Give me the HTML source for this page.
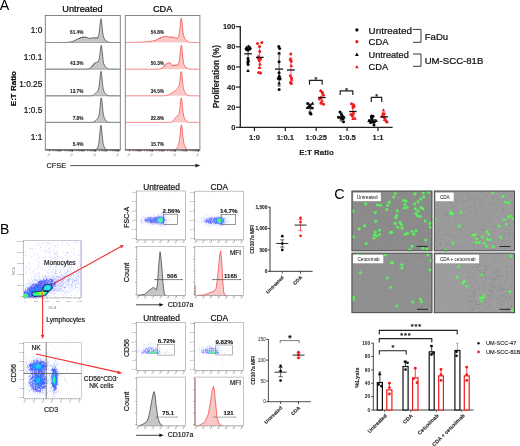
<!DOCTYPE html>
<html><head><meta charset="utf-8"><style>
html,body{margin:0;padding:0;background:#fff;}
svg{display:block;font-family:"Liberation Sans",Arial,sans-serif;}
</style></head><body>
<svg width="520" height="446" viewBox="0 0 520 446">
<rect width="520" height="446" fill="#fff"/>
<text x="-0.2" y="9.5" font-size="14.2">A</text>
<text x="82.5" y="11.6" font-size="9.2" text-anchor="middle" stroke="#000" stroke-width="0.22">Untreated</text>
<text x="162.6" y="11.6" font-size="9.2" text-anchor="middle" stroke="#000" stroke-width="0.22">CDA</text>
<text x="42.3" y="33.05" font-size="8.3" text-anchor="end" fill="#111" stroke="#111" stroke-width="0.20">1:0</text>
<text x="42.3" y="59.95" font-size="8.3" text-anchor="end" fill="#111" stroke="#111" stroke-width="0.20">1:0.1</text>
<text x="42.3" y="86.6" font-size="8.3" text-anchor="end" fill="#111" stroke="#111" stroke-width="0.20">1:0.25</text>
<text x="42.3" y="113.2" font-size="8.3" text-anchor="end" fill="#111" stroke="#111" stroke-width="0.20">1:0.5</text>
<text x="42.3" y="140.25" font-size="8.3" text-anchor="end" fill="#111" stroke="#111" stroke-width="0.20">1:1</text>
<text x="15.6" y="88.6" font-size="8" font-weight="bold" text-anchor="middle" stroke="#000" stroke-width="0.14" transform="rotate(-90 15.6 88.6)">E:T Ratio</text>
<path d="M46 42.5L46 42.5L46.25 42.5L46.5 42.5L46.75 42.5L47 42.5L47.25 42.5L47.5 42.5L47.75 42.5L48 42.5L48.25 42.5L48.5 42.5L48.75 42.5L49 42.5L49.25 42.5L49.5 42.5L49.75 42.5L50 42.5L50.25 42.5L50.5 42.5L50.75 42.5L51 42.5L51.25 42.5L51.5 42.5L51.75 42.5L52 42.5L52.25 42.5L52.5 42.5L52.75 42.5L53 42.5L53.25 42.5L53.5 42.5L53.75 42.5L54 42.5L54.25 42.5L54.5 42.5L54.75 42.5L55 42.5L55.25 42.5L55.5 42.5L55.75 42.5L56 42.5L56.25 42.5L56.5 42.5L56.75 42.5L57 42.5L57.25 42.5L57.5 42.5L57.75 42.5L58 42.5L58.25 42.5L58.5 42.5L58.75 42.5L59 42.5L59.25 42.5L59.5 42.5L59.75 42.49L60 42.49L60.25 42.49L60.5 42.49L60.75 42.49L61 42.49L61.25 42.49L61.5 42.49L61.75 42.48L62 42.48L62.25 42.48L62.5 42.48L62.75 42.47L63 42.47L63.25 42.47L63.5 42.46L63.75 42.46L64 42.45L64.25 42.45L64.5 42.44L64.75 42.43L65 42.42L65.25 42.42L65.5 42.41L65.75 42.4L66 42.38L66.25 42.37L66.5 42.36L66.75 42.34L67 42.32L67.25 42.3L67.5 42.28L67.75 42.26L68 42.24L68.25 42.21L68.5 42.19L68.75 42.16L69 42.12L69.25 42.09L69.5 42.05L69.75 42.01L70 41.97L70.25 41.92L70.5 41.88L70.75 41.82L71 41.77L71.25 41.71L71.5 41.55L71.75 41.51L72 41.54L72.25 41.53L72.5 41.37L72.75 41.33L73 41.09L73.25 41.21L73.5 41.05L73.75 40.9L74 40.62L74.25 40.74L74.5 40.78L74.75 40.37L75 40.35L75.25 40.5L75.5 39.89L75.75 39.7L76 39.71L76.25 39.49L76.5 39.9L76.75 39.38L77 39.08L77.25 39.17L77.5 39.25L77.75 39.5L78 39.04L78.25 38.74L78.5 38.31L78.75 38.14L79 38.51L79.25 38L79.5 38.49L79.75 37.83L80 37.98L80.25 38.41L80.5 37.61L80.75 37.84L81 37.32L81.25 37.39L81.5 37.98L81.75 37.42L82 36.98L82.25 37.55L82.5 37.42L82.75 36.83L83 37.47L83.25 37.07L83.5 37.38L83.75 36.64L84 36.8L84.25 37.16L84.5 37.53L84.75 37.31L85 37.15L85.25 36.76L85.5 37.63L85.75 37.23L86 37.13L86.25 37.35L86.5 37.15L86.75 37.5L87 37.15L87.25 37.59L87.5 37.68L87.75 37.9L88 37.83L88.25 38.12L88.5 38.01L88.75 38.36L89 38.53L89.25 38.59L89.5 38.21L89.75 38.2L90 38.4L90.25 38.8L90.5 38.13L90.75 38L91 37.93L91.25 37.97L91.5 37.86L91.75 37.78L92 38.1L92.25 38.19L92.5 37.81L92.75 38.18L93 37.59L93.25 37.51L93.5 37.44L93.75 37.73L94 37.37L94.25 37.76L94.5 37.92L94.75 37.76L95 37.48L95.25 37.62L95.5 37.8L95.75 38.56L96 38.06L96.25 38.2L96.5 38.03L96.75 37.75L97 38.24L97.25 37.59L97.5 37.97L97.75 37.56L98 36.59L98.25 36.52L98.5 35.33L98.75 35.11L99 33.82L99.25 31.67L99.5 30.33L99.75 27.49L100 24.67L100.25 22.63L100.5 20.45L100.75 19.74L101 18.68L101.25 19.25L101.5 20.72L101.75 23.03L102 25.56L102.25 27.53L102.5 30.88L102.75 32.99L103 33.76L103.25 35.89L103.5 37L103.75 37.72L104 37.78L104.25 38.16L104.5 39.5L104.75 39.47L105 40.07L105.25 40.18L105.5 40.43L105.75 40.34L106 40.74L106.25 41.02L106.5 41.03L106.75 41.41L107 41.54L107.25 41.41L107.5 41.72L107.75 41.87L108 42L108.25 42.11L108.5 42.2L108.75 42.28L109 42.34L109.25 42.39L109.5 42.42L109.75 42.45L110 42.47L110.25 42.48L110.5 42.49L110.75 42.49L111 42.49L111.25 42.5L111.5 42.5L111.75 42.5L112 42.5L112.25 42.5L112.5 42.5L112.75 42.5L113 42.5L113.25 42.5L113.5 42.5L113.75 42.5L114 42.5L114.25 42.5L114.5 42.5L114.75 42.5L115 42.5L115.25 42.5L115.5 42.5L115.75 42.5L116 42.5L116.25 42.5L116.5 42.5L116.75 42.5L117 42.5L117.25 42.5L117.5 42.5L117.75 42.5L118 42.5L118.25 42.5L118.5 42.5L118.75 42.5L119 42.5L119.25 42.5L119.5 42.5L119.5 42.5Z" fill="#c6c6c6"/>
<path d="M46 42.5L46.25 42.5L46.5 42.5L46.75 42.5L47 42.5L47.25 42.5L47.5 42.5L47.75 42.5L48 42.5L48.25 42.5L48.5 42.5L48.75 42.5L49 42.5L49.25 42.5L49.5 42.5L49.75 42.5L50 42.5L50.25 42.5L50.5 42.5L50.75 42.5L51 42.5L51.25 42.5L51.5 42.5L51.75 42.5L52 42.5L52.25 42.5L52.5 42.5L52.75 42.5L53 42.5L53.25 42.5L53.5 42.5L53.75 42.5L54 42.5L54.25 42.5L54.5 42.5L54.75 42.5L55 42.5L55.25 42.5L55.5 42.5L55.75 42.5L56 42.5L56.25 42.5L56.5 42.5L56.75 42.5L57 42.5L57.25 42.5L57.5 42.5L57.75 42.5L58 42.5L58.25 42.5L58.5 42.5L58.75 42.5L59 42.5L59.25 42.5L59.5 42.5L59.75 42.49L60 42.49L60.25 42.49L60.5 42.49L60.75 42.49L61 42.49L61.25 42.49L61.5 42.49L61.75 42.48L62 42.48L62.25 42.48L62.5 42.48L62.75 42.47L63 42.47L63.25 42.47L63.5 42.46L63.75 42.46L64 42.45L64.25 42.45L64.5 42.44L64.75 42.43L65 42.42L65.25 42.42L65.5 42.41L65.75 42.4L66 42.38L66.25 42.37L66.5 42.36L66.75 42.34L67 42.32L67.25 42.3L67.5 42.28L67.75 42.26L68 42.24L68.25 42.21L68.5 42.19L68.75 42.16L69 42.12L69.25 42.09L69.5 42.05L69.75 42.01L70 41.97L70.25 41.92L70.5 41.88L70.75 41.82L71 41.77L71.25 41.71L71.5 41.55L71.75 41.51L72 41.54L72.25 41.53L72.5 41.37L72.75 41.33L73 41.09L73.25 41.21L73.5 41.05L73.75 40.9L74 40.62L74.25 40.74L74.5 40.78L74.75 40.37L75 40.35L75.25 40.5L75.5 39.89L75.75 39.7L76 39.71L76.25 39.49L76.5 39.9L76.75 39.38L77 39.08L77.25 39.17L77.5 39.25L77.75 39.5L78 39.04L78.25 38.74L78.5 38.31L78.75 38.14L79 38.51L79.25 38L79.5 38.49L79.75 37.83L80 37.98L80.25 38.41L80.5 37.61L80.75 37.84L81 37.32L81.25 37.39L81.5 37.98L81.75 37.42L82 36.98L82.25 37.55L82.5 37.42L82.75 36.83L83 37.47L83.25 37.07L83.5 37.38L83.75 36.64L84 36.8L84.25 37.16L84.5 37.53L84.75 37.31L85 37.15L85.25 36.76L85.5 37.63L85.75 37.23L86 37.13L86.25 37.35L86.5 37.15L86.75 37.5L87 37.15L87.25 37.59L87.5 37.68L87.75 37.9L88 37.83L88.25 38.12L88.5 38.01L88.75 38.36L89 38.53L89.25 38.59L89.5 38.21L89.75 38.2L90 38.4L90.25 38.8L90.5 38.13L90.75 38L91 37.93L91.25 37.97L91.5 37.86L91.75 37.78L92 38.1L92.25 38.19L92.5 37.81L92.75 38.18L93 37.59L93.25 37.51L93.5 37.44L93.75 37.73L94 37.37L94.25 37.76L94.5 37.92L94.75 37.76L95 37.48L95.25 37.62L95.5 37.8L95.75 38.56L96 38.06L96.25 38.2L96.5 38.03L96.75 37.75L97 38.24L97.25 37.59L97.5 37.97L97.75 37.56L98 36.59L98.25 36.52L98.5 35.33L98.75 35.11L99 33.82L99.25 31.67L99.5 30.33L99.75 27.49L100 24.67L100.25 22.63L100.5 20.45L100.75 19.74L101 18.68L101.25 19.25L101.5 20.72L101.75 23.03L102 25.56L102.25 27.53L102.5 30.88L102.75 32.99L103 33.76L103.25 35.89L103.5 37L103.75 37.72L104 37.78L104.25 38.16L104.5 39.5L104.75 39.47L105 40.07L105.25 40.18L105.5 40.43L105.75 40.34L106 40.74L106.25 41.02L106.5 41.03L106.75 41.41L107 41.54L107.25 41.41L107.5 41.72L107.75 41.87L108 42L108.25 42.11L108.5 42.2L108.75 42.28L109 42.34L109.25 42.39L109.5 42.42L109.75 42.45L110 42.47L110.25 42.48L110.5 42.49L110.75 42.49L111 42.49L111.25 42.5L111.5 42.5L111.75 42.5L112 42.5L112.25 42.5L112.5 42.5L112.75 42.5L113 42.5L113.25 42.5L113.5 42.5L113.75 42.5L114 42.5L114.25 42.5L114.5 42.5L114.75 42.5L115 42.5L115.25 42.5L115.5 42.5L115.75 42.5L116 42.5L116.25 42.5L116.5 42.5L116.75 42.5L117 42.5L117.25 42.5L117.5 42.5L117.75 42.5L118 42.5L118.25 42.5L118.5 42.5L118.75 42.5L119 42.5L119.25 42.5L119.5 42.5" fill="none" stroke="#222" stroke-width="0.6"/>
<path d="M125.8 42.5L125.8 42.5L126.05 42.49L126.3 42.49L126.55 42.49L126.8 42.49L127.05 42.49L127.3 42.49L127.55 42.49L127.8 42.49L128.05 42.49L128.3 42.49L128.55 42.49L128.8 42.49L129.05 42.48L129.3 42.48L129.55 42.48L129.8 42.48L130.05 42.48L130.3 42.47L130.55 42.47L130.8 42.47L131.05 42.47L131.3 42.46L131.55 42.46L131.8 42.46L132.05 42.46L132.3 42.45L132.55 42.45L132.8 42.44L133.05 42.44L133.3 42.43L133.55 42.43L133.8 42.42L134.05 42.42L134.3 42.41L134.55 42.41L134.8 42.4L135.05 42.39L135.3 42.39L135.55 42.38L135.8 42.37L136.05 42.36L136.3 42.35L136.55 42.35L136.8 42.34L137.05 42.33L137.3 42.32L137.55 42.3L137.8 42.29L138.05 42.28L138.3 42.27L138.55 42.26L138.8 42.24L139.05 42.23L139.3 42.22L139.55 42.2L139.8 42.19L140.05 42.17L140.3 42.16L140.55 42.14L140.8 42.12L141.05 42.11L141.3 42.09L141.55 42.07L141.8 42.06L142.05 42.04L142.3 42.02L142.55 42L142.8 41.98L143.05 41.96L143.3 41.94L143.55 41.92L143.8 41.91L144.05 41.89L144.3 41.87L144.55 41.85L144.8 41.83L145.05 41.81L145.3 41.79L145.55 41.77L145.8 41.75L146.05 41.73L146.3 41.71L146.55 41.67L146.8 41.69L147.05 41.62L147.3 41.71L147.55 41.51L147.8 41.49L148.05 41.52L148.3 41.65L148.55 41.52L148.8 41.56L149.05 41.56L149.3 41.3L149.55 41.26L149.8 41.58L150.05 41.25L150.3 41.32L150.55 41.38L150.8 41.39L151.05 41.2L151.3 41.26L151.55 41.13L151.8 41.1L152.05 41.3L152.3 40.97L152.55 40.82L152.8 40.78L153.05 40.9L153.3 41.15L153.55 41.13L153.8 41L154.05 40.47L154.3 40.79L154.55 40.68L154.8 40.26L155.05 40.57L155.3 40.32L155.55 40.32L155.8 40.51L156.05 40.01L156.3 39.68L156.55 40.17L156.8 40.01L157.05 39.72L157.3 39.98L157.55 39.4L157.8 38.95L158.05 38.98L158.3 38.97L158.55 38.51L158.8 39.08L159.05 38.52L159.3 38.58L159.55 38.21L159.8 38.56L160.05 37.75L160.3 38.29L160.55 38.09L160.8 37.31L161.05 37.04L161.3 37.43L161.55 37.33L161.8 37.38L162.05 37.25L162.3 36.8L162.55 37.15L162.8 37.12L163.05 36.71L163.3 36.93L163.55 36.39L163.8 36.17L164.05 36.17L164.3 36.44L164.55 36.55L164.8 36.46L165.05 36.89L165.3 36.19L165.55 36.59L165.8 36.63L166.05 36.9L166.3 36.58L166.55 36.49L166.8 36.73L167.05 36.3L167.3 36.55L167.55 37.04L167.8 36.81L168.05 36.48L168.3 36.92L168.55 36.88L168.8 37.46L169.05 37.06L169.3 37.11L169.55 37.19L169.8 37.18L170.05 37.02L170.3 37.06L170.55 37.1L170.8 37.41L171.05 37.11L171.3 36.57L171.55 37.1L171.8 37.46L172.05 37.49L172.3 36.95L172.55 37.44L172.8 37.42L173.05 37.43L173.3 37.13L173.55 36.66L173.8 37.24L174.05 37.36L174.3 37.48L174.55 37.53L174.8 37.71L175.05 37.55L175.3 37.5L175.55 37.81L175.8 38.19L176.05 38.04L176.3 37.83L176.55 38.6L176.8 38.49L177.05 38.03L177.3 37.83L177.55 37.69L177.8 37.48L178.05 36.91L178.3 36.82L178.55 35.93L178.8 35.04L179.05 34.58L179.3 32.87L179.55 31.36L179.8 29.15L180.05 27.62L180.3 24.2L180.55 21.87L180.8 19.58L181.05 18.16L181.3 18.38L181.55 18.52L181.8 20.5L182.05 22.19L182.3 24.4L182.55 27.73L182.8 29.99L183.05 32.36L183.3 33.96L183.55 35.3L183.8 36.47L184.05 36.39L184.3 37.16L184.55 38.13L184.8 38.32L185.05 38.77L185.3 39.31L185.55 39.72L185.8 39.8L186.05 40.16L186.3 40.6L186.55 40.74L186.8 40.79L187.05 40.99L187.3 41.34L187.55 41.34L187.8 41.41L188.05 41.56L188.3 41.79L188.55 41.9L188.8 42L189.05 42.09L189.3 42.17L189.55 42.24L189.8 42.29L190.05 42.34L190.3 42.38L190.55 42.41L190.8 42.43L191.05 42.45L191.3 42.46L191.55 42.47L191.8 42.48L192.05 42.49L192.3 42.49L192.55 42.49L192.8 42.5L193.05 42.5L193.3 42.5L193.55 42.5L193.8 42.5L194.05 42.5L194.3 42.5L194.55 42.5L194.8 42.5L195.05 42.5L195.3 42.5L195.55 42.5L195.8 42.5L196.05 42.5L196.3 42.5L196.55 42.5L196.8 42.5L197.05 42.5L197.3 42.5L197.55 42.5L197.8 42.5L198.05 42.5L198.3 42.5L198.55 42.5L198.8 42.5L199.05 42.5L199.3 42.5L199.3 42.5Z" fill="#fbc8c8"/>
<path d="M125.8 42.5L126.05 42.49L126.3 42.49L126.55 42.49L126.8 42.49L127.05 42.49L127.3 42.49L127.55 42.49L127.8 42.49L128.05 42.49L128.3 42.49L128.55 42.49L128.8 42.49L129.05 42.48L129.3 42.48L129.55 42.48L129.8 42.48L130.05 42.48L130.3 42.47L130.55 42.47L130.8 42.47L131.05 42.47L131.3 42.46L131.55 42.46L131.8 42.46L132.05 42.46L132.3 42.45L132.55 42.45L132.8 42.44L133.05 42.44L133.3 42.43L133.55 42.43L133.8 42.42L134.05 42.42L134.3 42.41L134.55 42.41L134.8 42.4L135.05 42.39L135.3 42.39L135.55 42.38L135.8 42.37L136.05 42.36L136.3 42.35L136.55 42.35L136.8 42.34L137.05 42.33L137.3 42.32L137.55 42.3L137.8 42.29L138.05 42.28L138.3 42.27L138.55 42.26L138.8 42.24L139.05 42.23L139.3 42.22L139.55 42.2L139.8 42.19L140.05 42.17L140.3 42.16L140.55 42.14L140.8 42.12L141.05 42.11L141.3 42.09L141.55 42.07L141.8 42.06L142.05 42.04L142.3 42.02L142.55 42L142.8 41.98L143.05 41.96L143.3 41.94L143.55 41.92L143.8 41.91L144.05 41.89L144.3 41.87L144.55 41.85L144.8 41.83L145.05 41.81L145.3 41.79L145.55 41.77L145.8 41.75L146.05 41.73L146.3 41.71L146.55 41.67L146.8 41.69L147.05 41.62L147.3 41.71L147.55 41.51L147.8 41.49L148.05 41.52L148.3 41.65L148.55 41.52L148.8 41.56L149.05 41.56L149.3 41.3L149.55 41.26L149.8 41.58L150.05 41.25L150.3 41.32L150.55 41.38L150.8 41.39L151.05 41.2L151.3 41.26L151.55 41.13L151.8 41.1L152.05 41.3L152.3 40.97L152.55 40.82L152.8 40.78L153.05 40.9L153.3 41.15L153.55 41.13L153.8 41L154.05 40.47L154.3 40.79L154.55 40.68L154.8 40.26L155.05 40.57L155.3 40.32L155.55 40.32L155.8 40.51L156.05 40.01L156.3 39.68L156.55 40.17L156.8 40.01L157.05 39.72L157.3 39.98L157.55 39.4L157.8 38.95L158.05 38.98L158.3 38.97L158.55 38.51L158.8 39.08L159.05 38.52L159.3 38.58L159.55 38.21L159.8 38.56L160.05 37.75L160.3 38.29L160.55 38.09L160.8 37.31L161.05 37.04L161.3 37.43L161.55 37.33L161.8 37.38L162.05 37.25L162.3 36.8L162.55 37.15L162.8 37.12L163.05 36.71L163.3 36.93L163.55 36.39L163.8 36.17L164.05 36.17L164.3 36.44L164.55 36.55L164.8 36.46L165.05 36.89L165.3 36.19L165.55 36.59L165.8 36.63L166.05 36.9L166.3 36.58L166.55 36.49L166.8 36.73L167.05 36.3L167.3 36.55L167.55 37.04L167.8 36.81L168.05 36.48L168.3 36.92L168.55 36.88L168.8 37.46L169.05 37.06L169.3 37.11L169.55 37.19L169.8 37.18L170.05 37.02L170.3 37.06L170.55 37.1L170.8 37.41L171.05 37.11L171.3 36.57L171.55 37.1L171.8 37.46L172.05 37.49L172.3 36.95L172.55 37.44L172.8 37.42L173.05 37.43L173.3 37.13L173.55 36.66L173.8 37.24L174.05 37.36L174.3 37.48L174.55 37.53L174.8 37.71L175.05 37.55L175.3 37.5L175.55 37.81L175.8 38.19L176.05 38.04L176.3 37.83L176.55 38.6L176.8 38.49L177.05 38.03L177.3 37.83L177.55 37.69L177.8 37.48L178.05 36.91L178.3 36.82L178.55 35.93L178.8 35.04L179.05 34.58L179.3 32.87L179.55 31.36L179.8 29.15L180.05 27.62L180.3 24.2L180.55 21.87L180.8 19.58L181.05 18.16L181.3 18.38L181.55 18.52L181.8 20.5L182.05 22.19L182.3 24.4L182.55 27.73L182.8 29.99L183.05 32.36L183.3 33.96L183.55 35.3L183.8 36.47L184.05 36.39L184.3 37.16L184.55 38.13L184.8 38.32L185.05 38.77L185.3 39.31L185.55 39.72L185.8 39.8L186.05 40.16L186.3 40.6L186.55 40.74L186.8 40.79L187.05 40.99L187.3 41.34L187.55 41.34L187.8 41.41L188.05 41.56L188.3 41.79L188.55 41.9L188.8 42L189.05 42.09L189.3 42.17L189.55 42.24L189.8 42.29L190.05 42.34L190.3 42.38L190.55 42.41L190.8 42.43L191.05 42.45L191.3 42.46L191.55 42.47L191.8 42.48L192.05 42.49L192.3 42.49L192.55 42.49L192.8 42.5L193.05 42.5L193.3 42.5L193.55 42.5L193.8 42.5L194.05 42.5L194.3 42.5L194.55 42.5L194.8 42.5L195.05 42.5L195.3 42.5L195.55 42.5L195.8 42.5L196.05 42.5L196.3 42.5L196.55 42.5L196.8 42.5L197.05 42.5L197.3 42.5L197.55 42.5L197.8 42.5L198.05 42.5L198.3 42.5L198.55 42.5L198.8 42.5L199.05 42.5L199.3 42.5" fill="none" stroke="#f43c3c" stroke-width="0.7"/>
<text x="83.4" y="34.4" font-size="4.7" font-weight="bold" text-anchor="end" fill="#1a1a1a" stroke="#1a1a1a" stroke-width="0.08">61.4%</text>
<text x="164" y="34.4" font-size="4.7" font-weight="bold" text-anchor="end" fill="#1a1a1a" stroke="#1a1a1a" stroke-width="0.08">54.8%</text>
<path d="M46 69.2L46 69.2L46.25 69.2L46.5 69.2L46.75 69.2L47 69.2L47.25 69.2L47.5 69.2L47.75 69.2L48 69.2L48.25 69.2L48.5 69.2L48.75 69.2L49 69.2L49.25 69.2L49.5 69.2L49.75 69.2L50 69.2L50.25 69.2L50.5 69.2L50.75 69.2L51 69.2L51.25 69.2L51.5 69.2L51.75 69.2L52 69.2L52.25 69.2L52.5 69.2L52.75 69.2L53 69.2L53.25 69.2L53.5 69.2L53.75 69.2L54 69.2L54.25 69.2L54.5 69.2L54.75 69.2L55 69.2L55.25 69.2L55.5 69.2L55.75 69.2L56 69.2L56.25 69.2L56.5 69.2L56.75 69.2L57 69.2L57.25 69.2L57.5 69.2L57.75 69.2L58 69.2L58.25 69.2L58.5 69.2L58.75 69.2L59 69.2L59.25 69.2L59.5 69.2L59.75 69.2L60 69.2L60.25 69.2L60.5 69.2L60.75 69.2L61 69.2L61.25 69.2L61.5 69.2L61.75 69.2L62 69.2L62.25 69.2L62.5 69.2L62.75 69.2L63 69.2L63.25 69.2L63.5 69.2L63.75 69.2L64 69.2L64.25 69.2L64.5 69.2L64.75 69.2L65 69.2L65.25 69.2L65.5 69.2L65.75 69.2L66 69.2L66.25 69.2L66.5 69.2L66.75 69.2L67 69.2L67.25 69.2L67.5 69.2L67.75 69.2L68 69.2L68.25 69.2L68.5 69.2L68.75 69.2L69 69.2L69.25 69.2L69.5 69.2L69.75 69.2L70 69.2L70.25 69.2L70.5 69.2L70.75 69.2L71 69.2L71.25 69.2L71.5 69.2L71.75 69.2L72 69.2L72.25 69.2L72.5 69.2L72.75 69.2L73 69.2L73.25 69.2L73.5 69.2L73.75 69.2L74 69.2L74.25 69.2L74.5 69.2L74.75 69.2L75 69.2L75.25 69.2L75.5 69.2L75.75 69.2L76 69.2L76.25 69.2L76.5 69.2L76.75 69.2L77 69.2L77.25 69.2L77.5 69.2L77.75 69.2L78 69.2L78.25 69.2L78.5 69.2L78.75 69.2L79 69.2L79.25 69.2L79.5 69.2L79.75 69.2L80 69.2L80.25 69.2L80.5 69.2L80.75 69.2L81 69.2L81.25 69.2L81.5 69.2L81.75 69.2L82 69.2L82.25 69.2L82.5 69.2L82.75 69.2L83 69.2L83.25 69.2L83.5 69.2L83.75 69.2L84 69.19L84.25 69.19L84.5 69.19L84.75 69.19L85 69.18L85.25 69.18L85.5 69.17L85.75 69.16L86 69.15L86.25 69.14L86.5 69.12L86.75 69.1L87 69.08L87.25 69.05L87.5 69.01L87.75 68.97L88 68.92L88.25 68.86L88.5 68.8L88.75 68.72L89 68.62L89.25 68.52L89.5 68.5L89.75 68.16L90 68.02L90.25 68.05L90.5 67.76L90.75 67.59L91 67.25L91.25 66.9L91.5 67.17L91.75 67L92 65.99L92.25 66.09L92.5 65.47L92.75 65.93L93 65.19L93.25 64.61L93.5 64.81L93.75 63.81L94 63.58L94.25 64.2L94.5 63.96L94.75 63.23L95 62.63L95.25 63L95.5 63.01L95.75 62.66L96 62.93L96.25 62.62L96.5 62.29L96.75 62.12L97 62.27L97.25 62.14L97.5 62L97.75 61.59L98 61.54L98.25 61.53L98.5 60.34L98.75 60.11L99 59.31L99.25 58.79L99.5 56.68L99.75 55.14L100 53.88L100.25 51.46L100.5 48.89L100.75 47.01L101 45.49L101.25 45.55L101.5 45.63L101.75 47.17L102 49.62L102.25 51.84L102.5 54.16L102.75 56.67L103 59.17L103.25 60.88L103.5 62.85L103.75 63.74L104 64.03L104.25 65.08L104.5 65.84L104.75 65.89L105 66.1L105.25 66.45L105.5 66.96L105.75 67.15L106 67.32L106.25 67.38L106.5 67.72L106.75 67.96L107 68.1L107.25 68.42L107.5 68.43L107.75 68.58L108 68.7L108.25 68.82L108.5 68.91L108.75 68.99L109 69.05L109.25 69.09L109.5 69.13L109.75 69.15L110 69.17L110.25 69.18L110.5 69.19L110.75 69.19L111 69.2L111.25 69.2L111.5 69.2L111.75 69.2L112 69.2L112.25 69.2L112.5 69.2L112.75 69.2L113 69.2L113.25 69.2L113.5 69.2L113.75 69.2L114 69.2L114.25 69.2L114.5 69.2L114.75 69.2L115 69.2L115.25 69.2L115.5 69.2L115.75 69.2L116 69.2L116.25 69.2L116.5 69.2L116.75 69.2L117 69.2L117.25 69.2L117.5 69.2L117.75 69.2L118 69.2L118.25 69.2L118.5 69.2L118.75 69.2L119 69.2L119.25 69.2L119.5 69.2L119.5 69.2Z" fill="#c6c6c6"/>
<path d="M46 69.2L46.25 69.2L46.5 69.2L46.75 69.2L47 69.2L47.25 69.2L47.5 69.2L47.75 69.2L48 69.2L48.25 69.2L48.5 69.2L48.75 69.2L49 69.2L49.25 69.2L49.5 69.2L49.75 69.2L50 69.2L50.25 69.2L50.5 69.2L50.75 69.2L51 69.2L51.25 69.2L51.5 69.2L51.75 69.2L52 69.2L52.25 69.2L52.5 69.2L52.75 69.2L53 69.2L53.25 69.2L53.5 69.2L53.75 69.2L54 69.2L54.25 69.2L54.5 69.2L54.75 69.2L55 69.2L55.25 69.2L55.5 69.2L55.75 69.2L56 69.2L56.25 69.2L56.5 69.2L56.75 69.2L57 69.2L57.25 69.2L57.5 69.2L57.75 69.2L58 69.2L58.25 69.2L58.5 69.2L58.75 69.2L59 69.2L59.25 69.2L59.5 69.2L59.75 69.2L60 69.2L60.25 69.2L60.5 69.2L60.75 69.2L61 69.2L61.25 69.2L61.5 69.2L61.75 69.2L62 69.2L62.25 69.2L62.5 69.2L62.75 69.2L63 69.2L63.25 69.2L63.5 69.2L63.75 69.2L64 69.2L64.25 69.2L64.5 69.2L64.75 69.2L65 69.2L65.25 69.2L65.5 69.2L65.75 69.2L66 69.2L66.25 69.2L66.5 69.2L66.75 69.2L67 69.2L67.25 69.2L67.5 69.2L67.75 69.2L68 69.2L68.25 69.2L68.5 69.2L68.75 69.2L69 69.2L69.25 69.2L69.5 69.2L69.75 69.2L70 69.2L70.25 69.2L70.5 69.2L70.75 69.2L71 69.2L71.25 69.2L71.5 69.2L71.75 69.2L72 69.2L72.25 69.2L72.5 69.2L72.75 69.2L73 69.2L73.25 69.2L73.5 69.2L73.75 69.2L74 69.2L74.25 69.2L74.5 69.2L74.75 69.2L75 69.2L75.25 69.2L75.5 69.2L75.75 69.2L76 69.2L76.25 69.2L76.5 69.2L76.75 69.2L77 69.2L77.25 69.2L77.5 69.2L77.75 69.2L78 69.2L78.25 69.2L78.5 69.2L78.75 69.2L79 69.2L79.25 69.2L79.5 69.2L79.75 69.2L80 69.2L80.25 69.2L80.5 69.2L80.75 69.2L81 69.2L81.25 69.2L81.5 69.2L81.75 69.2L82 69.2L82.25 69.2L82.5 69.2L82.75 69.2L83 69.2L83.25 69.2L83.5 69.2L83.75 69.2L84 69.19L84.25 69.19L84.5 69.19L84.75 69.19L85 69.18L85.25 69.18L85.5 69.17L85.75 69.16L86 69.15L86.25 69.14L86.5 69.12L86.75 69.1L87 69.08L87.25 69.05L87.5 69.01L87.75 68.97L88 68.92L88.25 68.86L88.5 68.8L88.75 68.72L89 68.62L89.25 68.52L89.5 68.5L89.75 68.16L90 68.02L90.25 68.05L90.5 67.76L90.75 67.59L91 67.25L91.25 66.9L91.5 67.17L91.75 67L92 65.99L92.25 66.09L92.5 65.47L92.75 65.93L93 65.19L93.25 64.61L93.5 64.81L93.75 63.81L94 63.58L94.25 64.2L94.5 63.96L94.75 63.23L95 62.63L95.25 63L95.5 63.01L95.75 62.66L96 62.93L96.25 62.62L96.5 62.29L96.75 62.12L97 62.27L97.25 62.14L97.5 62L97.75 61.59L98 61.54L98.25 61.53L98.5 60.34L98.75 60.11L99 59.31L99.25 58.79L99.5 56.68L99.75 55.14L100 53.88L100.25 51.46L100.5 48.89L100.75 47.01L101 45.49L101.25 45.55L101.5 45.63L101.75 47.17L102 49.62L102.25 51.84L102.5 54.16L102.75 56.67L103 59.17L103.25 60.88L103.5 62.85L103.75 63.74L104 64.03L104.25 65.08L104.5 65.84L104.75 65.89L105 66.1L105.25 66.45L105.5 66.96L105.75 67.15L106 67.32L106.25 67.38L106.5 67.72L106.75 67.96L107 68.1L107.25 68.42L107.5 68.43L107.75 68.58L108 68.7L108.25 68.82L108.5 68.91L108.75 68.99L109 69.05L109.25 69.09L109.5 69.13L109.75 69.15L110 69.17L110.25 69.18L110.5 69.19L110.75 69.19L111 69.2L111.25 69.2L111.5 69.2L111.75 69.2L112 69.2L112.25 69.2L112.5 69.2L112.75 69.2L113 69.2L113.25 69.2L113.5 69.2L113.75 69.2L114 69.2L114.25 69.2L114.5 69.2L114.75 69.2L115 69.2L115.25 69.2L115.5 69.2L115.75 69.2L116 69.2L116.25 69.2L116.5 69.2L116.75 69.2L117 69.2L117.25 69.2L117.5 69.2L117.75 69.2L118 69.2L118.25 69.2L118.5 69.2L118.75 69.2L119 69.2L119.25 69.2L119.5 69.2" fill="none" stroke="#222" stroke-width="0.6"/>
<path d="M125.8 69.2L125.8 69.2L126.05 69.2L126.3 69.2L126.55 69.2L126.8 69.2L127.05 69.2L127.3 69.2L127.55 69.2L127.8 69.2L128.05 69.2L128.3 69.2L128.55 69.2L128.8 69.2L129.05 69.2L129.3 69.2L129.55 69.2L129.8 69.2L130.05 69.2L130.3 69.2L130.55 69.2L130.8 69.2L131.05 69.2L131.3 69.2L131.55 69.2L131.8 69.2L132.05 69.2L132.3 69.2L132.55 69.2L132.8 69.2L133.05 69.2L133.3 69.2L133.55 69.2L133.8 69.2L134.05 69.2L134.3 69.2L134.55 69.2L134.8 69.2L135.05 69.2L135.3 69.2L135.55 69.2L135.8 69.2L136.05 69.2L136.3 69.2L136.55 69.2L136.8 69.2L137.05 69.2L137.3 69.2L137.55 69.2L137.8 69.2L138.05 69.2L138.3 69.2L138.55 69.2L138.8 69.2L139.05 69.2L139.3 69.2L139.55 69.2L139.8 69.2L140.05 69.2L140.3 69.2L140.55 69.2L140.8 69.2L141.05 69.2L141.3 69.2L141.55 69.2L141.8 69.2L142.05 69.2L142.3 69.2L142.55 69.2L142.8 69.2L143.05 69.2L143.3 69.2L143.55 69.2L143.8 69.2L144.05 69.2L144.3 69.2L144.55 69.2L144.8 69.2L145.05 69.2L145.3 69.2L145.55 69.2L145.8 69.2L146.05 69.2L146.3 69.2L146.55 69.2L146.8 69.2L147.05 69.2L147.3 69.2L147.55 69.2L147.8 69.2L148.05 69.2L148.3 69.2L148.55 69.2L148.8 69.2L149.05 69.2L149.3 69.2L149.55 69.2L149.8 69.2L150.05 69.2L150.3 69.2L150.55 69.2L150.8 69.2L151.05 69.2L151.3 69.2L151.55 69.2L151.8 69.2L152.05 69.2L152.3 69.2L152.55 69.2L152.8 69.2L153.05 69.2L153.3 69.2L153.55 69.2L153.8 69.2L154.05 69.2L154.3 69.2L154.55 69.2L154.8 69.2L155.05 69.2L155.3 69.19L155.55 69.19L155.8 69.19L156.05 69.19L156.3 69.19L156.55 69.18L156.8 69.18L157.05 69.17L157.3 69.16L157.55 69.15L157.8 69.14L158.05 69.12L158.3 69.11L158.55 69.09L158.8 69.06L159.05 69.03L159.3 68.99L159.55 68.95L159.8 68.9L160.05 68.85L160.3 68.78L160.55 68.71L160.8 68.62L161.05 68.53L161.3 68.42L161.55 68.31L161.8 68.14L162.05 67.84L162.3 67.86L162.55 67.66L162.8 67.42L163.05 67.47L163.3 67.04L163.55 66.71L163.8 66.3L164.05 66.7L164.3 66.23L164.55 66.17L164.8 65.17L165.05 65.01L165.3 65.38L165.55 64.16L165.8 63.91L166.05 63.96L166.3 63.75L166.55 63.98L166.8 63.91L167.05 63.21L167.3 63.51L167.55 63.24L167.8 63.09L168.05 63.22L168.3 62.74L168.55 62.76L168.8 62.38L169.05 62.75L169.3 62.72L169.55 62.97L169.8 62.95L170.05 63.31L170.3 63.68L170.55 63.15L170.8 63.36L171.05 63.73L171.3 64.08L171.55 64.69L171.8 64.97L172.05 65.1L172.3 65.48L172.55 64.93L172.8 65.4L173.05 65.04L173.3 65.56L173.55 65.01L173.8 65.12L174.05 65.95L174.3 65.7L174.55 64.95L174.8 65.33L175.05 64.76L175.3 65.29L175.55 65.57L175.8 64.98L176.05 64.8L176.3 65.29L176.55 65.45L176.8 65.17L177.05 64.49L177.3 64.62L177.55 65.15L177.8 64.86L178.05 64.77L178.3 64.48L178.55 63.27L178.8 63.23L179.05 61.92L179.3 60.77L179.55 59.37L179.8 56.75L180.05 54.91L180.3 51.75L180.55 49.7L180.8 47.22L181.05 45.96L181.3 45.4L181.55 45.24L181.8 46.92L182.05 49.65L182.3 51.69L182.55 55.07L182.8 57.4L183.05 59.1L183.3 61.07L183.55 62.99L183.8 63.15L184.05 64.73L184.3 65.31L184.55 65.3L184.8 66.17L185.05 66.54L185.3 67.02L185.55 67.24L185.8 67.11L186.05 67.54L186.3 67.52L186.55 67.82L186.8 67.94L187.05 67.91L187.3 68.23L187.55 68.34L187.8 68.49L188.05 68.6L188.3 68.7L188.55 68.8L188.8 68.88L189.05 68.95L189.3 69L189.55 69.05L189.8 69.09L190.05 69.12L190.3 69.14L190.55 69.16L190.8 69.17L191.05 69.18L191.3 69.19L191.55 69.19L191.8 69.19L192.05 69.2L192.3 69.2L192.55 69.2L192.8 69.2L193.05 69.2L193.3 69.2L193.55 69.2L193.8 69.2L194.05 69.2L194.3 69.2L194.55 69.2L194.8 69.2L195.05 69.2L195.3 69.2L195.55 69.2L195.8 69.2L196.05 69.2L196.3 69.2L196.55 69.2L196.8 69.2L197.05 69.2L197.3 69.2L197.55 69.2L197.8 69.2L198.05 69.2L198.3 69.2L198.55 69.2L198.8 69.2L199.05 69.2L199.3 69.2L199.3 69.2Z" fill="#fbc8c8"/>
<path d="M125.8 69.2L126.05 69.2L126.3 69.2L126.55 69.2L126.8 69.2L127.05 69.2L127.3 69.2L127.55 69.2L127.8 69.2L128.05 69.2L128.3 69.2L128.55 69.2L128.8 69.2L129.05 69.2L129.3 69.2L129.55 69.2L129.8 69.2L130.05 69.2L130.3 69.2L130.55 69.2L130.8 69.2L131.05 69.2L131.3 69.2L131.55 69.2L131.8 69.2L132.05 69.2L132.3 69.2L132.55 69.2L132.8 69.2L133.05 69.2L133.3 69.2L133.55 69.2L133.8 69.2L134.05 69.2L134.3 69.2L134.55 69.2L134.8 69.2L135.05 69.2L135.3 69.2L135.55 69.2L135.8 69.2L136.05 69.2L136.3 69.2L136.55 69.2L136.8 69.2L137.05 69.2L137.3 69.2L137.55 69.2L137.8 69.2L138.05 69.2L138.3 69.2L138.55 69.2L138.8 69.2L139.05 69.2L139.3 69.2L139.55 69.2L139.8 69.2L140.05 69.2L140.3 69.2L140.55 69.2L140.8 69.2L141.05 69.2L141.3 69.2L141.55 69.2L141.8 69.2L142.05 69.2L142.3 69.2L142.55 69.2L142.8 69.2L143.05 69.2L143.3 69.2L143.55 69.2L143.8 69.2L144.05 69.2L144.3 69.2L144.55 69.2L144.8 69.2L145.05 69.2L145.3 69.2L145.55 69.2L145.8 69.2L146.05 69.2L146.3 69.2L146.55 69.2L146.8 69.2L147.05 69.2L147.3 69.2L147.55 69.2L147.8 69.2L148.05 69.2L148.3 69.2L148.55 69.2L148.8 69.2L149.05 69.2L149.3 69.2L149.55 69.2L149.8 69.2L150.05 69.2L150.3 69.2L150.55 69.2L150.8 69.2L151.05 69.2L151.3 69.2L151.55 69.2L151.8 69.2L152.05 69.2L152.3 69.2L152.55 69.2L152.8 69.2L153.05 69.2L153.3 69.2L153.55 69.2L153.8 69.2L154.05 69.2L154.3 69.2L154.55 69.2L154.8 69.2L155.05 69.2L155.3 69.19L155.55 69.19L155.8 69.19L156.05 69.19L156.3 69.19L156.55 69.18L156.8 69.18L157.05 69.17L157.3 69.16L157.55 69.15L157.8 69.14L158.05 69.12L158.3 69.11L158.55 69.09L158.8 69.06L159.05 69.03L159.3 68.99L159.55 68.95L159.8 68.9L160.05 68.85L160.3 68.78L160.55 68.71L160.8 68.62L161.05 68.53L161.3 68.42L161.55 68.31L161.8 68.14L162.05 67.84L162.3 67.86L162.55 67.66L162.8 67.42L163.05 67.47L163.3 67.04L163.55 66.71L163.8 66.3L164.05 66.7L164.3 66.23L164.55 66.17L164.8 65.17L165.05 65.01L165.3 65.38L165.55 64.16L165.8 63.91L166.05 63.96L166.3 63.75L166.55 63.98L166.8 63.91L167.05 63.21L167.3 63.51L167.55 63.24L167.8 63.09L168.05 63.22L168.3 62.74L168.55 62.76L168.8 62.38L169.05 62.75L169.3 62.72L169.55 62.97L169.8 62.95L170.05 63.31L170.3 63.68L170.55 63.15L170.8 63.36L171.05 63.73L171.3 64.08L171.55 64.69L171.8 64.97L172.05 65.1L172.3 65.48L172.55 64.93L172.8 65.4L173.05 65.04L173.3 65.56L173.55 65.01L173.8 65.12L174.05 65.95L174.3 65.7L174.55 64.95L174.8 65.33L175.05 64.76L175.3 65.29L175.55 65.57L175.8 64.98L176.05 64.8L176.3 65.29L176.55 65.45L176.8 65.17L177.05 64.49L177.3 64.62L177.55 65.15L177.8 64.86L178.05 64.77L178.3 64.48L178.55 63.27L178.8 63.23L179.05 61.92L179.3 60.77L179.55 59.37L179.8 56.75L180.05 54.91L180.3 51.75L180.55 49.7L180.8 47.22L181.05 45.96L181.3 45.4L181.55 45.24L181.8 46.92L182.05 49.65L182.3 51.69L182.55 55.07L182.8 57.4L183.05 59.1L183.3 61.07L183.55 62.99L183.8 63.15L184.05 64.73L184.3 65.31L184.55 65.3L184.8 66.17L185.05 66.54L185.3 67.02L185.55 67.24L185.8 67.11L186.05 67.54L186.3 67.52L186.55 67.82L186.8 67.94L187.05 67.91L187.3 68.23L187.55 68.34L187.8 68.49L188.05 68.6L188.3 68.7L188.55 68.8L188.8 68.88L189.05 68.95L189.3 69L189.55 69.05L189.8 69.09L190.05 69.12L190.3 69.14L190.55 69.16L190.8 69.17L191.05 69.18L191.3 69.19L191.55 69.19L191.8 69.19L192.05 69.2L192.3 69.2L192.55 69.2L192.8 69.2L193.05 69.2L193.3 69.2L193.55 69.2L193.8 69.2L194.05 69.2L194.3 69.2L194.55 69.2L194.8 69.2L195.05 69.2L195.3 69.2L195.55 69.2L195.8 69.2L196.05 69.2L196.3 69.2L196.55 69.2L196.8 69.2L197.05 69.2L197.3 69.2L197.55 69.2L197.8 69.2L198.05 69.2L198.3 69.2L198.55 69.2L198.8 69.2L199.05 69.2L199.3 69.2" fill="none" stroke="#f43c3c" stroke-width="0.7"/>
<text x="83.4" y="65.2" font-size="4.7" font-weight="bold" text-anchor="end" fill="#1a1a1a" stroke="#1a1a1a" stroke-width="0.08">43.3%</text>
<text x="164" y="65.2" font-size="4.7" font-weight="bold" text-anchor="end" fill="#1a1a1a" stroke="#1a1a1a" stroke-width="0.08">50.3%</text>
<path d="M46 95.8L46 95.8L46.25 95.8L46.5 95.8L46.75 95.8L47 95.8L47.25 95.8L47.5 95.8L47.75 95.8L48 95.8L48.25 95.8L48.5 95.8L48.75 95.8L49 95.8L49.25 95.8L49.5 95.8L49.75 95.8L50 95.8L50.25 95.8L50.5 95.8L50.75 95.8L51 95.8L51.25 95.8L51.5 95.8L51.75 95.8L52 95.8L52.25 95.8L52.5 95.8L52.75 95.8L53 95.8L53.25 95.8L53.5 95.8L53.75 95.8L54 95.8L54.25 95.8L54.5 95.8L54.75 95.8L55 95.8L55.25 95.8L55.5 95.8L55.75 95.8L56 95.8L56.25 95.8L56.5 95.8L56.75 95.8L57 95.8L57.25 95.8L57.5 95.8L57.75 95.8L58 95.8L58.25 95.8L58.5 95.8L58.75 95.8L59 95.8L59.25 95.8L59.5 95.8L59.75 95.8L60 95.8L60.25 95.8L60.5 95.8L60.75 95.8L61 95.8L61.25 95.8L61.5 95.8L61.75 95.8L62 95.8L62.25 95.8L62.5 95.8L62.75 95.8L63 95.8L63.25 95.8L63.5 95.8L63.75 95.8L64 95.8L64.25 95.8L64.5 95.8L64.75 95.8L65 95.8L65.25 95.8L65.5 95.8L65.75 95.8L66 95.8L66.25 95.8L66.5 95.8L66.75 95.8L67 95.8L67.25 95.8L67.5 95.8L67.75 95.8L68 95.8L68.25 95.8L68.5 95.8L68.75 95.8L69 95.8L69.25 95.8L69.5 95.8L69.75 95.8L70 95.8L70.25 95.8L70.5 95.8L70.75 95.8L71 95.8L71.25 95.8L71.5 95.8L71.75 95.8L72 95.8L72.25 95.8L72.5 95.8L72.75 95.8L73 95.8L73.25 95.8L73.5 95.8L73.75 95.8L74 95.8L74.25 95.8L74.5 95.8L74.75 95.8L75 95.8L75.25 95.8L75.5 95.8L75.75 95.8L76 95.8L76.25 95.8L76.5 95.8L76.75 95.8L77 95.8L77.25 95.8L77.5 95.8L77.75 95.8L78 95.8L78.25 95.8L78.5 95.8L78.75 95.8L79 95.8L79.25 95.8L79.5 95.8L79.75 95.8L80 95.8L80.25 95.8L80.5 95.8L80.75 95.8L81 95.8L81.25 95.8L81.5 95.8L81.75 95.8L82 95.8L82.25 95.8L82.5 95.8L82.75 95.8L83 95.8L83.25 95.8L83.5 95.8L83.75 95.8L84 95.8L84.25 95.8L84.5 95.8L84.75 95.8L85 95.8L85.25 95.8L85.5 95.8L85.75 95.8L86 95.8L86.25 95.8L86.5 95.8L86.75 95.8L87 95.8L87.25 95.8L87.5 95.8L87.75 95.8L88 95.8L88.25 95.8L88.5 95.8L88.75 95.8L89 95.8L89.25 95.8L89.5 95.79L89.75 95.79L90 95.79L90.25 95.78L90.5 95.77L90.75 95.76L91 95.74L91.25 95.72L91.5 95.69L91.75 95.65L92 95.6L92.25 95.54L92.5 95.46L92.75 95.36L93 95.25L93.25 95.11L93.5 94.96L93.75 94.79L94 94.6L94.25 94.39L94.5 94.17L94.75 93.94L95 93.7L95.25 93.45L95.5 93.21L95.75 92.96L96 92.71L96.25 92.46L96.5 92.21L96.75 91.96L97 91.69L97.25 91.4L97.5 91.08L97.75 90.71L98 90.27L98.25 89.71L98.5 88.99L98.75 88.02L99 86.73L99.25 85.06L99.5 82.97L99.75 80.53L100 77.9L100.25 75.33L100.5 73.16L100.75 71.71L101 71.22L101.25 71.77L101.5 73.28L101.75 75.52L102 78.16L102.25 80.86L102.5 83.38L102.75 85.56L103 87.33L103.25 88.72L103.5 89.79L103.75 90.63L104 91.3L104.25 91.85L104.5 92.32L104.75 92.74L105 93.11L105.25 93.45L105.5 93.75L105.75 94.03L106 94.28L106.25 94.5L106.5 94.71L106.75 94.89L107 95.05L107.25 95.19L107.5 95.31L107.75 95.41L108 95.49L108.25 95.57L108.5 95.62L108.75 95.67L109 95.7L109.25 95.73L109.5 95.75L109.75 95.77L110 95.78L110.25 95.78L110.5 95.79L110.75 95.79L111 95.8L111.25 95.8L111.5 95.8L111.75 95.8L112 95.8L112.25 95.8L112.5 95.8L112.75 95.8L113 95.8L113.25 95.8L113.5 95.8L113.75 95.8L114 95.8L114.25 95.8L114.5 95.8L114.75 95.8L115 95.8L115.25 95.8L115.5 95.8L115.75 95.8L116 95.8L116.25 95.8L116.5 95.8L116.75 95.8L117 95.8L117.25 95.8L117.5 95.8L117.75 95.8L118 95.8L118.25 95.8L118.5 95.8L118.75 95.8L119 95.8L119.25 95.8L119.5 95.8L119.5 95.8Z" fill="#c6c6c6"/>
<path d="M46 95.8L46.25 95.8L46.5 95.8L46.75 95.8L47 95.8L47.25 95.8L47.5 95.8L47.75 95.8L48 95.8L48.25 95.8L48.5 95.8L48.75 95.8L49 95.8L49.25 95.8L49.5 95.8L49.75 95.8L50 95.8L50.25 95.8L50.5 95.8L50.75 95.8L51 95.8L51.25 95.8L51.5 95.8L51.75 95.8L52 95.8L52.25 95.8L52.5 95.8L52.75 95.8L53 95.8L53.25 95.8L53.5 95.8L53.75 95.8L54 95.8L54.25 95.8L54.5 95.8L54.75 95.8L55 95.8L55.25 95.8L55.5 95.8L55.75 95.8L56 95.8L56.25 95.8L56.5 95.8L56.75 95.8L57 95.8L57.25 95.8L57.5 95.8L57.75 95.8L58 95.8L58.25 95.8L58.5 95.8L58.75 95.8L59 95.8L59.25 95.8L59.5 95.8L59.75 95.8L60 95.8L60.25 95.8L60.5 95.8L60.75 95.8L61 95.8L61.25 95.8L61.5 95.8L61.75 95.8L62 95.8L62.25 95.8L62.5 95.8L62.75 95.8L63 95.8L63.25 95.8L63.5 95.8L63.75 95.8L64 95.8L64.25 95.8L64.5 95.8L64.75 95.8L65 95.8L65.25 95.8L65.5 95.8L65.75 95.8L66 95.8L66.25 95.8L66.5 95.8L66.75 95.8L67 95.8L67.25 95.8L67.5 95.8L67.75 95.8L68 95.8L68.25 95.8L68.5 95.8L68.75 95.8L69 95.8L69.25 95.8L69.5 95.8L69.75 95.8L70 95.8L70.25 95.8L70.5 95.8L70.75 95.8L71 95.8L71.25 95.8L71.5 95.8L71.75 95.8L72 95.8L72.25 95.8L72.5 95.8L72.75 95.8L73 95.8L73.25 95.8L73.5 95.8L73.75 95.8L74 95.8L74.25 95.8L74.5 95.8L74.75 95.8L75 95.8L75.25 95.8L75.5 95.8L75.75 95.8L76 95.8L76.25 95.8L76.5 95.8L76.75 95.8L77 95.8L77.25 95.8L77.5 95.8L77.75 95.8L78 95.8L78.25 95.8L78.5 95.8L78.75 95.8L79 95.8L79.25 95.8L79.5 95.8L79.75 95.8L80 95.8L80.25 95.8L80.5 95.8L80.75 95.8L81 95.8L81.25 95.8L81.5 95.8L81.75 95.8L82 95.8L82.25 95.8L82.5 95.8L82.75 95.8L83 95.8L83.25 95.8L83.5 95.8L83.75 95.8L84 95.8L84.25 95.8L84.5 95.8L84.75 95.8L85 95.8L85.25 95.8L85.5 95.8L85.75 95.8L86 95.8L86.25 95.8L86.5 95.8L86.75 95.8L87 95.8L87.25 95.8L87.5 95.8L87.75 95.8L88 95.8L88.25 95.8L88.5 95.8L88.75 95.8L89 95.8L89.25 95.8L89.5 95.79L89.75 95.79L90 95.79L90.25 95.78L90.5 95.77L90.75 95.76L91 95.74L91.25 95.72L91.5 95.69L91.75 95.65L92 95.6L92.25 95.54L92.5 95.46L92.75 95.36L93 95.25L93.25 95.11L93.5 94.96L93.75 94.79L94 94.6L94.25 94.39L94.5 94.17L94.75 93.94L95 93.7L95.25 93.45L95.5 93.21L95.75 92.96L96 92.71L96.25 92.46L96.5 92.21L96.75 91.96L97 91.69L97.25 91.4L97.5 91.08L97.75 90.71L98 90.27L98.25 89.71L98.5 88.99L98.75 88.02L99 86.73L99.25 85.06L99.5 82.97L99.75 80.53L100 77.9L100.25 75.33L100.5 73.16L100.75 71.71L101 71.22L101.25 71.77L101.5 73.28L101.75 75.52L102 78.16L102.25 80.86L102.5 83.38L102.75 85.56L103 87.33L103.25 88.72L103.5 89.79L103.75 90.63L104 91.3L104.25 91.85L104.5 92.32L104.75 92.74L105 93.11L105.25 93.45L105.5 93.75L105.75 94.03L106 94.28L106.25 94.5L106.5 94.71L106.75 94.89L107 95.05L107.25 95.19L107.5 95.31L107.75 95.41L108 95.49L108.25 95.57L108.5 95.62L108.75 95.67L109 95.7L109.25 95.73L109.5 95.75L109.75 95.77L110 95.78L110.25 95.78L110.5 95.79L110.75 95.79L111 95.8L111.25 95.8L111.5 95.8L111.75 95.8L112 95.8L112.25 95.8L112.5 95.8L112.75 95.8L113 95.8L113.25 95.8L113.5 95.8L113.75 95.8L114 95.8L114.25 95.8L114.5 95.8L114.75 95.8L115 95.8L115.25 95.8L115.5 95.8L115.75 95.8L116 95.8L116.25 95.8L116.5 95.8L116.75 95.8L117 95.8L117.25 95.8L117.5 95.8L117.75 95.8L118 95.8L118.25 95.8L118.5 95.8L118.75 95.8L119 95.8L119.25 95.8L119.5 95.8" fill="none" stroke="#222" stroke-width="0.6"/>
<path d="M125.8 95.8L125.8 95.8L126.05 95.8L126.3 95.8L126.55 95.8L126.8 95.8L127.05 95.8L127.3 95.8L127.55 95.8L127.8 95.8L128.05 95.8L128.3 95.8L128.55 95.8L128.8 95.8L129.05 95.8L129.3 95.8L129.55 95.8L129.8 95.8L130.05 95.8L130.3 95.8L130.55 95.8L130.8 95.8L131.05 95.8L131.3 95.8L131.55 95.8L131.8 95.8L132.05 95.8L132.3 95.8L132.55 95.8L132.8 95.8L133.05 95.8L133.3 95.8L133.55 95.8L133.8 95.8L134.05 95.8L134.3 95.8L134.55 95.8L134.8 95.8L135.05 95.8L135.3 95.8L135.55 95.8L135.8 95.8L136.05 95.8L136.3 95.8L136.55 95.8L136.8 95.8L137.05 95.8L137.3 95.8L137.55 95.8L137.8 95.8L138.05 95.8L138.3 95.8L138.55 95.8L138.8 95.8L139.05 95.8L139.3 95.8L139.55 95.8L139.8 95.8L140.05 95.8L140.3 95.8L140.55 95.8L140.8 95.8L141.05 95.8L141.3 95.8L141.55 95.8L141.8 95.8L142.05 95.8L142.3 95.8L142.55 95.8L142.8 95.8L143.05 95.8L143.3 95.8L143.55 95.8L143.8 95.8L144.05 95.8L144.3 95.8L144.55 95.8L144.8 95.8L145.05 95.8L145.3 95.8L145.55 95.8L145.8 95.8L146.05 95.8L146.3 95.8L146.55 95.8L146.8 95.8L147.05 95.8L147.3 95.8L147.55 95.8L147.8 95.8L148.05 95.8L148.3 95.8L148.55 95.8L148.8 95.8L149.05 95.8L149.3 95.8L149.55 95.8L149.8 95.8L150.05 95.8L150.3 95.8L150.55 95.8L150.8 95.8L151.05 95.8L151.3 95.8L151.55 95.8L151.8 95.8L152.05 95.8L152.3 95.8L152.55 95.8L152.8 95.8L153.05 95.8L153.3 95.8L153.55 95.8L153.8 95.8L154.05 95.8L154.3 95.8L154.55 95.8L154.8 95.8L155.05 95.8L155.3 95.8L155.55 95.8L155.8 95.8L156.05 95.8L156.3 95.8L156.55 95.8L156.8 95.8L157.05 95.8L157.3 95.8L157.55 95.8L157.8 95.8L158.05 95.8L158.3 95.8L158.55 95.8L158.8 95.8L159.05 95.8L159.3 95.8L159.55 95.8L159.8 95.8L160.05 95.8L160.3 95.8L160.55 95.8L160.8 95.8L161.05 95.8L161.3 95.8L161.55 95.79L161.8 95.79L162.05 95.79L162.3 95.79L162.55 95.78L162.8 95.78L163.05 95.77L163.3 95.77L163.55 95.76L163.8 95.75L164.05 95.74L164.3 95.72L164.55 95.71L164.8 95.69L165.05 95.67L165.3 95.64L165.55 95.61L165.8 95.58L166.05 95.53L166.3 95.49L166.55 95.44L166.8 95.38L167.05 95.31L167.3 95.24L167.55 95.16L167.8 95.07L168.05 94.97L168.3 94.87L168.55 94.76L168.8 94.64L169.05 94.51L169.3 94.38L169.55 94.24L169.8 94.09L170.05 93.95L170.3 93.79L170.55 93.64L170.8 93.48L171.05 93.33L171.3 93.17L171.55 93.02L171.8 92.87L172.05 92.72L172.3 92.57L172.55 92.42L172.8 92.27L173.05 92.12L173.3 91.97L173.55 91.81L173.8 91.65L174.05 91.47L174.3 91.29L174.55 91.09L174.8 90.87L175.05 90.65L175.3 90.41L175.55 90.17L175.8 89.92L176.05 89.66L176.3 89.41L176.55 89.15L176.8 88.9L177.05 88.66L177.3 88.42L177.55 88.18L177.8 87.94L178.05 87.68L178.3 87.37L178.55 86.98L178.8 86.45L179.05 85.72L179.3 84.69L179.55 83.32L179.8 81.56L180.05 79.48L180.3 77.2L180.55 74.98L180.8 73.12L181.05 71.91L181.3 71.58L181.55 72.22L181.8 73.74L182.05 75.92L182.3 78.45L182.55 81.05L182.8 83.45L183.05 85.53L183.3 87.23L183.55 88.56L183.8 89.6L184.05 90.42L184.3 91.08L184.55 91.63L184.8 92.12L185.05 92.55L185.3 92.94L185.55 93.31L185.8 93.64L186.05 93.94L186.3 94.22L186.55 94.47L186.8 94.69L187.05 94.89L187.3 95.06L187.55 95.21L187.8 95.33L188.05 95.44L188.3 95.52L188.55 95.59L188.8 95.64L189.05 95.69L189.3 95.72L189.55 95.74L189.8 95.76L190.05 95.77L190.3 95.78L190.55 95.79L190.8 95.79L191.05 95.8L191.3 95.8L191.55 95.8L191.8 95.8L192.05 95.8L192.3 95.8L192.55 95.8L192.8 95.8L193.05 95.8L193.3 95.8L193.55 95.8L193.8 95.8L194.05 95.8L194.3 95.8L194.55 95.8L194.8 95.8L195.05 95.8L195.3 95.8L195.55 95.8L195.8 95.8L196.05 95.8L196.3 95.8L196.55 95.8L196.8 95.8L197.05 95.8L197.3 95.8L197.55 95.8L197.8 95.8L198.05 95.8L198.3 95.8L198.55 95.8L198.8 95.8L199.05 95.8L199.3 95.8L199.3 95.8Z" fill="#fbc8c8"/>
<path d="M125.8 95.8L126.05 95.8L126.3 95.8L126.55 95.8L126.8 95.8L127.05 95.8L127.3 95.8L127.55 95.8L127.8 95.8L128.05 95.8L128.3 95.8L128.55 95.8L128.8 95.8L129.05 95.8L129.3 95.8L129.55 95.8L129.8 95.8L130.05 95.8L130.3 95.8L130.55 95.8L130.8 95.8L131.05 95.8L131.3 95.8L131.55 95.8L131.8 95.8L132.05 95.8L132.3 95.8L132.55 95.8L132.8 95.8L133.05 95.8L133.3 95.8L133.55 95.8L133.8 95.8L134.05 95.8L134.3 95.8L134.55 95.8L134.8 95.8L135.05 95.8L135.3 95.8L135.55 95.8L135.8 95.8L136.05 95.8L136.3 95.8L136.55 95.8L136.8 95.8L137.05 95.8L137.3 95.8L137.55 95.8L137.8 95.8L138.05 95.8L138.3 95.8L138.55 95.8L138.8 95.8L139.05 95.8L139.3 95.8L139.55 95.8L139.8 95.8L140.05 95.8L140.3 95.8L140.55 95.8L140.8 95.8L141.05 95.8L141.3 95.8L141.55 95.8L141.8 95.8L142.05 95.8L142.3 95.8L142.55 95.8L142.8 95.8L143.05 95.8L143.3 95.8L143.55 95.8L143.8 95.8L144.05 95.8L144.3 95.8L144.55 95.8L144.8 95.8L145.05 95.8L145.3 95.8L145.55 95.8L145.8 95.8L146.05 95.8L146.3 95.8L146.55 95.8L146.8 95.8L147.05 95.8L147.3 95.8L147.55 95.8L147.8 95.8L148.05 95.8L148.3 95.8L148.55 95.8L148.8 95.8L149.05 95.8L149.3 95.8L149.55 95.8L149.8 95.8L150.05 95.8L150.3 95.8L150.55 95.8L150.8 95.8L151.05 95.8L151.3 95.8L151.55 95.8L151.8 95.8L152.05 95.8L152.3 95.8L152.55 95.8L152.8 95.8L153.05 95.8L153.3 95.8L153.55 95.8L153.8 95.8L154.05 95.8L154.3 95.8L154.55 95.8L154.8 95.8L155.05 95.8L155.3 95.8L155.55 95.8L155.8 95.8L156.05 95.8L156.3 95.8L156.55 95.8L156.8 95.8L157.05 95.8L157.3 95.8L157.55 95.8L157.8 95.8L158.05 95.8L158.3 95.8L158.55 95.8L158.8 95.8L159.05 95.8L159.3 95.8L159.55 95.8L159.8 95.8L160.05 95.8L160.3 95.8L160.55 95.8L160.8 95.8L161.05 95.8L161.3 95.8L161.55 95.79L161.8 95.79L162.05 95.79L162.3 95.79L162.55 95.78L162.8 95.78L163.05 95.77L163.3 95.77L163.55 95.76L163.8 95.75L164.05 95.74L164.3 95.72L164.55 95.71L164.8 95.69L165.05 95.67L165.3 95.64L165.55 95.61L165.8 95.58L166.05 95.53L166.3 95.49L166.55 95.44L166.8 95.38L167.05 95.31L167.3 95.24L167.55 95.16L167.8 95.07L168.05 94.97L168.3 94.87L168.55 94.76L168.8 94.64L169.05 94.51L169.3 94.38L169.55 94.24L169.8 94.09L170.05 93.95L170.3 93.79L170.55 93.64L170.8 93.48L171.05 93.33L171.3 93.17L171.55 93.02L171.8 92.87L172.05 92.72L172.3 92.57L172.55 92.42L172.8 92.27L173.05 92.12L173.3 91.97L173.55 91.81L173.8 91.65L174.05 91.47L174.3 91.29L174.55 91.09L174.8 90.87L175.05 90.65L175.3 90.41L175.55 90.17L175.8 89.92L176.05 89.66L176.3 89.41L176.55 89.15L176.8 88.9L177.05 88.66L177.3 88.42L177.55 88.18L177.8 87.94L178.05 87.68L178.3 87.37L178.55 86.98L178.8 86.45L179.05 85.72L179.3 84.69L179.55 83.32L179.8 81.56L180.05 79.48L180.3 77.2L180.55 74.98L180.8 73.12L181.05 71.91L181.3 71.58L181.55 72.22L181.8 73.74L182.05 75.92L182.3 78.45L182.55 81.05L182.8 83.45L183.05 85.53L183.3 87.23L183.55 88.56L183.8 89.6L184.05 90.42L184.3 91.08L184.55 91.63L184.8 92.12L185.05 92.55L185.3 92.94L185.55 93.31L185.8 93.64L186.05 93.94L186.3 94.22L186.55 94.47L186.8 94.69L187.05 94.89L187.3 95.06L187.55 95.21L187.8 95.33L188.05 95.44L188.3 95.52L188.55 95.59L188.8 95.64L189.05 95.69L189.3 95.72L189.55 95.74L189.8 95.76L190.05 95.77L190.3 95.78L190.55 95.79L190.8 95.79L191.05 95.8L191.3 95.8L191.55 95.8L191.8 95.8L192.05 95.8L192.3 95.8L192.55 95.8L192.8 95.8L193.05 95.8L193.3 95.8L193.55 95.8L193.8 95.8L194.05 95.8L194.3 95.8L194.55 95.8L194.8 95.8L195.05 95.8L195.3 95.8L195.55 95.8L195.8 95.8L196.05 95.8L196.3 95.8L196.55 95.8L196.8 95.8L197.05 95.8L197.3 95.8L197.55 95.8L197.8 95.8L198.05 95.8L198.3 95.8L198.55 95.8L198.8 95.8L199.05 95.8L199.3 95.8" fill="none" stroke="#f43c3c" stroke-width="0.7"/>
<text x="83.4" y="93.3" font-size="4.7" font-weight="bold" text-anchor="end" fill="#1a1a1a" stroke="#1a1a1a" stroke-width="0.08">13.7%</text>
<text x="164" y="93.3" font-size="4.7" font-weight="bold" text-anchor="end" fill="#1a1a1a" stroke="#1a1a1a" stroke-width="0.08">34.5%</text>
<path d="M46 122.4L46 122.4L46.25 122.4L46.5 122.4L46.75 122.4L47 122.4L47.25 122.4L47.5 122.4L47.75 122.4L48 122.4L48.25 122.4L48.5 122.4L48.75 122.4L49 122.4L49.25 122.4L49.5 122.4L49.75 122.4L50 122.4L50.25 122.4L50.5 122.4L50.75 122.4L51 122.4L51.25 122.4L51.5 122.4L51.75 122.4L52 122.4L52.25 122.4L52.5 122.4L52.75 122.4L53 122.4L53.25 122.4L53.5 122.4L53.75 122.4L54 122.4L54.25 122.4L54.5 122.4L54.75 122.4L55 122.4L55.25 122.4L55.5 122.4L55.75 122.4L56 122.4L56.25 122.4L56.5 122.4L56.75 122.4L57 122.4L57.25 122.4L57.5 122.4L57.75 122.4L58 122.4L58.25 122.4L58.5 122.4L58.75 122.4L59 122.4L59.25 122.4L59.5 122.4L59.75 122.4L60 122.4L60.25 122.4L60.5 122.4L60.75 122.4L61 122.4L61.25 122.4L61.5 122.4L61.75 122.4L62 122.4L62.25 122.4L62.5 122.4L62.75 122.4L63 122.4L63.25 122.4L63.5 122.4L63.75 122.4L64 122.4L64.25 122.4L64.5 122.4L64.75 122.4L65 122.4L65.25 122.4L65.5 122.4L65.75 122.4L66 122.4L66.25 122.4L66.5 122.4L66.75 122.4L67 122.4L67.25 122.4L67.5 122.4L67.75 122.4L68 122.4L68.25 122.4L68.5 122.4L68.75 122.4L69 122.4L69.25 122.4L69.5 122.4L69.75 122.4L70 122.4L70.25 122.4L70.5 122.4L70.75 122.4L71 122.4L71.25 122.4L71.5 122.4L71.75 122.4L72 122.4L72.25 122.4L72.5 122.4L72.75 122.4L73 122.4L73.25 122.4L73.5 122.4L73.75 122.4L74 122.4L74.25 122.4L74.5 122.4L74.75 122.4L75 122.4L75.25 122.4L75.5 122.4L75.75 122.4L76 122.4L76.25 122.4L76.5 122.4L76.75 122.4L77 122.4L77.25 122.4L77.5 122.4L77.75 122.4L78 122.4L78.25 122.4L78.5 122.4L78.75 122.4L79 122.4L79.25 122.4L79.5 122.4L79.75 122.4L80 122.4L80.25 122.4L80.5 122.4L80.75 122.4L81 122.4L81.25 122.4L81.5 122.4L81.75 122.4L82 122.4L82.25 122.4L82.5 122.4L82.75 122.4L83 122.4L83.25 122.4L83.5 122.4L83.75 122.4L84 122.4L84.25 122.4L84.5 122.4L84.75 122.4L85 122.4L85.25 122.4L85.5 122.4L85.75 122.4L86 122.4L86.25 122.4L86.5 122.4L86.75 122.4L87 122.4L87.25 122.4L87.5 122.4L87.75 122.4L88 122.4L88.25 122.4L88.5 122.4L88.75 122.4L89 122.4L89.25 122.4L89.5 122.4L89.75 122.4L90 122.4L90.25 122.39L90.5 122.39L90.75 122.38L91 122.38L91.25 122.37L91.5 122.35L91.75 122.34L92 122.31L92.25 122.28L92.5 122.24L92.75 122.19L93 122.12L93.25 122.04L93.5 121.95L93.75 121.84L94 121.71L94.25 121.57L94.5 121.41L94.75 121.23L95 121.04L95.25 120.84L95.5 120.62L95.75 120.39L96 120.15L96.25 119.9L96.5 119.65L96.75 119.38L97 119.1L97.25 118.79L97.5 118.47L97.75 118.11L98 117.71L98.25 117.24L98.5 116.67L98.75 115.94L99 114.99L99.25 113.74L99.5 112.11L99.75 110.08L100 107.68L100.25 105.05L100.5 102.43L100.75 100.14L101 98.51L101.25 97.8L101.5 98.13L101.75 99.46L102 101.57L102.25 104.14L102.5 106.84L102.75 109.41L103 111.66L103.25 113.5L103.5 114.97L103.75 116.1L104 116.99L104.25 117.7L104.5 118.29L104.75 118.79L105 119.24L105.25 119.65L105.5 120.01L105.75 120.34L106 120.64L106.25 120.91L106.5 121.15L106.75 121.37L107 121.55L107.25 121.72L107.5 121.85L107.75 121.97L108 122.07L108.25 122.14L108.5 122.21L108.75 122.26L109 122.3L109.25 122.33L109.5 122.35L109.75 122.36L110 122.38L110.25 122.38L110.5 122.39L110.75 122.39L111 122.4L111.25 122.4L111.5 122.4L111.75 122.4L112 122.4L112.25 122.4L112.5 122.4L112.75 122.4L113 122.4L113.25 122.4L113.5 122.4L113.75 122.4L114 122.4L114.25 122.4L114.5 122.4L114.75 122.4L115 122.4L115.25 122.4L115.5 122.4L115.75 122.4L116 122.4L116.25 122.4L116.5 122.4L116.75 122.4L117 122.4L117.25 122.4L117.5 122.4L117.75 122.4L118 122.4L118.25 122.4L118.5 122.4L118.75 122.4L119 122.4L119.25 122.4L119.5 122.4L119.5 122.4Z" fill="#c6c6c6"/>
<path d="M46 122.4L46.25 122.4L46.5 122.4L46.75 122.4L47 122.4L47.25 122.4L47.5 122.4L47.75 122.4L48 122.4L48.25 122.4L48.5 122.4L48.75 122.4L49 122.4L49.25 122.4L49.5 122.4L49.75 122.4L50 122.4L50.25 122.4L50.5 122.4L50.75 122.4L51 122.4L51.25 122.4L51.5 122.4L51.75 122.4L52 122.4L52.25 122.4L52.5 122.4L52.75 122.4L53 122.4L53.25 122.4L53.5 122.4L53.75 122.4L54 122.4L54.25 122.4L54.5 122.4L54.75 122.4L55 122.4L55.25 122.4L55.5 122.4L55.75 122.4L56 122.4L56.25 122.4L56.5 122.4L56.75 122.4L57 122.4L57.25 122.4L57.5 122.4L57.75 122.4L58 122.4L58.25 122.4L58.5 122.4L58.75 122.4L59 122.4L59.25 122.4L59.5 122.4L59.75 122.4L60 122.4L60.25 122.4L60.5 122.4L60.75 122.4L61 122.4L61.25 122.4L61.5 122.4L61.75 122.4L62 122.4L62.25 122.4L62.5 122.4L62.75 122.4L63 122.4L63.25 122.4L63.5 122.4L63.75 122.4L64 122.4L64.25 122.4L64.5 122.4L64.75 122.4L65 122.4L65.25 122.4L65.5 122.4L65.75 122.4L66 122.4L66.25 122.4L66.5 122.4L66.75 122.4L67 122.4L67.25 122.4L67.5 122.4L67.75 122.4L68 122.4L68.25 122.4L68.5 122.4L68.75 122.4L69 122.4L69.25 122.4L69.5 122.4L69.75 122.4L70 122.4L70.25 122.4L70.5 122.4L70.75 122.4L71 122.4L71.25 122.4L71.5 122.4L71.75 122.4L72 122.4L72.25 122.4L72.5 122.4L72.75 122.4L73 122.4L73.25 122.4L73.5 122.4L73.75 122.4L74 122.4L74.25 122.4L74.5 122.4L74.75 122.4L75 122.4L75.25 122.4L75.5 122.4L75.75 122.4L76 122.4L76.25 122.4L76.5 122.4L76.75 122.4L77 122.4L77.25 122.4L77.5 122.4L77.75 122.4L78 122.4L78.25 122.4L78.5 122.4L78.75 122.4L79 122.4L79.25 122.4L79.5 122.4L79.75 122.4L80 122.4L80.25 122.4L80.5 122.4L80.75 122.4L81 122.4L81.25 122.4L81.5 122.4L81.75 122.4L82 122.4L82.25 122.4L82.5 122.4L82.75 122.4L83 122.4L83.25 122.4L83.5 122.4L83.75 122.4L84 122.4L84.25 122.4L84.5 122.4L84.75 122.4L85 122.4L85.25 122.4L85.5 122.4L85.75 122.4L86 122.4L86.25 122.4L86.5 122.4L86.75 122.4L87 122.4L87.25 122.4L87.5 122.4L87.75 122.4L88 122.4L88.25 122.4L88.5 122.4L88.75 122.4L89 122.4L89.25 122.4L89.5 122.4L89.75 122.4L90 122.4L90.25 122.39L90.5 122.39L90.75 122.38L91 122.38L91.25 122.37L91.5 122.35L91.75 122.34L92 122.31L92.25 122.28L92.5 122.24L92.75 122.19L93 122.12L93.25 122.04L93.5 121.95L93.75 121.84L94 121.71L94.25 121.57L94.5 121.41L94.75 121.23L95 121.04L95.25 120.84L95.5 120.62L95.75 120.39L96 120.15L96.25 119.9L96.5 119.65L96.75 119.38L97 119.1L97.25 118.79L97.5 118.47L97.75 118.11L98 117.71L98.25 117.24L98.5 116.67L98.75 115.94L99 114.99L99.25 113.74L99.5 112.11L99.75 110.08L100 107.68L100.25 105.05L100.5 102.43L100.75 100.14L101 98.51L101.25 97.8L101.5 98.13L101.75 99.46L102 101.57L102.25 104.14L102.5 106.84L102.75 109.41L103 111.66L103.25 113.5L103.5 114.97L103.75 116.1L104 116.99L104.25 117.7L104.5 118.29L104.75 118.79L105 119.24L105.25 119.65L105.5 120.01L105.75 120.34L106 120.64L106.25 120.91L106.5 121.15L106.75 121.37L107 121.55L107.25 121.72L107.5 121.85L107.75 121.97L108 122.07L108.25 122.14L108.5 122.21L108.75 122.26L109 122.3L109.25 122.33L109.5 122.35L109.75 122.36L110 122.38L110.25 122.38L110.5 122.39L110.75 122.39L111 122.4L111.25 122.4L111.5 122.4L111.75 122.4L112 122.4L112.25 122.4L112.5 122.4L112.75 122.4L113 122.4L113.25 122.4L113.5 122.4L113.75 122.4L114 122.4L114.25 122.4L114.5 122.4L114.75 122.4L115 122.4L115.25 122.4L115.5 122.4L115.75 122.4L116 122.4L116.25 122.4L116.5 122.4L116.75 122.4L117 122.4L117.25 122.4L117.5 122.4L117.75 122.4L118 122.4L118.25 122.4L118.5 122.4L118.75 122.4L119 122.4L119.25 122.4L119.5 122.4" fill="none" stroke="#222" stroke-width="0.6"/>
<path d="M125.8 122.4L125.8 122.4L126.05 122.4L126.3 122.4L126.55 122.4L126.8 122.4L127.05 122.4L127.3 122.4L127.55 122.4L127.8 122.4L128.05 122.4L128.3 122.4L128.55 122.4L128.8 122.4L129.05 122.4L129.3 122.4L129.55 122.4L129.8 122.4L130.05 122.4L130.3 122.4L130.55 122.4L130.8 122.4L131.05 122.4L131.3 122.4L131.55 122.4L131.8 122.4L132.05 122.4L132.3 122.4L132.55 122.4L132.8 122.4L133.05 122.4L133.3 122.4L133.55 122.4L133.8 122.4L134.05 122.4L134.3 122.4L134.55 122.4L134.8 122.4L135.05 122.4L135.3 122.4L135.55 122.4L135.8 122.4L136.05 122.4L136.3 122.4L136.55 122.4L136.8 122.4L137.05 122.4L137.3 122.4L137.55 122.4L137.8 122.4L138.05 122.4L138.3 122.4L138.55 122.4L138.8 122.4L139.05 122.4L139.3 122.4L139.55 122.4L139.8 122.4L140.05 122.4L140.3 122.4L140.55 122.4L140.8 122.4L141.05 122.4L141.3 122.4L141.55 122.4L141.8 122.4L142.05 122.4L142.3 122.4L142.55 122.4L142.8 122.4L143.05 122.4L143.3 122.4L143.55 122.4L143.8 122.4L144.05 122.4L144.3 122.4L144.55 122.4L144.8 122.4L145.05 122.4L145.3 122.4L145.55 122.4L145.8 122.4L146.05 122.4L146.3 122.4L146.55 122.4L146.8 122.4L147.05 122.4L147.3 122.4L147.55 122.4L147.8 122.4L148.05 122.4L148.3 122.4L148.55 122.4L148.8 122.4L149.05 122.4L149.3 122.4L149.55 122.4L149.8 122.4L150.05 122.4L150.3 122.4L150.55 122.4L150.8 122.4L151.05 122.4L151.3 122.4L151.55 122.4L151.8 122.4L152.05 122.4L152.3 122.4L152.55 122.4L152.8 122.4L153.05 122.4L153.3 122.4L153.55 122.4L153.8 122.4L154.05 122.4L154.3 122.4L154.55 122.4L154.8 122.4L155.05 122.4L155.3 122.4L155.55 122.4L155.8 122.4L156.05 122.4L156.3 122.4L156.55 122.4L156.8 122.4L157.05 122.4L157.3 122.4L157.55 122.4L157.8 122.4L158.05 122.4L158.3 122.4L158.55 122.4L158.8 122.4L159.05 122.4L159.3 122.4L159.55 122.4L159.8 122.4L160.05 122.4L160.3 122.4L160.55 122.4L160.8 122.4L161.05 122.4L161.3 122.4L161.55 122.4L161.8 122.4L162.05 122.4L162.3 122.4L162.55 122.4L162.8 122.4L163.05 122.4L163.3 122.4L163.55 122.4L163.8 122.4L164.05 122.4L164.3 122.4L164.55 122.4L164.8 122.4L165.05 122.4L165.3 122.4L165.55 122.4L165.8 122.4L166.05 122.4L166.3 122.4L166.55 122.4L166.8 122.4L167.05 122.4L167.3 122.4L167.55 122.4L167.8 122.4L168.05 122.4L168.3 122.4L168.55 122.39L168.8 122.39L169.05 122.38L169.3 122.38L169.55 122.37L169.8 122.35L170.05 122.33L170.3 122.31L170.55 122.27L170.8 122.23L171.05 122.17L171.3 122.09L171.55 122L171.8 121.89L172.05 121.75L172.3 121.59L172.55 121.4L172.8 121.18L173.05 120.93L173.3 120.65L173.55 120.35L173.8 120.02L174.05 119.67L174.3 119.31L174.55 118.94L174.8 118.58L175.05 118.22L175.3 117.88L175.55 117.55L175.8 117.26L176.05 116.99L176.3 116.75L176.55 116.54L176.8 116.35L177.05 116.17L177.3 116.01L177.55 115.84L177.8 115.66L178.05 115.43L178.3 115.14L178.55 114.74L178.8 114.18L179.05 113.37L179.3 112.25L179.55 110.75L179.8 108.83L180.05 106.57L180.3 104.11L180.55 101.7L180.8 99.67L181.05 98.32L181.3 97.89L181.55 98.47L181.8 99.97L182.05 102.16L182.3 104.73L182.55 107.37L182.8 109.82L183.05 111.94L183.3 113.67L183.55 115.03L183.8 116.09L184.05 116.93L184.3 117.6L184.55 118.17L184.8 118.66L185.05 119.1L185.3 119.51L185.55 119.87L185.8 120.21L186.05 120.52L186.3 120.8L186.55 121.06L186.8 121.28L187.05 121.48L187.3 121.65L187.55 121.8L187.8 121.93L188.05 122.03L188.3 122.12L188.55 122.19L188.8 122.24L189.05 122.29L189.3 122.32L189.55 122.34L189.8 122.36L190.05 122.37L190.3 122.38L190.55 122.39L190.8 122.39L191.05 122.4L191.3 122.4L191.55 122.4L191.8 122.4L192.05 122.4L192.3 122.4L192.55 122.4L192.8 122.4L193.05 122.4L193.3 122.4L193.55 122.4L193.8 122.4L194.05 122.4L194.3 122.4L194.55 122.4L194.8 122.4L195.05 122.4L195.3 122.4L195.55 122.4L195.8 122.4L196.05 122.4L196.3 122.4L196.55 122.4L196.8 122.4L197.05 122.4L197.3 122.4L197.55 122.4L197.8 122.4L198.05 122.4L198.3 122.4L198.55 122.4L198.8 122.4L199.05 122.4L199.3 122.4L199.3 122.4Z" fill="#fbc8c8"/>
<path d="M125.8 122.4L126.05 122.4L126.3 122.4L126.55 122.4L126.8 122.4L127.05 122.4L127.3 122.4L127.55 122.4L127.8 122.4L128.05 122.4L128.3 122.4L128.55 122.4L128.8 122.4L129.05 122.4L129.3 122.4L129.55 122.4L129.8 122.4L130.05 122.4L130.3 122.4L130.55 122.4L130.8 122.4L131.05 122.4L131.3 122.4L131.55 122.4L131.8 122.4L132.05 122.4L132.3 122.4L132.55 122.4L132.8 122.4L133.05 122.4L133.3 122.4L133.55 122.4L133.8 122.4L134.05 122.4L134.3 122.4L134.55 122.4L134.8 122.4L135.05 122.4L135.3 122.4L135.55 122.4L135.8 122.4L136.05 122.4L136.3 122.4L136.55 122.4L136.8 122.4L137.05 122.4L137.3 122.4L137.55 122.4L137.8 122.4L138.05 122.4L138.3 122.4L138.55 122.4L138.8 122.4L139.05 122.4L139.3 122.4L139.55 122.4L139.8 122.4L140.05 122.4L140.3 122.4L140.55 122.4L140.8 122.4L141.05 122.4L141.3 122.4L141.55 122.4L141.8 122.4L142.05 122.4L142.3 122.4L142.55 122.4L142.8 122.4L143.05 122.4L143.3 122.4L143.55 122.4L143.8 122.4L144.05 122.4L144.3 122.4L144.55 122.4L144.8 122.4L145.05 122.4L145.3 122.4L145.55 122.4L145.8 122.4L146.05 122.4L146.3 122.4L146.55 122.4L146.8 122.4L147.05 122.4L147.3 122.4L147.55 122.4L147.8 122.4L148.05 122.4L148.3 122.4L148.55 122.4L148.8 122.4L149.05 122.4L149.3 122.4L149.55 122.4L149.8 122.4L150.05 122.4L150.3 122.4L150.55 122.4L150.8 122.4L151.05 122.4L151.3 122.4L151.55 122.4L151.8 122.4L152.05 122.4L152.3 122.4L152.55 122.4L152.8 122.4L153.05 122.4L153.3 122.4L153.55 122.4L153.8 122.4L154.05 122.4L154.3 122.4L154.55 122.4L154.8 122.4L155.05 122.4L155.3 122.4L155.55 122.4L155.8 122.4L156.05 122.4L156.3 122.4L156.55 122.4L156.8 122.4L157.05 122.4L157.3 122.4L157.55 122.4L157.8 122.4L158.05 122.4L158.3 122.4L158.55 122.4L158.8 122.4L159.05 122.4L159.3 122.4L159.55 122.4L159.8 122.4L160.05 122.4L160.3 122.4L160.55 122.4L160.8 122.4L161.05 122.4L161.3 122.4L161.55 122.4L161.8 122.4L162.05 122.4L162.3 122.4L162.55 122.4L162.8 122.4L163.05 122.4L163.3 122.4L163.55 122.4L163.8 122.4L164.05 122.4L164.3 122.4L164.55 122.4L164.8 122.4L165.05 122.4L165.3 122.4L165.55 122.4L165.8 122.4L166.05 122.4L166.3 122.4L166.55 122.4L166.8 122.4L167.05 122.4L167.3 122.4L167.55 122.4L167.8 122.4L168.05 122.4L168.3 122.4L168.55 122.39L168.8 122.39L169.05 122.38L169.3 122.38L169.55 122.37L169.8 122.35L170.05 122.33L170.3 122.31L170.55 122.27L170.8 122.23L171.05 122.17L171.3 122.09L171.55 122L171.8 121.89L172.05 121.75L172.3 121.59L172.55 121.4L172.8 121.18L173.05 120.93L173.3 120.65L173.55 120.35L173.8 120.02L174.05 119.67L174.3 119.31L174.55 118.94L174.8 118.58L175.05 118.22L175.3 117.88L175.55 117.55L175.8 117.26L176.05 116.99L176.3 116.75L176.55 116.54L176.8 116.35L177.05 116.17L177.3 116.01L177.55 115.84L177.8 115.66L178.05 115.43L178.3 115.14L178.55 114.74L178.8 114.18L179.05 113.37L179.3 112.25L179.55 110.75L179.8 108.83L180.05 106.57L180.3 104.11L180.55 101.7L180.8 99.67L181.05 98.32L181.3 97.89L181.55 98.47L181.8 99.97L182.05 102.16L182.3 104.73L182.55 107.37L182.8 109.82L183.05 111.94L183.3 113.67L183.55 115.03L183.8 116.09L184.05 116.93L184.3 117.6L184.55 118.17L184.8 118.66L185.05 119.1L185.3 119.51L185.55 119.87L185.8 120.21L186.05 120.52L186.3 120.8L186.55 121.06L186.8 121.28L187.05 121.48L187.3 121.65L187.55 121.8L187.8 121.93L188.05 122.03L188.3 122.12L188.55 122.19L188.8 122.24L189.05 122.29L189.3 122.32L189.55 122.34L189.8 122.36L190.05 122.37L190.3 122.38L190.55 122.39L190.8 122.39L191.05 122.4L191.3 122.4L191.55 122.4L191.8 122.4L192.05 122.4L192.3 122.4L192.55 122.4L192.8 122.4L193.05 122.4L193.3 122.4L193.55 122.4L193.8 122.4L194.05 122.4L194.3 122.4L194.55 122.4L194.8 122.4L195.05 122.4L195.3 122.4L195.55 122.4L195.8 122.4L196.05 122.4L196.3 122.4L196.55 122.4L196.8 122.4L197.05 122.4L197.3 122.4L197.55 122.4L197.8 122.4L198.05 122.4L198.3 122.4L198.55 122.4L198.8 122.4L199.05 122.4L199.3 122.4" fill="none" stroke="#f43c3c" stroke-width="0.7"/>
<text x="83.4" y="119.8" font-size="4.7" font-weight="bold" text-anchor="end" fill="#1a1a1a" stroke="#1a1a1a" stroke-width="0.08">7.8%</text>
<text x="164" y="119.8" font-size="4.7" font-weight="bold" text-anchor="end" fill="#1a1a1a" stroke="#1a1a1a" stroke-width="0.08">22.8%</text>
<path d="M46 149.9L46 149.9L46.25 149.9L46.5 149.9L46.75 149.9L47 149.9L47.25 149.9L47.5 149.9L47.75 149.9L48 149.9L48.25 149.9L48.5 149.9L48.75 149.9L49 149.9L49.25 149.9L49.5 149.9L49.75 149.9L50 149.9L50.25 149.9L50.5 149.9L50.75 149.9L51 149.9L51.25 149.9L51.5 149.9L51.75 149.9L52 149.9L52.25 149.9L52.5 149.9L52.75 149.9L53 149.9L53.25 149.9L53.5 149.9L53.75 149.9L54 149.9L54.25 149.9L54.5 149.9L54.75 149.9L55 149.9L55.25 149.9L55.5 149.9L55.75 149.9L56 149.9L56.25 149.9L56.5 149.9L56.75 149.9L57 149.9L57.25 149.9L57.5 149.9L57.75 149.9L58 149.9L58.25 149.9L58.5 149.9L58.75 149.9L59 149.9L59.25 149.9L59.5 149.9L59.75 149.9L60 149.9L60.25 149.9L60.5 149.9L60.75 149.9L61 149.9L61.25 149.9L61.5 149.9L61.75 149.9L62 149.9L62.25 149.9L62.5 149.9L62.75 149.9L63 149.9L63.25 149.9L63.5 149.9L63.75 149.9L64 149.9L64.25 149.9L64.5 149.9L64.75 149.9L65 149.9L65.25 149.9L65.5 149.9L65.75 149.9L66 149.9L66.25 149.9L66.5 149.9L66.75 149.9L67 149.9L67.25 149.9L67.5 149.9L67.75 149.9L68 149.9L68.25 149.9L68.5 149.9L68.75 149.9L69 149.9L69.25 149.9L69.5 149.9L69.75 149.9L70 149.9L70.25 149.9L70.5 149.9L70.75 149.9L71 149.9L71.25 149.9L71.5 149.9L71.75 149.9L72 149.9L72.25 149.9L72.5 149.9L72.75 149.9L73 149.9L73.25 149.9L73.5 149.9L73.75 149.9L74 149.9L74.25 149.9L74.5 149.9L74.75 149.9L75 149.9L75.25 149.9L75.5 149.9L75.75 149.9L76 149.9L76.25 149.9L76.5 149.9L76.75 149.9L77 149.9L77.25 149.9L77.5 149.9L77.75 149.9L78 149.9L78.25 149.9L78.5 149.9L78.75 149.9L79 149.9L79.25 149.9L79.5 149.9L79.75 149.9L80 149.9L80.25 149.9L80.5 149.9L80.75 149.9L81 149.9L81.25 149.9L81.5 149.9L81.75 149.9L82 149.9L82.25 149.9L82.5 149.9L82.75 149.9L83 149.9L83.25 149.9L83.5 149.9L83.75 149.9L84 149.9L84.25 149.9L84.5 149.9L84.75 149.9L85 149.9L85.25 149.9L85.5 149.9L85.75 149.9L86 149.9L86.25 149.9L86.5 149.9L86.75 149.9L87 149.9L87.25 149.9L87.5 149.9L87.75 149.9L88 149.9L88.25 149.9L88.5 149.9L88.75 149.9L89 149.9L89.25 149.9L89.5 149.9L89.75 149.9L90 149.9L90.25 149.9L90.5 149.9L90.75 149.9L91 149.9L91.25 149.9L91.5 149.9L91.75 149.9L92 149.9L92.25 149.9L92.5 149.9L92.75 149.9L93 149.9L93.25 149.89L93.5 149.89L93.75 149.88L94 149.88L94.25 149.86L94.5 149.85L94.75 149.82L95 149.78L95.25 149.73L95.5 149.66L95.75 149.57L96 149.45L96.25 149.3L96.5 149.1L96.75 148.85L97 148.55L97.25 148.18L97.5 147.73L97.75 147.19L98 146.52L98.25 145.69L98.5 144.64L98.75 143.29L99 141.58L99.25 139.47L99.5 136.95L99.75 134.15L100 131.27L100.25 128.62L100.5 126.53L100.75 125.32L101 125.18L101.25 126.12L101.5 127.98L101.75 130.48L102 133.26L102.25 136.02L102.5 138.51L102.75 140.63L103 142.34L103.25 143.69L103.5 144.74L103.75 145.58L104 146.26L104.25 146.84L104.5 147.34L104.75 147.77L105 148.16L105.25 148.49L105.5 148.78L105.75 149.02L106 149.22L106.25 149.39L106.5 149.52L106.75 149.63L107 149.71L107.25 149.77L107.5 149.81L107.75 149.84L108 149.86L108.25 149.88L108.5 149.88L108.75 149.89L109 149.89L109.25 149.9L109.5 149.9L109.75 149.9L110 149.9L110.25 149.9L110.5 149.9L110.75 149.9L111 149.9L111.25 149.9L111.5 149.9L111.75 149.9L112 149.9L112.25 149.9L112.5 149.9L112.75 149.9L113 149.9L113.25 149.9L113.5 149.9L113.75 149.9L114 149.9L114.25 149.9L114.5 149.9L114.75 149.9L115 149.9L115.25 149.9L115.5 149.9L115.75 149.9L116 149.9L116.25 149.9L116.5 149.9L116.75 149.9L117 149.9L117.25 149.9L117.5 149.9L117.75 149.9L118 149.9L118.25 149.9L118.5 149.9L118.75 149.9L119 149.9L119.25 149.9L119.5 149.9L119.5 149.9Z" fill="#c6c6c6"/>
<path d="M46 149.9L46.25 149.9L46.5 149.9L46.75 149.9L47 149.9L47.25 149.9L47.5 149.9L47.75 149.9L48 149.9L48.25 149.9L48.5 149.9L48.75 149.9L49 149.9L49.25 149.9L49.5 149.9L49.75 149.9L50 149.9L50.25 149.9L50.5 149.9L50.75 149.9L51 149.9L51.25 149.9L51.5 149.9L51.75 149.9L52 149.9L52.25 149.9L52.5 149.9L52.75 149.9L53 149.9L53.25 149.9L53.5 149.9L53.75 149.9L54 149.9L54.25 149.9L54.5 149.9L54.75 149.9L55 149.9L55.25 149.9L55.5 149.9L55.75 149.9L56 149.9L56.25 149.9L56.5 149.9L56.75 149.9L57 149.9L57.25 149.9L57.5 149.9L57.75 149.9L58 149.9L58.25 149.9L58.5 149.9L58.75 149.9L59 149.9L59.25 149.9L59.5 149.9L59.75 149.9L60 149.9L60.25 149.9L60.5 149.9L60.75 149.9L61 149.9L61.25 149.9L61.5 149.9L61.75 149.9L62 149.9L62.25 149.9L62.5 149.9L62.75 149.9L63 149.9L63.25 149.9L63.5 149.9L63.75 149.9L64 149.9L64.25 149.9L64.5 149.9L64.75 149.9L65 149.9L65.25 149.9L65.5 149.9L65.75 149.9L66 149.9L66.25 149.9L66.5 149.9L66.75 149.9L67 149.9L67.25 149.9L67.5 149.9L67.75 149.9L68 149.9L68.25 149.9L68.5 149.9L68.75 149.9L69 149.9L69.25 149.9L69.5 149.9L69.75 149.9L70 149.9L70.25 149.9L70.5 149.9L70.75 149.9L71 149.9L71.25 149.9L71.5 149.9L71.75 149.9L72 149.9L72.25 149.9L72.5 149.9L72.75 149.9L73 149.9L73.25 149.9L73.5 149.9L73.75 149.9L74 149.9L74.25 149.9L74.5 149.9L74.75 149.9L75 149.9L75.25 149.9L75.5 149.9L75.75 149.9L76 149.9L76.25 149.9L76.5 149.9L76.75 149.9L77 149.9L77.25 149.9L77.5 149.9L77.75 149.9L78 149.9L78.25 149.9L78.5 149.9L78.75 149.9L79 149.9L79.25 149.9L79.5 149.9L79.75 149.9L80 149.9L80.25 149.9L80.5 149.9L80.75 149.9L81 149.9L81.25 149.9L81.5 149.9L81.75 149.9L82 149.9L82.25 149.9L82.5 149.9L82.75 149.9L83 149.9L83.25 149.9L83.5 149.9L83.75 149.9L84 149.9L84.25 149.9L84.5 149.9L84.75 149.9L85 149.9L85.25 149.9L85.5 149.9L85.75 149.9L86 149.9L86.25 149.9L86.5 149.9L86.75 149.9L87 149.9L87.25 149.9L87.5 149.9L87.75 149.9L88 149.9L88.25 149.9L88.5 149.9L88.75 149.9L89 149.9L89.25 149.9L89.5 149.9L89.75 149.9L90 149.9L90.25 149.9L90.5 149.9L90.75 149.9L91 149.9L91.25 149.9L91.5 149.9L91.75 149.9L92 149.9L92.25 149.9L92.5 149.9L92.75 149.9L93 149.9L93.25 149.89L93.5 149.89L93.75 149.88L94 149.88L94.25 149.86L94.5 149.85L94.75 149.82L95 149.78L95.25 149.73L95.5 149.66L95.75 149.57L96 149.45L96.25 149.3L96.5 149.1L96.75 148.85L97 148.55L97.25 148.18L97.5 147.73L97.75 147.19L98 146.52L98.25 145.69L98.5 144.64L98.75 143.29L99 141.58L99.25 139.47L99.5 136.95L99.75 134.15L100 131.27L100.25 128.62L100.5 126.53L100.75 125.32L101 125.18L101.25 126.12L101.5 127.98L101.75 130.48L102 133.26L102.25 136.02L102.5 138.51L102.75 140.63L103 142.34L103.25 143.69L103.5 144.74L103.75 145.58L104 146.26L104.25 146.84L104.5 147.34L104.75 147.77L105 148.16L105.25 148.49L105.5 148.78L105.75 149.02L106 149.22L106.25 149.39L106.5 149.52L106.75 149.63L107 149.71L107.25 149.77L107.5 149.81L107.75 149.84L108 149.86L108.25 149.88L108.5 149.88L108.75 149.89L109 149.89L109.25 149.9L109.5 149.9L109.75 149.9L110 149.9L110.25 149.9L110.5 149.9L110.75 149.9L111 149.9L111.25 149.9L111.5 149.9L111.75 149.9L112 149.9L112.25 149.9L112.5 149.9L112.75 149.9L113 149.9L113.25 149.9L113.5 149.9L113.75 149.9L114 149.9L114.25 149.9L114.5 149.9L114.75 149.9L115 149.9L115.25 149.9L115.5 149.9L115.75 149.9L116 149.9L116.25 149.9L116.5 149.9L116.75 149.9L117 149.9L117.25 149.9L117.5 149.9L117.75 149.9L118 149.9L118.25 149.9L118.5 149.9L118.75 149.9L119 149.9L119.25 149.9L119.5 149.9" fill="none" stroke="#222" stroke-width="0.6"/>
<path d="M125.8 149.9L125.8 149.9L126.05 149.9L126.3 149.9L126.55 149.9L126.8 149.9L127.05 149.9L127.3 149.9L127.55 149.9L127.8 149.9L128.05 149.9L128.3 149.9L128.55 149.9L128.8 149.9L129.05 149.9L129.3 149.9L129.55 149.9L129.8 149.9L130.05 149.9L130.3 149.9L130.55 149.9L130.8 149.9L131.05 149.9L131.3 149.9L131.55 149.9L131.8 149.9L132.05 149.9L132.3 149.9L132.55 149.9L132.8 149.9L133.05 149.9L133.3 149.9L133.55 149.9L133.8 149.9L134.05 149.9L134.3 149.9L134.55 149.9L134.8 149.9L135.05 149.9L135.3 149.9L135.55 149.9L135.8 149.9L136.05 149.9L136.3 149.9L136.55 149.9L136.8 149.9L137.05 149.9L137.3 149.9L137.55 149.9L137.8 149.9L138.05 149.9L138.3 149.9L138.55 149.9L138.8 149.9L139.05 149.9L139.3 149.9L139.55 149.9L139.8 149.9L140.05 149.9L140.3 149.9L140.55 149.9L140.8 149.9L141.05 149.9L141.3 149.9L141.55 149.9L141.8 149.9L142.05 149.9L142.3 149.9L142.55 149.9L142.8 149.9L143.05 149.9L143.3 149.9L143.55 149.9L143.8 149.9L144.05 149.9L144.3 149.9L144.55 149.9L144.8 149.9L145.05 149.9L145.3 149.9L145.55 149.9L145.8 149.9L146.05 149.9L146.3 149.9L146.55 149.9L146.8 149.9L147.05 149.9L147.3 149.9L147.55 149.9L147.8 149.9L148.05 149.9L148.3 149.9L148.55 149.9L148.8 149.9L149.05 149.9L149.3 149.9L149.55 149.9L149.8 149.9L150.05 149.9L150.3 149.9L150.55 149.9L150.8 149.9L151.05 149.9L151.3 149.9L151.55 149.9L151.8 149.9L152.05 149.9L152.3 149.9L152.55 149.9L152.8 149.9L153.05 149.9L153.3 149.9L153.55 149.9L153.8 149.9L154.05 149.9L154.3 149.9L154.55 149.9L154.8 149.9L155.05 149.9L155.3 149.9L155.55 149.9L155.8 149.9L156.05 149.9L156.3 149.9L156.55 149.9L156.8 149.9L157.05 149.9L157.3 149.9L157.55 149.9L157.8 149.9L158.05 149.9L158.3 149.9L158.55 149.9L158.8 149.9L159.05 149.9L159.3 149.9L159.55 149.9L159.8 149.9L160.05 149.9L160.3 149.9L160.55 149.9L160.8 149.9L161.05 149.9L161.3 149.9L161.55 149.9L161.8 149.9L162.05 149.9L162.3 149.9L162.55 149.9L162.8 149.9L163.05 149.9L163.3 149.9L163.55 149.9L163.8 149.9L164.05 149.9L164.3 149.9L164.55 149.9L164.8 149.9L165.05 149.9L165.3 149.9L165.55 149.9L165.8 149.9L166.05 149.9L166.3 149.9L166.55 149.9L166.8 149.9L167.05 149.9L167.3 149.9L167.55 149.9L167.8 149.9L168.05 149.9L168.3 149.9L168.55 149.9L168.8 149.9L169.05 149.9L169.3 149.9L169.55 149.9L169.8 149.9L170.05 149.9L170.3 149.9L170.55 149.9L170.8 149.9L171.05 149.9L171.3 149.9L171.55 149.9L171.8 149.9L172.05 149.89L172.3 149.89L172.55 149.89L172.8 149.88L173.05 149.88L173.3 149.86L173.55 149.85L173.8 149.83L174.05 149.8L174.3 149.77L174.55 149.72L174.8 149.66L175.05 149.58L175.3 149.48L175.55 149.36L175.8 149.2L176.05 149.02L176.3 148.79L176.55 148.52L176.8 148.21L177.05 147.85L177.3 147.43L177.55 146.96L177.8 146.44L178.05 145.85L178.3 145.18L178.55 144.41L178.8 143.51L179.05 142.42L179.3 141.07L179.55 139.41L179.8 137.38L180.05 135.02L180.3 132.44L180.55 129.84L180.8 127.51L181.05 125.77L181.3 124.88L181.55 124.98L181.8 126.06L182.05 127.94L182.3 130.35L182.55 132.96L182.8 135.52L183.05 137.81L183.3 139.77L183.55 141.37L183.8 142.66L184.05 143.71L184.3 144.58L184.55 145.32L184.8 145.97L185.05 146.55L185.3 147.06L185.55 147.52L185.8 147.92L186.05 148.28L186.3 148.58L186.55 148.84L186.8 149.06L187.05 149.24L187.3 149.38L187.55 149.5L187.8 149.6L188.05 149.67L188.3 149.73L188.55 149.77L188.8 149.81L189.05 149.83L189.3 149.85L189.55 149.87L189.8 149.88L190.05 149.88L190.3 149.89L190.55 149.89L190.8 149.9L191.05 149.9L191.3 149.9L191.55 149.9L191.8 149.9L192.05 149.9L192.3 149.9L192.55 149.9L192.8 149.9L193.05 149.9L193.3 149.9L193.55 149.9L193.8 149.9L194.05 149.9L194.3 149.9L194.55 149.9L194.8 149.9L195.05 149.9L195.3 149.9L195.55 149.9L195.8 149.9L196.05 149.9L196.3 149.9L196.55 149.9L196.8 149.9L197.05 149.9L197.3 149.9L197.55 149.9L197.8 149.9L198.05 149.9L198.3 149.9L198.55 149.9L198.8 149.9L199.05 149.9L199.3 149.9L199.3 149.9Z" fill="#fbc8c8"/>
<path d="M125.8 149.9L126.05 149.9L126.3 149.9L126.55 149.9L126.8 149.9L127.05 149.9L127.3 149.9L127.55 149.9L127.8 149.9L128.05 149.9L128.3 149.9L128.55 149.9L128.8 149.9L129.05 149.9L129.3 149.9L129.55 149.9L129.8 149.9L130.05 149.9L130.3 149.9L130.55 149.9L130.8 149.9L131.05 149.9L131.3 149.9L131.55 149.9L131.8 149.9L132.05 149.9L132.3 149.9L132.55 149.9L132.8 149.9L133.05 149.9L133.3 149.9L133.55 149.9L133.8 149.9L134.05 149.9L134.3 149.9L134.55 149.9L134.8 149.9L135.05 149.9L135.3 149.9L135.55 149.9L135.8 149.9L136.05 149.9L136.3 149.9L136.55 149.9L136.8 149.9L137.05 149.9L137.3 149.9L137.55 149.9L137.8 149.9L138.05 149.9L138.3 149.9L138.55 149.9L138.8 149.9L139.05 149.9L139.3 149.9L139.55 149.9L139.8 149.9L140.05 149.9L140.3 149.9L140.55 149.9L140.8 149.9L141.05 149.9L141.3 149.9L141.55 149.9L141.8 149.9L142.05 149.9L142.3 149.9L142.55 149.9L142.8 149.9L143.05 149.9L143.3 149.9L143.55 149.9L143.8 149.9L144.05 149.9L144.3 149.9L144.55 149.9L144.8 149.9L145.05 149.9L145.3 149.9L145.55 149.9L145.8 149.9L146.05 149.9L146.3 149.9L146.55 149.9L146.8 149.9L147.05 149.9L147.3 149.9L147.55 149.9L147.8 149.9L148.05 149.9L148.3 149.9L148.55 149.9L148.8 149.9L149.05 149.9L149.3 149.9L149.55 149.9L149.8 149.9L150.05 149.9L150.3 149.9L150.55 149.9L150.8 149.9L151.05 149.9L151.3 149.9L151.55 149.9L151.8 149.9L152.05 149.9L152.3 149.9L152.55 149.9L152.8 149.9L153.05 149.9L153.3 149.9L153.55 149.9L153.8 149.9L154.05 149.9L154.3 149.9L154.55 149.9L154.8 149.9L155.05 149.9L155.3 149.9L155.55 149.9L155.8 149.9L156.05 149.9L156.3 149.9L156.55 149.9L156.8 149.9L157.05 149.9L157.3 149.9L157.55 149.9L157.8 149.9L158.05 149.9L158.3 149.9L158.55 149.9L158.8 149.9L159.05 149.9L159.3 149.9L159.55 149.9L159.8 149.9L160.05 149.9L160.3 149.9L160.55 149.9L160.8 149.9L161.05 149.9L161.3 149.9L161.55 149.9L161.8 149.9L162.05 149.9L162.3 149.9L162.55 149.9L162.8 149.9L163.05 149.9L163.3 149.9L163.55 149.9L163.8 149.9L164.05 149.9L164.3 149.9L164.55 149.9L164.8 149.9L165.05 149.9L165.3 149.9L165.55 149.9L165.8 149.9L166.05 149.9L166.3 149.9L166.55 149.9L166.8 149.9L167.05 149.9L167.3 149.9L167.55 149.9L167.8 149.9L168.05 149.9L168.3 149.9L168.55 149.9L168.8 149.9L169.05 149.9L169.3 149.9L169.55 149.9L169.8 149.9L170.05 149.9L170.3 149.9L170.55 149.9L170.8 149.9L171.05 149.9L171.3 149.9L171.55 149.9L171.8 149.9L172.05 149.89L172.3 149.89L172.55 149.89L172.8 149.88L173.05 149.88L173.3 149.86L173.55 149.85L173.8 149.83L174.05 149.8L174.3 149.77L174.55 149.72L174.8 149.66L175.05 149.58L175.3 149.48L175.55 149.36L175.8 149.2L176.05 149.02L176.3 148.79L176.55 148.52L176.8 148.21L177.05 147.85L177.3 147.43L177.55 146.96L177.8 146.44L178.05 145.85L178.3 145.18L178.55 144.41L178.8 143.51L179.05 142.42L179.3 141.07L179.55 139.41L179.8 137.38L180.05 135.02L180.3 132.44L180.55 129.84L180.8 127.51L181.05 125.77L181.3 124.88L181.55 124.98L181.8 126.06L182.05 127.94L182.3 130.35L182.55 132.96L182.8 135.52L183.05 137.81L183.3 139.77L183.55 141.37L183.8 142.66L184.05 143.71L184.3 144.58L184.55 145.32L184.8 145.97L185.05 146.55L185.3 147.06L185.55 147.52L185.8 147.92L186.05 148.28L186.3 148.58L186.55 148.84L186.8 149.06L187.05 149.24L187.3 149.38L187.55 149.5L187.8 149.6L188.05 149.67L188.3 149.73L188.55 149.77L188.8 149.81L189.05 149.83L189.3 149.85L189.55 149.87L189.8 149.88L190.05 149.88L190.3 149.89L190.55 149.89L190.8 149.9L191.05 149.9L191.3 149.9L191.55 149.9L191.8 149.9L192.05 149.9L192.3 149.9L192.55 149.9L192.8 149.9L193.05 149.9L193.3 149.9L193.55 149.9L193.8 149.9L194.05 149.9L194.3 149.9L194.55 149.9L194.8 149.9L195.05 149.9L195.3 149.9L195.55 149.9L195.8 149.9L196.05 149.9L196.3 149.9L196.55 149.9L196.8 149.9L197.05 149.9L197.3 149.9L197.55 149.9L197.8 149.9L198.05 149.9L198.3 149.9L198.55 149.9L198.8 149.9L199.05 149.9L199.3 149.9" fill="none" stroke="#f43c3c" stroke-width="0.7"/>
<text x="83.4" y="146.3" font-size="4.7" font-weight="bold" text-anchor="end" fill="#1a1a1a" stroke="#1a1a1a" stroke-width="0.08">5.4%</text>
<text x="164" y="146.3" font-size="4.7" font-weight="bold" text-anchor="end" fill="#1a1a1a" stroke="#1a1a1a" stroke-width="0.08">15.7%</text>
<line x1="45.3" y1="42.5" x2="120.3" y2="42.5" stroke="#8a8a8a" stroke-width="0.7"/>
<line x1="45.3" y1="69.2" x2="120.3" y2="69.2" stroke="#8a8a8a" stroke-width="0.7"/>
<line x1="45.3" y1="95.8" x2="120.3" y2="95.8" stroke="#8a8a8a" stroke-width="0.7"/>
<line x1="45.3" y1="122.4" x2="120.3" y2="122.4" stroke="#8a8a8a" stroke-width="0.7"/>
<rect x="45.3" y="15.5" width="75" height="134.4" fill="none" stroke="#7a7a7a" stroke-width="0.9"/>
<rect x="125.3" y="15.5" width="74.6" height="134.4" fill="none" stroke="#7a7a7a" stroke-width="0.9"/>
<line x1="45.3" y1="149.9" x2="120.3" y2="149.9" stroke="#555" stroke-width="0.8"/>
<text x="49.1" y="155.6" font-size="2.8" text-anchor="middle" fill="#666" transform="rotate(-45 49.1 155.6)">10</text>
<text x="72.1" y="155.6" font-size="2.8" text-anchor="middle" fill="#666" transform="rotate(-45 72.1 155.6)">10</text>
<text x="95.1" y="155.6" font-size="2.8" text-anchor="middle" fill="#666" transform="rotate(-45 95.1 155.6)">10</text>
<text x="118.1" y="155.6" font-size="2.8" text-anchor="middle" fill="#666" transform="rotate(-45 118.1 155.6)">10</text>
<path d="M49.7 149.9v2.0M53.16 149.9v1.5M64.66 149.9v1.5M55.19 149.9v1.5M66.69 149.9v1.5M56.62 149.9v1.5M68.12 149.9v1.5M57.74 149.9v1.5M69.24 149.9v1.5M58.65 149.9v1.5M70.15 149.9v1.5M59.42 149.9v1.5M70.92 149.9v1.5M60.09 149.9v1.5M71.59 149.9v1.5M60.67 149.9v1.5M72.17 149.9v1.5M61.2 149.9v1.5M72.7 149.9v1.5M72.7 149.9v2.0M76.16 149.9v1.5M87.66 149.9v1.5M78.19 149.9v1.5M89.69 149.9v1.5M79.62 149.9v1.5M91.12 149.9v1.5M80.74 149.9v1.5M92.24 149.9v1.5M81.65 149.9v1.5M93.15 149.9v1.5M82.42 149.9v1.5M93.92 149.9v1.5M83.09 149.9v1.5M94.59 149.9v1.5M83.67 149.9v1.5M95.17 149.9v1.5M84.2 149.9v1.5M95.7 149.9v1.5M95.7 149.9v2.0M99.16 149.9v1.5M110.66 149.9v1.5M101.19 149.9v1.5M112.69 149.9v1.5M102.62 149.9v1.5M114.12 149.9v1.5M103.74 149.9v1.5M115.24 149.9v1.5M104.65 149.9v1.5M116.15 149.9v1.5M105.42 149.9v1.5M116.92 149.9v1.5M106.09 149.9v1.5M117.59 149.9v1.5M106.67 149.9v1.5M118.17 149.9v1.5M107.2 149.9v1.5M118.7 149.9v1.5M118.7 149.9v2.0" fill="none" stroke="#333" stroke-width="0.5"/>
<line x1="125.3" y1="149.9" x2="199.9" y2="149.9" stroke="#555" stroke-width="0.8"/>
<text x="129.1" y="155.6" font-size="2.8" text-anchor="middle" fill="#666" transform="rotate(-45 129.1 155.6)">10</text>
<text x="152.1" y="155.6" font-size="2.8" text-anchor="middle" fill="#666" transform="rotate(-45 152.1 155.6)">10</text>
<text x="175.1" y="155.6" font-size="2.8" text-anchor="middle" fill="#666" transform="rotate(-45 175.1 155.6)">10</text>
<text x="198.1" y="155.6" font-size="2.8" text-anchor="middle" fill="#666" transform="rotate(-45 198.1 155.6)">10</text>
<path d="M129.7 149.9v2.0M133.16 149.9v1.5M144.66 149.9v1.5M135.19 149.9v1.5M146.69 149.9v1.5M136.62 149.9v1.5M148.12 149.9v1.5M137.74 149.9v1.5M149.24 149.9v1.5M138.65 149.9v1.5M150.15 149.9v1.5M139.42 149.9v1.5M150.92 149.9v1.5M140.09 149.9v1.5M151.59 149.9v1.5M140.67 149.9v1.5M152.17 149.9v1.5M141.2 149.9v1.5M152.7 149.9v1.5M152.7 149.9v2.0M156.16 149.9v1.5M167.66 149.9v1.5M158.19 149.9v1.5M169.69 149.9v1.5M159.62 149.9v1.5M171.12 149.9v1.5M160.74 149.9v1.5M172.24 149.9v1.5M161.65 149.9v1.5M173.15 149.9v1.5M162.42 149.9v1.5M173.92 149.9v1.5M163.09 149.9v1.5M174.59 149.9v1.5M163.67 149.9v1.5M175.17 149.9v1.5M164.2 149.9v1.5M175.7 149.9v1.5M175.7 149.9v2.0M179.16 149.9v1.5M190.66 149.9v1.5M181.19 149.9v1.5M192.69 149.9v1.5M182.62 149.9v1.5M194.12 149.9v1.5M183.74 149.9v1.5M195.24 149.9v1.5M184.65 149.9v1.5M196.15 149.9v1.5M185.42 149.9v1.5M196.92 149.9v1.5M186.09 149.9v1.5M197.59 149.9v1.5M186.67 149.9v1.5M198.17 149.9v1.5M187.2 149.9v1.5M198.7 149.9v1.5M198.7 149.9v2.0" fill="none" stroke="#333" stroke-width="0.5"/>
<text x="46.5" y="167.9" font-size="7.6" fill="#222" stroke="#222" stroke-width="0.18" textLength="19.6" lengthAdjust="spacingAndGlyphs">CFSE</text>
<line x1="70.2" y1="165.6" x2="196.5" y2="165.6" stroke="#222" stroke-width="0.8"/>
<path d="M200.2 165.6L195.5 163.7L195.5 167.5Z" fill="#222"/>
<line x1="240.3" y1="26" x2="240.3" y2="127.9" stroke="#222" stroke-width="1.3"/>
<line x1="239.7" y1="127.3" x2="392.6" y2="127.3" stroke="#222" stroke-width="1.3"/>
<line x1="236" y1="127.3" x2="240.3" y2="127.3" stroke="#222" stroke-width="1.2"/>
<text x="235.4" y="129.9" font-size="7.5" font-weight="bold" text-anchor="end" fill="#222" stroke="#222" stroke-width="0.13">0</text>
<line x1="236" y1="107.18" x2="240.3" y2="107.18" stroke="#222" stroke-width="1.2"/>
<text x="235.4" y="109.78" font-size="7.5" font-weight="bold" text-anchor="end" fill="#222" stroke="#222" stroke-width="0.13">20</text>
<line x1="236" y1="87.06" x2="240.3" y2="87.06" stroke="#222" stroke-width="1.2"/>
<text x="235.4" y="89.66" font-size="7.5" font-weight="bold" text-anchor="end" fill="#222" stroke="#222" stroke-width="0.13">40</text>
<line x1="236" y1="66.94" x2="240.3" y2="66.94" stroke="#222" stroke-width="1.2"/>
<text x="235.4" y="69.54" font-size="7.5" font-weight="bold" text-anchor="end" fill="#222" stroke="#222" stroke-width="0.13">60</text>
<line x1="236" y1="46.82" x2="240.3" y2="46.82" stroke="#222" stroke-width="1.2"/>
<text x="235.4" y="49.42" font-size="7.5" font-weight="bold" text-anchor="end" fill="#222" stroke="#222" stroke-width="0.13">80</text>
<line x1="236" y1="26.7" x2="240.3" y2="26.7" stroke="#222" stroke-width="1.2"/>
<text x="235.4" y="29.3" font-size="7.5" font-weight="bold" text-anchor="end" fill="#222" stroke="#222" stroke-width="0.13">100</text>
<line x1="254.4" y1="127.3" x2="254.4" y2="131" stroke="#222" stroke-width="1.2"/>
<text x="254.4" y="140.4" font-size="7.6" font-weight="bold" text-anchor="middle" fill="#222" stroke="#222" stroke-width="0.14">1:0</text>
<line x1="285.3" y1="127.3" x2="285.3" y2="131" stroke="#222" stroke-width="1.2"/>
<text x="285.3" y="140.4" font-size="7.6" font-weight="bold" text-anchor="middle" fill="#222" stroke="#222" stroke-width="0.14">1:0.1</text>
<line x1="316.2" y1="127.3" x2="316.2" y2="131" stroke="#222" stroke-width="1.2"/>
<text x="316.2" y="140.4" font-size="7.6" font-weight="bold" text-anchor="middle" fill="#222" stroke="#222" stroke-width="0.14">1:0.25</text>
<line x1="347.1" y1="127.3" x2="347.1" y2="131" stroke="#222" stroke-width="1.2"/>
<text x="347.1" y="140.4" font-size="7.6" font-weight="bold" text-anchor="middle" fill="#222" stroke="#222" stroke-width="0.14">1:0.5</text>
<line x1="378" y1="127.3" x2="378" y2="131" stroke="#222" stroke-width="1.2"/>
<text x="378" y="140.4" font-size="7.6" font-weight="bold" text-anchor="middle" fill="#222" stroke="#222" stroke-width="0.14">1:1</text>
<text x="316.5" y="155" font-size="7.9" font-weight="bold" text-anchor="middle" fill="#222" stroke="#222" stroke-width="0.14">E:T Ratio</text>
<text x="219.3" y="76.6" font-size="8.2" font-weight="bold" text-anchor="middle" fill="#222" stroke="#222" stroke-width="0.15" transform="rotate(-90 219.3 76.6)">Proliferation (%)</text>
<line x1="248.1" y1="46.2" x2="248.1" y2="61.4" stroke="#000" stroke-width="0.7"/>
<line x1="246.5" y1="46.2" x2="249.7" y2="46.2" stroke="#000" stroke-width="0.7"/>
<line x1="246.5" y1="61.4" x2="249.7" y2="61.4" stroke="#000" stroke-width="0.7"/>
<path d="M246.3 45.66L248.1 48.9L244.5 48.9Z" fill="#000"/>
<path d="M248.6 44.46L250.4 47.7L246.8 47.7Z" fill="#000"/>
<path d="M250.3 45.96L252.1 49.2L248.5 49.2Z" fill="#000"/>
<circle cx="246.4" cy="49.2" r="1.5" fill="#000"/>
<circle cx="249.6" cy="49" r="1.5" fill="#000"/>
<path d="M247.8 47.96L249.6 51.2L246 51.2Z" fill="#000"/>
<circle cx="248" cy="58.4" r="1.5" fill="#000"/>
<circle cx="248.4" cy="61" r="1.5" fill="#000"/>
<circle cx="247.8" cy="62.6" r="1.5" fill="#000"/>
<circle cx="248.1" cy="64.4" r="1.5" fill="#000"/>
<path d="M248 68.66L249.8 71.9L246.2 71.9Z" fill="#000"/>
<line x1="244.3" y1="53.8" x2="251.9" y2="53.8" stroke="#111" stroke-width="1.3"/>
<line x1="259.6" y1="46.6" x2="259.6" y2="67.6" stroke="#f01a1a" stroke-width="0.7"/>
<line x1="258" y1="46.6" x2="261.2" y2="46.6" stroke="#f01a1a" stroke-width="0.7"/>
<line x1="258" y1="67.6" x2="261.2" y2="67.6" stroke="#f01a1a" stroke-width="0.7"/>
<circle cx="257.5" cy="43.4" r="1.5" fill="#f01a1a"/>
<circle cx="261.8" cy="42.6" r="1.5" fill="#f01a1a"/>
<circle cx="259.5" cy="46.4" r="1.5" fill="#f01a1a"/>
<circle cx="259.8" cy="51.5" r="1.5" fill="#f01a1a"/>
<path d="M258.3 54.46L260.1 57.7L256.5 57.7Z" fill="#f01a1a"/>
<circle cx="258.4" cy="58.2" r="1.5" fill="#f01a1a"/>
<circle cx="260.6" cy="59" r="1.5" fill="#f01a1a"/>
<circle cx="259.2" cy="60.5" r="1.5" fill="#f01a1a"/>
<path d="M260 62.26L261.8 65.5L258.2 65.5Z" fill="#f01a1a"/>
<path d="M259.5 65.66L261.3 68.9L257.7 68.9Z" fill="#f01a1a"/>
<circle cx="258.6" cy="72.4" r="1.5" fill="#f01a1a"/>
<circle cx="260.6" cy="73" r="1.5" fill="#f01a1a"/>
<line x1="256" y1="57.4" x2="263.6" y2="57.4" stroke="#111" stroke-width="1.3"/>
<line x1="279.1" y1="53" x2="279.1" y2="86" stroke="#000" stroke-width="0.7"/>
<line x1="277.5" y1="53" x2="280.7" y2="53" stroke="#000" stroke-width="0.7"/>
<line x1="277.5" y1="86" x2="280.7" y2="86" stroke="#000" stroke-width="0.7"/>
<circle cx="278.8" cy="46.5" r="1.5" fill="#000"/>
<circle cx="279.6" cy="48.5" r="1.5" fill="#000"/>
<path d="M279.1 51.36L280.9 54.6L277.3 54.6Z" fill="#000"/>
<circle cx="279.1" cy="61.8" r="1.5" fill="#000"/>
<circle cx="279.1" cy="72.7" r="1.5" fill="#000"/>
<circle cx="279.3" cy="76.3" r="1.5" fill="#000"/>
<circle cx="278.3" cy="78.5" r="1.5" fill="#000"/>
<circle cx="280" cy="78.6" r="1.5" fill="#000"/>
<path d="M279.8 76.96L281.6 80.2L278 80.2Z" fill="#000"/>
<path d="M279.1 81.26L280.9 84.5L277.3 84.5Z" fill="#000"/>
<circle cx="279.1" cy="89.6" r="1.5" fill="#000"/>
<line x1="275.1" y1="69.1" x2="283.1" y2="69.1" stroke="#111" stroke-width="1.3"/>
<line x1="290.9" y1="58" x2="290.9" y2="82" stroke="#f01a1a" stroke-width="0.7"/>
<line x1="289.3" y1="58" x2="292.5" y2="58" stroke="#f01a1a" stroke-width="0.7"/>
<line x1="289.3" y1="82" x2="292.5" y2="82" stroke="#f01a1a" stroke-width="0.7"/>
<circle cx="290.8" cy="53.9" r="1.5" fill="#f01a1a"/>
<circle cx="290.3" cy="59.4" r="1.5" fill="#f01a1a"/>
<circle cx="291.2" cy="61.2" r="1.5" fill="#f01a1a"/>
<path d="M291.3 63.66L293.1 66.9L289.5 66.9Z" fill="#f01a1a"/>
<circle cx="290.3" cy="75.7" r="1.5" fill="#f01a1a"/>
<circle cx="291.5" cy="78.1" r="1.5" fill="#f01a1a"/>
<path d="M291.8 77.56L293.6 80.8L290 80.8Z" fill="#f01a1a"/>
<circle cx="290.5" cy="82.4" r="1.5" fill="#f01a1a"/>
<circle cx="291.3" cy="83.6" r="1.5" fill="#f01a1a"/>
<line x1="287" y1="70" x2="294.8" y2="70" stroke="#111" stroke-width="1.3"/>
<line x1="310" y1="104" x2="310" y2="112" stroke="#000" stroke-width="0.7"/>
<line x1="308.4" y1="104" x2="311.6" y2="104" stroke="#000" stroke-width="0.7"/>
<line x1="308.4" y1="112" x2="311.6" y2="112" stroke="#000" stroke-width="0.7"/>
<circle cx="307.7" cy="103.6" r="1.5" fill="#000"/>
<path d="M312.5 101.46L314.3 104.7L310.7 104.7Z" fill="#000"/>
<circle cx="310" cy="105.4" r="1.5" fill="#000"/>
<circle cx="309.5" cy="106.5" r="1.5" fill="#000"/>
<path d="M307.5 105.76L309.3 109L305.7 109Z" fill="#000"/>
<path d="M312 106.06L313.8 109.3L310.2 109.3Z" fill="#000"/>
<circle cx="310.2" cy="113.2" r="1.5" fill="#000"/>
<circle cx="311" cy="113.9" r="1.5" fill="#000"/>
<line x1="306.3" y1="107.9" x2="313.8" y2="107.9" stroke="#111" stroke-width="1.3"/>
<line x1="321.8" y1="92" x2="321.8" y2="103" stroke="#f01a1a" stroke-width="0.7"/>
<line x1="320.2" y1="92" x2="323.4" y2="92" stroke="#f01a1a" stroke-width="0.7"/>
<line x1="320.2" y1="103" x2="323.4" y2="103" stroke="#f01a1a" stroke-width="0.7"/>
<circle cx="320.7" cy="90.7" r="1.5" fill="#f01a1a"/>
<circle cx="322.5" cy="92.5" r="1.5" fill="#f01a1a"/>
<circle cx="323.5" cy="95" r="1.5" fill="#f01a1a"/>
<path d="M320.5 95.76L322.3 99L318.7 99Z" fill="#f01a1a"/>
<circle cx="319.5" cy="98.9" r="1.5" fill="#f01a1a"/>
<path d="M322 98.76L323.8 102L320.2 102Z" fill="#f01a1a"/>
<circle cx="321" cy="103.2" r="1.5" fill="#f01a1a"/>
<circle cx="323.5" cy="104.3" r="1.5" fill="#f01a1a"/>
<line x1="318.2" y1="97.5" x2="325.7" y2="97.5" stroke="#111" stroke-width="1.3"/>
<line x1="341.2" y1="113" x2="341.2" y2="121" stroke="#000" stroke-width="0.7"/>
<line x1="339.6" y1="113" x2="342.8" y2="113" stroke="#000" stroke-width="0.7"/>
<line x1="339.6" y1="121" x2="342.8" y2="121" stroke="#000" stroke-width="0.7"/>
<circle cx="340" cy="111.9" r="1.5" fill="#000"/>
<circle cx="341.5" cy="114.4" r="1.5" fill="#000"/>
<circle cx="342.5" cy="116.3" r="1.5" fill="#000"/>
<path d="M344 115.26L345.8 118.5L342.2 118.5Z" fill="#000"/>
<circle cx="338.5" cy="117.3" r="1.5" fill="#000"/>
<circle cx="341" cy="118.2" r="1.5" fill="#000"/>
<circle cx="343" cy="118.8" r="1.5" fill="#000"/>
<circle cx="343.5" cy="121.7" r="1.5" fill="#000"/>
<line x1="337.4" y1="117" x2="345" y2="117" stroke="#111" stroke-width="1.3"/>
<line x1="352.8" y1="106" x2="352.8" y2="117" stroke="#f01a1a" stroke-width="0.7"/>
<line x1="351.2" y1="106" x2="354.4" y2="106" stroke="#f01a1a" stroke-width="0.7"/>
<line x1="351.2" y1="117" x2="354.4" y2="117" stroke="#f01a1a" stroke-width="0.7"/>
<circle cx="351.5" cy="103.8" r="1.5" fill="#f01a1a"/>
<circle cx="353.5" cy="104.7" r="1.5" fill="#f01a1a"/>
<circle cx="354" cy="106.3" r="1.5" fill="#f01a1a"/>
<circle cx="353" cy="107.5" r="1.5" fill="#f01a1a"/>
<circle cx="353.5" cy="113.5" r="1.5" fill="#f01a1a"/>
<circle cx="351" cy="114.4" r="1.5" fill="#f01a1a"/>
<circle cx="352.5" cy="116" r="1.5" fill="#f01a1a"/>
<path d="M355 116.46L356.8 119.7L353.2 119.7Z" fill="#f01a1a"/>
<path d="M353 116.76L354.8 120L351.2 120Z" fill="#f01a1a"/>
<line x1="349.1" y1="111.5" x2="356.6" y2="111.5" stroke="#111" stroke-width="1.3"/>
<line x1="372.2" y1="117" x2="372.2" y2="123" stroke="#000" stroke-width="0.7"/>
<line x1="370.6" y1="117" x2="373.8" y2="117" stroke="#000" stroke-width="0.7"/>
<line x1="370.6" y1="123" x2="373.8" y2="123" stroke="#000" stroke-width="0.7"/>
<circle cx="371.5" cy="115.9" r="1.5" fill="#000"/>
<circle cx="373" cy="116.2" r="1.5" fill="#000"/>
<circle cx="371.5" cy="117.5" r="1.5" fill="#000"/>
<circle cx="372" cy="119.1" r="1.5" fill="#000"/>
<path d="M369 118.86L370.8 122.1L367.2 122.1Z" fill="#000"/>
<path d="M376 118.86L377.8 122.1L374.2 122.1Z" fill="#000"/>
<circle cx="370" cy="121" r="1.5" fill="#000"/>
<circle cx="373" cy="121.6" r="1.5" fill="#000"/>
<circle cx="374" cy="122.2" r="1.5" fill="#000"/>
<circle cx="370.5" cy="122.5" r="1.5" fill="#000"/>
<circle cx="374" cy="125" r="1.5" fill="#000"/>
<line x1="368.4" y1="120" x2="376" y2="120" stroke="#111" stroke-width="1.3"/>
<line x1="384.2" y1="113" x2="384.2" y2="120.5" stroke="#f01a1a" stroke-width="0.7"/>
<line x1="382.6" y1="113" x2="385.8" y2="113" stroke="#f01a1a" stroke-width="0.7"/>
<line x1="382.6" y1="120.5" x2="385.8" y2="120.5" stroke="#f01a1a" stroke-width="0.7"/>
<path d="M383.5 108.26L385.3 111.5L381.7 111.5Z" fill="#f01a1a"/>
<circle cx="383" cy="113.7" r="1.5" fill="#f01a1a"/>
<circle cx="384" cy="114" r="1.5" fill="#f01a1a"/>
<path d="M383 114.86L384.8 118.1L381.2 118.1Z" fill="#f01a1a"/>
<circle cx="382" cy="116.6" r="1.5" fill="#f01a1a"/>
<circle cx="384" cy="116.9" r="1.5" fill="#f01a1a"/>
<circle cx="385" cy="119" r="1.5" fill="#f01a1a"/>
<circle cx="386" cy="121" r="1.5" fill="#f01a1a"/>
<circle cx="387" cy="121.9" r="1.5" fill="#f01a1a"/>
<line x1="380.5" y1="116.9" x2="388" y2="116.9" stroke="#111" stroke-width="1.3"/>
<path d="M309.5 84.7V80.4H322.2V84.7" fill="none" stroke="#222" stroke-width="1.2"/>
<text x="315.85" y="82.3" font-size="7" font-weight="bold" text-anchor="middle" fill="#222" stroke="#222" stroke-width="0.13">*</text>
<path d="M340.2 95.1V90.8H352.8V95.1" fill="none" stroke="#222" stroke-width="1.2"/>
<text x="346.5" y="92.7" font-size="7" font-weight="bold" text-anchor="middle" fill="#222" stroke="#222" stroke-width="0.13">*</text>
<path d="M371.3 102V97.3H381.7V102" fill="none" stroke="#222" stroke-width="1.2"/>
<text x="376.5" y="99.2" font-size="7" font-weight="bold" text-anchor="middle" fill="#222" stroke="#222" stroke-width="0.13">*</text>
<circle cx="356.9" cy="29.9" r="1.6" fill="#000"/>
<circle cx="356.9" cy="41.7" r="1.6" fill="#f01a1a"/>
<path d="M356.9 52.6L358.75 55.93L355.05 55.93Z" fill="#000"/>
<path d="M356.9 65L358.75 68.33L355.05 68.33Z" fill="#f01a1a"/>
<text x="368.6" y="34" font-size="9.8" fill="#111" stroke="#111" stroke-width="0.24" textLength="43.3" lengthAdjust="spacingAndGlyphs">Untreated</text>
<text x="368.6" y="45.4" font-size="9.6" fill="#111" stroke="#111" stroke-width="0.23" textLength="20" lengthAdjust="spacingAndGlyphs">CDA</text>
<text x="368.6" y="57.7" font-size="9.6" fill="#111" stroke="#111" stroke-width="0.23" textLength="40.2" lengthAdjust="spacingAndGlyphs">Untreated</text>
<text x="368.6" y="69.7" font-size="9.6" fill="#111" stroke="#111" stroke-width="0.23" textLength="19.6" lengthAdjust="spacingAndGlyphs">CDA</text>
<path d="M412.8 29.4H421V42.3H413" fill="none" stroke="#222" stroke-width="0.9"/>
<path d="M413 54.0H421V66.3H413" fill="none" stroke="#222" stroke-width="0.9"/>
<text x="424.7" y="40.3" font-size="9.6" fill="#111" stroke="#111" stroke-width="0.23">FaDu</text>
<text x="424.7" y="64" font-size="9.6" fill="#111" stroke="#111" stroke-width="0.23">UM-SCC-81B</text>
<text x="0" y="234" font-size="14">B</text>
<path d="M48.5 241.4h.75M28 241.9h.75M76 241.9h.75M42 242.4h.75M46.5 242.4h.75M53.5 242.4h.75M61.5 242.4h.75M73.5 242.4h.75M76 242.4h.75M66.5 242.9h.75M37 243.4h.75M46.5 243.4h.75M48 243.4h.75M40.5 243.9h.75M49 243.9h.75M50.5 243.9h.75M80 243.9h.75M38 244.4h.75M42.5 244.4h.75M57 244.4h.75M62.5 244.9h.75M69 244.9h.75M38.5 245.4h.75M47.5 245.4h.75M53 245.4h.75M68 245.4h.75M45.5 245.9h.75M54 245.9h.75M55 246.9h.75M40 247.4h.75M40.5 247.4h.75M45 247.4h.75M51 247.4h.75M57.5 247.4h.75M30.5 248.4h.75M31.5 248.4h.75M34.5 248.4h.75M48 248.4h.75M73 248.4h.75M32.5 249.4h.75M40 249.4h.75M49.5 249.4h.75M45.5 249.9h.75M54.5 249.9h.75M29 250.4h.75M45 250.4h.75M57 250.4h.75M43 250.9h.75M78.5 250.9h.75M47 251.4h.75M48.5 251.4h.75M48.5 251.9h.75M50.5 251.9h.75M53.5 251.9h.75M71.5 251.9h.75M25 252.4h.75M54.5 252.4h.75M56.5 252.4h.75M67 252.4h.75M45 252.9h.75M56.5 252.9h.75M62.5 252.9h.75M65.5 252.9h.75M67.5 252.9h.75M68 252.9h.75M49.5 253.4h.75M74 253.4h.75M34 253.9h.75M54 253.9h.75M54.5 253.9h.75M55 253.9h.75M57 253.9h.75M66.5 253.9h.75M37 254.4h.75M50.5 254.4h.75M78 254.4h.75M74.5 254.9h.75M25 255.4h.75M65 255.4h.75M78.5 255.4h.75M26 255.9h.75M37.5 255.9h.75M56 255.9h.75M69 255.9h.75M51 256.4h.75M57 256.4h.75M31 256.9h.75M48.5 256.9h.75M60 256.9h.75M39.5 257.4h.75M44.5 257.4h.75M54.5 257.4h.75M59.5 257.4h.75M67 257.4h.75M38.5 257.9h.75M41.5 257.9h.75M51.5 257.9h.75M54 257.9h.75M63 257.9h.75M52.5 258.4h.75M55.5 258.4h.75M57.5 258.4h.75M62 258.4h.75M67 258.4h.75M55.5 258.9h.75M36 259.4h.75M50.5 259.4h.75M62.5 259.4h.75M57 259.9h.75M42 260.4h.75M43.5 260.4h.75M51.5 260.4h.75M74.5 260.4h.75M54 260.9h.75M57 260.9h.75M75.5 260.9h.75M37.5 261.4h.75M58 261.4h.75M67 261.4h.75M76.5 261.4h.75M39 261.9h.75M70.5 261.9h.75M56 262.4h.75M59.5 262.4h.75M29 262.9h.75M53 262.9h.75M66.5 262.9h.75M67.5 262.9h.75M68 262.9h.75M72 262.9h.75M42.5 263.4h.75M47.5 263.4h.75M64.5 263.4h.75M66 263.4h.75M75 263.4h.75M62.5 263.9h.75M43 264.4h.75M46 264.4h.75M72.5 264.4h.75M29.5 264.9h.75M56 264.9h.75M60 264.9h.75M67 264.9h.75M68 264.9h.75M38 265.4h.75M54.5 265.4h.75M61.5 265.4h.75M62 265.4h.75M68 265.4h.75M80 265.4h.75M38 265.9h.75M56 265.9h.75M57 265.9h.75M64 265.9h.75M74.5 265.9h.75M26 266.4h.75M48.5 266.4h.75M50.5 266.4h.75M62.5 266.4h.75M29.5 266.9h.75M48.5 266.9h.75M50.5 266.9h.75M55 266.9h.75M68 266.9h.75M26 267.4h.75M38 267.4h.75M41.5 267.4h.75M55.5 267.4h.75M59.5 267.4h.75M65.5 267.4h.75M69.5 267.4h.75M71 267.4h.75M73 267.4h.75M77 267.4h.75M42 267.9h.75M34 268.4h.75M63 268.4h.75M69 268.4h.75M77 268.4h.75M36.5 268.9h.75M56.5 268.9h.75M66.5 268.9h.75M72.5 268.9h.75M29 269.4h.75M48.5 269.4h.75M59 269.4h.75M62 269.4h.75M67.5 269.4h.75M49.5 269.9h.75M52.5 269.9h.75M53 269.9h.75M55 269.9h.75M55.5 269.9h.75M64 269.9h.75M67.5 269.9h.75M70 269.9h.75M26 270.4h.75M44.5 270.4h.75M67.5 270.4h.75M74 270.4h.75M77.5 270.4h.75M33.5 270.9h.75M59.5 270.9h.75M60 270.9h.75M69.5 270.9h.75M47.5 271.4h.75M55.5 271.4h.75M64 271.4h.75M67 271.4h.75M67.5 271.4h.75M71 271.4h.75M74 271.4h.75M75.5 271.4h.75M78 271.4h.75M33 271.9h.75M52 271.9h.75M52.5 271.9h.75M55 271.9h.75M55.5 271.9h.75M67 271.9h.75M67.5 271.9h.75M76.5 271.9h.75M79 271.9h.75M38.5 272.4h.75M55 272.4h.75M59 272.4h.75M59.5 272.4h.75M66 272.4h.75M70.5 272.4h.75M78.5 272.4h.75M25.5 272.9h.75M46.5 272.9h.75M47.5 272.9h.75M50.5 272.9h.75M54.5 272.9h.75M61.5 272.9h.75M66 272.9h.75M72.5 272.9h.75M78 272.9h.75M38.5 273.4h.75M48 273.4h.75M55.5 273.4h.75M64.5 273.4h.75M65 273.4h.75M69 273.4h.75M76 273.4h.75M77 273.4h.75M30 273.9h.75M34.5 273.9h.75M36 273.9h.75M55.5 273.9h.75M56.5 273.9h.75M64.5 273.9h.75M66 273.9h.75M73.5 273.9h.75M75 273.9h.75M38.5 274.4h.75M52 274.4h.75M55.5 274.4h.75M61 274.4h.75M66.5 274.4h.75M76 274.4h.75M42.5 274.9h.75M53.5 274.9h.75M54.5 274.9h.75M61.5 274.9h.75M62.5 274.9h.75M67.5 274.9h.75M72 274.9h.75M73 274.9h.75M73.5 274.9h.75M77.5 274.9h.75M78 274.9h.75M38.5 275.4h.75M44 275.4h.75M47.5 275.4h.75M51 275.4h.75M59.5 275.4h.75M62 275.4h.75M64.5 275.4h.75M66.5 275.4h.75M69 275.4h.75M71 275.4h.75M78.5 275.4h.75M34 275.9h.75M36.5 275.9h.75M45 275.9h.75M48 275.9h.75M49.5 275.9h.75M61 275.9h.75M64 275.9h.75M65 275.9h.75M68.5 275.9h.75M70 275.9h.75M70.5 275.9h.75M73 275.9h.75M75.5 275.9h.75M34.5 276.4h.75M41.5 276.4h.75M44 276.4h.75M45.5 276.4h.75M48 276.4h.75M52.5 276.4h.75M53 276.4h.75M54 276.4h.75M56 276.4h.75M57 276.4h.75M57.5 276.4h.75M58 276.4h.75M62.5 276.4h.75M63.5 276.4h.75M64 276.4h.75M65 276.4h.75M66.5 276.4h.75M69.5 276.4h.75M70 276.4h.75M73.5 276.4h.75M75 276.4h.75M76.5 276.4h.75M77.5 276.4h.75M78.5 276.4h.75M39.5 276.9h.75M45 276.9h.75M46 276.9h.75M46.5 276.9h.75M49 276.9h.75M55 276.9h.75M56 276.9h.75M57 276.9h.75M58.5 276.9h.75M59.5 276.9h.75M60 276.9h.75M62 276.9h.75M63.5 276.9h.75M31 277.4h.75M38 277.4h.75M42.5 277.4h.75M43.5 277.4h.75M45 277.4h.75M47 277.4h.75M51 277.4h.75M52 277.4h.75M52.5 277.4h.75M53.5 277.4h.75M56 277.4h.75M58.5 277.4h.75M60 277.4h.75M60.5 277.4h.75M63 277.4h.75M68.5 277.4h.75M78 277.4h.75M79.5 277.4h.75M80 277.4h.75M34 277.9h.75M43 277.9h.75M45 277.9h.75M46.5 277.9h.75M50 277.9h.75M53.5 277.9h.75M58 277.9h.75M59.5 277.9h.75M60 277.9h.75M64 277.9h.75M67 277.9h.75M68 277.9h.75M74.5 277.9h.75M77.5 277.9h.75M39 278.4h.75M44 278.4h.75M46 278.4h.75M48 278.4h.75M50 278.4h.75M55 278.4h.75M55.5 278.4h.75M60.5 278.4h.75M63 278.4h.75M67 278.4h.75M69.5 278.4h.75M72 278.4h.75M76.5 278.4h.75M31 278.9h.75M34.5 278.9h.75M39 278.9h.75M40.5 278.9h.75M42 278.9h.75M43 278.9h.75M46 278.9h.75M46.5 278.9h.75M47.5 278.9h.75M48 278.9h.75M48.5 278.9h.75M50 278.9h.75M50.5 278.9h.75M51 278.9h.75M53 278.9h.75M54 278.9h.75M57 278.9h.75M57.5 278.9h.75M58 278.9h.75M62 278.9h.75M63 278.9h.75M63.5 278.9h.75M64 278.9h.75M69 278.9h.75M70 278.9h.75M71 278.9h.75M72 278.9h.75M76 278.9h.75M77.5 278.9h.75M34.5 279.4h.75M35.5 279.4h.75M38 279.4h.75M43 279.4h.75M43.5 279.4h.75M52.5 279.4h.75M53 279.4h.75M53.5 279.4h.75M55.5 279.4h.75M56 279.4h.75M58 279.4h.75M61 279.4h.75M61.5 279.4h.75M62 279.4h.75M64.5 279.4h.75M65.5 279.4h.75M67 279.4h.75M68 279.4h.75M69 279.4h.75M76 279.4h.75M77.5 279.4h.75M28 279.9h.75M32.5 279.9h.75M34.5 279.9h.75M36 279.9h.75M37 279.9h.75M40 279.9h.75M41 279.9h.75M54 279.9h.75M55 279.9h.75M57 279.9h.75M58 279.9h.75M58.5 279.9h.75M61.5 279.9h.75M62.5 279.9h.75M66 279.9h.75M67 279.9h.75M68 279.9h.75M68.5 279.9h.75M69.5 279.9h.75M72.5 279.9h.75M73 279.9h.75M73.5 279.9h.75M76 279.9h.75M35 280.4h.75M35.5 280.4h.75M36.5 280.4h.75M40 280.4h.75M55.5 280.4h.75M56 280.4h.75M56.5 280.4h.75M58.5 280.4h.75M60.5 280.4h.75M61.5 280.4h.75M63 280.4h.75M67 280.4h.75M68 280.4h.75M70.5 280.4h.75M74 280.4h.75M74.5 280.4h.75M75 280.4h.75M76 280.4h.75M76.5 280.4h.75M32 280.9h.75M34 280.9h.75M38.5 280.9h.75M57.5 280.9h.75M61 280.9h.75M61.5 280.9h.75M63 280.9h.75M65.5 280.9h.75M66.5 280.9h.75M67.5 280.9h.75M72 280.9h.75M74 280.9h.75M75.5 280.9h.75M29 281.4h.75M29.5 281.4h.75M32 281.4h.75M36.5 281.4h.75M37.5 281.4h.75M56 281.4h.75M56.5 281.4h.75M60 281.4h.75M67.5 281.4h.75M68.5 281.4h.75M69 281.4h.75M72.5 281.4h.75M75.5 281.4h.75M78 281.4h.75M34.5 281.9h.75M57.5 281.9h.75M58.5 281.9h.75M61 281.9h.75M61.5 281.9h.75M62 281.9h.75M62.5 281.9h.75M68 281.9h.75M68.5 281.9h.75M72 281.9h.75M72.5 281.9h.75M73.5 281.9h.75M78 281.9h.75M56 282.4h.75M58 282.4h.75M62 282.4h.75M64 282.4h.75M66 282.4h.75M68 282.4h.75M72 282.4h.75M75.5 282.4h.75M78 282.4h.75M31 282.9h.75M31.5 282.9h.75M32 282.9h.75M59 282.9h.75M60 282.9h.75M61.5 282.9h.75M62.5 282.9h.75M64.5 282.9h.75M65.5 282.9h.75M71 282.9h.75M76.5 282.9h.75M26 283.4h.75M29.5 283.4h.75M33 283.4h.75M59.5 283.4h.75M62 283.4h.75M63 283.4h.75M72.5 283.4h.75M78 283.4h.75M27 283.9h.75M28 283.9h.75M28.5 283.9h.75M29.5 283.9h.75M30 283.9h.75M32 283.9h.75M56.5 283.9h.75M57 283.9h.75M58.5 283.9h.75M59 283.9h.75M59.5 283.9h.75M62 283.9h.75M65 283.9h.75M66.5 283.9h.75M68.5 283.9h.75M74 283.9h.75M75.5 283.9h.75M24.5 284.4h.75M32 284.4h.75M57.5 284.4h.75M61.5 284.4h.75M63 284.4h.75M67.5 284.4h.75M68.5 284.4h.75M70.5 284.4h.75M71 284.4h.75M73.5 284.4h.75M76 284.4h.75M77.5 284.4h.75M58 284.9h.75M58.5 284.9h.75M60 284.9h.75M63.5 284.9h.75M67 284.9h.75M68.5 284.9h.75M72.5 284.9h.75M79 284.9h.75M56 285.4h.75M57.5 285.4h.75M58 285.4h.75M58.5 285.4h.75M60 285.4h.75M61.5 285.4h.75M62 285.4h.75M63 285.4h.75M67.5 285.4h.75M70.5 285.4h.75M71.5 285.4h.75M75 285.4h.75M26 285.9h.75M55 285.9h.75M60 285.9h.75M61 285.9h.75M65.5 285.9h.75M72.5 285.9h.75M28.5 286.4h.75M55 286.4h.75M56 286.4h.75M58.5 286.4h.75M60.5 286.4h.75M61.5 286.4h.75M69 286.4h.75M71 286.4h.75M75.5 286.4h.75M25.5 286.9h.75M27 286.9h.75M55 286.9h.75M56.5 286.9h.75M57.5 286.9h.75M58.5 286.9h.75M59 286.9h.75M64 286.9h.75M64.5 286.9h.75M72.5 286.9h.75M75.5 286.9h.75M76 286.9h.75M26.5 287.4h.75M27 287.4h.75M55.5 287.4h.75M60.5 287.4h.75M61.5 287.4h.75M63 287.4h.75M63.5 287.4h.75M64 287.4h.75M64.5 287.4h.75M65 287.4h.75M65.5 287.4h.75M66 287.4h.75M68.5 287.4h.75M70.5 287.4h.75M75.5 287.4h.75M77.5 287.4h.75M79.5 287.4h.75M26.5 287.9h.75M27 287.9h.75M57 287.9h.75M64 287.9h.75M70.5 287.9h.75M80.5 287.9h.75M52.5 288.4h.75M53.5 288.4h.75M54 288.4h.75M55 288.4h.75M56.5 288.4h.75M58.5 288.4h.75M59.5 288.4h.75M61.5 288.4h.75M74 288.4h.75M24.5 288.9h.75M25.5 288.9h.75M53.5 288.9h.75M54.5 288.9h.75M57 288.9h.75M59 288.9h.75M60 288.9h.75M60.5 288.9h.75M65.5 288.9h.75M68.5 288.9h.75M70 288.9h.75M73 288.9h.75M78 288.9h.75M25 289.4h.75M52.5 289.4h.75M54 289.4h.75M54.5 289.4h.75M56 289.4h.75M58.5 289.4h.75M61 289.4h.75M64 289.4h.75M72 289.4h.75M75.5 289.4h.75M25 289.9h.75M51.5 289.9h.75M52 289.9h.75M52.5 289.9h.75M53 289.9h.75M54.5 289.9h.75M55.5 289.9h.75M59 289.9h.75M61 289.9h.75M79 289.9h.75M50 290.4h.75M53 290.4h.75M54 290.4h.75M55 290.4h.75M56 290.4h.75M57 290.4h.75M57.5 290.4h.75M58.5 290.4h.75M59 290.4h.75M60.5 290.4h.75M62 290.4h.75M63 290.4h.75M70.5 290.4h.75M51 290.9h.75M53 290.9h.75M55.5 290.9h.75M62 290.9h.75M62.5 290.9h.75M66.5 290.9h.75M49.5 291.4h.75M51.5 291.4h.75M52.5 291.4h.75M53.5 291.4h.75M56.5 291.4h.75M58 291.4h.75M59 291.4h.75M65 291.4h.75M76.5 291.4h.75M48.5 291.9h.75M57 291.9h.75M66.5 291.9h.75M67.5 291.9h.75M70 291.9h.75M47.5 292.4h.75M48.5 292.4h.75M50 292.4h.75M55.5 292.4h.75M62 292.4h.75M64 292.4h.75M47.5 292.9h.75M49 292.9h.75M49.5 292.9h.75M52.5 292.9h.75M61 292.9h.75M68 292.9h.75M47 293.4h.75M47.5 293.4h.75M50 293.4h.75M53 293.4h.75M54 293.4h.75M46.5 293.9h.75M47 293.9h.75M47.5 293.9h.75M51 293.9h.75M53.5 293.9h.75M64.5 293.9h.75M66 293.9h.75M46 294.4h.75M46.5 294.4h.75M55.5 294.4h.75M63 294.4h.75M45.5 294.9h.75M46 294.9h.75M46.5 294.9h.75M51.5 294.9h.75M58.5 294.9h.75M44.5 295.4h.75M45 295.4h.75M48.5 295.4h.75M71 295.4h.75M42.5 295.9h.75M43 295.9h.75M46 295.9h.75M49 295.9h.75M53.5 295.9h.75M75 295.9h.75M38 296.4h.75M38.5 296.4h.75M39 296.4h.75M39.5 296.4h.75M40 296.4h.75M41 296.4h.75M41.5 296.4h.75M46.5 296.4h.75M47 296.4h.75M55.5 296.4h.75M38 296.9h.75M39.5 296.9h.75M40.5 296.9h.75M41.5 296.9h.75M42 296.9h.75M42.5 296.9h.75M45 296.9h.75M63 296.9h.75M65.5 296.9h.75M35.5 297.4h.75M36 297.4h.75M38 297.4h.75M40 297.4h.75" stroke="#7a8cff" stroke-width=".75" stroke-opacity="0.55"/>
<path d="M46 279.4h.75M47 279.4h.75M49 279.4h.75M50 279.4h.75M50.5 279.4h.75M51 279.4h.75M43 279.9h.75M43.5 279.9h.75M44.5 279.9h.75M46 279.9h.75M50.5 279.9h.75M52 279.9h.75M53.5 279.9h.75M40.5 280.4h.75M42 280.4h.75M44 280.4h.75M45 280.4h.75M45.5 280.4h.75M46 280.4h.75M46.5 280.4h.75M47 280.4h.75M48 280.4h.75M49 280.4h.75M51 280.4h.75M51.5 280.4h.75M52 280.4h.75M52.5 280.4h.75M39.5 280.9h.75M41.5 280.9h.75M43.5 280.9h.75M44 280.9h.75M48 280.9h.75M49 280.9h.75M51 280.9h.75M51.5 280.9h.75M39 281.4h.75M40 281.4h.75M40.5 281.4h.75M41.5 281.4h.75M42.5 281.4h.75M43.5 281.4h.75M45 281.4h.75M45.5 281.4h.75M47 281.4h.75M48 281.4h.75M49 281.4h.75M50 281.4h.75M51 281.4h.75M51.5 281.4h.75M52 281.4h.75M53 281.4h.75M54.5 281.4h.75M37.5 281.9h.75M38 281.9h.75M38.5 281.9h.75M39.5 281.9h.75M40.5 281.9h.75M41 281.9h.75M41.5 281.9h.75M42 281.9h.75M43 281.9h.75M43.5 281.9h.75M44 281.9h.75M44.5 281.9h.75M45 281.9h.75M46 281.9h.75M47 281.9h.75M50 281.9h.75M51 281.9h.75M53.5 281.9h.75M55 281.9h.75M38 282.4h.75M39.5 282.4h.75M40 282.4h.75M41 282.4h.75M41.5 282.4h.75M42 282.4h.75M42.5 282.4h.75M43.5 282.4h.75M44 282.4h.75M44.5 282.4h.75M45 282.4h.75M46.5 282.4h.75M47 282.4h.75M48.5 282.4h.75M49.5 282.4h.75M50.5 282.4h.75M54 282.4h.75M55 282.4h.75M37.5 282.9h.75M38 282.9h.75M39 282.9h.75M40.5 282.9h.75M41 282.9h.75M41.5 282.9h.75M42 282.9h.75M44 282.9h.75M44.5 282.9h.75M45 282.9h.75M45.5 282.9h.75M46 282.9h.75M47 282.9h.75M48 282.9h.75M49.5 282.9h.75M50.5 282.9h.75M51 282.9h.75M52 282.9h.75M54.5 282.9h.75M55.5 282.9h.75M35.5 283.4h.75M38 283.4h.75M38.5 283.4h.75M39 283.4h.75M39.5 283.4h.75M40.5 283.4h.75M41 283.4h.75M43.5 283.4h.75M44.5 283.4h.75M45 283.4h.75M45.5 283.4h.75M47 283.4h.75M50 283.4h.75M51 283.4h.75M51.5 283.4h.75M52 283.4h.75M52.5 283.4h.75M54.5 283.4h.75M55.5 283.4h.75M33 283.9h.75M34 283.9h.75M35.5 283.9h.75M36.5 283.9h.75M39.5 283.9h.75M40 283.9h.75M40.5 283.9h.75M41 283.9h.75M42 283.9h.75M42.5 283.9h.75M43 283.9h.75M43.5 283.9h.75M44 283.9h.75M46.5 283.9h.75M48.5 283.9h.75M50 283.9h.75M50.5 283.9h.75M51.5 283.9h.75M52 283.9h.75M52.5 283.9h.75M53 283.9h.75M54 283.9h.75M54.5 283.9h.75M33 284.4h.75M35 284.4h.75M36.5 284.4h.75M37 284.4h.75M38.5 284.4h.75M39 284.4h.75M39.5 284.4h.75M40 284.4h.75M40.5 284.4h.75M41 284.4h.75M43 284.4h.75M43.5 284.4h.75M44 284.4h.75M44.5 284.4h.75M45 284.4h.75M45.5 284.4h.75M46.5 284.4h.75M47 284.4h.75M47.5 284.4h.75M48 284.4h.75M48.5 284.4h.75M49 284.4h.75M50 284.4h.75M50.5 284.4h.75M51 284.4h.75M51.5 284.4h.75M52 284.4h.75M53.5 284.4h.75M54 284.4h.75M31.5 284.9h.75M33 284.9h.75M35 284.9h.75M35.5 284.9h.75M36 284.9h.75M36.5 284.9h.75M37.5 284.9h.75M38 284.9h.75M38.5 284.9h.75M39.5 284.9h.75M40 284.9h.75M40.5 284.9h.75M41.5 284.9h.75M43 284.9h.75M43.5 284.9h.75M44 284.9h.75M45.5 284.9h.75M47.5 284.9h.75M49 284.9h.75M49.5 284.9h.75M50.5 284.9h.75M51.5 284.9h.75M53 284.9h.75M54.5 284.9h.75M55 284.9h.75M31.5 285.4h.75M32 285.4h.75M32.5 285.4h.75M33.5 285.4h.75M34 285.4h.75M35 285.4h.75M35.5 285.4h.75M36.5 285.4h.75M37 285.4h.75M37.5 285.4h.75M38 285.4h.75M39 285.4h.75M40 285.4h.75M40.5 285.4h.75M41.5 285.4h.75M42.5 285.4h.75M43.5 285.4h.75M44 285.4h.75M45 285.4h.75M45.5 285.4h.75M50.5 285.4h.75M51 285.4h.75M51.5 285.4h.75M53 285.4h.75M54.5 285.4h.75M30.5 285.9h.75M32.5 285.9h.75M34 285.9h.75M35 285.9h.75M35.5 285.9h.75M36 285.9h.75M36.5 285.9h.75M37 285.9h.75M37.5 285.9h.75M38 285.9h.75M38.5 285.9h.75M39.5 285.9h.75M40 285.9h.75M41 285.9h.75M42 285.9h.75M42.5 285.9h.75M43 285.9h.75M43.5 285.9h.75M44 285.9h.75M50.5 285.9h.75M51 285.9h.75M52 285.9h.75M31 286.4h.75M31.5 286.4h.75M34.5 286.4h.75M35 286.4h.75M36 286.4h.75M36.5 286.4h.75M37 286.4h.75M37.5 286.4h.75M38 286.4h.75M39 286.4h.75M39.5 286.4h.75M40.5 286.4h.75M41.5 286.4h.75M42 286.4h.75M42.5 286.4h.75M43.5 286.4h.75M44 286.4h.75M51 286.4h.75M53 286.4h.75M54 286.4h.75M29.5 286.9h.75M30 286.9h.75M33 286.9h.75M33.5 286.9h.75M34 286.9h.75M35 286.9h.75M35.5 286.9h.75M36 286.9h.75M36.5 286.9h.75M37 286.9h.75M37.5 286.9h.75M38 286.9h.75M38.5 286.9h.75M42 286.9h.75M42.5 286.9h.75M43 286.9h.75M43.5 286.9h.75M51 286.9h.75M51.5 286.9h.75M52 286.9h.75M30 287.4h.75M31.5 287.4h.75M32 287.4h.75M32.5 287.4h.75M33 287.4h.75M34 287.4h.75M35.5 287.4h.75M36.5 287.4h.75M37 287.4h.75M42 287.4h.75M42.5 287.4h.75M43 287.4h.75M43.5 287.4h.75M51 287.4h.75M51.5 287.4h.75M52.5 287.4h.75M28 287.9h.75M29 287.9h.75M29.5 287.9h.75M30 287.9h.75M30.5 287.9h.75M31 287.9h.75M31.5 287.9h.75M32.5 287.9h.75M33 287.9h.75M33.5 287.9h.75M34 287.9h.75M34.5 287.9h.75M35 287.9h.75M35.5 287.9h.75M42 287.9h.75M43 287.9h.75M51 287.9h.75M52 287.9h.75M52.5 287.9h.75M27 288.4h.75M29 288.4h.75M29.5 288.4h.75M30 288.4h.75M31.5 288.4h.75M32 288.4h.75M33.5 288.4h.75M34 288.4h.75M34.5 288.4h.75M42.5 288.4h.75M51 288.4h.75M28 288.9h.75M28.5 288.9h.75M29 288.9h.75M29.5 288.9h.75M30.5 288.9h.75M31 288.9h.75M32 288.9h.75M33 288.9h.75M41.5 288.9h.75M42 288.9h.75M42.5 288.9h.75M43 288.9h.75M51 288.9h.75M51.5 288.9h.75M27 289.4h.75M29 289.4h.75M30 289.4h.75M31 289.4h.75M31.5 289.4h.75M41 289.4h.75M41.5 289.4h.75M42 289.4h.75M42.5 289.4h.75M43 289.4h.75M50.5 289.4h.75M25.5 289.9h.75M27 289.9h.75M28 289.9h.75M28.5 289.9h.75M29 289.9h.75M31 289.9h.75M40 289.9h.75M40.5 289.9h.75M41.5 289.9h.75M42.5 289.9h.75M43 289.9h.75M43.5 289.9h.75M50 289.9h.75M50.5 289.9h.75M25 290.4h.75M27 290.4h.75M28 290.4h.75M29 290.4h.75M30 290.4h.75M30.5 290.4h.75M39.5 290.4h.75M40 290.4h.75M40.5 290.4h.75M41 290.4h.75M41.5 290.4h.75M49 290.4h.75M49.5 290.4h.75M26.5 290.9h.75M27.5 290.9h.75M28.5 290.9h.75M29.5 290.9h.75M39 290.9h.75M39.5 290.9h.75M40 290.9h.75M40.5 290.9h.75M41 290.9h.75M43.5 290.9h.75M45 290.9h.75M48 290.9h.75M48.5 290.9h.75M49 290.9h.75M24 291.4h.75M24.5 291.4h.75M25.5 291.4h.75M26 291.4h.75M28.5 291.4h.75M29 291.4h.75M37.5 291.4h.75M45 291.4h.75M45.5 291.4h.75M46 291.4h.75M46.5 291.4h.75M47 291.4h.75M47.5 291.4h.75M48 291.4h.75M24.5 291.9h.75M26.5 291.9h.75M47 291.9h.75M24 292.4h.75M24.5 292.4h.75M25.5 292.4h.75M26.5 292.4h.75M27 292.4h.75M27.5 292.4h.75M28.5 292.4h.75M47 292.4h.75M24 292.9h.75M24.5 292.9h.75M25.5 292.9h.75M26 292.9h.75M26.5 292.9h.75M27 292.9h.75M28 292.9h.75M24 293.4h.75M24.5 293.4h.75M25 293.4h.75M26 293.4h.75M27 293.4h.75M27.5 293.4h.75M28 293.4h.75M24 293.9h.75M27.5 293.9h.75M28 293.9h.75M27.5 294.4h.75M28 294.4h.75M28.5 294.4h.75M45.5 294.4h.75M28 294.9h.75M28.5 294.9h.75M29.5 294.9h.75M30 294.9h.75M31 294.9h.75M31.5 294.9h.75M32 294.9h.75M44.5 294.9h.75M45 294.9h.75M28 295.4h.75M28.5 295.4h.75M29 295.4h.75M29.5 295.4h.75M30 295.4h.75M31 295.4h.75M32 295.4h.75M32.5 295.4h.75M43 295.4h.75M43.5 295.4h.75M44 295.4h.75M28 295.9h.75M28.5 295.9h.75M30 295.9h.75M31 295.9h.75M31.5 295.9h.75M32 295.9h.75M32.5 295.9h.75M33.5 295.9h.75M34 295.9h.75M34.5 295.9h.75M40 295.9h.75M40.5 295.9h.75M41 295.9h.75M41.5 295.9h.75M42 295.9h.75M28 296.4h.75M29 296.4h.75M29.5 296.4h.75M30 296.4h.75M30.5 296.4h.75M31.5 296.4h.75M34 296.4h.75M34.5 296.4h.75M35.5 296.4h.75M36 296.4h.75M36.5 296.4h.75M37 296.4h.75M37.5 296.4h.75M28 296.9h.75M28.5 296.9h.75M29 296.9h.75M29.5 296.9h.75M31 296.9h.75M31.5 296.9h.75M33 296.9h.75M33.5 296.9h.75M34 296.9h.75M34.5 296.9h.75M35 296.9h.75M36 296.9h.75M27.5 297.4h.75M28.5 297.4h.75M30.5 297.4h.75M31 297.4h.75M32 297.4h.75M33 297.4h.75M33.5 297.4h.75M34 297.4h.75" stroke="#3a4cff" stroke-width=".75"/>
<path d="M49.5 285.4h.75M50.5 286.4h.75M40 286.9h.75M41 286.9h.75M41.5 286.9h.75M37.5 287.4h.75M38 287.4h.75M38.5 287.4h.75M39 287.4h.75M40 287.4h.75M40.5 287.4h.75M41 287.4h.75M41.5 287.4h.75M36 287.9h.75M37 287.9h.75M37.5 287.9h.75M38.5 287.9h.75M39 287.9h.75M39.5 287.9h.75M40 287.9h.75M40.5 287.9h.75M41.5 287.9h.75M35 288.4h.75M35.5 288.4h.75M36 288.4h.75M36.5 288.4h.75M37.5 288.4h.75M38.5 288.4h.75M39 288.4h.75M39.5 288.4h.75M40 288.4h.75M40.5 288.4h.75M41 288.4h.75M41.5 288.4h.75M33.5 288.9h.75M34 288.9h.75M34.5 288.9h.75M35 288.9h.75M36 288.9h.75M36.5 288.9h.75M38 288.9h.75M38.5 288.9h.75M39 288.9h.75M39.5 288.9h.75M40 288.9h.75M41 288.9h.75M50.5 288.9h.75M32.5 289.4h.75M33 289.4h.75M33.5 289.4h.75M34 289.4h.75M35 289.4h.75M35.5 289.4h.75M36 289.4h.75M36.5 289.4h.75M37 289.4h.75M37.5 289.4h.75M38 289.4h.75M38.5 289.4h.75M39 289.4h.75M39.5 289.4h.75M40 289.4h.75M43.5 289.4h.75M31.5 289.9h.75M32 289.9h.75M32.5 289.9h.75M33.5 289.9h.75M34 289.9h.75M34.5 289.9h.75M35 289.9h.75M36 289.9h.75M37 289.9h.75M37.5 289.9h.75M38.5 289.9h.75M39 289.9h.75M49.5 289.9h.75M31 290.4h.75M31.5 290.4h.75M32 290.4h.75M32.5 290.4h.75M33.5 290.4h.75M34 290.4h.75M34.5 290.4h.75M35 290.4h.75M35.5 290.4h.75M36 290.4h.75M37 290.4h.75M37.5 290.4h.75M38.5 290.4h.75M39 290.4h.75M30 290.9h.75M30.5 290.9h.75M31 290.9h.75M31.5 290.9h.75M32 290.9h.75M32.5 290.9h.75M33.5 290.9h.75M34 290.9h.75M35 290.9h.75M35.5 290.9h.75M36.5 290.9h.75M37 290.9h.75M37.5 290.9h.75M38 290.9h.75M45.5 290.9h.75M47.5 290.9h.75M29.5 291.4h.75M30 291.4h.75M30.5 291.4h.75M31 291.4h.75M31.5 291.4h.75M32 291.4h.75M32.5 291.4h.75M33 291.4h.75M33.5 291.4h.75M34 291.4h.75M34.5 291.4h.75M35.5 291.4h.75M36 291.4h.75M37 291.4h.75M39 291.4h.75M29 291.9h.75M29.5 291.9h.75M30 291.9h.75M31 291.9h.75M31.5 291.9h.75M32 291.9h.75M32.5 291.9h.75M33 291.9h.75M33.5 291.9h.75M34.5 291.9h.75M35 291.9h.75M35.5 291.9h.75M36 291.9h.75M29 292.4h.75M29.5 292.4h.75M30 292.4h.75M30.5 292.4h.75M31 292.4h.75M31.5 292.4h.75M32 292.4h.75M32.5 292.4h.75M34 292.4h.75M34.5 292.4h.75M28.5 292.9h.75M29 292.9h.75M29.5 292.9h.75M30 292.9h.75M30.5 292.9h.75M31 292.9h.75M32 292.9h.75M32.5 292.9h.75M33 292.9h.75M47 292.9h.75M28.5 293.4h.75M29 293.4h.75M29.5 293.4h.75M30.5 293.4h.75M32 293.4h.75M32.5 293.4h.75M26.5 293.9h.75M28.5 293.9h.75M29.5 293.9h.75M30 293.9h.75M30.5 293.9h.75M31 293.9h.75M31.5 293.9h.75M32 293.9h.75M46 293.9h.75M29 294.4h.75M31 294.4h.75M31.5 294.4h.75M32 294.4h.75M33 295.4h.75M42.5 295.4h.75M35 295.9h.75M39 295.9h.75M39.5 295.9h.75M27.5 296.9h.75M27 297.4h.75" stroke="#1a6cff" stroke-width=".75"/>
<path d="M46 285.4h.75M46.5 285.4h.75M47.5 285.4h.75M48 285.4h.75M48.5 285.4h.75M49 285.4h.75M49 285.9h.75M49.5 285.9h.75M50 285.9h.75M50 286.4h.75M44 286.9h.75M50 286.9h.75M50.5 286.9h.75M44 287.4h.75M50 287.4h.75M50.5 287.4h.75M50 287.9h.75M50.5 287.9h.75M43.5 288.4h.75M50 288.4h.75M50.5 288.4h.75M43.5 288.9h.75M49.5 288.9h.75M50 288.9h.75M44 289.4h.75M49 289.4h.75M49.5 289.4h.75M44 289.9h.75M44.5 289.9h.75M48 289.9h.75M48.5 289.9h.75M49 289.9h.75M44.5 290.4h.75M45 290.4h.75M45.5 290.4h.75M46 290.4h.75M46.5 290.4h.75M47.5 290.4h.75M48 290.4h.75M48.5 290.4h.75M46 290.9h.75M46.5 290.9h.75M39.5 291.4h.75M40 291.4h.75M41 291.4h.75M42.5 291.4h.75M43 291.4h.75M43.5 291.4h.75M44 291.4h.75M37 291.9h.75M45.5 291.9h.75M46 291.9h.75M35 292.4h.75M46.5 292.4h.75M34 292.9h.75M46 292.9h.75M46.5 292.9h.75M46 293.4h.75M46.5 293.4h.75M32.5 293.9h.75M45.5 293.9h.75M32.5 294.4h.75M45 294.4h.75M27.5 294.9h.75M32.5 294.9h.75M33 294.9h.75M43.5 294.9h.75M44 294.9h.75M33.5 295.4h.75M34 295.4h.75M41.5 295.4h.75M42 295.4h.75M35.5 295.9h.75M36 295.9h.75M36.5 295.9h.75M37 295.9h.75M37.5 295.9h.75M38 295.9h.75M38.5 295.9h.75M24 297.4h.75" stroke="#00b4ff" stroke-width=".75"/>
<path d="M46.5 285.9h.75M47 285.9h.75M47.5 285.9h.75M48 285.9h.75M48.5 285.9h.75M45.5 286.4h.75M46 286.4h.75M46.5 286.4h.75M47 286.4h.75M48 286.4h.75M48.5 286.4h.75M49 286.4h.75M49.5 286.4h.75M44.5 286.9h.75M45 286.9h.75M45.5 286.9h.75M46 286.9h.75M46.5 286.9h.75M47 286.9h.75M47.5 286.9h.75M48 286.9h.75M48.5 286.9h.75M49 286.9h.75M49.5 286.9h.75M44.5 287.4h.75M45 287.4h.75M45.5 287.4h.75M46 287.4h.75M46.5 287.4h.75M47 287.4h.75M47.5 287.4h.75M48 287.4h.75M49 287.4h.75M49.5 287.4h.75M44 287.9h.75M44.5 287.9h.75M45 287.9h.75M45.5 287.9h.75M46 287.9h.75M46.5 287.9h.75M47 287.9h.75M47.5 287.9h.75M48 287.9h.75M49 287.9h.75M49.5 287.9h.75M44 288.4h.75M44.5 288.4h.75M45 288.4h.75M45.5 288.4h.75M46 288.4h.75M46.5 288.4h.75M47 288.4h.75M47.5 288.4h.75M48 288.4h.75M48.5 288.4h.75M49 288.4h.75M49.5 288.4h.75M44.5 288.9h.75M45 288.9h.75M45.5 288.9h.75M46 288.9h.75M46.5 288.9h.75M47 288.9h.75M47.5 288.9h.75M48 288.9h.75M48.5 288.9h.75M49 288.9h.75M44.5 289.4h.75M45 289.4h.75M45.5 289.4h.75M46 289.4h.75M46.5 289.4h.75M47 289.4h.75M47.5 289.4h.75M48 289.4h.75M48.5 289.4h.75M45.5 289.9h.75M46 289.9h.75M46.5 289.9h.75M47 289.9h.75M41.5 291.4h.75M37.5 291.9h.75M38 291.9h.75M38.5 291.9h.75M43.5 291.9h.75M44 291.9h.75M44.5 291.9h.75M45 291.9h.75M35.5 292.4h.75M36 292.4h.75M36.5 292.4h.75M44.5 292.4h.75M45 292.4h.75M45.5 292.4h.75M34.5 292.9h.75M35 292.9h.75M45 292.9h.75M45.5 292.9h.75M33.5 293.4h.75M34 293.4h.75M45 293.4h.75M45.5 293.4h.75M25 293.9h.75M25.5 293.9h.75M26 293.9h.75M33 293.9h.75M33.5 293.9h.75M44.5 293.9h.75M45 293.9h.75M24 294.4h.75M24.5 294.4h.75M33 294.4h.75M33.5 294.4h.75M44 294.4h.75M44.5 294.4h.75M33.5 294.9h.75M34 294.9h.75M34.5 294.9h.75M42.5 294.9h.75M43 294.9h.75M27.5 295.4h.75M34.5 295.4h.75M35 295.4h.75M35.5 295.4h.75M36 295.4h.75M36.5 295.4h.75M37 295.4h.75M37.5 295.4h.75M38 295.4h.75M38.5 295.4h.75M39 295.4h.75M39.5 295.4h.75M40 295.4h.75M40.5 295.4h.75M41 295.4h.75M27.5 295.9h.75M27.5 296.4h.75M24 296.9h.75M27 296.9h.75M24.5 297.4h.75M25 297.4h.75" stroke="#10e8e0" stroke-width=".75"/>
<path d="M39 291.9h.75M39.5 291.9h.75M40 291.9h.75M40.5 291.9h.75M41 291.9h.75M41.5 291.9h.75M42 291.9h.75M42.5 291.9h.75M43 291.9h.75M37 292.4h.75M37.5 292.4h.75M38 292.4h.75M38.5 292.4h.75M39 292.4h.75M39.5 292.4h.75M40 292.4h.75M43 292.4h.75M43.5 292.4h.75M44 292.4h.75M35.5 292.9h.75M36 292.9h.75M36.5 292.9h.75M37 292.9h.75M37.5 292.9h.75M38 292.9h.75M38.5 292.9h.75M39 292.9h.75M44 292.9h.75M44.5 292.9h.75M34.5 293.4h.75M35 293.4h.75M35.5 293.4h.75M36 293.4h.75M36.5 293.4h.75M37 293.4h.75M37.5 293.4h.75M38 293.4h.75M38.5 293.4h.75M39 293.4h.75M44 293.4h.75M44.5 293.4h.75M34 293.9h.75M34.5 293.9h.75M35 293.9h.75M35.5 293.9h.75M36 293.9h.75M36.5 293.9h.75M37 293.9h.75M37.5 293.9h.75M38 293.9h.75M38.5 293.9h.75M39 293.9h.75M43.5 293.9h.75M44 293.9h.75M25 294.4h.75M25.5 294.4h.75M26 294.4h.75M26.5 294.4h.75M34 294.4h.75M34.5 294.4h.75M35 294.4h.75M35.5 294.4h.75M36 294.4h.75M36.5 294.4h.75M37 294.4h.75M37.5 294.4h.75M38 294.4h.75M38.5 294.4h.75M39 294.4h.75M39.5 294.4h.75M40 294.4h.75M43 294.4h.75M43.5 294.4h.75M24 294.9h.75M24.5 294.9h.75M25 294.9h.75M25.5 294.9h.75M26 294.9h.75M26.5 294.9h.75M27 294.9h.75M35 294.9h.75M35.5 294.9h.75M36 294.9h.75M36.5 294.9h.75M37 294.9h.75M37.5 294.9h.75M38 294.9h.75M38.5 294.9h.75M39 294.9h.75M39.5 294.9h.75M40 294.9h.75M40.5 294.9h.75M41 294.9h.75M41.5 294.9h.75M42 294.9h.75M24 295.4h.75M24.5 295.4h.75M25 295.4h.75M25.5 295.4h.75M26 295.4h.75M26.5 295.4h.75M27 295.4h.75M24 295.9h.75M24.5 295.9h.75M25 295.9h.75M25.5 295.9h.75M26 295.9h.75M26.5 295.9h.75M27 295.9h.75M24 296.4h.75M24.5 296.4h.75M25 296.4h.75M25.5 296.4h.75M26 296.4h.75M26.5 296.4h.75M27 296.4h.75M24.5 296.9h.75M25 296.9h.75M25.5 296.9h.75M26 296.9h.75M26.5 296.9h.75" stroke="#30ff50" stroke-width=".75"/>
<path d="M40.5 292.4h.75M41 292.4h.75M41.5 292.4h.75M42 292.4h.75M42.5 292.4h.75M39.5 292.9h.75M40 292.9h.75M40.5 292.9h.75M41 292.9h.75M41.5 292.9h.75M42 292.9h.75M42.5 292.9h.75M43 292.9h.75M43.5 292.9h.75M39.5 293.4h.75M40 293.4h.75M40.5 293.4h.75M43 293.4h.75M43.5 293.4h.75M39.5 293.9h.75M40 293.9h.75M40.5 293.9h.75M41 293.9h.75M42.5 293.9h.75M43 293.9h.75M40.5 294.4h.75M41 294.4h.75M41.5 294.4h.75M42 294.4h.75M42.5 294.4h.75" stroke="#e8ff10" stroke-width=".75"/>
<path d="M41 293.4h.75M41.5 293.4h.75M42 293.4h.75M42.5 293.4h.75M41.5 293.9h.75M42 293.9h.75" stroke="#ff3010" stroke-width=".75"/>
<rect x="23.6" y="240.4" width="57.6" height="57.4" fill="none" stroke="#a8a8b8" stroke-width="0.6"/>
<line x1="22.1" y1="296.6" x2="23.6" y2="296.6" stroke="#555" stroke-width="0.5"/>
<line x1="22.8" y1="293.85" x2="23.6" y2="293.85" stroke="#555" stroke-width="0.35"/>
<line x1="22.8" y1="291.1" x2="23.6" y2="291.1" stroke="#555" stroke-width="0.35"/>
<line x1="22.8" y1="288.35" x2="23.6" y2="288.35" stroke="#555" stroke-width="0.35"/>
<line x1="22.1" y1="285.6" x2="23.6" y2="285.6" stroke="#555" stroke-width="0.5"/>
<line x1="22.8" y1="282.85" x2="23.6" y2="282.85" stroke="#555" stroke-width="0.35"/>
<line x1="22.8" y1="280.1" x2="23.6" y2="280.1" stroke="#555" stroke-width="0.35"/>
<line x1="22.8" y1="277.35" x2="23.6" y2="277.35" stroke="#555" stroke-width="0.35"/>
<line x1="22.1" y1="274.6" x2="23.6" y2="274.6" stroke="#555" stroke-width="0.5"/>
<line x1="22.8" y1="271.85" x2="23.6" y2="271.85" stroke="#555" stroke-width="0.35"/>
<line x1="22.8" y1="269.1" x2="23.6" y2="269.1" stroke="#555" stroke-width="0.35"/>
<line x1="22.8" y1="266.35" x2="23.6" y2="266.35" stroke="#555" stroke-width="0.35"/>
<line x1="22.1" y1="263.6" x2="23.6" y2="263.6" stroke="#555" stroke-width="0.5"/>
<line x1="22.8" y1="260.85" x2="23.6" y2="260.85" stroke="#555" stroke-width="0.35"/>
<line x1="22.8" y1="258.1" x2="23.6" y2="258.1" stroke="#555" stroke-width="0.35"/>
<line x1="22.8" y1="255.35" x2="23.6" y2="255.35" stroke="#555" stroke-width="0.35"/>
<line x1="22.1" y1="252.6" x2="23.6" y2="252.6" stroke="#555" stroke-width="0.5"/>
<line x1="22.8" y1="249.85" x2="23.6" y2="249.85" stroke="#555" stroke-width="0.35"/>
<line x1="22.8" y1="247.1" x2="23.6" y2="247.1" stroke="#555" stroke-width="0.35"/>
<line x1="22.8" y1="244.35" x2="23.6" y2="244.35" stroke="#555" stroke-width="0.35"/>
<line x1="22.1" y1="241.6" x2="23.6" y2="241.6" stroke="#555" stroke-width="0.5"/>
<line x1="25.1" y1="297.8" x2="25.1" y2="299.3" stroke="#555" stroke-width="0.5"/>
<line x1="27.83" y1="297.8" x2="27.83" y2="298.6" stroke="#555" stroke-width="0.35"/>
<line x1="30.56" y1="297.8" x2="30.56" y2="298.6" stroke="#555" stroke-width="0.35"/>
<line x1="33.29" y1="297.8" x2="33.29" y2="298.6" stroke="#555" stroke-width="0.35"/>
<line x1="36.02" y1="297.8" x2="36.02" y2="299.3" stroke="#555" stroke-width="0.5"/>
<line x1="38.75" y1="297.8" x2="38.75" y2="298.6" stroke="#555" stroke-width="0.35"/>
<line x1="41.48" y1="297.8" x2="41.48" y2="298.6" stroke="#555" stroke-width="0.35"/>
<line x1="44.21" y1="297.8" x2="44.21" y2="298.6" stroke="#555" stroke-width="0.35"/>
<line x1="46.94" y1="297.8" x2="46.94" y2="299.3" stroke="#555" stroke-width="0.5"/>
<line x1="49.67" y1="297.8" x2="49.67" y2="298.6" stroke="#555" stroke-width="0.35"/>
<line x1="52.4" y1="297.8" x2="52.4" y2="298.6" stroke="#555" stroke-width="0.35"/>
<line x1="55.13" y1="297.8" x2="55.13" y2="298.6" stroke="#555" stroke-width="0.35"/>
<line x1="57.86" y1="297.8" x2="57.86" y2="299.3" stroke="#555" stroke-width="0.5"/>
<line x1="60.59" y1="297.8" x2="60.59" y2="298.6" stroke="#555" stroke-width="0.35"/>
<line x1="63.32" y1="297.8" x2="63.32" y2="298.6" stroke="#555" stroke-width="0.35"/>
<line x1="66.05" y1="297.8" x2="66.05" y2="298.6" stroke="#555" stroke-width="0.35"/>
<line x1="68.78" y1="297.8" x2="68.78" y2="299.3" stroke="#555" stroke-width="0.5"/>
<line x1="71.51" y1="297.8" x2="71.51" y2="298.6" stroke="#555" stroke-width="0.35"/>
<line x1="74.24" y1="297.8" x2="74.24" y2="298.6" stroke="#555" stroke-width="0.35"/>
<line x1="76.97" y1="297.8" x2="76.97" y2="298.6" stroke="#555" stroke-width="0.35"/>
<line x1="79.7" y1="297.8" x2="79.7" y2="299.3" stroke="#555" stroke-width="0.5"/>
<line x1="80.8" y1="241.5" x2="80.8" y2="297.5" stroke="#6a78ee" stroke-width="0.8" stroke-opacity="0.7" stroke-dasharray="1.5 0.7"/>
<text x="25.1" y="302.2" font-size="2.5" text-anchor="middle" fill="#666">0</text>
<text x="21.6" y="297.4" font-size="2.5" text-anchor="end" fill="#666">0</text>
<text x="36.02" y="302.2" font-size="2.5" text-anchor="middle" fill="#666">200</text>
<text x="21.6" y="286.4" font-size="2.5" text-anchor="end" fill="#666">200</text>
<text x="46.94" y="302.2" font-size="2.5" text-anchor="middle" fill="#666">400</text>
<text x="21.6" y="275.4" font-size="2.5" text-anchor="end" fill="#666">400</text>
<text x="57.86" y="302.2" font-size="2.5" text-anchor="middle" fill="#666">600</text>
<text x="21.6" y="264.4" font-size="2.5" text-anchor="end" fill="#666">600</text>
<text x="68.78" y="302.2" font-size="2.5" text-anchor="middle" fill="#666">800</text>
<text x="21.6" y="253.4" font-size="2.5" text-anchor="end" fill="#666">800</text>
<text x="79.7" y="302.2" font-size="2.5" text-anchor="middle" fill="#666">1.0K</text>
<text x="21.6" y="242.4" font-size="2.5" text-anchor="end" fill="#666">1.0K</text>
<ellipse cx="47.5" cy="287.9" rx="4.9" ry="3.5" fill="none" stroke="#111" stroke-width="0.7" transform="rotate(-22 47.5 287.9)"/>
<path d="M31.8 294.2Q31.6 292.4 33.8 291.9L44.5 290.9Q47.6 290.2 48.3 290.9Q48.6 292.6 46.2 294.6Q44.8 296.0 42.5 296.1L34.0 296.4Q32.0 296.3 31.8 294.2Z" fill="none" stroke="#111" stroke-width="0.7"/>
<text x="44.1" y="265.4" font-size="6.5" fill="#111" stroke="#111" stroke-width="0.16" textLength="31.5" lengthAdjust="spacingAndGlyphs">Monocytes</text>
<text x="52.3" y="308.6" font-size="2.6" text-anchor="middle" fill="#777">SSC-A</text>
<text x="15" y="271.4" font-size="2.6" text-anchor="middle" fill="#777" transform="rotate(-90 15 271.4)">FSC-A</text>
<line x1="53" y1="283.9" x2="120.6" y2="246.8" stroke="#f03030" stroke-width="1.1"/>
<path d="M123.9 245.0L119.6 245.3L121.4 248.6Z" fill="#f03030"/>
<line x1="42.6" y1="294.5" x2="42.6" y2="335.5" stroke="#f03030" stroke-width="1.1"/>
<path d="M42.6 339.0L40.8 334.8L44.4 334.8Z" fill="#f03030"/>
<text x="46.2" y="322" font-size="6.6" fill="#111" stroke="#111" stroke-width="0.16" textLength="38.9" lengthAdjust="spacingAndGlyphs">Lymphocytes</text>
<path d="M66 343.4h.75M35 345.4h.75M51 345.4h.75M54 348.4h.75M34.5 348.9h.75M62 348.9h.75M33 350.4h.75M66 350.4h.75M45 352.4h.75M45.5 352.9h.75M47 352.9h.75M38 353.4h.75M44.5 353.9h.75M40.5 354.4h.75M52 354.4h.75M36 354.9h.75M40 354.9h.75M43.5 354.9h.75M40 355.4h.75M77 355.9h.75M57.5 356.4h.75M61.5 356.4h.75M71 356.4h.75M45.5 356.9h.75M38.5 357.4h.75M42.5 357.4h.75M58.5 357.4h.75M65 357.4h.75M30.5 357.9h.75M35 357.9h.75M37.5 357.9h.75M39.5 357.9h.75M36 358.4h.75M36.5 358.4h.75M40.5 358.4h.75M55.5 358.4h.75M36.5 358.9h.75M38 358.9h.75M27.5 359.4h.75M33 359.4h.75M35.5 359.4h.75M36 359.4h.75M39.5 359.4h.75M40 359.4h.75M43 359.4h.75M46.5 359.4h.75M55 359.4h.75M34.5 359.9h.75M36 359.9h.75M37 359.9h.75M38.5 359.9h.75M40.5 359.9h.75M41 359.9h.75M43 359.9h.75M45 359.9h.75M46.5 359.9h.75M53.5 359.9h.75M56 359.9h.75M31.5 360.4h.75M33 360.4h.75M33.5 360.4h.75M39 360.4h.75M40 360.4h.75M40.5 360.4h.75M41.5 360.4h.75M44.5 360.4h.75M29 360.9h.75M32 360.9h.75M41.5 360.9h.75M46.5 360.9h.75M50.5 360.9h.75M55 360.9h.75M43 361.4h.75M48 361.4h.75M26 361.9h.75M26.5 361.9h.75M29.5 361.9h.75M44.5 361.9h.75M46.5 361.9h.75M47 361.9h.75M55.5 361.9h.75M25 362.4h.75M26.5 362.4h.75M45 362.4h.75M47 362.4h.75M48.5 362.4h.75M54 362.4h.75M58 362.4h.75M54 362.9h.75M56.5 362.9h.75M47 363.4h.75M53.5 363.4h.75M24.5 363.9h.75M47.5 363.9h.75M48 363.9h.75M26 364.4h.75M47 364.4h.75M54 364.4h.75M57 364.4h.75M58 364.4h.75M75 364.4h.75M47.5 364.9h.75M49 364.9h.75M49.5 364.9h.75M56 364.9h.75M62 364.9h.75M66.5 364.9h.75M47 365.4h.75M50.5 365.4h.75M51 365.4h.75M51.5 365.4h.75M52.5 365.4h.75M53 365.4h.75M55 365.4h.75M24.5 365.9h.75M50.5 365.9h.75M51 365.9h.75M56 365.9h.75M69.5 365.9h.75M47.5 366.4h.75M48.5 366.4h.75M55 366.4h.75M62.5 366.4h.75M66.5 366.4h.75M49.5 366.9h.75M25.5 367.4h.75M46.5 367.9h.75M57 367.9h.75M26.5 368.4h.75M51.5 368.4h.75M56.5 368.4h.75M46 368.9h.75M46.5 368.9h.75M51 368.9h.75M24.5 369.4h.75M46.5 369.4h.75M48 369.4h.75M48.5 369.4h.75M56.5 369.4h.75M67 369.4h.75M28.5 369.9h.75M46 369.9h.75M47.5 369.9h.75M50.5 369.9h.75M56.5 369.9h.75M63 369.9h.75M66 369.9h.75M25.5 370.4h.75M29 370.4h.75M45.5 370.4h.75M27 370.9h.75M27.5 370.9h.75M45 370.9h.75M46.5 370.9h.75M50 370.9h.75M25.5 371.4h.75M27 371.4h.75M46 371.4h.75M57 371.4h.75M57.5 371.4h.75M24.5 371.9h.75M26 371.9h.75M29.5 371.9h.75M57.5 371.9h.75M24.5 372.4h.75M25.5 372.4h.75M28.5 372.4h.75M45.5 372.4h.75M50.5 372.4h.75M58 372.4h.75M47.5 372.9h.75M50 372.9h.75M58.5 372.9h.75M62.5 372.9h.75M28.5 373.4h.75M46.5 373.4h.75M47 373.4h.75M57 373.4h.75M29 373.9h.75M45 373.9h.75M48 373.9h.75M57 373.9h.75M47 374.4h.75M50.5 374.4h.75M59 374.4h.75M61 374.4h.75M46 374.9h.75M49 374.9h.75M58 374.9h.75M58.5 374.9h.75M49 375.4h.75M48.5 375.9h.75M58.5 375.9h.75M59.5 375.9h.75M28 376.4h.75M46.5 376.4h.75M49.5 376.4h.75M50.5 376.4h.75M61.5 376.4h.75M28 376.9h.75M47 376.9h.75M24 377.4h.75M28.5 377.4h.75M58 377.4h.75M48.5 377.9h.75M47 378.4h.75M64 378.4h.75M64.5 378.4h.75M47.5 378.9h.75M49 378.9h.75M49.5 378.9h.75M57.5 378.9h.75M25 379.4h.75M57.5 379.4h.75M59 379.9h.75M48.5 380.4h.75M65 380.4h.75M47.5 380.9h.75M50 380.9h.75M65.5 380.9h.75M28 381.4h.75M48 381.4h.75M50.5 381.4h.75M28 381.9h.75M47 381.9h.75M47.5 381.9h.75M58 382.4h.75M66.5 382.4h.75M24.5 382.9h.75M27.5 382.9h.75M47.5 382.9h.75M50 382.9h.75M57 382.9h.75M57.5 382.9h.75M72.5 382.9h.75M28 383.4h.75M46.5 383.4h.75M47 383.4h.75M50.5 383.4h.75M47 383.9h.75M48.5 383.9h.75M59 383.9h.75M57 384.4h.75M58 384.4h.75M27 384.9h.75M28.5 384.9h.75M57 384.9h.75M58 384.9h.75M74 384.9h.75M29 385.4h.75M61.5 385.9h.75M28.5 386.4h.75M29.5 386.4h.75M46 386.4h.75M46 386.9h.75M29.5 387.4h.75M46 387.4h.75M45 387.9h.75M50 387.9h.75M51 387.9h.75M51.5 387.9h.75M45.5 388.4h.75M50.5 388.4h.75M56 388.4h.75M61.5 388.4h.75M24.5 388.9h.75M27 388.9h.75M30.5 388.9h.75M44.5 388.9h.75M46.5 388.9h.75M56 388.9h.75M30.5 389.4h.75M31 389.4h.75M44.5 389.4h.75M56.5 389.4h.75M51 389.9h.75M56 389.9h.75M57.5 389.9h.75M28 390.4h.75M42.5 390.4h.75M43 390.4h.75M46 390.4h.75M50 390.4h.75M29 390.9h.75M30.5 390.9h.75M32.5 390.9h.75M33 390.9h.75M42 390.9h.75M44.5 390.9h.75M48.5 390.9h.75M50.5 390.9h.75M53 390.9h.75M57.5 390.9h.75M29 391.4h.75M42.5 391.4h.75M49.5 391.4h.75M51.5 391.4h.75M32.5 391.9h.75M34 391.9h.75M34.5 391.9h.75M40.5 391.9h.75M52.5 391.9h.75M53 391.9h.75M54 391.9h.75M55.5 391.9h.75M56.5 391.9h.75M57.5 391.9h.75M35 392.4h.75M41 392.4h.75M41.5 392.4h.75M42.5 392.4h.75M46 392.4h.75M53 392.4h.75M53.5 392.4h.75M54 392.4h.75M34 392.9h.75M37 392.9h.75M37.5 392.9h.75M39 392.9h.75M39.5 392.9h.75M43 392.9h.75M43.5 392.9h.75M47 392.9h.75M55.5 392.9h.75M69.5 392.9h.75M38 393.4h.75M39.5 393.4h.75M42.5 393.4h.75M45.5 393.4h.75M47 393.4h.75M53 393.4h.75M53.5 393.4h.75M55.5 393.4h.75M42 393.9h.75M55 393.9h.75M32 394.4h.75M45 394.4h.75M45.5 394.4h.75M28 394.9h.75M30.5 394.9h.75M37.5 394.9h.75M51 394.9h.75M52 394.9h.75M53.5 394.9h.75M73.5 394.9h.75M34.5 395.4h.75M40 395.4h.75M53 395.9h.75M48.5 396.4h.75M54.5 396.4h.75M38.5 396.9h.75M52.5 396.9h.75M55 396.9h.75M35.5 397.4h.75M79 397.9h.75M42 398.4h.75" stroke="#7a8cff" stroke-width=".75" stroke-opacity="0.55"/>
<path d="M37 360.4h.75M37.5 360.4h.75M33 360.9h.75M33.5 360.9h.75M34.5 360.9h.75M36 360.9h.75M37.5 360.9h.75M35.5 361.4h.75M36.5 361.4h.75M37.5 361.4h.75M40 361.4h.75M41.5 361.4h.75M42 361.4h.75M42.5 361.4h.75M31 361.9h.75M34 361.9h.75M34.5 361.9h.75M36 361.9h.75M38.5 361.9h.75M39.5 361.9h.75M40.5 361.9h.75M41.5 361.9h.75M42.5 361.9h.75M43 361.9h.75M43.5 361.9h.75M33 362.4h.75M33.5 362.4h.75M35.5 362.4h.75M37 362.4h.75M37.5 362.4h.75M38 362.4h.75M39 362.4h.75M40 362.4h.75M40.5 362.4h.75M41 362.4h.75M41.5 362.4h.75M42.5 362.4h.75M44 362.4h.75M32.5 362.9h.75M33.5 362.9h.75M39 362.9h.75M39.5 362.9h.75M40 362.9h.75M43 362.9h.75M44 362.9h.75M30 363.4h.75M32.5 363.4h.75M40.5 363.4h.75M41 363.4h.75M42.5 363.4h.75M43.5 363.4h.75M44.5 363.4h.75M45 363.4h.75M30.5 363.9h.75M31 363.9h.75M41.5 363.9h.75M42.5 363.9h.75M45 363.9h.75M28.5 364.4h.75M29 364.4h.75M30 364.4h.75M30.5 364.4h.75M31 364.4h.75M31.5 364.4h.75M42.5 364.4h.75M44 364.4h.75M29.5 364.9h.75M31 364.9h.75M42.5 364.9h.75M43 364.9h.75M43.5 364.9h.75M44.5 364.9h.75M46 364.9h.75M27.5 365.4h.75M29.5 365.4h.75M30 365.4h.75M30.5 365.4h.75M43 365.4h.75M43.5 365.4h.75M44 365.4h.75M44.5 365.4h.75M45.5 365.4h.75M29 365.9h.75M30 365.9h.75M30.5 365.9h.75M43 365.9h.75M43.5 365.9h.75M44 365.9h.75M45.5 365.9h.75M46 365.9h.75M46.5 365.9h.75M54 365.9h.75M27 366.4h.75M29 366.4h.75M29.5 366.4h.75M30 366.4h.75M30.5 366.4h.75M43 366.4h.75M43.5 366.4h.75M44 366.4h.75M44.5 366.4h.75M45.5 366.4h.75M46 366.4h.75M29.5 366.9h.75M30 366.9h.75M43 366.9h.75M43.5 366.9h.75M44.5 366.9h.75M45.5 366.9h.75M52.5 366.9h.75M28 367.4h.75M30 367.4h.75M43 367.4h.75M45 367.4h.75M55 367.4h.75M27.5 367.9h.75M31 367.9h.75M42.5 367.9h.75M43 367.9h.75M43.5 367.9h.75M44.5 367.9h.75M45 367.9h.75M46 367.9h.75M52.5 367.9h.75M54 367.9h.75M30 368.4h.75M30.5 368.4h.75M31 368.4h.75M31.5 368.4h.75M32 368.4h.75M43.5 368.4h.75M44 368.4h.75M46 368.4h.75M52.5 368.4h.75M54.5 368.4h.75M30 368.9h.75M30.5 368.9h.75M31 368.9h.75M31.5 368.9h.75M32 368.9h.75M32.5 368.9h.75M43.5 368.9h.75M44 368.9h.75M54 368.9h.75M28.5 369.4h.75M29 369.4h.75M29.5 369.4h.75M31 369.4h.75M32.5 369.4h.75M33 369.4h.75M42 369.4h.75M43 369.4h.75M43.5 369.4h.75M44.5 369.4h.75M45 369.4h.75M52 369.4h.75M52.5 369.4h.75M53 369.4h.75M53.5 369.4h.75M54 369.4h.75M55 369.4h.75M55.5 369.4h.75M56 369.4h.75M29 369.9h.75M30 369.9h.75M31.5 369.9h.75M32 369.9h.75M32.5 369.9h.75M34 369.9h.75M40.5 369.9h.75M41.5 369.9h.75M42 369.9h.75M44.5 369.9h.75M51.5 369.9h.75M52 369.9h.75M52.5 369.9h.75M53 369.9h.75M53.5 369.9h.75M55 369.9h.75M55.5 369.9h.75M30.5 370.4h.75M31 370.4h.75M31.5 370.4h.75M32.5 370.4h.75M33.5 370.4h.75M34.5 370.4h.75M35 370.4h.75M39 370.4h.75M40 370.4h.75M40.5 370.4h.75M41 370.4h.75M44 370.4h.75M51.5 370.4h.75M52 370.4h.75M52.5 370.4h.75M53 370.4h.75M53.5 370.4h.75M54 370.4h.75M54.5 370.4h.75M55 370.4h.75M31.5 370.9h.75M32.5 370.9h.75M34 370.9h.75M35.5 370.9h.75M36.5 370.9h.75M37.5 370.9h.75M38 370.9h.75M38.5 370.9h.75M39 370.9h.75M39.5 370.9h.75M40 370.9h.75M40.5 370.9h.75M41 370.9h.75M41.5 370.9h.75M42 370.9h.75M43 370.9h.75M43.5 370.9h.75M44.5 370.9h.75M52.5 370.9h.75M53 370.9h.75M53.5 370.9h.75M54 370.9h.75M56.5 370.9h.75M30 371.4h.75M34.5 371.4h.75M36.5 371.4h.75M38 371.4h.75M38.5 371.4h.75M39.5 371.4h.75M40.5 371.4h.75M41 371.4h.75M41.5 371.4h.75M43 371.4h.75M53 371.4h.75M55 371.4h.75M55.5 371.4h.75M56.5 371.4h.75M32 371.9h.75M32.5 371.9h.75M34 371.9h.75M35 371.9h.75M35.5 371.9h.75M36.5 371.9h.75M38 371.9h.75M38.5 371.9h.75M39 371.9h.75M39.5 371.9h.75M41.5 371.9h.75M42.5 371.9h.75M43 371.9h.75M52.5 371.9h.75M55 371.9h.75M55.5 371.9h.75M34 372.4h.75M35.5 372.4h.75M36 372.4h.75M38 372.4h.75M38.5 372.4h.75M39.5 372.4h.75M40.5 372.4h.75M41 372.4h.75M42 372.4h.75M42.5 372.4h.75M44 372.4h.75M44.5 372.4h.75M52.5 372.4h.75M56 372.4h.75M30.5 372.9h.75M31.5 372.9h.75M32 372.9h.75M33 372.9h.75M33.5 372.9h.75M34.5 372.9h.75M35.5 372.9h.75M36 372.9h.75M37.5 372.9h.75M38 372.9h.75M39 372.9h.75M41 372.9h.75M42.5 372.9h.75M44 372.9h.75M52 372.9h.75M52.5 372.9h.75M56.5 372.9h.75M31 373.4h.75M33.5 373.4h.75M34.5 373.4h.75M35.5 373.4h.75M36.5 373.4h.75M38 373.4h.75M39 373.4h.75M40.5 373.4h.75M41.5 373.4h.75M42 373.4h.75M43 373.4h.75M43.5 373.4h.75M56 373.4h.75M56.5 373.4h.75M32 373.9h.75M33.5 373.9h.75M35 373.9h.75M35.5 373.9h.75M37 373.9h.75M37.5 373.9h.75M38.5 373.9h.75M40.5 373.9h.75M41.5 373.9h.75M42 373.9h.75M42.5 373.9h.75M43 373.9h.75M43.5 373.9h.75M52 373.9h.75M55.5 373.9h.75M56 373.9h.75M56.5 373.9h.75M31 374.4h.75M32 374.4h.75M34 374.4h.75M34.5 374.4h.75M35.5 374.4h.75M36 374.4h.75M37.5 374.4h.75M38.5 374.4h.75M40 374.4h.75M40.5 374.4h.75M41 374.4h.75M41.5 374.4h.75M42.5 374.4h.75M43.5 374.4h.75M44 374.4h.75M52 374.4h.75M56 374.4h.75M57 374.4h.75M33.5 374.9h.75M34.5 374.9h.75M40 374.9h.75M40.5 374.9h.75M42.5 374.9h.75M43.5 374.9h.75M51.5 374.9h.75M52 374.9h.75M57 374.9h.75M30 375.4h.75M32 375.4h.75M34.5 375.4h.75M40.5 375.4h.75M41 375.4h.75M41.5 375.4h.75M42.5 375.4h.75M43 375.4h.75M56 375.4h.75M57 375.4h.75M29.5 375.9h.75M32 375.9h.75M33.5 375.9h.75M41 375.9h.75M42.5 375.9h.75M43 375.9h.75M43.5 375.9h.75M44.5 375.9h.75M51 375.9h.75M51.5 375.9h.75M56 375.9h.75M56.5 375.9h.75M29.5 376.4h.75M32 376.4h.75M32.5 376.4h.75M42 376.4h.75M42.5 376.4h.75M44.5 376.4h.75M45 376.4h.75M51 376.4h.75M51.5 376.4h.75M56 376.4h.75M56.5 376.4h.75M30.5 376.9h.75M32 376.9h.75M32.5 376.9h.75M33 376.9h.75M42.5 376.9h.75M43.5 376.9h.75M56 376.9h.75M31.5 377.4h.75M32.5 377.4h.75M44 377.4h.75M44.5 377.4h.75M45 377.4h.75M56.5 377.4h.75M57 377.4h.75M31 377.9h.75M31.5 377.9h.75M32 377.9h.75M42.5 377.9h.75M43.5 377.9h.75M50.5 377.9h.75M51.5 377.9h.75M56.5 377.9h.75M57 377.9h.75M30.5 378.4h.75M32 378.4h.75M32.5 378.4h.75M42.5 378.4h.75M44 378.4h.75M46 378.4h.75M51.5 378.4h.75M56.5 378.4h.75M29.5 378.9h.75M30 378.9h.75M30.5 378.9h.75M43.5 378.9h.75M44 378.9h.75M44.5 378.9h.75M45.5 378.9h.75M51.5 378.9h.75M56.5 378.9h.75M29.5 379.4h.75M31 379.4h.75M43 379.4h.75M44 379.4h.75M44.5 379.4h.75M45.5 379.4h.75M51.5 379.4h.75M30.5 379.9h.75M31.5 379.9h.75M32.5 379.9h.75M43 379.9h.75M43.5 379.9h.75M44.5 379.9h.75M45 379.9h.75M46 379.9h.75M50.5 379.9h.75M56.5 379.9h.75M29.5 380.4h.75M43 380.4h.75M43.5 380.4h.75M45.5 380.4h.75M56.5 380.4h.75M57 380.4h.75M46.5 380.9h.75M51 380.9h.75M56.5 380.9h.75M30 381.4h.75M32.5 381.4h.75M43 381.4h.75M44.5 381.4h.75M29 381.9h.75M31 381.9h.75M32 381.9h.75M43 381.9h.75M43.5 381.9h.75M44.5 381.9h.75M56 381.9h.75M56.5 381.9h.75M57 381.9h.75M30 382.4h.75M31.5 382.4h.75M32 382.4h.75M42.5 382.4h.75M43 382.4h.75M43.5 382.4h.75M44 382.4h.75M44.5 382.4h.75M51.5 382.4h.75M56 382.4h.75M29 382.9h.75M29.5 382.9h.75M31 382.9h.75M32.5 382.9h.75M42.5 382.9h.75M43.5 382.9h.75M44 382.9h.75M44.5 382.9h.75M45 382.9h.75M45.5 382.9h.75M51.5 382.9h.75M56 382.9h.75M29 383.4h.75M32 383.4h.75M32.5 383.4h.75M42.5 383.4h.75M43 383.4h.75M43.5 383.4h.75M44 383.4h.75M46 383.4h.75M51 383.4h.75M51.5 383.4h.75M56 383.4h.75M56.5 383.4h.75M30 383.9h.75M42 383.9h.75M42.5 383.9h.75M43 383.9h.75M43.5 383.9h.75M44 383.9h.75M44.5 383.9h.75M51 383.9h.75M52 383.9h.75M56 383.9h.75M30 384.4h.75M30.5 384.4h.75M31.5 384.4h.75M32.5 384.4h.75M42 384.4h.75M42.5 384.4h.75M43.5 384.4h.75M56 384.4h.75M56.5 384.4h.75M30 384.9h.75M30.5 384.9h.75M32 384.9h.75M41.5 384.9h.75M43 384.9h.75M52 384.9h.75M52.5 384.9h.75M56 384.9h.75M31 385.4h.75M32.5 385.4h.75M41 385.4h.75M43 385.4h.75M45.5 385.4h.75M52 385.4h.75M56 385.4h.75M32 385.9h.75M32.5 385.9h.75M33 385.9h.75M33.5 385.9h.75M41 385.9h.75M41.5 385.9h.75M44 385.9h.75M45 385.9h.75M52 385.9h.75M52.5 385.9h.75M53 385.9h.75M55 385.9h.75M30 386.4h.75M31 386.4h.75M31.5 386.4h.75M34.5 386.4h.75M35 386.4h.75M40 386.4h.75M40.5 386.4h.75M41 386.4h.75M41.5 386.4h.75M43 386.4h.75M44.5 386.4h.75M52.5 386.4h.75M53 386.4h.75M53.5 386.4h.75M54.5 386.4h.75M55 386.4h.75M55.5 386.4h.75M32 386.9h.75M32.5 386.9h.75M34.5 386.9h.75M35.5 386.9h.75M36 386.9h.75M38.5 386.9h.75M39 386.9h.75M42 386.9h.75M43 386.9h.75M43.5 386.9h.75M44 386.9h.75M45 386.9h.75M51.5 386.9h.75M53.5 386.9h.75M54 386.9h.75M54.5 386.9h.75M55 386.9h.75M55.5 386.9h.75M33.5 387.4h.75M34.5 387.4h.75M35 387.4h.75M37.5 387.4h.75M38 387.4h.75M38.5 387.4h.75M39 387.4h.75M41.5 387.4h.75M42 387.4h.75M42.5 387.4h.75M43.5 387.4h.75M44 387.4h.75M53.5 387.4h.75M54.5 387.4h.75M55 387.4h.75M55.5 387.4h.75M31.5 387.9h.75M32 387.9h.75M33 387.9h.75M35 387.9h.75M35.5 387.9h.75M37.5 387.9h.75M38 387.9h.75M38.5 387.9h.75M39 387.9h.75M40 387.9h.75M40.5 387.9h.75M42 387.9h.75M42.5 387.9h.75M43 387.9h.75M53 387.9h.75M55 387.9h.75M55.5 387.9h.75M56 387.9h.75M33 388.4h.75M33.5 388.4h.75M34.5 388.4h.75M35 388.4h.75M35.5 388.4h.75M37 388.4h.75M37.5 388.4h.75M38 388.4h.75M39 388.4h.75M40.5 388.4h.75M43 388.4h.75M44 388.4h.75M53 388.4h.75M54.5 388.4h.75M55.5 388.4h.75M31.5 388.9h.75M32 388.9h.75M35.5 388.9h.75M36 388.9h.75M40 388.9h.75M40.5 388.9h.75M41 388.9h.75M41.5 388.9h.75M42 388.9h.75M54 388.9h.75M55 388.9h.75M33 389.4h.75M33.5 389.4h.75M34.5 389.4h.75M35 389.4h.75M35.5 389.4h.75M37.5 389.4h.75M54 389.4h.75M55 389.4h.75M33 389.9h.75M34.5 389.9h.75M35.5 389.9h.75M36 389.9h.75M36.5 389.9h.75M37 389.9h.75M39.5 389.9h.75M40 389.9h.75M54 389.9h.75M54.5 389.9h.75M35 390.4h.75M36.5 390.4h.75M37.5 390.4h.75M38.5 390.4h.75M40 390.4h.75M40.5 390.4h.75M53 390.4h.75M53.5 390.4h.75M54.5 390.4h.75M33.5 390.9h.75M36 390.9h.75M38 390.9h.75M39 390.9h.75M39.5 390.9h.75M35.5 391.4h.75M36.5 391.4h.75M37 391.4h.75M38 391.4h.75M39.5 391.4h.75M40 391.4h.75M39.5 391.9h.75" stroke="#3a4cff" stroke-width=".75"/>
<path d="M35 362.9h.75M36.5 362.9h.75M37 362.9h.75M38 362.9h.75M33.5 363.4h.75M34.5 363.4h.75M35 363.4h.75M35.5 363.4h.75M36 363.4h.75M36.5 363.4h.75M37.5 363.4h.75M38.5 363.4h.75M39.5 363.4h.75M40 363.4h.75M32.5 363.9h.75M34 363.9h.75M34.5 363.9h.75M35 363.9h.75M35.5 363.9h.75M36 363.9h.75M36.5 363.9h.75M37 363.9h.75M37.5 363.9h.75M38.5 363.9h.75M39 363.9h.75M39.5 363.9h.75M40 363.9h.75M41 363.9h.75M32 364.4h.75M32.5 364.4h.75M33.5 364.4h.75M34 364.4h.75M34.5 364.4h.75M35 364.4h.75M36 364.4h.75M38.5 364.4h.75M39 364.4h.75M39.5 364.4h.75M40 364.4h.75M40.5 364.4h.75M31.5 364.9h.75M32 364.9h.75M32.5 364.9h.75M33 364.9h.75M33.5 364.9h.75M34 364.9h.75M34.5 364.9h.75M40 364.9h.75M40.5 364.9h.75M42 364.9h.75M31.5 365.4h.75M32.5 365.4h.75M33 365.4h.75M33.5 365.4h.75M34 365.4h.75M41 365.4h.75M41.5 365.4h.75M42 365.4h.75M42.5 365.4h.75M31 365.9h.75M31.5 365.9h.75M32.5 365.9h.75M33.5 365.9h.75M34 365.9h.75M41 365.9h.75M41.5 365.9h.75M42 365.9h.75M42.5 365.9h.75M31.5 366.4h.75M32 366.4h.75M32.5 366.4h.75M34 366.4h.75M41.5 366.4h.75M42 366.4h.75M42.5 366.4h.75M31.5 366.9h.75M32 366.9h.75M32.5 366.9h.75M33 366.9h.75M33.5 366.9h.75M41 366.9h.75M41.5 366.9h.75M42 366.9h.75M42.5 366.9h.75M31.5 367.4h.75M32 367.4h.75M32.5 367.4h.75M33 367.4h.75M33.5 367.4h.75M34 367.4h.75M41 367.4h.75M41.5 367.4h.75M42 367.4h.75M42.5 367.4h.75M32.5 367.9h.75M33 367.9h.75M34 367.9h.75M34.5 367.9h.75M35 367.9h.75M40.5 367.9h.75M41 367.9h.75M41.5 367.9h.75M42 367.9h.75M33 368.4h.75M34.5 368.4h.75M35 368.4h.75M35.5 368.4h.75M36 368.4h.75M39.5 368.4h.75M40 368.4h.75M41 368.4h.75M42 368.4h.75M33.5 368.9h.75M34 368.9h.75M34.5 368.9h.75M35 368.9h.75M36.5 368.9h.75M37.5 368.9h.75M38 368.9h.75M38.5 368.9h.75M39 368.9h.75M39.5 368.9h.75M40 368.9h.75M40.5 368.9h.75M41 368.9h.75M41.5 368.9h.75M34.5 369.4h.75M35 369.4h.75M36 369.4h.75M36.5 369.4h.75M37 369.4h.75M37.5 369.4h.75M38 369.4h.75M38.5 369.4h.75M39 369.4h.75M39.5 369.4h.75M40 369.4h.75M40.5 369.4h.75M34.5 369.9h.75M35 369.9h.75M35.5 369.9h.75M36 369.9h.75M36.5 369.9h.75M37 369.9h.75M37.5 369.9h.75M38 369.9h.75M38.5 369.9h.75M39 369.9h.75M39.5 369.9h.75M37 370.4h.75M53.5 371.4h.75M54 371.4h.75M54.5 371.4h.75M53 371.9h.75M53.5 371.9h.75M54 371.9h.75M53.5 372.4h.75M54 372.4h.75M55 372.4h.75M53 372.9h.75M53.5 372.9h.75M54 372.9h.75M54.5 372.9h.75M55 372.9h.75M52.5 373.4h.75M53 373.4h.75M54 373.4h.75M52.5 373.9h.75M53.5 373.9h.75M54 373.9h.75M54.5 373.9h.75M55 373.9h.75M53 374.4h.75M53.5 374.4h.75M55 374.4h.75M55.5 374.4h.75M36 374.9h.75M37 374.9h.75M37.5 374.9h.75M38 374.9h.75M39 374.9h.75M53 374.9h.75M55 374.9h.75M55.5 374.9h.75M35 375.4h.75M35.5 375.4h.75M36 375.4h.75M36.5 375.4h.75M37 375.4h.75M37.5 375.4h.75M38.5 375.4h.75M40 375.4h.75M52.5 375.4h.75M53 375.4h.75M55 375.4h.75M34.5 375.9h.75M35.5 375.9h.75M36.5 375.9h.75M37 375.9h.75M37.5 375.9h.75M38 375.9h.75M38.5 375.9h.75M39 375.9h.75M40 375.9h.75M53 375.9h.75M55 375.9h.75M55.5 375.9h.75M34 376.4h.75M34.5 376.4h.75M35.5 376.4h.75M36.5 376.4h.75M37 376.4h.75M37.5 376.4h.75M38 376.4h.75M38.5 376.4h.75M39 376.4h.75M39.5 376.4h.75M40 376.4h.75M40.5 376.4h.75M52 376.4h.75M55 376.4h.75M55.5 376.4h.75M34.5 376.9h.75M35 376.9h.75M35.5 376.9h.75M36 376.9h.75M36.5 376.9h.75M37 376.9h.75M37.5 376.9h.75M38 376.9h.75M40 376.9h.75M40.5 376.9h.75M41 376.9h.75M41.5 376.9h.75M52.5 376.9h.75M55.5 376.9h.75M34.5 377.4h.75M36 377.4h.75M37 377.4h.75M37.5 377.4h.75M38.5 377.4h.75M39 377.4h.75M39.5 377.4h.75M40 377.4h.75M40.5 377.4h.75M41 377.4h.75M41.5 377.4h.75M52 377.4h.75M52.5 377.4h.75M55.5 377.4h.75M33.5 377.9h.75M34 377.9h.75M34.5 377.9h.75M35 377.9h.75M36 377.9h.75M36.5 377.9h.75M37 377.9h.75M37.5 377.9h.75M38 377.9h.75M38.5 377.9h.75M39 377.9h.75M39.5 377.9h.75M40 377.9h.75M40.5 377.9h.75M41 377.9h.75M52 377.9h.75M55.5 377.9h.75M56 377.9h.75M33 378.4h.75M35.5 378.4h.75M36 378.4h.75M36.5 378.4h.75M40 378.4h.75M40.5 378.4h.75M41 378.4h.75M41.5 378.4h.75M42 378.4h.75M52 378.4h.75M55.5 378.4h.75M56 378.4h.75M33.5 378.9h.75M35 378.9h.75M35.5 378.9h.75M36 378.9h.75M40 378.9h.75M41.5 378.9h.75M42 378.9h.75M42.5 378.9h.75M55.5 378.9h.75M56 378.9h.75M34 379.4h.75M35 379.4h.75M35.5 379.4h.75M40 379.4h.75M40.5 379.4h.75M41.5 379.4h.75M42.5 379.4h.75M55.5 379.4h.75M56 379.4h.75M33.5 379.9h.75M34 379.9h.75M35.5 379.9h.75M40 379.9h.75M40.5 379.9h.75M41 379.9h.75M41.5 379.9h.75M42 379.9h.75M52 379.9h.75M56 379.9h.75M32.5 380.4h.75M33.5 380.4h.75M34 380.4h.75M34.5 380.4h.75M35 380.4h.75M35.5 380.4h.75M40 380.4h.75M40.5 380.4h.75M41 380.4h.75M41.5 380.4h.75M42 380.4h.75M52 380.4h.75M55.5 380.4h.75M56 380.4h.75M32.5 380.9h.75M33 380.9h.75M33.5 380.9h.75M34 380.9h.75M34.5 380.9h.75M35 380.9h.75M35.5 380.9h.75M40 380.9h.75M40.5 380.9h.75M41.5 380.9h.75M42 380.9h.75M42.5 380.9h.75M52 380.9h.75M55.5 380.9h.75M56 380.9h.75M33.5 381.4h.75M34 381.4h.75M34.5 381.4h.75M35 381.4h.75M40 381.4h.75M40.5 381.4h.75M41 381.4h.75M42 381.4h.75M42.5 381.4h.75M55.5 381.4h.75M34.5 381.9h.75M35 381.9h.75M35.5 381.9h.75M36 381.9h.75M39.5 381.9h.75M40 381.9h.75M40.5 381.9h.75M41 381.9h.75M42 381.9h.75M52.5 381.9h.75M55.5 381.9h.75M34.5 382.4h.75M35 382.4h.75M35.5 382.4h.75M39 382.4h.75M40.5 382.4h.75M41 382.4h.75M41.5 382.4h.75M42 382.4h.75M52 382.4h.75M52.5 382.4h.75M55.5 382.4h.75M34.5 382.9h.75M35 382.9h.75M35.5 382.9h.75M36 382.9h.75M36.5 382.9h.75M37 382.9h.75M37.5 382.9h.75M38 382.9h.75M38.5 382.9h.75M39.5 382.9h.75M40 382.9h.75M40.5 382.9h.75M41 382.9h.75M41.5 382.9h.75M42 382.9h.75M52 382.9h.75M52.5 382.9h.75M55.5 382.9h.75M33 383.4h.75M34.5 383.4h.75M37 383.4h.75M37.5 383.4h.75M38 383.4h.75M38.5 383.4h.75M39 383.4h.75M39.5 383.4h.75M40 383.4h.75M41 383.4h.75M41.5 383.4h.75M42 383.4h.75M55 383.4h.75M55.5 383.4h.75M33.5 383.9h.75M34 383.9h.75M34.5 383.9h.75M35.5 383.9h.75M36 383.9h.75M36.5 383.9h.75M37 383.9h.75M37.5 383.9h.75M38 383.9h.75M38.5 383.9h.75M39 383.9h.75M40 383.9h.75M41 383.9h.75M41.5 383.9h.75M52.5 383.9h.75M53 383.9h.75M55 383.9h.75M55.5 383.9h.75M33.5 384.4h.75M35 384.4h.75M35.5 384.4h.75M36 384.4h.75M36.5 384.4h.75M37.5 384.4h.75M38 384.4h.75M39 384.4h.75M39.5 384.4h.75M40 384.4h.75M41 384.4h.75M52.5 384.4h.75M53 384.4h.75M53.5 384.4h.75M54 384.4h.75M54.5 384.4h.75M55 384.4h.75M34 384.9h.75M35 384.9h.75M36 384.9h.75M36.5 384.9h.75M37 384.9h.75M37.5 384.9h.75M38 384.9h.75M38.5 384.9h.75M39 384.9h.75M40 384.9h.75M53 384.9h.75M53.5 384.9h.75M54 384.9h.75M54.5 384.9h.75M55 384.9h.75M35 385.4h.75M38 385.4h.75M39 385.4h.75M39.5 385.4h.75M40 385.4h.75M40.5 385.4h.75M53 385.4h.75M53.5 385.4h.75M54 385.4h.75M54.5 385.4h.75M35 385.9h.75M37 385.9h.75M37.5 385.9h.75M38.5 385.9h.75M40 385.9h.75M53.5 385.9h.75M54.5 385.9h.75M35.5 386.4h.75M36.5 386.4h.75M37 386.4h.75M37.5 386.4h.75M38.5 386.4h.75M39.5 386.4h.75M54 386.4h.75M37 386.9h.75M38 386.9h.75" stroke="#1a6cff" stroke-width=".75"/>
<path d="M37 364.4h.75M37.5 364.4h.75M35.5 364.9h.75M36.5 364.9h.75M37 364.9h.75M39 364.9h.75M39.5 364.9h.75M34.5 365.4h.75M35 365.4h.75M35.5 365.4h.75M36.5 365.4h.75M37 365.4h.75M37.5 365.4h.75M38 365.4h.75M38.5 365.4h.75M39 365.4h.75M39.5 365.4h.75M40 365.4h.75M40.5 365.4h.75M34.5 365.9h.75M35 365.9h.75M35.5 365.9h.75M36 365.9h.75M36.5 365.9h.75M37 365.9h.75M38.5 365.9h.75M39 365.9h.75M39.5 365.9h.75M40 365.9h.75M40.5 365.9h.75M34.5 366.4h.75M35 366.4h.75M35.5 366.4h.75M36 366.4h.75M36.5 366.4h.75M39 366.4h.75M39.5 366.4h.75M40 366.4h.75M40.5 366.4h.75M34.5 366.9h.75M35 366.9h.75M36 366.9h.75M36.5 366.9h.75M39 366.9h.75M40.5 366.9h.75M34.5 367.4h.75M35 367.4h.75M35.5 367.4h.75M36 367.4h.75M36.5 367.4h.75M37 367.4h.75M37.5 367.4h.75M38 367.4h.75M38.5 367.4h.75M39 367.4h.75M40 367.4h.75M40.5 367.4h.75M35.5 367.9h.75M36 367.9h.75M36.5 367.9h.75M37 367.9h.75M37.5 367.9h.75M38 367.9h.75M38.5 367.9h.75M39 367.9h.75M39.5 367.9h.75M40 367.9h.75M36.5 368.4h.75M37 368.4h.75M37.5 368.4h.75M38 368.4h.75M38.5 368.4h.75M39 368.4h.75M54 374.9h.75M53.5 375.4h.75M54 375.4h.75M54.5 375.9h.75M53 376.4h.75M53.5 376.4h.75M54 376.4h.75M54.5 376.4h.75M53 376.9h.75M53.5 376.9h.75M54 376.9h.75M54.5 376.9h.75M55 376.9h.75M53 377.4h.75M54.5 377.4h.75M55 377.4h.75M52.5 377.9h.75M53 377.9h.75M55 377.9h.75M37 378.4h.75M37.5 378.4h.75M38.5 378.4h.75M39 378.4h.75M52.5 378.4h.75M53 378.4h.75M55 378.4h.75M36.5 378.9h.75M37 378.9h.75M37.5 378.9h.75M38 378.9h.75M38.5 378.9h.75M39.5 378.9h.75M52.5 378.9h.75M55 378.9h.75M36 379.4h.75M36.5 379.4h.75M37.5 379.4h.75M38 379.4h.75M39 379.4h.75M39.5 379.4h.75M52.5 379.4h.75M55 379.4h.75M36 379.9h.75M36.5 379.9h.75M37 379.9h.75M37.5 379.9h.75M38 379.9h.75M38.5 379.9h.75M39 379.9h.75M52.5 379.9h.75M55 379.9h.75M55.5 379.9h.75M36 380.4h.75M36.5 380.4h.75M37.5 380.4h.75M38 380.4h.75M38.5 380.4h.75M39 380.4h.75M39.5 380.4h.75M55 380.4h.75M36 380.9h.75M36.5 380.9h.75M37.5 380.9h.75M38 380.9h.75M39 380.9h.75M52.5 380.9h.75M55 380.9h.75M36 381.4h.75M36.5 381.4h.75M37 381.4h.75M37.5 381.4h.75M38 381.4h.75M38.5 381.4h.75M39 381.4h.75M39.5 381.4h.75M52.5 381.4h.75M55 381.4h.75M36.5 381.9h.75M37 381.9h.75M37.5 381.9h.75M38.5 381.9h.75M39 381.9h.75M53 381.9h.75M55 381.9h.75M37 382.4h.75M37.5 382.4h.75M38 382.4h.75M38.5 382.4h.75M53 382.4h.75M55 382.4h.75M53 382.9h.75M53.5 382.9h.75M54 382.9h.75M54.5 382.9h.75M55 382.9h.75M53 383.4h.75M53.5 383.4h.75M54 383.4h.75M54.5 383.4h.75M53.5 383.9h.75M54 383.9h.75M54.5 383.9h.75" stroke="#00b4ff" stroke-width=".75"/>
<path d="M37.5 365.9h.75M38 365.9h.75M37 366.4h.75M37.5 366.4h.75M38 366.4h.75M37 366.9h.75M37.5 366.9h.75M38 366.9h.75M38.5 366.9h.75M53.5 377.4h.75M54 377.4h.75M53.5 377.9h.75M54 377.9h.75M54.5 377.9h.75M53.5 378.4h.75M54 378.4h.75M54.5 378.4h.75M53 378.9h.75M53.5 378.9h.75M54.5 378.9h.75M53 379.4h.75M54.5 379.4h.75M54.5 379.9h.75M53 380.4h.75M54.5 380.4h.75M53 380.9h.75M54.5 380.9h.75M53 381.4h.75M53.5 381.4h.75M54.5 381.4h.75M53.5 381.9h.75M54 381.9h.75M54.5 381.9h.75M53.5 382.4h.75M54 382.4h.75M54.5 382.4h.75" stroke="#10e8e0" stroke-width=".75"/>
<path d="M54 378.9h.75M53.5 379.4h.75M54 379.4h.75M53.5 379.9h.75M54 379.9h.75M53.5 380.4h.75M54 380.4h.75M53.5 380.9h.75M54 380.9h.75M54 381.4h.75" stroke="#30ff50" stroke-width=".75"/>
<rect x="23.8" y="342.3" width="57.5" height="56.4" fill="none" stroke="#b0b0b0" stroke-width="0.6"/>
<line x1="22.3" y1="397.5" x2="23.8" y2="397.5" stroke="#444" stroke-width="0.5"/>
<line x1="23" y1="395.25" x2="23.8" y2="395.25" stroke="#444" stroke-width="0.35"/>
<line x1="23" y1="393" x2="23.8" y2="393" stroke="#444" stroke-width="0.35"/>
<line x1="23" y1="390.75" x2="23.8" y2="390.75" stroke="#444" stroke-width="0.35"/>
<line x1="22.3" y1="388.5" x2="23.8" y2="388.5" stroke="#444" stroke-width="0.5"/>
<line x1="23" y1="386.25" x2="23.8" y2="386.25" stroke="#444" stroke-width="0.35"/>
<line x1="23" y1="384" x2="23.8" y2="384" stroke="#444" stroke-width="0.35"/>
<line x1="23" y1="381.75" x2="23.8" y2="381.75" stroke="#444" stroke-width="0.35"/>
<line x1="22.3" y1="379.5" x2="23.8" y2="379.5" stroke="#444" stroke-width="0.5"/>
<line x1="23" y1="377.25" x2="23.8" y2="377.25" stroke="#444" stroke-width="0.35"/>
<line x1="23" y1="375" x2="23.8" y2="375" stroke="#444" stroke-width="0.35"/>
<line x1="23" y1="372.75" x2="23.8" y2="372.75" stroke="#444" stroke-width="0.35"/>
<line x1="22.3" y1="370.5" x2="23.8" y2="370.5" stroke="#444" stroke-width="0.5"/>
<line x1="23" y1="368.25" x2="23.8" y2="368.25" stroke="#444" stroke-width="0.35"/>
<line x1="23" y1="366" x2="23.8" y2="366" stroke="#444" stroke-width="0.35"/>
<line x1="23" y1="363.75" x2="23.8" y2="363.75" stroke="#444" stroke-width="0.35"/>
<line x1="22.3" y1="361.5" x2="23.8" y2="361.5" stroke="#444" stroke-width="0.5"/>
<line x1="23" y1="359.25" x2="23.8" y2="359.25" stroke="#444" stroke-width="0.35"/>
<line x1="23" y1="357" x2="23.8" y2="357" stroke="#444" stroke-width="0.35"/>
<line x1="23" y1="354.75" x2="23.8" y2="354.75" stroke="#444" stroke-width="0.35"/>
<line x1="22.3" y1="352.5" x2="23.8" y2="352.5" stroke="#444" stroke-width="0.5"/>
<line x1="23" y1="350.25" x2="23.8" y2="350.25" stroke="#444" stroke-width="0.35"/>
<line x1="23" y1="348" x2="23.8" y2="348" stroke="#444" stroke-width="0.35"/>
<line x1="23" y1="345.75" x2="23.8" y2="345.75" stroke="#444" stroke-width="0.35"/>
<line x1="22.3" y1="343.5" x2="23.8" y2="343.5" stroke="#444" stroke-width="0.5"/>
<line x1="25.3" y1="398.7" x2="25.3" y2="400.2" stroke="#444" stroke-width="0.5"/>
<line x1="27.57" y1="398.7" x2="27.57" y2="399.5" stroke="#444" stroke-width="0.35"/>
<line x1="29.84" y1="398.7" x2="29.84" y2="399.5" stroke="#444" stroke-width="0.35"/>
<line x1="32.11" y1="398.7" x2="32.11" y2="399.5" stroke="#444" stroke-width="0.35"/>
<line x1="34.38" y1="398.7" x2="34.38" y2="400.2" stroke="#444" stroke-width="0.5"/>
<line x1="36.65" y1="398.7" x2="36.65" y2="399.5" stroke="#444" stroke-width="0.35"/>
<line x1="38.92" y1="398.7" x2="38.92" y2="399.5" stroke="#444" stroke-width="0.35"/>
<line x1="41.2" y1="398.7" x2="41.2" y2="399.5" stroke="#444" stroke-width="0.35"/>
<line x1="43.47" y1="398.7" x2="43.47" y2="400.2" stroke="#444" stroke-width="0.5"/>
<line x1="45.74" y1="398.7" x2="45.74" y2="399.5" stroke="#444" stroke-width="0.35"/>
<line x1="48.01" y1="398.7" x2="48.01" y2="399.5" stroke="#444" stroke-width="0.35"/>
<line x1="50.28" y1="398.7" x2="50.28" y2="399.5" stroke="#444" stroke-width="0.35"/>
<line x1="52.55" y1="398.7" x2="52.55" y2="400.2" stroke="#444" stroke-width="0.5"/>
<line x1="54.82" y1="398.7" x2="54.82" y2="399.5" stroke="#444" stroke-width="0.35"/>
<line x1="57.09" y1="398.7" x2="57.09" y2="399.5" stroke="#444" stroke-width="0.35"/>
<line x1="59.36" y1="398.7" x2="59.36" y2="399.5" stroke="#444" stroke-width="0.35"/>
<line x1="61.63" y1="398.7" x2="61.63" y2="400.2" stroke="#444" stroke-width="0.5"/>
<line x1="63.9" y1="398.7" x2="63.9" y2="399.5" stroke="#444" stroke-width="0.35"/>
<line x1="66.18" y1="398.7" x2="66.18" y2="399.5" stroke="#444" stroke-width="0.35"/>
<line x1="68.45" y1="398.7" x2="68.45" y2="399.5" stroke="#444" stroke-width="0.35"/>
<line x1="70.72" y1="398.7" x2="70.72" y2="400.2" stroke="#444" stroke-width="0.5"/>
<line x1="72.99" y1="398.7" x2="72.99" y2="399.5" stroke="#444" stroke-width="0.35"/>
<line x1="75.26" y1="398.7" x2="75.26" y2="399.5" stroke="#444" stroke-width="0.35"/>
<line x1="77.53" y1="398.7" x2="77.53" y2="399.5" stroke="#444" stroke-width="0.35"/>
<line x1="79.8" y1="398.7" x2="79.8" y2="400.2" stroke="#444" stroke-width="0.5"/>
<text x="25" y="402.3" font-size="2.4" text-anchor="middle" fill="#777" transform="rotate(-45 25 402.3)">10</text>
<text x="34.08" y="402.3" font-size="2.4" text-anchor="middle" fill="#777" transform="rotate(-45 34.08 402.3)">10</text>
<text x="43.17" y="402.3" font-size="2.4" text-anchor="middle" fill="#777" transform="rotate(-45 43.17 402.3)">10</text>
<text x="52.25" y="402.3" font-size="2.4" text-anchor="middle" fill="#777" transform="rotate(-45 52.25 402.3)">10</text>
<text x="61.33" y="402.3" font-size="2.4" text-anchor="middle" fill="#777" transform="rotate(-45 61.33 402.3)">10</text>
<text x="70.42" y="402.3" font-size="2.4" text-anchor="middle" fill="#777" transform="rotate(-45 70.42 402.3)">10</text>
<text x="79.5" y="402.3" font-size="2.4" text-anchor="middle" fill="#777" transform="rotate(-45 79.5 402.3)">10</text>
<text x="21.8" y="398.3" font-size="2.4" text-anchor="end" fill="#777">10</text>
<text x="21.8" y="389.3" font-size="2.4" text-anchor="end" fill="#777">10</text>
<text x="21.8" y="380.3" font-size="2.4" text-anchor="end" fill="#777">10</text>
<text x="21.8" y="371.3" font-size="2.4" text-anchor="end" fill="#777">10</text>
<text x="21.8" y="362.3" font-size="2.4" text-anchor="end" fill="#777">10</text>
<text x="21.8" y="353.3" font-size="2.4" text-anchor="end" fill="#777">10</text>
<text x="21.8" y="344.3" font-size="2.4" text-anchor="end" fill="#777">10</text>
<line x1="46.2" y1="342.3" x2="46.2" y2="398.7" stroke="#555" stroke-width="0.75"/>
<line x1="23.8" y1="373.5" x2="81.3" y2="373.5" stroke="#555" stroke-width="0.75"/>
<text x="31.4" y="350.2" font-size="6.6" fill="#111" stroke="#111" stroke-width="0.16">NK</text>
<text x="16.4" y="373.2" font-size="7.3" text-anchor="middle" fill="#222" stroke="#222" stroke-width="0.18" transform="rotate(-90 16.4 373.2)">CD56</text>
<text x="51" y="411.5" font-size="7.1" text-anchor="middle" fill="#222" stroke="#222" stroke-width="0.17">CD3</text>
<line x1="36" y1="354" x2="118.5" y2="372.4" stroke="#f03030" stroke-width="1.1"/>
<path d="M122.2 373.2L118.0 370.5L117.3 374.2Z" fill="#f03030"/>
<text x="83.7" y="380.5" font-size="6.7" fill="#111" stroke="#111" stroke-width="0.16">CD56<tspan dy="-2.6" font-size="4">+</tspan><tspan dy="2.6">CD3</tspan><tspan dy="-2.6" font-size="4">-</tspan></text>
<text x="101.4" y="387.9" font-size="6.6" text-anchor="middle" fill="#111" stroke="#111" stroke-width="0.16">NK cells</text>
<text x="161.5" y="189.5" font-size="8.35" text-anchor="middle" fill="#111" stroke="#111" stroke-width="0.20">Untreated</text>
<text x="219.3" y="189.5" font-size="8.35" text-anchor="middle" fill="#111" stroke="#111" stroke-width="0.20">CDA</text>
<text x="161.5" y="320.7" font-size="8.35" text-anchor="middle" fill="#111" stroke="#111" stroke-width="0.20">Untreated</text>
<text x="219.3" y="320.7" font-size="8.35" text-anchor="middle" fill="#111" stroke="#111" stroke-width="0.20">CDA</text>
<path d="M175 191.8h.6M142.5 200.8h.6M168 208.8h.6M161 213.3h.6M161.5 213.3h.6M148.5 213.8h.6M161.5 213.8h.6M157 214.3h.6M158.5 214.3h.6M161 214.3h.6M161.5 214.3h.6M162.5 214.3h.6M160.5 214.8h.6M162.5 214.8h.6M165.5 214.8h.6M151.5 215.3h.6M153.5 215.3h.6M157 215.3h.6M158 215.3h.6M159 215.3h.6M160 215.3h.6M161.5 215.3h.6M163.5 215.3h.6M154 215.8h.6M157.5 215.8h.6M158 215.8h.6M158.5 215.8h.6M160 215.8h.6M162.5 215.8h.6M164 215.8h.6M165.5 215.8h.6M143 216.3h.6M145.5 216.3h.6M149 216.3h.6M152 216.3h.6M155.5 216.3h.6M159 216.3h.6M164 216.3h.6M148 216.8h.6M149 216.8h.6M150 216.8h.6M154.5 216.8h.6M156 216.8h.6M157 216.8h.6M157.5 216.8h.6M158 216.8h.6M162 216.8h.6M162.5 216.8h.6M163.5 216.8h.6M164 216.8h.6M166 216.8h.6M169 216.8h.6M142 217.3h.6M144.5 217.3h.6M145.5 217.3h.6M147 217.3h.6M147.5 217.3h.6M163 217.3h.6M164 217.3h.6M167 217.3h.6M137 217.8h.6M145 217.8h.6M146.5 217.8h.6M164 217.8h.6M164.5 217.8h.6M165.5 217.8h.6M141 218.3h.6M142.5 218.3h.6M143.5 218.3h.6M144 218.3h.6M164 218.3h.6M164.5 218.3h.6M165.5 218.3h.6M164.5 218.8h.6M141.5 219.3h.6M144 219.3h.6M164.5 219.3h.6M165 219.3h.6M166.5 219.3h.6M167 219.3h.6M168 219.3h.6M169.5 219.3h.6M141 219.8h.6M144 219.8h.6M164.5 219.8h.6M165 219.8h.6M166 219.8h.6M140 220.3h.6M140.5 220.3h.6M141 220.3h.6M141.5 220.3h.6M144 220.3h.6M164.5 220.3h.6M166 220.3h.6M166.5 220.3h.6M169.5 220.3h.6M142.5 220.8h.6M143 220.8h.6M165.5 220.8h.6M166 220.8h.6M141.5 221.3h.6M164 221.3h.6M165 221.3h.6M165.5 221.3h.6M166.5 221.3h.6M170.5 221.3h.6M138.5 221.8h.6M140.5 221.8h.6M142 221.8h.6M164 221.8h.6M173.5 221.8h.6M141.5 222.3h.6M142.5 222.3h.6M144.5 222.3h.6M163.5 222.3h.6M164.5 222.3h.6M166 222.3h.6M167.5 222.3h.6M169 222.3h.6M140.5 222.8h.6M142 222.8h.6M144.5 222.8h.6M145 222.8h.6M147 222.8h.6M149 222.8h.6M163 222.8h.6M163.5 222.8h.6M164.5 222.8h.6M143.5 223.3h.6M146 223.3h.6M147.5 223.3h.6M148.5 223.3h.6M151 223.3h.6M151.5 223.3h.6M152.5 223.3h.6M153 223.3h.6M154.5 223.3h.6M155.5 223.3h.6M156 223.3h.6M156.5 223.3h.6M157 223.3h.6M158 223.3h.6M158.5 223.3h.6M162 223.3h.6M162.5 223.3h.6M163 223.3h.6M163.5 223.3h.6M165.5 223.3h.6M141.5 223.8h.6M150.5 223.8h.6M153 223.8h.6M154.5 223.8h.6M155 223.8h.6M156.5 223.8h.6M157 223.8h.6M157.5 223.8h.6M158.5 223.8h.6M159 223.8h.6M159.5 223.8h.6M160 223.8h.6M160.5 223.8h.6M161.5 223.8h.6M162 223.8h.6M163 223.8h.6M165 223.8h.6M165.5 223.8h.6M147 224.3h.6M147.5 224.3h.6M152 224.3h.6M152.5 224.3h.6M154.5 224.3h.6M155.5 224.3h.6M156 224.3h.6M157 224.3h.6M158 224.3h.6M159 224.3h.6M159.5 224.3h.6M160 224.3h.6M160.5 224.3h.6M161 224.3h.6M163 224.3h.6M165.5 224.3h.6M167 224.3h.6M150.5 224.8h.6M152.5 224.8h.6M153 224.8h.6M157.5 224.8h.6M159.5 224.8h.6M160 224.8h.6M160.5 224.8h.6M161 224.8h.6M161.5 224.8h.6M150.5 225.3h.6M159.5 225.3h.6M160.5 225.3h.6M161 225.3h.6M164 225.3h.6M165.5 225.3h.6M162 225.8h.6M163 225.8h.6M165 225.8h.6M141 226.3h.6M162.5 226.3h.6M161 226.8h.6M160.5 227.3h.6M163 230.3h.6M165.5 231.8h.6M173 232.3h.6M178.5 235.8h.6" stroke="#7a8cff" stroke-width=".6" stroke-opacity="0.55"/>
<path d="M158.5 216.8h.6M159 216.8h.6M159.5 216.8h.6M160 216.8h.6M160.5 216.8h.6M161 216.8h.6M150.5 217.3h.6M151 217.3h.6M154 217.3h.6M155.5 217.3h.6M156 217.3h.6M157 217.3h.6M158 217.3h.6M158.5 217.3h.6M162 217.3h.6M162.5 217.3h.6M148 217.8h.6M148.5 217.8h.6M149.5 217.8h.6M150.5 217.8h.6M151 217.8h.6M151.5 217.8h.6M152 217.8h.6M153 217.8h.6M153.5 217.8h.6M154 217.8h.6M154.5 217.8h.6M155 217.8h.6M155.5 217.8h.6M156 217.8h.6M157 217.8h.6M157.5 217.8h.6M162.5 217.8h.6M146.5 218.3h.6M147.5 218.3h.6M148 218.3h.6M148.5 218.3h.6M149 218.3h.6M150 218.3h.6M150.5 218.3h.6M152 218.3h.6M153 218.3h.6M153.5 218.3h.6M154.5 218.3h.6M155 218.3h.6M155.5 218.3h.6M156 218.3h.6M157 218.3h.6M163 218.3h.6M145 218.8h.6M145.5 218.8h.6M147 218.8h.6M148 218.8h.6M148.5 218.8h.6M149 218.8h.6M149.5 218.8h.6M150 218.8h.6M151 218.8h.6M152 218.8h.6M154 218.8h.6M154.5 218.8h.6M155 218.8h.6M155.5 218.8h.6M156 218.8h.6M156.5 218.8h.6M163.5 218.8h.6M146 219.3h.6M146.5 219.3h.6M149.5 219.3h.6M150 219.3h.6M150.5 219.3h.6M152 219.3h.6M153 219.3h.6M154 219.3h.6M154.5 219.3h.6M155 219.3h.6M155.5 219.3h.6M156 219.3h.6M156.5 219.3h.6M163.5 219.3h.6M164 219.3h.6M145 219.8h.6M145.5 219.8h.6M146 219.8h.6M146.5 219.8h.6M147 219.8h.6M147.5 219.8h.6M148 219.8h.6M148.5 219.8h.6M149 219.8h.6M150 219.8h.6M150.5 219.8h.6M151 219.8h.6M156 219.8h.6M164 219.8h.6M144.5 220.3h.6M145 220.3h.6M147 220.3h.6M147.5 220.3h.6M148 220.3h.6M149 220.3h.6M149.5 220.3h.6M150 220.3h.6M150.5 220.3h.6M151 220.3h.6M155.5 220.3h.6M156 220.3h.6M163.5 220.3h.6M164 220.3h.6M144.5 220.8h.6M145 220.8h.6M145.5 220.8h.6M146.5 220.8h.6M147 220.8h.6M147.5 220.8h.6M148 220.8h.6M148.5 220.8h.6M149.5 220.8h.6M150 220.8h.6M150.5 220.8h.6M151.5 220.8h.6M152 220.8h.6M152.5 220.8h.6M153.5 220.8h.6M154 220.8h.6M154.5 220.8h.6M155 220.8h.6M156 220.8h.6M156.5 220.8h.6M163.5 220.8h.6M164 220.8h.6M145.5 221.3h.6M146 221.3h.6M146.5 221.3h.6M147 221.3h.6M148 221.3h.6M149 221.3h.6M150 221.3h.6M150.5 221.3h.6M151 221.3h.6M151.5 221.3h.6M152 221.3h.6M152.5 221.3h.6M153 221.3h.6M153.5 221.3h.6M154 221.3h.6M155 221.3h.6M155.5 221.3h.6M156 221.3h.6M156.5 221.3h.6M146.5 221.8h.6M150 221.8h.6M150.5 221.8h.6M151 221.8h.6M151.5 221.8h.6M152.5 221.8h.6M153.5 221.8h.6M154 221.8h.6M154.5 221.8h.6M155 221.8h.6M155.5 221.8h.6M157 221.8h.6M163 221.8h.6M163.5 221.8h.6M147.5 222.3h.6M148 222.3h.6M149 222.3h.6M149.5 222.3h.6M150 222.3h.6M150.5 222.3h.6M151 222.3h.6M152 222.3h.6M153 222.3h.6M153.5 222.3h.6M154 222.3h.6M155 222.3h.6M155.5 222.3h.6M156.5 222.3h.6M157 222.3h.6M158 222.3h.6M162.5 222.3h.6M163 222.3h.6M150 222.8h.6M151 222.8h.6M151.5 222.8h.6M152.5 222.8h.6M153 222.8h.6M153.5 222.8h.6M155 222.8h.6M156 222.8h.6M156.5 222.8h.6M157.5 222.8h.6M158.5 222.8h.6M159 222.8h.6M161.5 222.8h.6M162 222.8h.6M162.5 222.8h.6M160.5 223.3h.6M161 223.3h.6M161.5 223.3h.6" stroke="#3a4cff" stroke-width=".6"/>
<path d="M159 217.3h.6M159.5 217.3h.6M160 217.3h.6M160.5 217.3h.6M161 217.3h.6M158 217.8h.6M158.5 217.8h.6M162 217.8h.6M157.5 218.3h.6M158 218.3h.6M162.5 218.3h.6M157 218.8h.6M157.5 218.8h.6M163 218.8h.6M157 219.3h.6M163 219.3h.6M151.5 219.8h.6M152 219.8h.6M152.5 219.8h.6M153 219.8h.6M153.5 219.8h.6M154 219.8h.6M154.5 219.8h.6M155 219.8h.6M157 219.8h.6M151.5 220.3h.6M152.5 220.3h.6M153 220.3h.6M153.5 220.3h.6M154 220.3h.6M154.5 220.3h.6M155 220.3h.6M156.5 220.3h.6M157 220.8h.6M163 220.8h.6M157 221.3h.6M163 221.3h.6M157.5 221.8h.6M158 221.8h.6M162.5 221.8h.6M158.5 222.3h.6M162 222.3h.6M160.5 222.8h.6" stroke="#1a6cff" stroke-width=".6"/>
<path d="M159.5 217.8h.6M160 217.8h.6M160.5 217.8h.6M161 217.8h.6M161.5 217.8h.6M158.5 218.3h.6M162 218.3h.6M158 218.8h.6M162.5 218.8h.6M157.5 219.3h.6M162.5 219.3h.6M157.5 219.8h.6M163 219.8h.6M157.5 220.3h.6M163 220.3h.6M157.5 220.8h.6M162.5 220.8h.6M162.5 221.3h.6M158.5 221.8h.6M161.5 221.8h.6M162 221.8h.6M159 222.3h.6M159.5 222.3h.6M160 222.3h.6M160.5 222.3h.6M161 222.3h.6M161.5 222.3h.6" stroke="#00b4ff" stroke-width=".6"/>
<path d="M159 218.3h.6M159.5 218.3h.6M160 218.3h.6M160.5 218.3h.6M161 218.3h.6M161.5 218.3h.6M158.5 218.8h.6M161.5 218.8h.6M162 218.8h.6M158 219.3h.6M162 219.3h.6M158 219.8h.6M162 219.8h.6M162.5 219.8h.6M158 220.3h.6M162 220.3h.6M162.5 220.3h.6M158 220.8h.6M158.5 220.8h.6M162 220.8h.6M158.5 221.3h.6M159 221.3h.6M161.5 221.3h.6M162 221.3h.6M159 221.8h.6M159.5 221.8h.6M160 221.8h.6M160.5 221.8h.6M161 221.8h.6" stroke="#10e8e0" stroke-width=".6"/>
<path d="M159 218.8h.6M159.5 218.8h.6M160 218.8h.6M160.5 218.8h.6M161 218.8h.6M158.5 219.3h.6M159 219.3h.6M159.5 219.3h.6M160 219.3h.6M160.5 219.3h.6M161 219.3h.6M161.5 219.3h.6M159 219.8h.6M159.5 219.8h.6M160.5 219.8h.6M161 219.8h.6M161.5 219.8h.6M158.5 220.3h.6M159 220.3h.6M159.5 220.3h.6M160 220.3h.6M160.5 220.3h.6M161 220.3h.6M161.5 220.3h.6M159 220.8h.6M159.5 220.8h.6M160 220.8h.6M160.5 220.8h.6M161 220.8h.6M161.5 220.8h.6M159.5 221.3h.6M160 221.3h.6M160.5 221.3h.6M161 221.3h.6" stroke="#30ff50" stroke-width=".6"/>
<rect x="136.6" y="191" width="48.9" height="48.8" fill="none" stroke="#9a9a9a" stroke-width="0.6"/>
<line x1="135.1" y1="238.6" x2="136.6" y2="238.6" stroke="#444" stroke-width="0.5"/>
<line x1="135.8" y1="236.28" x2="136.6" y2="236.28" stroke="#444" stroke-width="0.35"/>
<line x1="135.8" y1="233.96" x2="136.6" y2="233.96" stroke="#444" stroke-width="0.35"/>
<line x1="135.8" y1="231.64" x2="136.6" y2="231.64" stroke="#444" stroke-width="0.35"/>
<line x1="135.1" y1="229.32" x2="136.6" y2="229.32" stroke="#444" stroke-width="0.5"/>
<line x1="135.8" y1="227" x2="136.6" y2="227" stroke="#444" stroke-width="0.35"/>
<line x1="135.8" y1="224.68" x2="136.6" y2="224.68" stroke="#444" stroke-width="0.35"/>
<line x1="135.8" y1="222.36" x2="136.6" y2="222.36" stroke="#444" stroke-width="0.35"/>
<line x1="135.1" y1="220.04" x2="136.6" y2="220.04" stroke="#444" stroke-width="0.5"/>
<line x1="135.8" y1="217.72" x2="136.6" y2="217.72" stroke="#444" stroke-width="0.35"/>
<line x1="135.8" y1="215.4" x2="136.6" y2="215.4" stroke="#444" stroke-width="0.35"/>
<line x1="135.8" y1="213.08" x2="136.6" y2="213.08" stroke="#444" stroke-width="0.35"/>
<line x1="135.1" y1="210.76" x2="136.6" y2="210.76" stroke="#444" stroke-width="0.5"/>
<line x1="135.8" y1="208.44" x2="136.6" y2="208.44" stroke="#444" stroke-width="0.35"/>
<line x1="135.8" y1="206.12" x2="136.6" y2="206.12" stroke="#444" stroke-width="0.35"/>
<line x1="135.8" y1="203.8" x2="136.6" y2="203.8" stroke="#444" stroke-width="0.35"/>
<line x1="135.1" y1="201.48" x2="136.6" y2="201.48" stroke="#444" stroke-width="0.5"/>
<line x1="135.8" y1="199.16" x2="136.6" y2="199.16" stroke="#444" stroke-width="0.35"/>
<line x1="135.8" y1="196.84" x2="136.6" y2="196.84" stroke="#444" stroke-width="0.35"/>
<line x1="135.8" y1="194.52" x2="136.6" y2="194.52" stroke="#444" stroke-width="0.35"/>
<line x1="135.1" y1="192.2" x2="136.6" y2="192.2" stroke="#444" stroke-width="0.5"/>
<line x1="138.1" y1="239.8" x2="138.1" y2="241.3" stroke="#444" stroke-width="0.5"/>
<line x1="140.01" y1="239.8" x2="140.01" y2="240.6" stroke="#444" stroke-width="0.35"/>
<line x1="141.92" y1="239.8" x2="141.92" y2="240.6" stroke="#444" stroke-width="0.35"/>
<line x1="143.84" y1="239.8" x2="143.84" y2="240.6" stroke="#444" stroke-width="0.35"/>
<line x1="145.75" y1="239.8" x2="145.75" y2="241.3" stroke="#444" stroke-width="0.5"/>
<line x1="147.66" y1="239.8" x2="147.66" y2="240.6" stroke="#444" stroke-width="0.35"/>
<line x1="149.57" y1="239.8" x2="149.57" y2="240.6" stroke="#444" stroke-width="0.35"/>
<line x1="151.49" y1="239.8" x2="151.49" y2="240.6" stroke="#444" stroke-width="0.35"/>
<line x1="153.4" y1="239.8" x2="153.4" y2="241.3" stroke="#444" stroke-width="0.5"/>
<line x1="155.31" y1="239.8" x2="155.31" y2="240.6" stroke="#444" stroke-width="0.35"/>
<line x1="157.22" y1="239.8" x2="157.22" y2="240.6" stroke="#444" stroke-width="0.35"/>
<line x1="159.14" y1="239.8" x2="159.14" y2="240.6" stroke="#444" stroke-width="0.35"/>
<line x1="161.05" y1="239.8" x2="161.05" y2="241.3" stroke="#444" stroke-width="0.5"/>
<line x1="162.96" y1="239.8" x2="162.96" y2="240.6" stroke="#444" stroke-width="0.35"/>
<line x1="164.88" y1="239.8" x2="164.88" y2="240.6" stroke="#444" stroke-width="0.35"/>
<line x1="166.79" y1="239.8" x2="166.79" y2="240.6" stroke="#444" stroke-width="0.35"/>
<line x1="168.7" y1="239.8" x2="168.7" y2="241.3" stroke="#444" stroke-width="0.5"/>
<line x1="170.61" y1="239.8" x2="170.61" y2="240.6" stroke="#444" stroke-width="0.35"/>
<line x1="172.52" y1="239.8" x2="172.52" y2="240.6" stroke="#444" stroke-width="0.35"/>
<line x1="174.44" y1="239.8" x2="174.44" y2="240.6" stroke="#444" stroke-width="0.35"/>
<line x1="176.35" y1="239.8" x2="176.35" y2="241.3" stroke="#444" stroke-width="0.5"/>
<line x1="178.26" y1="239.8" x2="178.26" y2="240.6" stroke="#444" stroke-width="0.35"/>
<line x1="180.17" y1="239.8" x2="180.17" y2="240.6" stroke="#444" stroke-width="0.35"/>
<line x1="182.09" y1="239.8" x2="182.09" y2="240.6" stroke="#444" stroke-width="0.35"/>
<line x1="184" y1="239.8" x2="184" y2="241.3" stroke="#444" stroke-width="0.5"/>
<text x="137.8" y="242.8" font-size="2.4" text-anchor="middle" fill="#777" transform="rotate(-45 137.8 242.8)">10</text>
<text x="145.45" y="242.8" font-size="2.4" text-anchor="middle" fill="#777" transform="rotate(-45 145.45 242.8)">10</text>
<text x="153.1" y="242.8" font-size="2.4" text-anchor="middle" fill="#777" transform="rotate(-45 153.1 242.8)">10</text>
<text x="160.75" y="242.8" font-size="2.4" text-anchor="middle" fill="#777" transform="rotate(-45 160.75 242.8)">10</text>
<text x="168.4" y="242.8" font-size="2.4" text-anchor="middle" fill="#777" transform="rotate(-45 168.4 242.8)">10</text>
<text x="176.05" y="242.8" font-size="2.4" text-anchor="middle" fill="#777" transform="rotate(-45 176.05 242.8)">10</text>
<text x="183.7" y="242.8" font-size="2.4" text-anchor="middle" fill="#777" transform="rotate(-45 183.7 242.8)">10</text>
<text x="134.6" y="239.4" font-size="2.4" text-anchor="end" fill="#777">10</text>
<text x="134.6" y="230.12" font-size="2.4" text-anchor="end" fill="#777">10</text>
<text x="134.6" y="220.84" font-size="2.4" text-anchor="end" fill="#777">10</text>
<text x="134.6" y="211.56" font-size="2.4" text-anchor="end" fill="#777">10</text>
<text x="134.6" y="202.28" font-size="2.4" text-anchor="end" fill="#777">10</text>
<text x="134.6" y="193" font-size="2.4" text-anchor="end" fill="#777">10</text>
<rect x="163.4" y="214.2" width="14.1" height="10.4" fill="none" stroke="#555" stroke-width="0.6"/>
<text x="171.3" y="212.8" font-size="6.2" font-weight="bold" text-anchor="middle" fill="#111" stroke="#111" stroke-width="0.11">2.56%</text>
<path d="M211.5 197.8h.6M221 206.8h.6M220 209.3h.6M226.5 209.3h.6M218.5 211.3h.6M204 212.3h.6M232 212.8h.6M236 213.3h.6M217.5 213.8h.6M240 213.8h.6M225 214.8h.6M226 214.8h.6M205 215.3h.6M220 215.3h.6M220.5 215.3h.6M206 215.8h.6M206.5 215.8h.6M210.5 215.8h.6M213 215.8h.6M213.5 215.8h.6M218.5 215.8h.6M223 215.8h.6M212.5 216.3h.6M217 216.3h.6M217.5 216.3h.6M218 216.3h.6M220.5 216.3h.6M221 216.3h.6M203 216.8h.6M208.5 216.8h.6M211.5 216.8h.6M212.5 216.8h.6M213.5 216.8h.6M215.5 216.8h.6M219.5 216.8h.6M221 216.8h.6M221.5 216.8h.6M203.5 217.3h.6M208 217.3h.6M210.5 217.3h.6M211 217.3h.6M214 217.3h.6M216 217.3h.6M216.5 217.3h.6M217.5 217.3h.6M218 217.3h.6M221 217.3h.6M222 217.3h.6M206.5 217.8h.6M222 217.8h.6M222.5 217.8h.6M223 217.8h.6M224.5 217.8h.6M225.5 217.8h.6M228 217.8h.6M200.5 218.3h.6M202.5 218.3h.6M205.5 218.3h.6M206.5 218.3h.6M223 218.3h.6M224 218.3h.6M224.5 218.3h.6M201.5 218.8h.6M203 218.8h.6M224.5 218.8h.6M225 218.8h.6M225.5 218.8h.6M228.5 218.8h.6M197.5 219.3h.6M204 219.3h.6M223.5 219.3h.6M224 219.3h.6M224.5 219.3h.6M225.5 219.3h.6M224 219.8h.6M224.5 219.8h.6M225 219.8h.6M228 219.8h.6M230 219.8h.6M200.5 220.3h.6M202 220.3h.6M203 220.3h.6M225.5 220.3h.6M196.5 220.8h.6M201 220.8h.6M224 220.8h.6M225 220.8h.6M203.5 221.3h.6M204 221.3h.6M224 221.3h.6M225.5 221.3h.6M226 221.3h.6M227.5 221.3h.6M229.5 221.3h.6M201.5 221.8h.6M202.5 221.8h.6M203.5 221.8h.6M204.5 221.8h.6M223.5 221.8h.6M224 221.8h.6M224.5 221.8h.6M225 221.8h.6M227 221.8h.6M196.5 222.3h.6M199 222.3h.6M201 222.3h.6M202.5 222.3h.6M204 222.3h.6M223.5 222.3h.6M224 222.3h.6M224.5 222.3h.6M226 222.3h.6M228.5 222.3h.6M204.5 222.8h.6M205 222.8h.6M206 222.8h.6M223 222.8h.6M224 222.8h.6M224.5 222.8h.6M205.5 223.3h.6M208.5 223.3h.6M222.5 223.3h.6M223.5 223.3h.6M224 223.3h.6M224.5 223.3h.6M225.5 223.3h.6M208 223.8h.6M209 223.8h.6M210 223.8h.6M211 223.8h.6M211.5 223.8h.6M215 223.8h.6M215.5 223.8h.6M216.5 223.8h.6M217 223.8h.6M217.5 223.8h.6M218 223.8h.6M221.5 223.8h.6M222 223.8h.6M222.5 223.8h.6M223.5 223.8h.6M204 224.3h.6M207 224.3h.6M208 224.3h.6M211.5 224.3h.6M215 224.3h.6M216.5 224.3h.6M219.5 224.3h.6M220 224.3h.6M220.5 224.3h.6M221.5 224.3h.6M222 224.3h.6M222.5 224.3h.6M224 224.3h.6M225 224.3h.6M207 224.8h.6M207.5 224.8h.6M209.5 224.8h.6M211.5 224.8h.6M212.5 224.8h.6M213 224.8h.6M214 224.8h.6M214.5 224.8h.6M215.5 224.8h.6M217 224.8h.6M220 224.8h.6M220.5 224.8h.6M222 224.8h.6M222.5 224.8h.6M224 224.8h.6M217 225.3h.6M218 225.3h.6M219 225.3h.6M219.5 225.3h.6M220.5 225.3h.6M222.5 225.3h.6M223.5 225.3h.6M204.5 225.8h.6M219 225.8h.6M220 225.8h.6M222.5 225.8h.6M208 226.3h.6M209.5 226.3h.6M211.5 226.3h.6M213 226.3h.6M221.5 226.3h.6M216 226.8h.6M217.5 227.8h.6M212 239.3h.6" stroke="#7a8cff" stroke-width=".6" stroke-opacity="0.55"/>
<path d="M219 217.3h.6M219.5 217.3h.6M220.5 217.3h.6M209 217.8h.6M210 217.8h.6M212 217.8h.6M212.5 217.8h.6M214 217.8h.6M214.5 217.8h.6M215.5 217.8h.6M216 217.8h.6M217 217.8h.6M218 217.8h.6M218.5 217.8h.6M221 217.8h.6M221.5 217.8h.6M209.5 218.3h.6M210 218.3h.6M211 218.3h.6M211.5 218.3h.6M213.5 218.3h.6M214 218.3h.6M215 218.3h.6M215.5 218.3h.6M216.5 218.3h.6M217 218.3h.6M217.5 218.3h.6M222 218.3h.6M206 218.8h.6M207 218.8h.6M208.5 218.8h.6M209 218.8h.6M210 218.8h.6M210.5 218.8h.6M211 218.8h.6M211.5 218.8h.6M212 218.8h.6M213.5 218.8h.6M214 218.8h.6M214.5 218.8h.6M215 218.8h.6M215.5 218.8h.6M216 218.8h.6M216.5 218.8h.6M217 218.8h.6M222.5 218.8h.6M223 218.8h.6M206 219.3h.6M206.5 219.3h.6M207.5 219.3h.6M208 219.3h.6M208.5 219.3h.6M210.5 219.3h.6M211 219.3h.6M213 219.3h.6M213.5 219.3h.6M214 219.3h.6M214.5 219.3h.6M215 219.3h.6M216 219.3h.6M216.5 219.3h.6M223 219.3h.6M209.5 219.8h.6M210 219.8h.6M211.5 219.8h.6M213 219.8h.6M213.5 219.8h.6M214 219.8h.6M214.5 219.8h.6M215 219.8h.6M215.5 219.8h.6M223 219.8h.6M223.5 219.8h.6M204 220.3h.6M205 220.3h.6M205.5 220.3h.6M206 220.3h.6M207 220.3h.6M207.5 220.3h.6M208 220.3h.6M209 220.3h.6M209.5 220.3h.6M210 220.3h.6M210.5 220.3h.6M211 220.3h.6M215.5 220.3h.6M223 220.3h.6M206 220.8h.6M206.5 220.8h.6M207 220.8h.6M207.5 220.8h.6M208.5 220.8h.6M209.5 220.8h.6M210 220.8h.6M211 220.8h.6M223 220.8h.6M223.5 220.8h.6M204.5 221.3h.6M205.5 221.3h.6M206 221.3h.6M206.5 221.3h.6M208 221.3h.6M208.5 221.3h.6M209 221.3h.6M209.5 221.3h.6M210 221.3h.6M210.5 221.3h.6M211.5 221.3h.6M212 221.3h.6M212.5 221.3h.6M213 221.3h.6M214 221.3h.6M215 221.3h.6M215.5 221.3h.6M216 221.3h.6M223 221.3h.6M223.5 221.3h.6M205 221.8h.6M206 221.8h.6M206.5 221.8h.6M207.5 221.8h.6M208 221.8h.6M208.5 221.8h.6M209.5 221.8h.6M210 221.8h.6M210.5 221.8h.6M212.5 221.8h.6M213.5 221.8h.6M214 221.8h.6M214.5 221.8h.6M215 221.8h.6M215.5 221.8h.6M216 221.8h.6M216.5 221.8h.6M223 221.8h.6M206 222.3h.6M207 222.3h.6M207.5 222.3h.6M208 222.3h.6M209.5 222.3h.6M210 222.3h.6M210.5 222.3h.6M211 222.3h.6M212 222.3h.6M213 222.3h.6M214 222.3h.6M214.5 222.3h.6M215.5 222.3h.6M216 222.3h.6M216.5 222.3h.6M217 222.3h.6M222.5 222.3h.6M223 222.3h.6M208 222.8h.6M208.5 222.8h.6M209 222.8h.6M209.5 222.8h.6M210 222.8h.6M210.5 222.8h.6M212 222.8h.6M213 222.8h.6M215 222.8h.6M215.5 222.8h.6M216 222.8h.6M216.5 222.8h.6M217.5 222.8h.6M222 222.8h.6M222.5 222.8h.6M210 223.3h.6M210.5 223.3h.6M211 223.3h.6M211.5 223.3h.6M213.5 223.3h.6M214 223.3h.6M214.5 223.3h.6M215 223.3h.6M215.5 223.3h.6M216 223.3h.6M216.5 223.3h.6M217 223.3h.6M217.5 223.3h.6M218 223.3h.6M221 223.3h.6M222 223.3h.6M218.5 223.8h.6M219 223.8h.6M219.5 223.8h.6M220 223.8h.6M220.5 223.8h.6M221 223.8h.6" stroke="#3a4cff" stroke-width=".6"/>
<path d="M219 217.8h.6M219.5 217.8h.6M220.5 217.8h.6M218 218.3h.6M218.5 218.3h.6M221 218.3h.6M222.5 219.3h.6M216.5 219.8h.6M217 219.8h.6M222.5 219.8h.6M212 220.3h.6M213.5 220.3h.6M214 220.3h.6M216 220.3h.6M216.5 220.3h.6M222.5 220.3h.6M212 220.8h.6M212.5 220.8h.6M213 220.8h.6M213.5 220.8h.6M214 220.8h.6M214.5 220.8h.6M216 220.8h.6M216.5 220.8h.6M222.5 220.8h.6M216.5 221.3h.6M222.5 221.3h.6M217 221.8h.6M222.5 221.8h.6M217.5 222.3h.6M222 222.3h.6M218 222.8h.6M221.5 222.8h.6M219 223.3h.6M219.5 223.3h.6M220 223.3h.6M220.5 223.3h.6" stroke="#1a6cff" stroke-width=".6"/>
<path d="M219 218.3h.6M219.5 218.3h.6M220 218.3h.6M220.5 218.3h.6M218 218.8h.6M218.5 218.8h.6M221 218.8h.6M221.5 218.8h.6M217.5 219.3h.6M221.5 219.3h.6M222 219.3h.6M217.5 219.8h.6M222 219.8h.6M217 220.3h.6M222 220.3h.6M217 220.8h.6M222 220.8h.6M217 221.3h.6M217.5 221.3h.6M222 221.3h.6M217.5 221.8h.6M222 221.8h.6M218 222.3h.6M221.5 222.3h.6M218.5 222.8h.6M219 222.8h.6M220 222.8h.6M220.5 222.8h.6M221 222.8h.6" stroke="#00b4ff" stroke-width=".6"/>
<path d="M219 218.8h.6M219.5 218.8h.6M220.5 218.8h.6M218 219.3h.6M218.5 219.3h.6M221 219.3h.6M218 219.8h.6M221.5 219.8h.6M217.5 220.3h.6M221.5 220.3h.6M217.5 220.8h.6M221.5 220.8h.6M218 221.3h.6M221.5 221.3h.6M218 221.8h.6M218.5 221.8h.6M221 221.8h.6M221.5 221.8h.6M218.5 222.3h.6M219 222.3h.6M219.5 222.3h.6M220 222.3h.6M220.5 222.3h.6M221 222.3h.6" stroke="#10e8e0" stroke-width=".6"/>
<path d="M219 219.3h.6M219.5 219.3h.6M220 219.3h.6M220.5 219.3h.6M218.5 219.8h.6M219 219.8h.6M219.5 219.8h.6M220 219.8h.6M220.5 219.8h.6M221 219.8h.6M218 220.3h.6M218.5 220.3h.6M219 220.3h.6M219.5 220.3h.6M220 220.3h.6M220.5 220.3h.6M221 220.3h.6M218 220.8h.6M218.5 220.8h.6M219 220.8h.6M219.5 220.8h.6M220 220.8h.6M220.5 220.8h.6M221 220.8h.6M218.5 221.3h.6M219 221.3h.6M220 221.3h.6M220.5 221.3h.6M221 221.3h.6M219 221.8h.6M219.5 221.8h.6M220 221.8h.6M220.5 221.8h.6" stroke="#30ff50" stroke-width=".6"/>
<rect x="194.7" y="191.2" width="48.9" height="48.6" fill="none" stroke="#9a9a9a" stroke-width="0.6"/>
<line x1="193.2" y1="238.6" x2="194.7" y2="238.6" stroke="#444" stroke-width="0.5"/>
<line x1="193.9" y1="236.29" x2="194.7" y2="236.29" stroke="#444" stroke-width="0.35"/>
<line x1="193.9" y1="233.98" x2="194.7" y2="233.98" stroke="#444" stroke-width="0.35"/>
<line x1="193.9" y1="231.67" x2="194.7" y2="231.67" stroke="#444" stroke-width="0.35"/>
<line x1="193.2" y1="229.36" x2="194.7" y2="229.36" stroke="#444" stroke-width="0.5"/>
<line x1="193.9" y1="227.05" x2="194.7" y2="227.05" stroke="#444" stroke-width="0.35"/>
<line x1="193.9" y1="224.74" x2="194.7" y2="224.74" stroke="#444" stroke-width="0.35"/>
<line x1="193.9" y1="222.43" x2="194.7" y2="222.43" stroke="#444" stroke-width="0.35"/>
<line x1="193.2" y1="220.12" x2="194.7" y2="220.12" stroke="#444" stroke-width="0.5"/>
<line x1="193.9" y1="217.81" x2="194.7" y2="217.81" stroke="#444" stroke-width="0.35"/>
<line x1="193.9" y1="215.5" x2="194.7" y2="215.5" stroke="#444" stroke-width="0.35"/>
<line x1="193.9" y1="213.19" x2="194.7" y2="213.19" stroke="#444" stroke-width="0.35"/>
<line x1="193.2" y1="210.88" x2="194.7" y2="210.88" stroke="#444" stroke-width="0.5"/>
<line x1="193.9" y1="208.57" x2="194.7" y2="208.57" stroke="#444" stroke-width="0.35"/>
<line x1="193.9" y1="206.26" x2="194.7" y2="206.26" stroke="#444" stroke-width="0.35"/>
<line x1="193.9" y1="203.95" x2="194.7" y2="203.95" stroke="#444" stroke-width="0.35"/>
<line x1="193.2" y1="201.64" x2="194.7" y2="201.64" stroke="#444" stroke-width="0.5"/>
<line x1="193.9" y1="199.33" x2="194.7" y2="199.33" stroke="#444" stroke-width="0.35"/>
<line x1="193.9" y1="197.02" x2="194.7" y2="197.02" stroke="#444" stroke-width="0.35"/>
<line x1="193.9" y1="194.71" x2="194.7" y2="194.71" stroke="#444" stroke-width="0.35"/>
<line x1="193.2" y1="192.4" x2="194.7" y2="192.4" stroke="#444" stroke-width="0.5"/>
<line x1="196.2" y1="239.8" x2="196.2" y2="241.3" stroke="#444" stroke-width="0.5"/>
<line x1="198.11" y1="239.8" x2="198.11" y2="240.6" stroke="#444" stroke-width="0.35"/>
<line x1="200.02" y1="239.8" x2="200.02" y2="240.6" stroke="#444" stroke-width="0.35"/>
<line x1="201.94" y1="239.8" x2="201.94" y2="240.6" stroke="#444" stroke-width="0.35"/>
<line x1="203.85" y1="239.8" x2="203.85" y2="241.3" stroke="#444" stroke-width="0.5"/>
<line x1="205.76" y1="239.8" x2="205.76" y2="240.6" stroke="#444" stroke-width="0.35"/>
<line x1="207.67" y1="239.8" x2="207.67" y2="240.6" stroke="#444" stroke-width="0.35"/>
<line x1="209.59" y1="239.8" x2="209.59" y2="240.6" stroke="#444" stroke-width="0.35"/>
<line x1="211.5" y1="239.8" x2="211.5" y2="241.3" stroke="#444" stroke-width="0.5"/>
<line x1="213.41" y1="239.8" x2="213.41" y2="240.6" stroke="#444" stroke-width="0.35"/>
<line x1="215.32" y1="239.8" x2="215.32" y2="240.6" stroke="#444" stroke-width="0.35"/>
<line x1="217.24" y1="239.8" x2="217.24" y2="240.6" stroke="#444" stroke-width="0.35"/>
<line x1="219.15" y1="239.8" x2="219.15" y2="241.3" stroke="#444" stroke-width="0.5"/>
<line x1="221.06" y1="239.8" x2="221.06" y2="240.6" stroke="#444" stroke-width="0.35"/>
<line x1="222.97" y1="239.8" x2="222.97" y2="240.6" stroke="#444" stroke-width="0.35"/>
<line x1="224.89" y1="239.8" x2="224.89" y2="240.6" stroke="#444" stroke-width="0.35"/>
<line x1="226.8" y1="239.8" x2="226.8" y2="241.3" stroke="#444" stroke-width="0.5"/>
<line x1="228.71" y1="239.8" x2="228.71" y2="240.6" stroke="#444" stroke-width="0.35"/>
<line x1="230.62" y1="239.8" x2="230.62" y2="240.6" stroke="#444" stroke-width="0.35"/>
<line x1="232.54" y1="239.8" x2="232.54" y2="240.6" stroke="#444" stroke-width="0.35"/>
<line x1="234.45" y1="239.8" x2="234.45" y2="241.3" stroke="#444" stroke-width="0.5"/>
<line x1="236.36" y1="239.8" x2="236.36" y2="240.6" stroke="#444" stroke-width="0.35"/>
<line x1="238.27" y1="239.8" x2="238.27" y2="240.6" stroke="#444" stroke-width="0.35"/>
<line x1="240.19" y1="239.8" x2="240.19" y2="240.6" stroke="#444" stroke-width="0.35"/>
<line x1="242.1" y1="239.8" x2="242.1" y2="241.3" stroke="#444" stroke-width="0.5"/>
<text x="195.9" y="242.8" font-size="2.4" text-anchor="middle" fill="#777" transform="rotate(-45 195.9 242.8)">10</text>
<text x="203.55" y="242.8" font-size="2.4" text-anchor="middle" fill="#777" transform="rotate(-45 203.55 242.8)">10</text>
<text x="211.2" y="242.8" font-size="2.4" text-anchor="middle" fill="#777" transform="rotate(-45 211.2 242.8)">10</text>
<text x="218.85" y="242.8" font-size="2.4" text-anchor="middle" fill="#777" transform="rotate(-45 218.85 242.8)">10</text>
<text x="226.5" y="242.8" font-size="2.4" text-anchor="middle" fill="#777" transform="rotate(-45 226.5 242.8)">10</text>
<text x="234.15" y="242.8" font-size="2.4" text-anchor="middle" fill="#777" transform="rotate(-45 234.15 242.8)">10</text>
<text x="241.8" y="242.8" font-size="2.4" text-anchor="middle" fill="#777" transform="rotate(-45 241.8 242.8)">10</text>
<text x="192.7" y="239.4" font-size="2.4" text-anchor="end" fill="#777">10</text>
<text x="192.7" y="230.16" font-size="2.4" text-anchor="end" fill="#777">10</text>
<text x="192.7" y="220.92" font-size="2.4" text-anchor="end" fill="#777">10</text>
<text x="192.7" y="211.68" font-size="2.4" text-anchor="end" fill="#777">10</text>
<text x="192.7" y="202.44" font-size="2.4" text-anchor="end" fill="#777">10</text>
<text x="192.7" y="193.2" font-size="2.4" text-anchor="end" fill="#777">10</text>
<rect x="221.1" y="214.5" width="14.6" height="10" fill="none" stroke="#555" stroke-width="0.6"/>
<text x="228.8" y="213.1" font-size="6.2" font-weight="bold" text-anchor="middle" fill="#111" stroke="#111" stroke-width="0.11">14.7%</text>
<path d="M184 338.3h.6M156 339.3h.6M166 339.8h.6M140.5 342.8h.6M142 342.8h.6M149 342.8h.6M148.5 343.3h.6M151 343.3h.6M148.5 343.8h.6M153 343.8h.6M154 343.8h.6M155 343.8h.6M170.5 343.8h.6M155 344.3h.6M158.5 344.3h.6M171 344.3h.6M145.5 344.8h.6M148 344.8h.6M150 344.8h.6M157 344.8h.6M143 345.3h.6M144 345.3h.6M155 345.3h.6M157 345.3h.6M157.5 345.3h.6M144.5 345.8h.6M147 345.8h.6M143 346.3h.6M144 346.3h.6M147.5 346.3h.6M149 346.3h.6M150.5 346.3h.6M159.5 346.3h.6M137.5 346.8h.6M154 346.8h.6M148.5 347.3h.6M149.5 347.3h.6M150 347.3h.6M150.5 347.3h.6M139 347.8h.6M155 347.8h.6M143.5 348.3h.6M144.5 348.3h.6M159.5 348.3h.6M160 348.3h.6M143 348.8h.6M159 348.8h.6M160.5 348.8h.6M142.5 349.3h.6M159 349.3h.6M165.5 349.3h.6M139.5 349.8h.6M141 349.8h.6M163 349.8h.6M159.5 350.3h.6M137.5 350.8h.6M138 350.8h.6M138 351.3h.6M140 351.3h.6M141 351.3h.6M166.5 351.3h.6M167 351.3h.6M137 351.8h.6M137.5 352.3h.6M138.5 352.3h.6M160.5 352.3h.6M163.5 352.3h.6M160.5 352.8h.6M165 352.8h.6M167.5 352.8h.6M141 353.3h.6M161.5 353.3h.6M164.5 353.3h.6M165 353.3h.6M150.5 353.8h.6M159 353.8h.6M148.5 354.3h.6M140 356.3h.6" stroke="#7a8cff" stroke-width=".6" stroke-opacity="0.55"/>
<path d="M148 347.8h.6M149.5 347.8h.6M151 347.8h.6M152 347.8h.6M152.5 347.8h.6M146 348.3h.6M147.5 348.3h.6M148 348.3h.6M150 348.3h.6M155 348.3h.6M156 348.3h.6M145.5 348.8h.6M146 348.8h.6M147.5 348.8h.6M148.5 348.8h.6M150 348.8h.6M151 348.8h.6M151.5 348.8h.6M157 348.8h.6M145 349.3h.6M145.5 349.3h.6M151 349.3h.6M153 349.3h.6M153.5 349.3h.6M154 349.3h.6M156 349.3h.6M145 349.8h.6M147.5 349.8h.6M148 349.8h.6M149 349.8h.6M156.5 349.8h.6M143 350.3h.6M144.5 350.3h.6M145.5 350.3h.6M147 350.3h.6M149 350.3h.6M152.5 350.3h.6M153 350.3h.6M153.5 350.3h.6M155 350.3h.6M155.5 350.3h.6M157.5 350.3h.6M142.5 350.8h.6M144 350.8h.6M145.5 350.8h.6M147.5 350.8h.6M148 350.8h.6M148.5 350.8h.6M149 350.8h.6M150.5 350.8h.6M151 350.8h.6M153 350.8h.6M154.5 350.8h.6M155 350.8h.6M155.5 350.8h.6M157 350.8h.6M158.5 350.8h.6M144 351.3h.6M147.5 351.3h.6M148 351.3h.6M149.5 351.3h.6M151.5 351.3h.6M152 351.3h.6M152.5 351.3h.6M153.5 351.3h.6M157.5 351.3h.6M159 351.3h.6M159.5 351.3h.6M143.5 351.8h.6M144.5 351.8h.6M145.5 351.8h.6M146 351.8h.6M147.5 351.8h.6M148 351.8h.6M149 351.8h.6M157 351.8h.6M142 352.3h.6M143 352.3h.6M144 352.3h.6M145.5 352.3h.6M147 352.3h.6M147.5 352.3h.6M157.5 352.3h.6M141.5 352.8h.6M142.5 352.8h.6M146 352.8h.6M146.5 352.8h.6M147 352.8h.6M149 352.8h.6M157 352.8h.6M157.5 352.8h.6M158 352.8h.6M159.5 352.8h.6M142 353.3h.6M143 353.3h.6M145.5 353.3h.6M146.5 353.3h.6M147 353.3h.6M147.5 353.3h.6M148 353.3h.6M149.5 353.3h.6M150 353.3h.6M150.5 353.3h.6M151 353.3h.6M151.5 353.3h.6M152 353.3h.6M152.5 353.3h.6M153 353.3h.6M153.5 353.3h.6M154 353.3h.6M154.5 353.3h.6M155 353.3h.6M155.5 353.3h.6M156 353.3h.6M156.5 353.3h.6M157 353.3h.6M157.5 353.3h.6M158.5 353.3h.6" stroke="#3a4cff" stroke-width=".6"/>
<path d="M156.5 351.8h.6M148.5 352.3h.6M157 352.3h.6M149.5 352.8h.6M156.5 352.8h.6" stroke="#00b4ff" stroke-width=".6"/>
<path d="M155.5 351.8h.6M156 351.8h.6M149 352.3h.6M156.5 352.3h.6M150 352.8h.6M155.5 352.8h.6M156 352.8h.6" stroke="#10e8e0" stroke-width=".6"/>
<path d="M151 351.8h.6M151.5 351.8h.6M152 351.8h.6M152.5 351.8h.6M153 351.8h.6M153.5 351.8h.6M154 351.8h.6M154.5 351.8h.6M155 351.8h.6M149.5 352.3h.6M150 352.3h.6M150.5 352.3h.6M151 352.3h.6M151.5 352.3h.6M152 352.3h.6M152.5 352.3h.6M153 352.3h.6M153.5 352.3h.6M154 352.3h.6M154.5 352.3h.6M155 352.3h.6M155.5 352.3h.6M156 352.3h.6M150.5 352.8h.6M151 352.8h.6M151.5 352.8h.6M152 352.8h.6M152.5 352.8h.6M153 352.8h.6M153.5 352.8h.6M154 352.8h.6M154.5 352.8h.6M155 352.8h.6" stroke="#30ff50" stroke-width=".6"/>
<rect x="136.5" y="322.3" width="49" height="48.2" fill="none" stroke="#9a9a9a" stroke-width="0.6"/>
<line x1="135" y1="369.3" x2="136.5" y2="369.3" stroke="#444" stroke-width="0.5"/>
<line x1="135.7" y1="367.01" x2="136.5" y2="367.01" stroke="#444" stroke-width="0.35"/>
<line x1="135.7" y1="364.72" x2="136.5" y2="364.72" stroke="#444" stroke-width="0.35"/>
<line x1="135.7" y1="362.43" x2="136.5" y2="362.43" stroke="#444" stroke-width="0.35"/>
<line x1="135" y1="360.14" x2="136.5" y2="360.14" stroke="#444" stroke-width="0.5"/>
<line x1="135.7" y1="357.85" x2="136.5" y2="357.85" stroke="#444" stroke-width="0.35"/>
<line x1="135.7" y1="355.56" x2="136.5" y2="355.56" stroke="#444" stroke-width="0.35"/>
<line x1="135.7" y1="353.27" x2="136.5" y2="353.27" stroke="#444" stroke-width="0.35"/>
<line x1="135" y1="350.98" x2="136.5" y2="350.98" stroke="#444" stroke-width="0.5"/>
<line x1="135.7" y1="348.69" x2="136.5" y2="348.69" stroke="#444" stroke-width="0.35"/>
<line x1="135.7" y1="346.4" x2="136.5" y2="346.4" stroke="#444" stroke-width="0.35"/>
<line x1="135.7" y1="344.11" x2="136.5" y2="344.11" stroke="#444" stroke-width="0.35"/>
<line x1="135" y1="341.82" x2="136.5" y2="341.82" stroke="#444" stroke-width="0.5"/>
<line x1="135.7" y1="339.53" x2="136.5" y2="339.53" stroke="#444" stroke-width="0.35"/>
<line x1="135.7" y1="337.24" x2="136.5" y2="337.24" stroke="#444" stroke-width="0.35"/>
<line x1="135.7" y1="334.95" x2="136.5" y2="334.95" stroke="#444" stroke-width="0.35"/>
<line x1="135" y1="332.66" x2="136.5" y2="332.66" stroke="#444" stroke-width="0.5"/>
<line x1="135.7" y1="330.37" x2="136.5" y2="330.37" stroke="#444" stroke-width="0.35"/>
<line x1="135.7" y1="328.08" x2="136.5" y2="328.08" stroke="#444" stroke-width="0.35"/>
<line x1="135.7" y1="325.79" x2="136.5" y2="325.79" stroke="#444" stroke-width="0.35"/>
<line x1="135" y1="323.5" x2="136.5" y2="323.5" stroke="#444" stroke-width="0.5"/>
<line x1="138" y1="370.5" x2="138" y2="372" stroke="#444" stroke-width="0.5"/>
<line x1="139.92" y1="370.5" x2="139.92" y2="371.3" stroke="#444" stroke-width="0.35"/>
<line x1="141.83" y1="370.5" x2="141.83" y2="371.3" stroke="#444" stroke-width="0.35"/>
<line x1="143.75" y1="370.5" x2="143.75" y2="371.3" stroke="#444" stroke-width="0.35"/>
<line x1="145.67" y1="370.5" x2="145.67" y2="372" stroke="#444" stroke-width="0.5"/>
<line x1="147.58" y1="370.5" x2="147.58" y2="371.3" stroke="#444" stroke-width="0.35"/>
<line x1="149.5" y1="370.5" x2="149.5" y2="371.3" stroke="#444" stroke-width="0.35"/>
<line x1="151.42" y1="370.5" x2="151.42" y2="371.3" stroke="#444" stroke-width="0.35"/>
<line x1="153.33" y1="370.5" x2="153.33" y2="372" stroke="#444" stroke-width="0.5"/>
<line x1="155.25" y1="370.5" x2="155.25" y2="371.3" stroke="#444" stroke-width="0.35"/>
<line x1="157.17" y1="370.5" x2="157.17" y2="371.3" stroke="#444" stroke-width="0.35"/>
<line x1="159.08" y1="370.5" x2="159.08" y2="371.3" stroke="#444" stroke-width="0.35"/>
<line x1="161" y1="370.5" x2="161" y2="372" stroke="#444" stroke-width="0.5"/>
<line x1="162.92" y1="370.5" x2="162.92" y2="371.3" stroke="#444" stroke-width="0.35"/>
<line x1="164.83" y1="370.5" x2="164.83" y2="371.3" stroke="#444" stroke-width="0.35"/>
<line x1="166.75" y1="370.5" x2="166.75" y2="371.3" stroke="#444" stroke-width="0.35"/>
<line x1="168.67" y1="370.5" x2="168.67" y2="372" stroke="#444" stroke-width="0.5"/>
<line x1="170.58" y1="370.5" x2="170.58" y2="371.3" stroke="#444" stroke-width="0.35"/>
<line x1="172.5" y1="370.5" x2="172.5" y2="371.3" stroke="#444" stroke-width="0.35"/>
<line x1="174.42" y1="370.5" x2="174.42" y2="371.3" stroke="#444" stroke-width="0.35"/>
<line x1="176.33" y1="370.5" x2="176.33" y2="372" stroke="#444" stroke-width="0.5"/>
<line x1="178.25" y1="370.5" x2="178.25" y2="371.3" stroke="#444" stroke-width="0.35"/>
<line x1="180.17" y1="370.5" x2="180.17" y2="371.3" stroke="#444" stroke-width="0.35"/>
<line x1="182.08" y1="370.5" x2="182.08" y2="371.3" stroke="#444" stroke-width="0.35"/>
<line x1="184" y1="370.5" x2="184" y2="372" stroke="#444" stroke-width="0.5"/>
<text x="137.7" y="373.5" font-size="2.4" text-anchor="middle" fill="#777" transform="rotate(-45 137.7 373.5)">10</text>
<text x="145.37" y="373.5" font-size="2.4" text-anchor="middle" fill="#777" transform="rotate(-45 145.37 373.5)">10</text>
<text x="153.03" y="373.5" font-size="2.4" text-anchor="middle" fill="#777" transform="rotate(-45 153.03 373.5)">10</text>
<text x="160.7" y="373.5" font-size="2.4" text-anchor="middle" fill="#777" transform="rotate(-45 160.7 373.5)">10</text>
<text x="168.37" y="373.5" font-size="2.4" text-anchor="middle" fill="#777" transform="rotate(-45 168.37 373.5)">10</text>
<text x="176.03" y="373.5" font-size="2.4" text-anchor="middle" fill="#777" transform="rotate(-45 176.03 373.5)">10</text>
<text x="183.7" y="373.5" font-size="2.4" text-anchor="middle" fill="#777" transform="rotate(-45 183.7 373.5)">10</text>
<text x="134.5" y="370.1" font-size="2.4" text-anchor="end" fill="#777">10</text>
<text x="134.5" y="360.94" font-size="2.4" text-anchor="end" fill="#777">10</text>
<text x="134.5" y="351.78" font-size="2.4" text-anchor="end" fill="#777">10</text>
<text x="134.5" y="342.62" font-size="2.4" text-anchor="end" fill="#777">10</text>
<text x="134.5" y="333.46" font-size="2.4" text-anchor="end" fill="#777">10</text>
<text x="134.5" y="324.3" font-size="2.4" text-anchor="end" fill="#777">10</text>
<rect x="157.6" y="344.6" width="16.9" height="10.5" fill="none" stroke="#888" stroke-width="0.6"/>
<text x="166.5" y="343.2" font-size="6.2" font-weight="bold" text-anchor="middle" fill="#111" stroke="#111" stroke-width="0.11">6.72%</text>
<path d="M228.5 337.8h.6M209 342.8h.6M211 342.8h.6M197.5 344.3h.6M212.5 344.3h.6M224.5 344.8h.6M208 345.3h.6M209 345.3h.6M211.5 345.3h.6M215.5 345.3h.6M207.5 345.8h.6M210.5 346.3h.6M217 346.3h.6M202.5 346.8h.6M205 346.8h.6M207 346.8h.6M209 346.8h.6M209.5 346.8h.6M210.5 346.8h.6M211 346.8h.6M217 346.8h.6M201.5 347.3h.6M203.5 347.3h.6M205 347.3h.6M205.5 347.3h.6M214 347.3h.6M215 347.3h.6M218 347.3h.6M218.5 347.3h.6M220.5 347.3h.6M199.5 347.8h.6M203.5 347.8h.6M215.5 347.8h.6M216.5 347.8h.6M218 347.8h.6M218.5 347.8h.6M198.5 348.8h.6M199.5 348.8h.6M201.5 348.8h.6M220.5 348.8h.6M222.5 348.8h.6M196 349.3h.6M199 349.3h.6M217.5 349.3h.6M230 349.3h.6M201 349.8h.6M196.5 350.3h.6M200 350.3h.6M218.5 350.3h.6M219 350.3h.6M221.5 350.3h.6M219.5 350.8h.6M220.5 350.8h.6M227.5 350.8h.6M228 350.8h.6M198.5 351.8h.6M199 351.8h.6M221.5 352.3h.6M224 352.3h.6M224 353.3h.6M199 353.8h.6M212 353.8h.6M229 354.8h.6M206 355.3h.6M212.5 359.3h.6M221.5 361.3h.6M210.5 362.3h.6M222 363.3h.6" stroke="#7a8cff" stroke-width=".6" stroke-opacity="0.55"/>
<path d="M210 347.3h.6M207 347.8h.6M209 347.8h.6M213 347.8h.6M206 348.3h.6M209.5 348.3h.6M211 348.3h.6M211.5 348.3h.6M212 348.3h.6M212.5 348.3h.6M208.5 348.8h.6M209 348.8h.6M210.5 348.8h.6M211 348.8h.6M211.5 348.8h.6M212 348.8h.6M212.5 348.8h.6M213.5 348.8h.6M214 348.8h.6M215 348.8h.6M215.5 348.8h.6M203 349.3h.6M207.5 349.3h.6M209.5 349.3h.6M215.5 349.3h.6M203 349.8h.6M204 349.8h.6M205 349.8h.6M205.5 349.8h.6M206 349.8h.6M206.5 349.8h.6M207 349.8h.6M213 349.8h.6M214.5 349.8h.6M217 349.8h.6M201.5 350.3h.6M202.5 350.3h.6M205 350.3h.6M207 350.3h.6M207.5 350.3h.6M208.5 350.3h.6M209 350.3h.6M209.5 350.3h.6M210 350.3h.6M211.5 350.3h.6M213 350.3h.6M215.5 350.3h.6M216 350.3h.6M217 350.3h.6M205 350.8h.6M206.5 350.8h.6M210 350.8h.6M211 350.8h.6M211.5 350.8h.6M212 350.8h.6M212.5 350.8h.6M213.5 350.8h.6M215 350.8h.6M215.5 350.8h.6M203 351.3h.6M203.5 351.3h.6M205 351.3h.6M206.5 351.3h.6M209 351.3h.6M209.5 351.3h.6M211 351.3h.6M211.5 351.3h.6M215 351.3h.6M216 351.3h.6M217.5 351.3h.6M202 351.8h.6M202.5 351.8h.6M205.5 351.8h.6M207 351.8h.6M207.5 351.8h.6M208 351.8h.6M216 351.8h.6M201 352.3h.6M202.5 352.3h.6M203 352.3h.6M205 352.3h.6M206.5 352.3h.6M207 352.3h.6M217 352.3h.6M218.5 352.3h.6M202 352.8h.6M203.5 352.8h.6M206 352.8h.6M206.5 352.8h.6M207 352.8h.6M216.5 352.8h.6M217 352.8h.6M217.5 352.8h.6M218 352.8h.6M203.5 353.3h.6M204.5 353.3h.6M206.5 353.3h.6M208 353.3h.6M208.5 353.3h.6M209 353.3h.6M209.5 353.3h.6M210.5 353.3h.6M211 353.3h.6M211.5 353.3h.6M212 353.3h.6M212.5 353.3h.6M213 353.3h.6M213.5 353.3h.6M214 353.3h.6M214.5 353.3h.6M215 353.3h.6M215.5 353.3h.6M216.5 353.3h.6M217 353.3h.6M217.5 353.3h.6M218.5 353.3h.6" stroke="#3a4cff" stroke-width=".6"/>
<path d="M208.5 351.8h.6M215.5 351.8h.6M216.5 352.3h.6M208.5 352.8h.6M215.5 352.8h.6" stroke="#00b4ff" stroke-width=".6"/>
<path d="M209.5 351.8h.6M214.5 351.8h.6M215 351.8h.6M208 352.3h.6M208.5 352.3h.6M215.5 352.3h.6M216 352.3h.6M209 352.8h.6M209.5 352.8h.6M214.5 352.8h.6M215 352.8h.6" stroke="#10e8e0" stroke-width=".6"/>
<path d="M210 351.8h.6M210.5 351.8h.6M211 351.8h.6M211.5 351.8h.6M212.5 351.8h.6M213 351.8h.6M213.5 351.8h.6M214 351.8h.6M209 352.3h.6M209.5 352.3h.6M210 352.3h.6M210.5 352.3h.6M211 352.3h.6M211.5 352.3h.6M212 352.3h.6M212.5 352.3h.6M213 352.3h.6M213.5 352.3h.6M214 352.3h.6M214.5 352.3h.6M215 352.3h.6M210 352.8h.6M210.5 352.8h.6M211 352.8h.6M211.5 352.8h.6M212 352.8h.6M212.5 352.8h.6M213 352.8h.6M213.5 352.8h.6M214 352.8h.6" stroke="#30ff50" stroke-width=".6"/>
<rect x="194.6" y="322.3" width="49" height="48.2" fill="none" stroke="#9a9a9a" stroke-width="0.6"/>
<line x1="193.1" y1="369.3" x2="194.6" y2="369.3" stroke="#444" stroke-width="0.5"/>
<line x1="193.8" y1="367.01" x2="194.6" y2="367.01" stroke="#444" stroke-width="0.35"/>
<line x1="193.8" y1="364.72" x2="194.6" y2="364.72" stroke="#444" stroke-width="0.35"/>
<line x1="193.8" y1="362.43" x2="194.6" y2="362.43" stroke="#444" stroke-width="0.35"/>
<line x1="193.1" y1="360.14" x2="194.6" y2="360.14" stroke="#444" stroke-width="0.5"/>
<line x1="193.8" y1="357.85" x2="194.6" y2="357.85" stroke="#444" stroke-width="0.35"/>
<line x1="193.8" y1="355.56" x2="194.6" y2="355.56" stroke="#444" stroke-width="0.35"/>
<line x1="193.8" y1="353.27" x2="194.6" y2="353.27" stroke="#444" stroke-width="0.35"/>
<line x1="193.1" y1="350.98" x2="194.6" y2="350.98" stroke="#444" stroke-width="0.5"/>
<line x1="193.8" y1="348.69" x2="194.6" y2="348.69" stroke="#444" stroke-width="0.35"/>
<line x1="193.8" y1="346.4" x2="194.6" y2="346.4" stroke="#444" stroke-width="0.35"/>
<line x1="193.8" y1="344.11" x2="194.6" y2="344.11" stroke="#444" stroke-width="0.35"/>
<line x1="193.1" y1="341.82" x2="194.6" y2="341.82" stroke="#444" stroke-width="0.5"/>
<line x1="193.8" y1="339.53" x2="194.6" y2="339.53" stroke="#444" stroke-width="0.35"/>
<line x1="193.8" y1="337.24" x2="194.6" y2="337.24" stroke="#444" stroke-width="0.35"/>
<line x1="193.8" y1="334.95" x2="194.6" y2="334.95" stroke="#444" stroke-width="0.35"/>
<line x1="193.1" y1="332.66" x2="194.6" y2="332.66" stroke="#444" stroke-width="0.5"/>
<line x1="193.8" y1="330.37" x2="194.6" y2="330.37" stroke="#444" stroke-width="0.35"/>
<line x1="193.8" y1="328.08" x2="194.6" y2="328.08" stroke="#444" stroke-width="0.35"/>
<line x1="193.8" y1="325.79" x2="194.6" y2="325.79" stroke="#444" stroke-width="0.35"/>
<line x1="193.1" y1="323.5" x2="194.6" y2="323.5" stroke="#444" stroke-width="0.5"/>
<line x1="196.1" y1="370.5" x2="196.1" y2="372" stroke="#444" stroke-width="0.5"/>
<line x1="198.02" y1="370.5" x2="198.02" y2="371.3" stroke="#444" stroke-width="0.35"/>
<line x1="199.93" y1="370.5" x2="199.93" y2="371.3" stroke="#444" stroke-width="0.35"/>
<line x1="201.85" y1="370.5" x2="201.85" y2="371.3" stroke="#444" stroke-width="0.35"/>
<line x1="203.77" y1="370.5" x2="203.77" y2="372" stroke="#444" stroke-width="0.5"/>
<line x1="205.68" y1="370.5" x2="205.68" y2="371.3" stroke="#444" stroke-width="0.35"/>
<line x1="207.6" y1="370.5" x2="207.6" y2="371.3" stroke="#444" stroke-width="0.35"/>
<line x1="209.52" y1="370.5" x2="209.52" y2="371.3" stroke="#444" stroke-width="0.35"/>
<line x1="211.43" y1="370.5" x2="211.43" y2="372" stroke="#444" stroke-width="0.5"/>
<line x1="213.35" y1="370.5" x2="213.35" y2="371.3" stroke="#444" stroke-width="0.35"/>
<line x1="215.27" y1="370.5" x2="215.27" y2="371.3" stroke="#444" stroke-width="0.35"/>
<line x1="217.18" y1="370.5" x2="217.18" y2="371.3" stroke="#444" stroke-width="0.35"/>
<line x1="219.1" y1="370.5" x2="219.1" y2="372" stroke="#444" stroke-width="0.5"/>
<line x1="221.02" y1="370.5" x2="221.02" y2="371.3" stroke="#444" stroke-width="0.35"/>
<line x1="222.93" y1="370.5" x2="222.93" y2="371.3" stroke="#444" stroke-width="0.35"/>
<line x1="224.85" y1="370.5" x2="224.85" y2="371.3" stroke="#444" stroke-width="0.35"/>
<line x1="226.77" y1="370.5" x2="226.77" y2="372" stroke="#444" stroke-width="0.5"/>
<line x1="228.68" y1="370.5" x2="228.68" y2="371.3" stroke="#444" stroke-width="0.35"/>
<line x1="230.6" y1="370.5" x2="230.6" y2="371.3" stroke="#444" stroke-width="0.35"/>
<line x1="232.52" y1="370.5" x2="232.52" y2="371.3" stroke="#444" stroke-width="0.35"/>
<line x1="234.43" y1="370.5" x2="234.43" y2="372" stroke="#444" stroke-width="0.5"/>
<line x1="236.35" y1="370.5" x2="236.35" y2="371.3" stroke="#444" stroke-width="0.35"/>
<line x1="238.27" y1="370.5" x2="238.27" y2="371.3" stroke="#444" stroke-width="0.35"/>
<line x1="240.18" y1="370.5" x2="240.18" y2="371.3" stroke="#444" stroke-width="0.35"/>
<line x1="242.1" y1="370.5" x2="242.1" y2="372" stroke="#444" stroke-width="0.5"/>
<text x="195.8" y="373.5" font-size="2.4" text-anchor="middle" fill="#777" transform="rotate(-45 195.8 373.5)">10</text>
<text x="203.47" y="373.5" font-size="2.4" text-anchor="middle" fill="#777" transform="rotate(-45 203.47 373.5)">10</text>
<text x="211.13" y="373.5" font-size="2.4" text-anchor="middle" fill="#777" transform="rotate(-45 211.13 373.5)">10</text>
<text x="218.8" y="373.5" font-size="2.4" text-anchor="middle" fill="#777" transform="rotate(-45 218.8 373.5)">10</text>
<text x="226.47" y="373.5" font-size="2.4" text-anchor="middle" fill="#777" transform="rotate(-45 226.47 373.5)">10</text>
<text x="234.13" y="373.5" font-size="2.4" text-anchor="middle" fill="#777" transform="rotate(-45 234.13 373.5)">10</text>
<text x="241.8" y="373.5" font-size="2.4" text-anchor="middle" fill="#777" transform="rotate(-45 241.8 373.5)">10</text>
<text x="192.6" y="370.1" font-size="2.4" text-anchor="end" fill="#777">10</text>
<text x="192.6" y="360.94" font-size="2.4" text-anchor="end" fill="#777">10</text>
<text x="192.6" y="351.78" font-size="2.4" text-anchor="end" fill="#777">10</text>
<text x="192.6" y="342.62" font-size="2.4" text-anchor="end" fill="#777">10</text>
<text x="192.6" y="333.46" font-size="2.4" text-anchor="end" fill="#777">10</text>
<text x="192.6" y="324.3" font-size="2.4" text-anchor="end" fill="#777">10</text>
<rect x="215.8" y="345" width="16.5" height="10" fill="none" stroke="#888" stroke-width="0.6"/>
<text x="224.2" y="343.6" font-size="6.2" font-weight="bold" text-anchor="middle" fill="#111" stroke="#111" stroke-width="0.11">9.82%</text>
<text x="128.7" y="217.2" font-size="7" text-anchor="middle" fill="#111" stroke="#111" stroke-width="0.17" transform="rotate(-90 128.7 217.2)">FSC-A</text>
<text x="129" y="272.5" font-size="7.3" text-anchor="middle" fill="#111" stroke="#111" stroke-width="0.18" transform="rotate(-90 129 272.5)">Count</text>
<text x="129" y="348" font-size="7.1" text-anchor="middle" fill="#111" stroke="#111" stroke-width="0.17" transform="rotate(-90 129 348)">CD56</text>
<text x="129" y="401.5" font-size="7.3" text-anchor="middle" fill="#111" stroke="#111" stroke-width="0.18" transform="rotate(-90 129 401.5)">Count</text>
<path d="M137.5 295.3L137.5 295.3L140 295L144.7 294.4L147 292.5L149 290.6L151.5 288.6L153.5 287.3L155 288.6L156.4 289.8L157.4 285L158.3 272L159.3 258L160.1 251.8L161 258L162 270L163 283L164.2 293.5L165.2 295.2L166 295.3L166 295.3Z" fill="#c6c6c6"/>
<path d="M137.5 295.3L140 295L144.7 294.4L147 292.5L149 290.6L151.5 288.6L153.5 287.3L155 288.6L156.4 289.8L157.4 285L158.3 272L159.3 258L160.1 251.8L161 258L162 270L163 283L164.2 293.5L165.2 295.2L166 295.3" fill="none" stroke="#333" stroke-width="0.7"/>
<rect x="136.8" y="246.5" width="48.7" height="48.8" fill="none" stroke="#9a9a9a" stroke-width="0.6"/>
<line x1="135.3" y1="294.1" x2="136.8" y2="294.1" stroke="#444" stroke-width="0.5"/>
<line x1="136" y1="291.2" x2="136.8" y2="291.2" stroke="#444" stroke-width="0.35"/>
<line x1="136" y1="288.3" x2="136.8" y2="288.3" stroke="#444" stroke-width="0.35"/>
<line x1="136" y1="285.4" x2="136.8" y2="285.4" stroke="#444" stroke-width="0.35"/>
<line x1="135.3" y1="282.5" x2="136.8" y2="282.5" stroke="#444" stroke-width="0.5"/>
<line x1="136" y1="279.6" x2="136.8" y2="279.6" stroke="#444" stroke-width="0.35"/>
<line x1="136" y1="276.7" x2="136.8" y2="276.7" stroke="#444" stroke-width="0.35"/>
<line x1="136" y1="273.8" x2="136.8" y2="273.8" stroke="#444" stroke-width="0.35"/>
<line x1="135.3" y1="270.9" x2="136.8" y2="270.9" stroke="#444" stroke-width="0.5"/>
<line x1="136" y1="268" x2="136.8" y2="268" stroke="#444" stroke-width="0.35"/>
<line x1="136" y1="265.1" x2="136.8" y2="265.1" stroke="#444" stroke-width="0.35"/>
<line x1="136" y1="262.2" x2="136.8" y2="262.2" stroke="#444" stroke-width="0.35"/>
<line x1="135.3" y1="259.3" x2="136.8" y2="259.3" stroke="#444" stroke-width="0.5"/>
<line x1="136" y1="256.4" x2="136.8" y2="256.4" stroke="#444" stroke-width="0.35"/>
<line x1="136" y1="253.5" x2="136.8" y2="253.5" stroke="#444" stroke-width="0.35"/>
<line x1="136" y1="250.6" x2="136.8" y2="250.6" stroke="#444" stroke-width="0.35"/>
<line x1="135.3" y1="247.7" x2="136.8" y2="247.7" stroke="#444" stroke-width="0.5"/>
<line x1="138.3" y1="295.3" x2="138.3" y2="296.8" stroke="#444" stroke-width="0.5"/>
<line x1="140.2" y1="295.3" x2="140.2" y2="296.1" stroke="#444" stroke-width="0.35"/>
<line x1="142.11" y1="295.3" x2="142.11" y2="296.1" stroke="#444" stroke-width="0.35"/>
<line x1="144.01" y1="295.3" x2="144.01" y2="296.1" stroke="#444" stroke-width="0.35"/>
<line x1="145.92" y1="295.3" x2="145.92" y2="296.8" stroke="#444" stroke-width="0.5"/>
<line x1="147.82" y1="295.3" x2="147.82" y2="296.1" stroke="#444" stroke-width="0.35"/>
<line x1="149.73" y1="295.3" x2="149.73" y2="296.1" stroke="#444" stroke-width="0.35"/>
<line x1="151.63" y1="295.3" x2="151.63" y2="296.1" stroke="#444" stroke-width="0.35"/>
<line x1="153.53" y1="295.3" x2="153.53" y2="296.8" stroke="#444" stroke-width="0.5"/>
<line x1="155.44" y1="295.3" x2="155.44" y2="296.1" stroke="#444" stroke-width="0.35"/>
<line x1="157.34" y1="295.3" x2="157.34" y2="296.1" stroke="#444" stroke-width="0.35"/>
<line x1="159.25" y1="295.3" x2="159.25" y2="296.1" stroke="#444" stroke-width="0.35"/>
<line x1="161.15" y1="295.3" x2="161.15" y2="296.8" stroke="#444" stroke-width="0.5"/>
<line x1="163.05" y1="295.3" x2="163.05" y2="296.1" stroke="#444" stroke-width="0.35"/>
<line x1="164.96" y1="295.3" x2="164.96" y2="296.1" stroke="#444" stroke-width="0.35"/>
<line x1="166.86" y1="295.3" x2="166.86" y2="296.1" stroke="#444" stroke-width="0.35"/>
<line x1="168.77" y1="295.3" x2="168.77" y2="296.8" stroke="#444" stroke-width="0.5"/>
<line x1="170.67" y1="295.3" x2="170.67" y2="296.1" stroke="#444" stroke-width="0.35"/>
<line x1="172.58" y1="295.3" x2="172.58" y2="296.1" stroke="#444" stroke-width="0.35"/>
<line x1="174.48" y1="295.3" x2="174.48" y2="296.1" stroke="#444" stroke-width="0.35"/>
<line x1="176.38" y1="295.3" x2="176.38" y2="296.8" stroke="#444" stroke-width="0.5"/>
<line x1="178.29" y1="295.3" x2="178.29" y2="296.1" stroke="#444" stroke-width="0.35"/>
<line x1="180.19" y1="295.3" x2="180.19" y2="296.1" stroke="#444" stroke-width="0.35"/>
<line x1="182.1" y1="295.3" x2="182.1" y2="296.1" stroke="#444" stroke-width="0.35"/>
<line x1="184" y1="295.3" x2="184" y2="296.8" stroke="#444" stroke-width="0.5"/>
<text x="138" y="298.3" font-size="2.4" text-anchor="middle" fill="#777" transform="rotate(-45 138 298.3)">10</text>
<text x="145.62" y="298.3" font-size="2.4" text-anchor="middle" fill="#777" transform="rotate(-45 145.62 298.3)">10</text>
<text x="153.23" y="298.3" font-size="2.4" text-anchor="middle" fill="#777" transform="rotate(-45 153.23 298.3)">10</text>
<text x="160.85" y="298.3" font-size="2.4" text-anchor="middle" fill="#777" transform="rotate(-45 160.85 298.3)">10</text>
<text x="168.47" y="298.3" font-size="2.4" text-anchor="middle" fill="#777" transform="rotate(-45 168.47 298.3)">10</text>
<text x="176.08" y="298.3" font-size="2.4" text-anchor="middle" fill="#777" transform="rotate(-45 176.08 298.3)">10</text>
<text x="183.7" y="298.3" font-size="2.4" text-anchor="middle" fill="#777" transform="rotate(-45 183.7 298.3)">10</text>
<line x1="155.1" y1="279.6" x2="182" y2="279.6" stroke="#333" stroke-width="0.6"/>
<circle cx="155.1" cy="279.6" r="0.6" fill="#333"/>
<circle cx="182" cy="279.6" r="0.6" fill="#333"/>
<text x="172" y="277.8" font-size="6" font-weight="bold" text-anchor="middle" fill="#111" stroke="#111" stroke-width="0.11">506</text>
<path d="M198 295.3L198 295.3L203.3 295L208 293.5L212.1 291.7L214.6 290.8L216 288.5L217.1 281.7L218.5 268L219.6 256L220.6 250.9L221.6 260L222.3 272L222.8 281.7L223.6 291L224.4 294.8L226 295.3L226 295.3Z" fill="#fbc8c8"/>
<path d="M198 295.3L203.3 295L208 293.5L212.1 291.7L214.6 290.8L216 288.5L217.1 281.7L218.5 268L219.6 256L220.6 250.9L221.6 260L222.3 272L222.8 281.7L223.6 291L224.4 294.8L226 295.3" fill="none" stroke="#f43c3c" stroke-width="0.7"/>
<path d="M195.1 295.3V285.5" fill="none" stroke="#f43c3c" stroke-width="0.9"/>
<rect x="194.8" y="246.5" width="48.7" height="48.8" fill="none" stroke="#9a9a9a" stroke-width="0.6"/>
<line x1="193.3" y1="294.1" x2="194.8" y2="294.1" stroke="#444" stroke-width="0.5"/>
<line x1="194" y1="291.2" x2="194.8" y2="291.2" stroke="#444" stroke-width="0.35"/>
<line x1="194" y1="288.3" x2="194.8" y2="288.3" stroke="#444" stroke-width="0.35"/>
<line x1="194" y1="285.4" x2="194.8" y2="285.4" stroke="#444" stroke-width="0.35"/>
<line x1="193.3" y1="282.5" x2="194.8" y2="282.5" stroke="#444" stroke-width="0.5"/>
<line x1="194" y1="279.6" x2="194.8" y2="279.6" stroke="#444" stroke-width="0.35"/>
<line x1="194" y1="276.7" x2="194.8" y2="276.7" stroke="#444" stroke-width="0.35"/>
<line x1="194" y1="273.8" x2="194.8" y2="273.8" stroke="#444" stroke-width="0.35"/>
<line x1="193.3" y1="270.9" x2="194.8" y2="270.9" stroke="#444" stroke-width="0.5"/>
<line x1="194" y1="268" x2="194.8" y2="268" stroke="#444" stroke-width="0.35"/>
<line x1="194" y1="265.1" x2="194.8" y2="265.1" stroke="#444" stroke-width="0.35"/>
<line x1="194" y1="262.2" x2="194.8" y2="262.2" stroke="#444" stroke-width="0.35"/>
<line x1="193.3" y1="259.3" x2="194.8" y2="259.3" stroke="#444" stroke-width="0.5"/>
<line x1="194" y1="256.4" x2="194.8" y2="256.4" stroke="#444" stroke-width="0.35"/>
<line x1="194" y1="253.5" x2="194.8" y2="253.5" stroke="#444" stroke-width="0.35"/>
<line x1="194" y1="250.6" x2="194.8" y2="250.6" stroke="#444" stroke-width="0.35"/>
<line x1="193.3" y1="247.7" x2="194.8" y2="247.7" stroke="#444" stroke-width="0.5"/>
<line x1="196.3" y1="295.3" x2="196.3" y2="296.8" stroke="#444" stroke-width="0.5"/>
<line x1="198.2" y1="295.3" x2="198.2" y2="296.1" stroke="#444" stroke-width="0.35"/>
<line x1="200.11" y1="295.3" x2="200.11" y2="296.1" stroke="#444" stroke-width="0.35"/>
<line x1="202.01" y1="295.3" x2="202.01" y2="296.1" stroke="#444" stroke-width="0.35"/>
<line x1="203.92" y1="295.3" x2="203.92" y2="296.8" stroke="#444" stroke-width="0.5"/>
<line x1="205.82" y1="295.3" x2="205.82" y2="296.1" stroke="#444" stroke-width="0.35"/>
<line x1="207.73" y1="295.3" x2="207.73" y2="296.1" stroke="#444" stroke-width="0.35"/>
<line x1="209.63" y1="295.3" x2="209.63" y2="296.1" stroke="#444" stroke-width="0.35"/>
<line x1="211.53" y1="295.3" x2="211.53" y2="296.8" stroke="#444" stroke-width="0.5"/>
<line x1="213.44" y1="295.3" x2="213.44" y2="296.1" stroke="#444" stroke-width="0.35"/>
<line x1="215.34" y1="295.3" x2="215.34" y2="296.1" stroke="#444" stroke-width="0.35"/>
<line x1="217.25" y1="295.3" x2="217.25" y2="296.1" stroke="#444" stroke-width="0.35"/>
<line x1="219.15" y1="295.3" x2="219.15" y2="296.8" stroke="#444" stroke-width="0.5"/>
<line x1="221.05" y1="295.3" x2="221.05" y2="296.1" stroke="#444" stroke-width="0.35"/>
<line x1="222.96" y1="295.3" x2="222.96" y2="296.1" stroke="#444" stroke-width="0.35"/>
<line x1="224.86" y1="295.3" x2="224.86" y2="296.1" stroke="#444" stroke-width="0.35"/>
<line x1="226.77" y1="295.3" x2="226.77" y2="296.8" stroke="#444" stroke-width="0.5"/>
<line x1="228.67" y1="295.3" x2="228.67" y2="296.1" stroke="#444" stroke-width="0.35"/>
<line x1="230.58" y1="295.3" x2="230.58" y2="296.1" stroke="#444" stroke-width="0.35"/>
<line x1="232.48" y1="295.3" x2="232.48" y2="296.1" stroke="#444" stroke-width="0.35"/>
<line x1="234.38" y1="295.3" x2="234.38" y2="296.8" stroke="#444" stroke-width="0.5"/>
<line x1="236.29" y1="295.3" x2="236.29" y2="296.1" stroke="#444" stroke-width="0.35"/>
<line x1="238.19" y1="295.3" x2="238.19" y2="296.1" stroke="#444" stroke-width="0.35"/>
<line x1="240.1" y1="295.3" x2="240.1" y2="296.1" stroke="#444" stroke-width="0.35"/>
<line x1="242" y1="295.3" x2="242" y2="296.8" stroke="#444" stroke-width="0.5"/>
<text x="196" y="298.3" font-size="2.4" text-anchor="middle" fill="#777" transform="rotate(-45 196 298.3)">10</text>
<text x="203.62" y="298.3" font-size="2.4" text-anchor="middle" fill="#777" transform="rotate(-45 203.62 298.3)">10</text>
<text x="211.23" y="298.3" font-size="2.4" text-anchor="middle" fill="#777" transform="rotate(-45 211.23 298.3)">10</text>
<text x="218.85" y="298.3" font-size="2.4" text-anchor="middle" fill="#777" transform="rotate(-45 218.85 298.3)">10</text>
<text x="226.47" y="298.3" font-size="2.4" text-anchor="middle" fill="#777" transform="rotate(-45 226.47 298.3)">10</text>
<text x="234.08" y="298.3" font-size="2.4" text-anchor="middle" fill="#777" transform="rotate(-45 234.08 298.3)">10</text>
<text x="241.7" y="298.3" font-size="2.4" text-anchor="middle" fill="#777" transform="rotate(-45 241.7 298.3)">10</text>
<line x1="213.1" y1="279.6" x2="240.4" y2="279.6" stroke="#333" stroke-width="0.6"/>
<circle cx="213.1" cy="279.6" r="0.6" fill="#333"/>
<circle cx="240.4" cy="279.6" r="0.6" fill="#333"/>
<text x="230.6" y="277.8" font-size="6" font-weight="bold" text-anchor="middle" fill="#111" stroke="#111" stroke-width="0.11">1165</text>
<text x="240.9" y="255.3" font-size="6.3" text-anchor="end" fill="#111" stroke="#111" stroke-width="0.15">MFI</text>
<path d="M139 425.8L139 425.8L142.8 424.3L146.6 421.7L148.4 418L149.7 412.3L151.6 401.6L153 394.5L154.1 391.6L155 395L156 404.2L157.9 418L159.5 422.5L161 424.9L163 425.8L163 425.8Z" fill="#c6c6c6"/>
<path d="M139 425.8L142.8 424.3L146.6 421.7L148.4 418L149.7 412.3L151.6 401.6L153 394.5L154.1 391.6L155 395L156 404.2L157.9 418L159.5 422.5L161 424.9L163 425.8" fill="none" stroke="#333" stroke-width="0.7"/>
<rect x="136.8" y="377.1" width="48.7" height="48.7" fill="none" stroke="#9a9a9a" stroke-width="0.6"/>
<line x1="135.3" y1="424.6" x2="136.8" y2="424.6" stroke="#444" stroke-width="0.5"/>
<line x1="136" y1="421.71" x2="136.8" y2="421.71" stroke="#444" stroke-width="0.35"/>
<line x1="136" y1="418.81" x2="136.8" y2="418.81" stroke="#444" stroke-width="0.35"/>
<line x1="136" y1="415.92" x2="136.8" y2="415.92" stroke="#444" stroke-width="0.35"/>
<line x1="135.3" y1="413.03" x2="136.8" y2="413.03" stroke="#444" stroke-width="0.5"/>
<line x1="136" y1="410.13" x2="136.8" y2="410.13" stroke="#444" stroke-width="0.35"/>
<line x1="136" y1="407.24" x2="136.8" y2="407.24" stroke="#444" stroke-width="0.35"/>
<line x1="136" y1="404.34" x2="136.8" y2="404.34" stroke="#444" stroke-width="0.35"/>
<line x1="135.3" y1="401.45" x2="136.8" y2="401.45" stroke="#444" stroke-width="0.5"/>
<line x1="136" y1="398.56" x2="136.8" y2="398.56" stroke="#444" stroke-width="0.35"/>
<line x1="136" y1="395.66" x2="136.8" y2="395.66" stroke="#444" stroke-width="0.35"/>
<line x1="136" y1="392.77" x2="136.8" y2="392.77" stroke="#444" stroke-width="0.35"/>
<line x1="135.3" y1="389.88" x2="136.8" y2="389.88" stroke="#444" stroke-width="0.5"/>
<line x1="136" y1="386.98" x2="136.8" y2="386.98" stroke="#444" stroke-width="0.35"/>
<line x1="136" y1="384.09" x2="136.8" y2="384.09" stroke="#444" stroke-width="0.35"/>
<line x1="136" y1="381.19" x2="136.8" y2="381.19" stroke="#444" stroke-width="0.35"/>
<line x1="135.3" y1="378.3" x2="136.8" y2="378.3" stroke="#444" stroke-width="0.5"/>
<line x1="138.3" y1="425.8" x2="138.3" y2="427.3" stroke="#444" stroke-width="0.5"/>
<line x1="140.2" y1="425.8" x2="140.2" y2="426.6" stroke="#444" stroke-width="0.35"/>
<line x1="142.11" y1="425.8" x2="142.11" y2="426.6" stroke="#444" stroke-width="0.35"/>
<line x1="144.01" y1="425.8" x2="144.01" y2="426.6" stroke="#444" stroke-width="0.35"/>
<line x1="145.92" y1="425.8" x2="145.92" y2="427.3" stroke="#444" stroke-width="0.5"/>
<line x1="147.82" y1="425.8" x2="147.82" y2="426.6" stroke="#444" stroke-width="0.35"/>
<line x1="149.73" y1="425.8" x2="149.73" y2="426.6" stroke="#444" stroke-width="0.35"/>
<line x1="151.63" y1="425.8" x2="151.63" y2="426.6" stroke="#444" stroke-width="0.35"/>
<line x1="153.53" y1="425.8" x2="153.53" y2="427.3" stroke="#444" stroke-width="0.5"/>
<line x1="155.44" y1="425.8" x2="155.44" y2="426.6" stroke="#444" stroke-width="0.35"/>
<line x1="157.34" y1="425.8" x2="157.34" y2="426.6" stroke="#444" stroke-width="0.35"/>
<line x1="159.25" y1="425.8" x2="159.25" y2="426.6" stroke="#444" stroke-width="0.35"/>
<line x1="161.15" y1="425.8" x2="161.15" y2="427.3" stroke="#444" stroke-width="0.5"/>
<line x1="163.05" y1="425.8" x2="163.05" y2="426.6" stroke="#444" stroke-width="0.35"/>
<line x1="164.96" y1="425.8" x2="164.96" y2="426.6" stroke="#444" stroke-width="0.35"/>
<line x1="166.86" y1="425.8" x2="166.86" y2="426.6" stroke="#444" stroke-width="0.35"/>
<line x1="168.77" y1="425.8" x2="168.77" y2="427.3" stroke="#444" stroke-width="0.5"/>
<line x1="170.67" y1="425.8" x2="170.67" y2="426.6" stroke="#444" stroke-width="0.35"/>
<line x1="172.58" y1="425.8" x2="172.58" y2="426.6" stroke="#444" stroke-width="0.35"/>
<line x1="174.48" y1="425.8" x2="174.48" y2="426.6" stroke="#444" stroke-width="0.35"/>
<line x1="176.38" y1="425.8" x2="176.38" y2="427.3" stroke="#444" stroke-width="0.5"/>
<line x1="178.29" y1="425.8" x2="178.29" y2="426.6" stroke="#444" stroke-width="0.35"/>
<line x1="180.19" y1="425.8" x2="180.19" y2="426.6" stroke="#444" stroke-width="0.35"/>
<line x1="182.1" y1="425.8" x2="182.1" y2="426.6" stroke="#444" stroke-width="0.35"/>
<line x1="184" y1="425.8" x2="184" y2="427.3" stroke="#444" stroke-width="0.5"/>
<text x="138" y="428.8" font-size="2.4" text-anchor="middle" fill="#777" transform="rotate(-45 138 428.8)">10</text>
<text x="145.62" y="428.8" font-size="2.4" text-anchor="middle" fill="#777" transform="rotate(-45 145.62 428.8)">10</text>
<text x="153.23" y="428.8" font-size="2.4" text-anchor="middle" fill="#777" transform="rotate(-45 153.23 428.8)">10</text>
<text x="160.85" y="428.8" font-size="2.4" text-anchor="middle" fill="#777" transform="rotate(-45 160.85 428.8)">10</text>
<text x="168.47" y="428.8" font-size="2.4" text-anchor="middle" fill="#777" transform="rotate(-45 168.47 428.8)">10</text>
<text x="176.08" y="428.8" font-size="2.4" text-anchor="middle" fill="#777" transform="rotate(-45 176.08 428.8)">10</text>
<text x="183.7" y="428.8" font-size="2.4" text-anchor="middle" fill="#777" transform="rotate(-45 183.7 428.8)">10</text>
<line x1="156.4" y1="417.1" x2="177" y2="417.1" stroke="#777" stroke-width="0.6"/>
<circle cx="156.4" cy="417.1" r="0.6" fill="#777"/>
<circle cx="177" cy="417.1" r="0.6" fill="#777"/>
<text x="168.2" y="415.3" font-size="6" font-weight="bold" text-anchor="middle" fill="#111" stroke="#111" stroke-width="0.11">75.1</text>
<path d="M197 425.8L197 425.8L199.5 425.2L204.6 422.4L208.3 414.2L210.8 400.4L212.1 390.3L213.6 386.3L214.4 390L215.2 399.1L217.1 418L219 423.5L221.5 425.5L223 425.8L223 425.8Z" fill="#fbc8c8"/>
<path d="M197 425.8L199.5 425.2L204.6 422.4L208.3 414.2L210.8 400.4L212.1 390.3L213.6 386.3L214.4 390L215.2 399.1L217.1 418L219 423.5L221.5 425.5L223 425.8" fill="none" stroke="#f43c3c" stroke-width="0.7"/>
<path d="M195.1 425.8V378.5" fill="none" stroke="#f43c3c" stroke-width="0.9"/>
<rect x="194.8" y="377.1" width="48.7" height="48.7" fill="none" stroke="#9a9a9a" stroke-width="0.6"/>
<line x1="193.3" y1="424.6" x2="194.8" y2="424.6" stroke="#444" stroke-width="0.5"/>
<line x1="194" y1="421.71" x2="194.8" y2="421.71" stroke="#444" stroke-width="0.35"/>
<line x1="194" y1="418.81" x2="194.8" y2="418.81" stroke="#444" stroke-width="0.35"/>
<line x1="194" y1="415.92" x2="194.8" y2="415.92" stroke="#444" stroke-width="0.35"/>
<line x1="193.3" y1="413.03" x2="194.8" y2="413.03" stroke="#444" stroke-width="0.5"/>
<line x1="194" y1="410.13" x2="194.8" y2="410.13" stroke="#444" stroke-width="0.35"/>
<line x1="194" y1="407.24" x2="194.8" y2="407.24" stroke="#444" stroke-width="0.35"/>
<line x1="194" y1="404.34" x2="194.8" y2="404.34" stroke="#444" stroke-width="0.35"/>
<line x1="193.3" y1="401.45" x2="194.8" y2="401.45" stroke="#444" stroke-width="0.5"/>
<line x1="194" y1="398.56" x2="194.8" y2="398.56" stroke="#444" stroke-width="0.35"/>
<line x1="194" y1="395.66" x2="194.8" y2="395.66" stroke="#444" stroke-width="0.35"/>
<line x1="194" y1="392.77" x2="194.8" y2="392.77" stroke="#444" stroke-width="0.35"/>
<line x1="193.3" y1="389.88" x2="194.8" y2="389.88" stroke="#444" stroke-width="0.5"/>
<line x1="194" y1="386.98" x2="194.8" y2="386.98" stroke="#444" stroke-width="0.35"/>
<line x1="194" y1="384.09" x2="194.8" y2="384.09" stroke="#444" stroke-width="0.35"/>
<line x1="194" y1="381.19" x2="194.8" y2="381.19" stroke="#444" stroke-width="0.35"/>
<line x1="193.3" y1="378.3" x2="194.8" y2="378.3" stroke="#444" stroke-width="0.5"/>
<line x1="196.3" y1="425.8" x2="196.3" y2="427.3" stroke="#444" stroke-width="0.5"/>
<line x1="198.2" y1="425.8" x2="198.2" y2="426.6" stroke="#444" stroke-width="0.35"/>
<line x1="200.11" y1="425.8" x2="200.11" y2="426.6" stroke="#444" stroke-width="0.35"/>
<line x1="202.01" y1="425.8" x2="202.01" y2="426.6" stroke="#444" stroke-width="0.35"/>
<line x1="203.92" y1="425.8" x2="203.92" y2="427.3" stroke="#444" stroke-width="0.5"/>
<line x1="205.82" y1="425.8" x2="205.82" y2="426.6" stroke="#444" stroke-width="0.35"/>
<line x1="207.73" y1="425.8" x2="207.73" y2="426.6" stroke="#444" stroke-width="0.35"/>
<line x1="209.63" y1="425.8" x2="209.63" y2="426.6" stroke="#444" stroke-width="0.35"/>
<line x1="211.53" y1="425.8" x2="211.53" y2="427.3" stroke="#444" stroke-width="0.5"/>
<line x1="213.44" y1="425.8" x2="213.44" y2="426.6" stroke="#444" stroke-width="0.35"/>
<line x1="215.34" y1="425.8" x2="215.34" y2="426.6" stroke="#444" stroke-width="0.35"/>
<line x1="217.25" y1="425.8" x2="217.25" y2="426.6" stroke="#444" stroke-width="0.35"/>
<line x1="219.15" y1="425.8" x2="219.15" y2="427.3" stroke="#444" stroke-width="0.5"/>
<line x1="221.05" y1="425.8" x2="221.05" y2="426.6" stroke="#444" stroke-width="0.35"/>
<line x1="222.96" y1="425.8" x2="222.96" y2="426.6" stroke="#444" stroke-width="0.35"/>
<line x1="224.86" y1="425.8" x2="224.86" y2="426.6" stroke="#444" stroke-width="0.35"/>
<line x1="226.77" y1="425.8" x2="226.77" y2="427.3" stroke="#444" stroke-width="0.5"/>
<line x1="228.67" y1="425.8" x2="228.67" y2="426.6" stroke="#444" stroke-width="0.35"/>
<line x1="230.58" y1="425.8" x2="230.58" y2="426.6" stroke="#444" stroke-width="0.35"/>
<line x1="232.48" y1="425.8" x2="232.48" y2="426.6" stroke="#444" stroke-width="0.35"/>
<line x1="234.38" y1="425.8" x2="234.38" y2="427.3" stroke="#444" stroke-width="0.5"/>
<line x1="236.29" y1="425.8" x2="236.29" y2="426.6" stroke="#444" stroke-width="0.35"/>
<line x1="238.19" y1="425.8" x2="238.19" y2="426.6" stroke="#444" stroke-width="0.35"/>
<line x1="240.1" y1="425.8" x2="240.1" y2="426.6" stroke="#444" stroke-width="0.35"/>
<line x1="242" y1="425.8" x2="242" y2="427.3" stroke="#444" stroke-width="0.5"/>
<text x="196" y="428.8" font-size="2.4" text-anchor="middle" fill="#777" transform="rotate(-45 196 428.8)">10</text>
<text x="203.62" y="428.8" font-size="2.4" text-anchor="middle" fill="#777" transform="rotate(-45 203.62 428.8)">10</text>
<text x="211.23" y="428.8" font-size="2.4" text-anchor="middle" fill="#777" transform="rotate(-45 211.23 428.8)">10</text>
<text x="218.85" y="428.8" font-size="2.4" text-anchor="middle" fill="#777" transform="rotate(-45 218.85 428.8)">10</text>
<text x="226.47" y="428.8" font-size="2.4" text-anchor="middle" fill="#777" transform="rotate(-45 226.47 428.8)">10</text>
<text x="234.08" y="428.8" font-size="2.4" text-anchor="middle" fill="#777" transform="rotate(-45 234.08 428.8)">10</text>
<text x="241.7" y="428.8" font-size="2.4" text-anchor="middle" fill="#777" transform="rotate(-45 241.7 428.8)">10</text>
<line x1="214" y1="417.1" x2="235.3" y2="417.1" stroke="#777" stroke-width="0.6"/>
<circle cx="214" cy="417.1" r="0.6" fill="#777"/>
<circle cx="235.3" cy="417.1" r="0.6" fill="#777"/>
<text x="228.6" y="415.3" font-size="6" font-weight="bold" text-anchor="middle" fill="#111" stroke="#111" stroke-width="0.11">121</text>
<text x="240.9" y="385.3" font-size="6.3" text-anchor="end" fill="#111" stroke="#111" stroke-width="0.15">MFI</text>
<line x1="136.1" y1="304.8" x2="160.5" y2="304.8" stroke="#111" stroke-width="0.8"/>
<path d="M163.6 304.8L159.4 303L159.4 306.6Z" fill="#111"/>
<text x="167.7" y="306.8" font-size="7" fill="#111" stroke="#111" stroke-width="0.17" textLength="25.6" lengthAdjust="spacingAndGlyphs">CD107a</text>
<line x1="136.1" y1="435.3" x2="160.5" y2="435.3" stroke="#111" stroke-width="0.8"/>
<path d="M163.6 435.3L159.4 433.5L159.4 437.1Z" fill="#111"/>
<text x="167.7" y="437.3" font-size="7" fill="#111" stroke="#111" stroke-width="0.17" textLength="25.6" lengthAdjust="spacingAndGlyphs">CD107a</text>
<line x1="270" y1="206.8" x2="270" y2="271.7" stroke="#222" stroke-width="0.9"/>
<line x1="269.7" y1="271.3" x2="312.6" y2="271.3" stroke="#222" stroke-width="0.9"/>
<line x1="267.8" y1="271.3" x2="270" y2="271.3" stroke="#222" stroke-width="0.8"/>
<text x="267.4" y="273" font-size="4.8" font-weight="bold" text-anchor="end" fill="#222" stroke="#222" stroke-width="0.09">0</text>
<line x1="267.8" y1="249.9" x2="270" y2="249.9" stroke="#222" stroke-width="0.8"/>
<text x="267.4" y="251.6" font-size="4.8" font-weight="bold" text-anchor="end" fill="#222" stroke="#222" stroke-width="0.09">500</text>
<line x1="267.8" y1="228.5" x2="270" y2="228.5" stroke="#222" stroke-width="0.8"/>
<text x="267.4" y="230.2" font-size="4.8" font-weight="bold" text-anchor="end" fill="#222" stroke="#222" stroke-width="0.09">1,000</text>
<line x1="267.8" y1="207.1" x2="270" y2="207.1" stroke="#222" stroke-width="0.8"/>
<text x="267.4" y="208.8" font-size="4.8" font-weight="bold" text-anchor="end" fill="#222" stroke="#222" stroke-width="0.09">1,500</text>
<line x1="282.3" y1="271.3" x2="282.3" y2="273.6" stroke="#222" stroke-width="0.8"/>
<line x1="300.5" y1="271.3" x2="300.5" y2="273.6" stroke="#222" stroke-width="0.8"/>
<text x="284.2" y="277.8" font-size="4.9" font-weight="bold" text-anchor="end" fill="#222" stroke="#222" stroke-width="0.09" transform="rotate(-45 284.2 277.8)">Untreated</text>
<text x="302.4" y="277.8" font-size="4.9" font-weight="bold" text-anchor="end" fill="#222" stroke="#222" stroke-width="0.09" transform="rotate(-45 302.4 277.8)">CDA</text>
<text x="253.7" y="239.4" font-size="5.1" font-weight="bold" text-anchor="middle" fill="#222" stroke="#222" stroke-width="0.09" transform="rotate(-90 253.7 239.4)">CD107a MFI</text>
<line x1="282.3" y1="239.84" x2="282.3" y2="247.12" stroke="#000" stroke-width="0.6"/>
<line x1="280.1" y1="239.84" x2="284.5" y2="239.84" stroke="#000" stroke-width="0.6"/>
<line x1="280.1" y1="247.12" x2="284.5" y2="247.12" stroke="#000" stroke-width="0.6"/>
<circle cx="282.3" cy="236.2" r="1.35" fill="#000"/>
<circle cx="282.3" cy="243.48" r="1.35" fill="#000"/>
<circle cx="282.3" cy="249.9" r="1.35" fill="#000"/>
<line x1="276.3" y1="243.48" x2="288.3" y2="243.48" stroke="#111" stroke-width="0.9"/>
<line x1="300.5" y1="219.51" x2="300.5" y2="230.64" stroke="#f01a1a" stroke-width="0.6"/>
<line x1="298.3" y1="219.51" x2="302.7" y2="219.51" stroke="#f01a1a" stroke-width="0.6"/>
<line x1="298.3" y1="230.64" x2="302.7" y2="230.64" stroke="#f01a1a" stroke-width="0.6"/>
<circle cx="300.5" cy="217.8" r="1.35" fill="#f01a1a"/>
<circle cx="300.5" cy="222.08" r="1.35" fill="#f01a1a"/>
<circle cx="300.5" cy="235.78" r="1.35" fill="#f01a1a"/>
<line x1="294.5" y1="225.08" x2="306.5" y2="225.08" stroke="#111" stroke-width="0.9"/>
<line x1="268.4" y1="339" x2="268.4" y2="402.1" stroke="#222" stroke-width="0.8"/>
<line x1="268.1" y1="401.7" x2="310.8" y2="401.7" stroke="#222" stroke-width="0.8"/>
<line x1="266.2" y1="401.7" x2="268.4" y2="401.7" stroke="#222" stroke-width="0.8"/>
<text x="265.8" y="403.4" font-size="4.8" text-anchor="end" fill="#222">0</text>
<line x1="266.2" y1="380.9" x2="268.4" y2="380.9" stroke="#222" stroke-width="0.8"/>
<text x="265.8" y="382.6" font-size="4.8" text-anchor="end" fill="#222">50</text>
<line x1="266.2" y1="360.1" x2="268.4" y2="360.1" stroke="#222" stroke-width="0.8"/>
<text x="265.8" y="361.8" font-size="4.8" text-anchor="end" fill="#222">100</text>
<line x1="266.2" y1="339.3" x2="268.4" y2="339.3" stroke="#222" stroke-width="0.8"/>
<text x="265.8" y="341" font-size="4.8" text-anchor="end" fill="#222">150</text>
<line x1="280.6" y1="401.7" x2="280.6" y2="404" stroke="#222" stroke-width="0.8"/>
<line x1="298.5" y1="401.7" x2="298.5" y2="404" stroke="#222" stroke-width="0.8"/>
<text x="282.5" y="408.2" font-size="4.9" font-weight="bold" text-anchor="end" fill="#222" stroke="#222" stroke-width="0.09" transform="rotate(-45 282.5 408.2)">Untreated</text>
<text x="300.4" y="408.2" font-size="4.9" font-weight="bold" text-anchor="end" fill="#222" stroke="#222" stroke-width="0.09" transform="rotate(-45 300.4 408.2)">CDA</text>
<text x="254.9" y="370.4" font-size="5.1" font-weight="bold" text-anchor="middle" fill="#222" stroke="#222" stroke-width="0.09" transform="rotate(-90 254.9 370.4)">CD107a MFI</text>
<line x1="280.6" y1="367.59" x2="280.6" y2="376.74" stroke="#000" stroke-width="0.6"/>
<line x1="278.4" y1="367.59" x2="282.8" y2="367.59" stroke="#000" stroke-width="0.6"/>
<line x1="278.4" y1="376.74" x2="282.8" y2="376.74" stroke="#000" stroke-width="0.6"/>
<circle cx="280.6" cy="365.92" r="1.35" fill="#000"/>
<circle cx="280.6" cy="370.92" r="1.35" fill="#000"/>
<circle cx="280.6" cy="380.48" r="1.35" fill="#000"/>
<line x1="274.6" y1="372.16" x2="286.6" y2="372.16" stroke="#111" stroke-width="0.9"/>
<line x1="298.5" y1="352.82" x2="298.5" y2="357.4" stroke="#f01a1a" stroke-width="0.6"/>
<line x1="296.3" y1="352.82" x2="300.7" y2="352.82" stroke="#f01a1a" stroke-width="0.6"/>
<line x1="296.3" y1="357.4" x2="300.7" y2="357.4" stroke="#f01a1a" stroke-width="0.6"/>
<circle cx="298.5" cy="352.2" r="1.35" fill="#f01a1a"/>
<circle cx="298.5" cy="354.69" r="1.35" fill="#f01a1a"/>
<circle cx="298.5" cy="358.02" r="1.35" fill="#f01a1a"/>
<line x1="292.5" y1="355.11" x2="304.5" y2="355.11" stroke="#111" stroke-width="0.9"/>
<path d="M280.2 343.1V340.6H299.2V343.1" fill="none" stroke="#222" stroke-width="0.6"/>
<text x="290" y="341" font-size="8.5" font-weight="bold" text-anchor="middle" fill="#111" stroke="#111" stroke-width="0.15">*</text>
<text x="334.2" y="198.8" font-size="14.4">C</text>
<rect x="351.9" y="191" width="80.1" height="59.8" fill="#8b8b8b"/>
<path d="M402.3 227.8h1v1h-1zM371.2 238.1h1v1h-1zM378.7 212.5h1v1h-1zM408.5 211.8h1v1h-1zM426.4 218.0h1v1h-1zM381.5 192.7h1v1h-1zM411.5 203.9h1v1h-1zM388.1 230.5h1v1h-1zM388.9 246.5h1v1h-1zM383.2 212.2h1v1h-1zM360.5 193.2h1v1h-1zM361.6 224.6h1v1h-1zM361.4 220.3h1v1h-1zM364.1 237.4h1v1h-1zM355.2 236.4h1v1h-1zM425.4 246.2h1v1h-1zM388.8 238.3h1v1h-1zM365.7 247.0h1v1h-1zM428.7 233.1h1v1h-1zM428.0 227.6h1v1h-1zM428.3 213.8h1v1h-1zM358.7 203.5h1v1h-1zM420.0 240.2h1v1h-1zM382.4 232.7h1v1h-1zM422.8 211.7h1v1h-1zM373.3 248.4h1v1h-1zM381.2 245.0h1v1h-1zM372.2 247.1h1v1h-1zM355.3 211.9h1v1h-1zM386.6 194.6h1v1h-1zM415.9 245.8h1v1h-1zM384.6 231.7h1v1h-1zM373.0 209.2h1v1h-1zM404.7 221.2h1v1h-1zM360.3 248.7h1v1h-1zM429.7 226.8h1v1h-1zM424.6 210.9h1v1h-1zM386.0 228.3h1v1h-1zM358.2 194.1h1v1h-1zM392.4 202.8h1v1h-1zM411.1 228.1h1v1h-1zM384.3 219.6h1v1h-1zM406.3 198.9h1v1h-1zM412.9 239.6h1v1h-1zM368.4 199.1h1v1h-1zM411.2 229.6h1v1h-1zM414.6 249.2h1v1h-1zM408.4 244.9h1v1h-1zM368.5 214.7h1v1h-1zM421.7 232.7h1v1h-1zM402.6 214.4h1v1h-1zM370.7 241.5h1v1h-1zM356.1 243.4h1v1h-1zM417.8 246.0h1v1h-1zM355.3 222.7h1v1h-1zM409.0 214.9h1v1h-1zM426.7 230.2h1v1h-1zM417.7 194.0h1v1h-1zM426.7 201.7h1v1h-1zM376.8 213.6h1v1h-1zM411.7 196.9h1v1h-1zM386.7 241.0h1v1h-1zM397.9 210.1h1v1h-1zM396.5 200.6h1v1h-1zM358.9 217.4h1v1h-1zM371.5 223.7h1v1h-1zM361.3 201.4h1v1h-1zM407.0 237.2h1v1h-1zM363.1 239.5h1v1h-1zM411.9 231.7h1v1h-1zM395.6 198.0h1v1h-1zM375.2 193.0h1v1h-1zM419.8 240.9h1v1h-1zM358.0 241.6h1v1h-1zM370.5 247.2h1v1h-1zM406.6 212.3h1v1h-1zM391.4 228.3h1v1h-1zM390.9 223.9h1v1h-1zM415.4 195.6h1v1h-1zM380.4 245.9h1v1h-1zM405.6 217.8h1v1h-1zM352.4 237.4h1v1h-1zM379.5 220.3h1v1h-1zM370.5 202.2h1v1h-1zM427.9 207.8h1v1h-1zM416.3 197.3h1v1h-1zM415.2 234.0h1v1h-1zM402.2 218.2h1v1h-1zM373.5 197.3h1v1h-1zM398.0 244.6h1v1h-1zM390.6 231.1h1v1h-1zM373.1 222.4h1v1h-1zM417.1 245.2h1v1h-1zM389.7 232.0h1v1h-1zM413.3 227.8h1v1h-1zM373.2 192.5h1v1h-1zM412.7 198.6h1v1h-1zM407.4 212.2h1v1h-1zM404.1 210.4h1v1h-1zM358.7 225.5h1v1h-1zM403.1 233.2h1v1h-1zM381.4 242.5h1v1h-1zM390.3 193.8h1v1h-1zM378.0 201.1h1v1h-1zM361.2 203.5h1v1h-1zM397.9 194.2h1v1h-1zM369.0 201.1h1v1h-1zM375.7 209.6h1v1h-1zM420.9 238.4h1v1h-1zM426.5 194.8h1v1h-1zM371.5 216.2h1v1h-1zM394.4 201.0h1v1h-1zM367.3 244.0h1v1h-1zM391.1 201.1h1v1h-1zM375.5 208.7h1v1h-1zM402.8 205.6h1v1h-1zM359.3 201.4h1v1h-1zM370.8 237.7h1v1h-1zM373.8 246.9h1v1h-1zM369.2 200.0h1v1h-1zM398.9 200.4h1v1h-1zM417.5 235.8h1v1h-1zM396.0 197.3h1v1h-1zM407.6 234.8h1v1h-1zM374.6 211.2h1v1h-1zM397.2 235.2h1v1h-1zM422.4 199.1h1v1h-1zM379.1 197.5h1v1h-1zM353.3 196.8h1v1h-1zM371.1 200.3h1v1h-1zM402.3 239.1h1v1h-1zM405.9 194.3h1v1h-1zM385.3 207.4h1v1h-1zM424.5 200.1h1v1h-1zM365.3 214.7h1v1h-1zM355.0 247.3h1v1h-1zM365.4 229.3h1v1h-1zM415.4 217.9h1v1h-1zM401.2 233.0h1v1h-1zM420.7 218.2h1v1h-1zM363.7 212.9h1v1h-1zM393.1 207.2h1v1h-1zM404.3 220.0h1v1h-1zM424.7 209.0h1v1h-1zM373.4 212.2h1v1h-1zM398.0 220.5h1v1h-1zM392.4 215.0h1v1h-1zM364.0 201.1h1v1h-1zM361.0 232.2h1v1h-1zM414.5 233.8h1v1h-1zM409.0 235.5h1v1h-1zM380.5 198.6h1v1h-1zM401.5 243.3h1v1h-1zM353.8 198.2h1v1h-1zM388.0 246.3h1v1h-1zM387.3 212.5h1v1h-1zM360.7 229.6h1v1h-1zM353.5 218.6h1v1h-1zM382.5 211.4h1v1h-1zM393.4 239.8h1v1h-1z" fill="#6a6a6a" fill-opacity="0.16"/>
<path d="M394.0 213.3h1v1h-1zM367.4 215.1h1v1h-1zM407.6 225.2h1v1h-1zM418.6 198.4h1v1h-1zM375.0 194.1h1v1h-1zM423.4 192.2h1v1h-1zM399.9 214.5h1v1h-1zM352.9 218.4h1v1h-1zM406.7 227.8h1v1h-1zM355.1 215.4h1v1h-1zM390.4 192.8h1v1h-1zM353.1 208.6h1v1h-1zM372.6 223.1h1v1h-1zM355.5 199.9h1v1h-1zM398.5 213.3h1v1h-1zM409.5 221.0h1v1h-1zM380.8 242.4h1v1h-1zM401.7 220.8h1v1h-1zM389.4 234.6h1v1h-1zM412.5 204.8h1v1h-1zM376.1 248.9h1v1h-1zM403.4 245.2h1v1h-1zM394.0 210.1h1v1h-1zM424.2 233.0h1v1h-1zM402.4 248.5h1v1h-1zM417.6 220.7h1v1h-1zM370.2 242.6h1v1h-1zM426.3 241.7h1v1h-1zM384.7 199.2h1v1h-1zM375.3 191.5h1v1h-1zM425.7 217.3h1v1h-1zM408.1 207.5h1v1h-1zM414.0 235.9h1v1h-1zM381.6 246.1h1v1h-1zM359.6 237.1h1v1h-1zM408.4 209.8h1v1h-1zM398.2 228.0h1v1h-1zM396.9 202.0h1v1h-1zM425.3 243.9h1v1h-1zM367.8 202.9h1v1h-1zM360.2 209.4h1v1h-1zM428.2 210.0h1v1h-1zM353.7 207.6h1v1h-1zM368.3 230.7h1v1h-1zM374.6 192.6h1v1h-1zM371.9 246.8h1v1h-1zM394.0 199.6h1v1h-1zM392.1 207.6h1v1h-1zM364.0 236.5h1v1h-1zM409.1 206.7h1v1h-1zM381.3 212.1h1v1h-1zM360.7 218.4h1v1h-1zM396.1 198.6h1v1h-1zM361.1 216.6h1v1h-1zM395.1 248.4h1v1h-1zM371.4 230.3h1v1h-1zM398.9 197.5h1v1h-1zM408.4 207.0h1v1h-1zM424.8 201.1h1v1h-1zM420.3 212.5h1v1h-1zM378.2 245.4h1v1h-1zM395.4 225.3h1v1h-1zM405.3 230.3h1v1h-1zM404.3 227.9h1v1h-1zM376.9 225.3h1v1h-1zM405.3 194.2h1v1h-1zM363.8 231.7h1v1h-1zM380.8 220.3h1v1h-1zM381.6 239.8h1v1h-1zM402.5 191.7h1v1h-1zM430.2 199.0h1v1h-1zM400.8 209.1h1v1h-1zM416.7 241.6h1v1h-1zM385.0 226.0h1v1h-1zM354.3 226.9h1v1h-1zM361.1 227.6h1v1h-1zM397.1 207.7h1v1h-1zM407.2 222.4h1v1h-1zM426.5 229.6h1v1h-1zM377.9 246.9h1v1h-1zM374.5 192.2h1v1h-1zM366.3 238.4h1v1h-1zM426.4 199.7h1v1h-1zM377.4 238.6h1v1h-1zM404.0 240.9h1v1h-1zM412.2 199.0h1v1h-1zM353.7 198.5h1v1h-1zM393.9 236.9h1v1h-1zM382.1 213.0h1v1h-1zM368.8 229.3h1v1h-1zM379.6 234.1h1v1h-1zM426.1 233.3h1v1h-1zM391.2 232.6h1v1h-1zM356.3 207.8h1v1h-1zM371.5 197.5h1v1h-1zM391.4 199.4h1v1h-1zM401.2 240.2h1v1h-1zM357.9 212.1h1v1h-1zM399.8 241.6h1v1h-1zM387.2 228.0h1v1h-1zM380.3 218.4h1v1h-1zM410.5 219.9h1v1h-1zM357.5 228.6h1v1h-1zM371.7 211.4h1v1h-1zM386.4 224.6h1v1h-1zM377.1 216.8h1v1h-1zM393.9 245.3h1v1h-1zM396.9 197.3h1v1h-1zM400.7 227.8h1v1h-1zM373.8 212.1h1v1h-1zM375.1 198.0h1v1h-1zM370.5 237.1h1v1h-1zM384.9 211.2h1v1h-1zM356.3 236.5h1v1h-1zM427.6 215.5h1v1h-1zM395.8 247.0h1v1h-1zM415.3 200.5h1v1h-1zM381.0 238.0h1v1h-1zM376.6 222.5h1v1h-1zM372.4 202.1h1v1h-1z" fill="#b8b8b8" fill-opacity="0.2"/>
<circle cx="365.6" cy="203.9" r="2.1" fill="#5cd85c" fill-opacity="0.3"/>
<circle cx="377.4" cy="205.0" r="2.1" fill="#5cd85c" fill-opacity="0.3"/>
<circle cx="380.5" cy="205.3" r="2.1" fill="#5cd85c" fill-opacity="0.3"/>
<circle cx="387.8" cy="205.3" r="2.1" fill="#5cd85c" fill-opacity="0.3"/>
<circle cx="389.2" cy="202.2" r="2.1" fill="#5cd85c" fill-opacity="0.3"/>
<circle cx="386.9" cy="209.5" r="2.1" fill="#5cd85c" fill-opacity="0.3"/>
<circle cx="353.1" cy="211.1" r="2.1" fill="#5cd85c" fill-opacity="0.3"/>
<circle cx="375.3" cy="212.7" r="2.1" fill="#5cd85c" fill-opacity="0.3"/>
<circle cx="375.7" cy="221.3" r="2.1" fill="#5cd85c" fill-opacity="0.3"/>
<circle cx="364.6" cy="225.9" r="2.1" fill="#5cd85c" fill-opacity="0.3"/>
<circle cx="359.1" cy="228.9" r="2.1" fill="#5cd85c" fill-opacity="0.3"/>
<circle cx="379.5" cy="230.3" r="2.1" fill="#5cd85c" fill-opacity="0.3"/>
<circle cx="375.3" cy="232.0" r="2.1" fill="#5cd85c" fill-opacity="0.3"/>
<circle cx="374.3" cy="234.8" r="2.1" fill="#5cd85c" fill-opacity="0.3"/>
<circle cx="376.3" cy="235.9" r="2.1" fill="#5cd85c" fill-opacity="0.3"/>
<circle cx="373.9" cy="238.0" r="2.1" fill="#5cd85c" fill-opacity="0.3"/>
<circle cx="379.5" cy="234.8" r="2.1" fill="#5cd85c" fill-opacity="0.3"/>
<circle cx="390.3" cy="232.4" r="2.1" fill="#5cd85c" fill-opacity="0.3"/>
<circle cx="353.5" cy="237.0" r="2.1" fill="#5cd85c" fill-opacity="0.3"/>
<circle cx="366.3" cy="243.5" r="2.1" fill="#5cd85c" fill-opacity="0.3"/>
<circle cx="395.2" cy="193.5" r="2.1" fill="#5cd85c" fill-opacity="0.3"/>
<circle cx="393.8" cy="197.0" r="2.1" fill="#5cd85c" fill-opacity="0.3"/>
<circle cx="414.9" cy="193.9" r="2.1" fill="#5cd85c" fill-opacity="0.3"/>
<circle cx="423.3" cy="193.1" r="2.1" fill="#5cd85c" fill-opacity="0.3"/>
<circle cx="428.6" cy="192.1" r="2.1" fill="#5cd85c" fill-opacity="0.3"/>
<circle cx="423.7" cy="197.0" r="2.1" fill="#5cd85c" fill-opacity="0.3"/>
<circle cx="420.9" cy="199.0" r="2.1" fill="#5cd85c" fill-opacity="0.3"/>
<circle cx="403.5" cy="200.4" r="2.1" fill="#5cd85c" fill-opacity="0.3"/>
<circle cx="406.0" cy="201.1" r="2.1" fill="#5cd85c" fill-opacity="0.3"/>
<circle cx="418.1" cy="201.8" r="2.1" fill="#5cd85c" fill-opacity="0.3"/>
<circle cx="414.6" cy="203.9" r="2.1" fill="#5cd85c" fill-opacity="0.3"/>
<circle cx="404.9" cy="204.6" r="2.1" fill="#5cd85c" fill-opacity="0.3"/>
<circle cx="404.2" cy="208.1" r="2.1" fill="#5cd85c" fill-opacity="0.3"/>
<circle cx="407.0" cy="207.4" r="2.1" fill="#5cd85c" fill-opacity="0.3"/>
<circle cx="420.9" cy="207.4" r="2.1" fill="#5cd85c" fill-opacity="0.3"/>
<circle cx="423.0" cy="208.8" r="2.1" fill="#5cd85c" fill-opacity="0.3"/>
<circle cx="415.3" cy="208.8" r="2.1" fill="#5cd85c" fill-opacity="0.3"/>
<circle cx="418.1" cy="210.9" r="2.1" fill="#5cd85c" fill-opacity="0.3"/>
<circle cx="397.3" cy="210.9" r="2.1" fill="#5cd85c" fill-opacity="0.3"/>
<circle cx="416.0" cy="213.6" r="2.1" fill="#5cd85c" fill-opacity="0.3"/>
<circle cx="417.4" cy="215.7" r="2.1" fill="#5cd85c" fill-opacity="0.3"/>
<circle cx="420.2" cy="216.7" r="2.1" fill="#5cd85c" fill-opacity="0.3"/>
<circle cx="396.6" cy="215.7" r="2.1" fill="#5cd85c" fill-opacity="0.3"/>
<circle cx="395.9" cy="217.8" r="2.1" fill="#5cd85c" fill-opacity="0.3"/>
<circle cx="425.1" cy="220.9" r="2.1" fill="#5cd85c" fill-opacity="0.3"/>
<circle cx="430.0" cy="223.4" r="2.1" fill="#5cd85c" fill-opacity="0.3"/>
<circle cx="395.2" cy="223.4" r="2.1" fill="#5cd85c" fill-opacity="0.3"/>
<circle cx="400.0" cy="222.7" r="2.1" fill="#5cd85c" fill-opacity="0.3"/>
<circle cx="401.4" cy="224.8" r="2.1" fill="#5cd85c" fill-opacity="0.3"/>
<circle cx="397.7" cy="227.3" r="2.1" fill="#5cd85c" fill-opacity="0.3"/>
<circle cx="402.1" cy="228.2" r="2.1" fill="#5cd85c" fill-opacity="0.3"/>
<circle cx="430.6" cy="227.3" r="2.1" fill="#5cd85c" fill-opacity="0.3"/>
<circle cx="412.1" cy="231.4" r="2.1" fill="#5cd85c" fill-opacity="0.3"/>
<circle cx="416.0" cy="230.8" r="2.1" fill="#5cd85c" fill-opacity="0.3"/>
<circle cx="413.9" cy="234.2" r="2.1" fill="#5cd85c" fill-opacity="0.3"/>
<circle cx="405.2" cy="234.2" r="2.1" fill="#5cd85c" fill-opacity="0.3"/>
<circle cx="407.7" cy="233.4" r="2.1" fill="#5cd85c" fill-opacity="0.3"/>
<circle cx="391.7" cy="232.4" r="2.1" fill="#5cd85c" fill-opacity="0.3"/>
<circle cx="425.8" cy="240.1" r="2.1" fill="#5cd85c" fill-opacity="0.3"/>
<circle cx="411.9" cy="246.3" r="2.1" fill="#5cd85c" fill-opacity="0.3"/>
<circle cx="423.0" cy="248.4" r="2.1" fill="#5cd85c" fill-opacity="0.3"/>
<circle cx="426.9" cy="249.1" r="2.1" fill="#5cd85c" fill-opacity="0.3"/>
<circle cx="409.8" cy="249.8" r="2.1" fill="#5cd85c" fill-opacity="0.3"/>
<circle cx="365.6" cy="203.9" r="1.35" fill="#5ef25e"/>
<circle cx="377.4" cy="205.0" r="1.35" fill="#5ef25e"/>
<circle cx="380.5" cy="205.3" r="1.35" fill="#5ef25e"/>
<circle cx="387.8" cy="205.3" r="1.35" fill="#5ef25e"/>
<circle cx="389.2" cy="202.2" r="1.35" fill="#5ef25e"/>
<circle cx="386.9" cy="209.5" r="1.35" fill="#5ef25e"/>
<circle cx="353.1" cy="211.1" r="1.35" fill="#5ef25e"/>
<circle cx="375.3" cy="212.7" r="1.35" fill="#5ef25e"/>
<circle cx="375.7" cy="221.3" r="1.35" fill="#5ef25e"/>
<circle cx="364.6" cy="225.9" r="1.35" fill="#5ef25e"/>
<circle cx="359.1" cy="228.9" r="1.35" fill="#5ef25e"/>
<circle cx="379.5" cy="230.3" r="1.35" fill="#5ef25e"/>
<circle cx="375.3" cy="232.0" r="1.35" fill="#5ef25e"/>
<circle cx="374.3" cy="234.8" r="1.35" fill="#5ef25e"/>
<circle cx="376.3" cy="235.9" r="1.35" fill="#5ef25e"/>
<circle cx="373.9" cy="238.0" r="1.35" fill="#5ef25e"/>
<circle cx="379.5" cy="234.8" r="1.35" fill="#5ef25e"/>
<circle cx="390.3" cy="232.4" r="1.35" fill="#5ef25e"/>
<circle cx="353.5" cy="237.0" r="1.35" fill="#5ef25e"/>
<circle cx="366.3" cy="243.5" r="1.35" fill="#5ef25e"/>
<circle cx="395.2" cy="193.5" r="1.35" fill="#5ef25e"/>
<circle cx="393.8" cy="197.0" r="1.35" fill="#5ef25e"/>
<circle cx="414.9" cy="193.9" r="1.35" fill="#5ef25e"/>
<circle cx="423.3" cy="193.1" r="1.35" fill="#5ef25e"/>
<circle cx="428.6" cy="192.1" r="1.35" fill="#5ef25e"/>
<circle cx="423.7" cy="197.0" r="1.35" fill="#5ef25e"/>
<circle cx="420.9" cy="199.0" r="1.35" fill="#5ef25e"/>
<circle cx="403.5" cy="200.4" r="1.35" fill="#5ef25e"/>
<circle cx="406.0" cy="201.1" r="1.35" fill="#5ef25e"/>
<circle cx="418.1" cy="201.8" r="1.35" fill="#5ef25e"/>
<circle cx="414.6" cy="203.9" r="1.35" fill="#5ef25e"/>
<circle cx="404.9" cy="204.6" r="1.35" fill="#5ef25e"/>
<circle cx="404.2" cy="208.1" r="1.35" fill="#5ef25e"/>
<circle cx="407.0" cy="207.4" r="1.35" fill="#5ef25e"/>
<circle cx="420.9" cy="207.4" r="1.35" fill="#5ef25e"/>
<circle cx="423.0" cy="208.8" r="1.35" fill="#5ef25e"/>
<circle cx="415.3" cy="208.8" r="1.35" fill="#5ef25e"/>
<circle cx="418.1" cy="210.9" r="1.35" fill="#5ef25e"/>
<circle cx="397.3" cy="210.9" r="1.35" fill="#5ef25e"/>
<circle cx="416.0" cy="213.6" r="1.35" fill="#5ef25e"/>
<circle cx="417.4" cy="215.7" r="1.35" fill="#5ef25e"/>
<circle cx="420.2" cy="216.7" r="1.35" fill="#5ef25e"/>
<circle cx="396.6" cy="215.7" r="1.35" fill="#5ef25e"/>
<circle cx="395.9" cy="217.8" r="1.35" fill="#5ef25e"/>
<circle cx="425.1" cy="220.9" r="1.35" fill="#5ef25e"/>
<circle cx="430.0" cy="223.4" r="1.35" fill="#5ef25e"/>
<circle cx="395.2" cy="223.4" r="1.35" fill="#5ef25e"/>
<circle cx="400.0" cy="222.7" r="1.35" fill="#5ef25e"/>
<circle cx="401.4" cy="224.8" r="1.35" fill="#5ef25e"/>
<circle cx="397.7" cy="227.3" r="1.35" fill="#5ef25e"/>
<circle cx="402.1" cy="228.2" r="1.35" fill="#5ef25e"/>
<circle cx="430.6" cy="227.3" r="1.35" fill="#5ef25e"/>
<circle cx="412.1" cy="231.4" r="1.35" fill="#5ef25e"/>
<circle cx="416.0" cy="230.8" r="1.35" fill="#5ef25e"/>
<circle cx="413.9" cy="234.2" r="1.35" fill="#5ef25e"/>
<circle cx="405.2" cy="234.2" r="1.35" fill="#5ef25e"/>
<circle cx="407.7" cy="233.4" r="1.35" fill="#5ef25e"/>
<circle cx="391.7" cy="232.4" r="1.35" fill="#5ef25e"/>
<circle cx="425.8" cy="240.1" r="1.35" fill="#5ef25e"/>
<circle cx="411.9" cy="246.3" r="1.35" fill="#5ef25e"/>
<circle cx="423.0" cy="248.4" r="1.35" fill="#5ef25e"/>
<circle cx="426.9" cy="249.1" r="1.35" fill="#5ef25e"/>
<circle cx="409.8" cy="249.8" r="1.35" fill="#5ef25e"/>
<rect x="353.1" y="192.6" width="27.8" height="8.6" fill="#fff"/>
<text x="356.8" y="198.8" font-size="4.75" fill="#111">Untreated</text>
<line x1="416.7" y1="246.4" x2="427.6" y2="246.4" stroke="#2a2a2a" stroke-width="1"/>
<rect x="351.9" y="191" width="80.1" height="59.8" fill="none" stroke="#3c3c3c" stroke-width="0.9"/>
<rect x="434.3" y="191" width="80.2" height="59.8" fill="#9b9b9b"/>
<path d="M474.3 201.2h1v1h-1zM462.3 238.2h1v1h-1zM489.4 201.3h1v1h-1zM504.1 241.3h1v1h-1zM438.0 228.8h1v1h-1zM464.4 196.0h1v1h-1zM459.7 228.8h1v1h-1zM443.3 210.1h1v1h-1zM488.6 205.0h1v1h-1zM503.2 224.6h1v1h-1zM484.1 193.7h1v1h-1zM440.2 226.9h1v1h-1zM448.4 221.8h1v1h-1zM504.9 225.7h1v1h-1zM469.5 197.4h1v1h-1zM444.6 205.8h1v1h-1zM509.5 235.1h1v1h-1zM448.1 194.3h1v1h-1zM510.8 247.3h1v1h-1zM476.4 207.3h1v1h-1zM476.7 243.3h1v1h-1zM454.4 236.8h1v1h-1zM473.6 223.2h1v1h-1zM508.1 192.2h1v1h-1zM458.2 197.3h1v1h-1zM448.2 241.6h1v1h-1zM437.3 246.7h1v1h-1zM462.7 226.5h1v1h-1zM473.3 197.8h1v1h-1zM454.2 203.0h1v1h-1zM460.7 191.9h1v1h-1zM479.9 205.5h1v1h-1zM488.2 223.1h1v1h-1zM500.6 246.9h1v1h-1zM459.8 228.2h1v1h-1zM496.0 209.0h1v1h-1zM481.5 234.0h1v1h-1zM502.1 235.7h1v1h-1zM473.8 220.3h1v1h-1zM464.6 228.6h1v1h-1zM511.5 192.7h1v1h-1zM488.3 233.4h1v1h-1zM468.0 192.6h1v1h-1zM455.8 244.4h1v1h-1zM494.2 230.7h1v1h-1zM508.3 243.3h1v1h-1zM435.8 217.2h1v1h-1zM489.5 237.6h1v1h-1zM471.9 195.3h1v1h-1zM483.1 230.4h1v1h-1zM466.9 193.2h1v1h-1zM449.2 201.3h1v1h-1zM472.3 239.2h1v1h-1zM447.0 211.7h1v1h-1zM451.1 198.9h1v1h-1zM448.0 223.1h1v1h-1zM495.5 246.1h1v1h-1zM506.4 247.3h1v1h-1zM476.2 236.4h1v1h-1zM456.4 228.9h1v1h-1zM501.0 208.2h1v1h-1zM450.6 205.4h1v1h-1zM482.7 230.1h1v1h-1zM468.1 204.4h1v1h-1zM473.4 200.3h1v1h-1zM497.3 240.3h1v1h-1zM443.3 213.2h1v1h-1zM504.4 206.4h1v1h-1zM501.0 243.4h1v1h-1zM490.2 232.0h1v1h-1zM466.5 206.1h1v1h-1zM469.1 196.1h1v1h-1zM444.3 228.5h1v1h-1zM454.4 205.3h1v1h-1zM509.3 231.4h1v1h-1zM473.6 222.0h1v1h-1zM436.8 245.3h1v1h-1zM466.9 207.6h1v1h-1zM448.5 235.2h1v1h-1zM476.9 221.6h1v1h-1zM470.7 247.6h1v1h-1zM511.7 216.8h1v1h-1zM440.9 248.4h1v1h-1zM454.9 239.6h1v1h-1zM435.0 237.3h1v1h-1zM471.5 242.4h1v1h-1zM452.7 225.9h1v1h-1zM511.8 211.4h1v1h-1zM439.9 242.1h1v1h-1zM493.2 191.9h1v1h-1zM462.2 199.9h1v1h-1zM467.0 237.1h1v1h-1zM478.9 215.7h1v1h-1zM472.7 234.9h1v1h-1zM440.4 218.9h1v1h-1zM486.5 229.9h1v1h-1zM473.3 246.5h1v1h-1zM461.4 196.2h1v1h-1zM503.7 243.1h1v1h-1zM484.8 245.8h1v1h-1zM474.5 219.0h1v1h-1zM464.8 215.5h1v1h-1zM466.8 215.2h1v1h-1zM454.8 214.9h1v1h-1zM440.5 196.3h1v1h-1zM487.4 219.8h1v1h-1zM501.8 223.6h1v1h-1zM443.2 225.3h1v1h-1zM488.7 236.4h1v1h-1zM491.8 247.1h1v1h-1zM454.6 223.4h1v1h-1zM456.3 198.8h1v1h-1zM497.1 199.5h1v1h-1zM446.8 214.3h1v1h-1zM450.2 196.4h1v1h-1zM447.0 233.2h1v1h-1zM473.0 246.3h1v1h-1zM455.9 211.7h1v1h-1zM472.0 218.4h1v1h-1zM497.3 238.2h1v1h-1zM477.4 209.9h1v1h-1zM482.0 201.0h1v1h-1zM505.4 197.1h1v1h-1zM478.8 239.1h1v1h-1zM449.2 211.3h1v1h-1zM480.8 238.0h1v1h-1zM512.0 245.8h1v1h-1zM508.6 237.1h1v1h-1zM484.0 197.9h1v1h-1zM509.1 218.2h1v1h-1zM486.8 214.1h1v1h-1zM503.8 230.8h1v1h-1zM491.0 241.8h1v1h-1zM461.1 214.2h1v1h-1zM465.6 211.3h1v1h-1zM434.8 212.7h1v1h-1zM509.4 225.9h1v1h-1zM472.4 244.6h1v1h-1zM474.6 231.9h1v1h-1zM489.2 236.3h1v1h-1zM439.5 238.4h1v1h-1zM463.7 226.5h1v1h-1zM439.3 228.2h1v1h-1zM452.8 210.0h1v1h-1zM499.6 227.7h1v1h-1zM512.8 239.9h1v1h-1zM498.0 215.9h1v1h-1zM461.2 215.0h1v1h-1zM512.3 239.1h1v1h-1zM482.2 213.0h1v1h-1zM495.0 227.3h1v1h-1zM447.6 248.5h1v1h-1zM457.4 229.1h1v1h-1zM475.1 196.6h1v1h-1zM448.7 233.7h1v1h-1zM512.0 214.5h1v1h-1zM467.3 201.3h1v1h-1zM479.0 231.5h1v1h-1zM510.9 202.6h1v1h-1zM503.2 215.4h1v1h-1z" fill="#6a6a6a" fill-opacity="0.16"/>
<path d="M511.3 210.1h1v1h-1zM510.2 203.7h1v1h-1zM506.0 238.2h1v1h-1zM468.9 221.6h1v1h-1zM471.7 215.3h1v1h-1zM492.8 203.1h1v1h-1zM451.9 217.1h1v1h-1zM491.3 213.8h1v1h-1zM495.7 249.0h1v1h-1zM444.7 217.9h1v1h-1zM464.3 201.7h1v1h-1zM479.8 240.9h1v1h-1zM439.8 209.9h1v1h-1zM480.5 198.8h1v1h-1zM463.7 229.6h1v1h-1zM483.5 241.7h1v1h-1zM461.9 213.5h1v1h-1zM492.1 192.9h1v1h-1zM463.5 216.4h1v1h-1zM495.1 230.2h1v1h-1zM493.5 202.4h1v1h-1zM479.7 206.6h1v1h-1zM451.7 249.1h1v1h-1zM449.0 229.7h1v1h-1zM436.8 232.5h1v1h-1zM490.7 233.2h1v1h-1zM488.2 205.3h1v1h-1zM488.7 227.7h1v1h-1zM492.8 227.0h1v1h-1zM483.8 216.0h1v1h-1zM509.7 247.5h1v1h-1zM445.1 236.7h1v1h-1zM482.1 231.6h1v1h-1zM460.1 212.6h1v1h-1zM469.8 206.8h1v1h-1zM441.3 223.1h1v1h-1zM506.0 234.7h1v1h-1zM435.6 206.9h1v1h-1zM508.5 224.1h1v1h-1zM504.6 227.6h1v1h-1zM496.0 235.2h1v1h-1zM504.8 219.0h1v1h-1zM436.5 233.8h1v1h-1zM452.7 207.7h1v1h-1zM503.8 205.8h1v1h-1zM493.8 210.0h1v1h-1zM500.0 203.8h1v1h-1zM446.6 229.1h1v1h-1zM460.3 228.1h1v1h-1zM478.1 248.9h1v1h-1zM503.3 207.2h1v1h-1zM496.5 206.6h1v1h-1zM500.7 210.5h1v1h-1zM487.5 243.0h1v1h-1zM509.0 224.8h1v1h-1zM478.5 236.1h1v1h-1zM449.3 241.6h1v1h-1zM500.5 230.0h1v1h-1zM493.9 237.7h1v1h-1zM465.8 192.2h1v1h-1zM475.3 215.8h1v1h-1zM511.6 217.1h1v1h-1zM492.6 218.6h1v1h-1zM466.3 240.2h1v1h-1zM467.1 219.6h1v1h-1zM452.0 227.7h1v1h-1zM464.5 211.2h1v1h-1zM505.3 208.5h1v1h-1zM512.7 245.3h1v1h-1zM497.0 214.9h1v1h-1zM496.0 223.5h1v1h-1zM495.1 239.2h1v1h-1zM467.4 238.7h1v1h-1zM503.8 209.7h1v1h-1zM445.7 213.1h1v1h-1zM457.3 194.6h1v1h-1zM500.5 235.9h1v1h-1zM451.1 232.3h1v1h-1zM452.6 209.6h1v1h-1zM503.7 219.1h1v1h-1zM472.5 237.0h1v1h-1zM474.3 224.5h1v1h-1zM478.2 227.1h1v1h-1zM476.8 196.0h1v1h-1zM474.2 193.5h1v1h-1zM478.6 238.2h1v1h-1zM488.0 241.8h1v1h-1zM475.9 200.9h1v1h-1zM450.1 215.3h1v1h-1zM475.6 241.2h1v1h-1zM474.2 230.8h1v1h-1zM481.9 238.0h1v1h-1zM478.8 243.0h1v1h-1zM438.6 246.4h1v1h-1zM465.1 194.9h1v1h-1zM442.1 194.3h1v1h-1zM475.9 231.6h1v1h-1zM450.2 209.3h1v1h-1zM506.2 223.2h1v1h-1zM495.7 238.2h1v1h-1zM511.3 203.1h1v1h-1zM475.3 246.5h1v1h-1zM443.8 217.1h1v1h-1zM474.3 240.9h1v1h-1zM484.8 217.6h1v1h-1zM501.1 217.8h1v1h-1zM472.9 197.7h1v1h-1zM498.2 225.3h1v1h-1zM444.8 201.0h1v1h-1zM507.2 198.1h1v1h-1zM461.9 249.1h1v1h-1zM470.5 211.8h1v1h-1zM447.8 226.8h1v1h-1zM441.6 236.9h1v1h-1zM453.3 240.9h1v1h-1zM439.0 199.8h1v1h-1zM466.9 235.5h1v1h-1zM497.6 223.0h1v1h-1zM441.6 232.2h1v1h-1zM507.1 203.9h1v1h-1z" fill="#b8b8b8" fill-opacity="0.2"/>
<path d="M475.7 245.9h.8v.8h-.8zM484.8 193.9h.8v.8h-.8zM463.9 200.3h.8v.8h-.8zM440.2 238.9h.8v.8h-.8zM512.5 205.7h.8v.8h-.8zM479.7 216.1h.8v.8h-.8zM470.2 217.0h.8v.8h-.8zM508.9 233.6h.8v.8h-.8zM490.1 216.8h.8v.8h-.8zM503.9 232.1h.8v.8h-.8zM483.9 225.2h.8v.8h-.8zM453.1 191.4h.8v.8h-.8zM496.2 209.1h.8v.8h-.8zM509.4 215.6h.8v.8h-.8zM452.2 207.3h.8v.8h-.8zM478.2 221.4h.8v.8h-.8zM461.8 245.0h.8v.8h-.8zM448.1 241.3h.8v.8h-.8zM483.0 205.4h.8v.8h-.8zM470.5 238.7h.8v.8h-.8zM469.7 212.2h.8v.8h-.8zM508.7 246.9h.8v.8h-.8zM438.9 208.4h.8v.8h-.8zM460.0 237.5h.8v.8h-.8zM445.6 204.5h.8v.8h-.8zM494.9 243.5h.8v.8h-.8zM498.7 227.7h.8v.8h-.8zM481.5 193.3h.8v.8h-.8zM451.9 249.8h.8v.8h-.8zM477.0 199.2h.8v.8h-.8zM439.7 243.7h.8v.8h-.8zM490.2 231.7h.8v.8h-.8zM438.5 230.1h.8v.8h-.8zM459.5 229.9h.8v.8h-.8zM447.9 214.8h.8v.8h-.8zM473.4 244.1h.8v.8h-.8zM492.8 248.7h.8v.8h-.8zM493.8 202.5h.8v.8h-.8zM486.0 221.8h.8v.8h-.8zM451.2 202.4h.8v.8h-.8zM508.4 229.2h.8v.8h-.8zM455.8 208.4h.8v.8h-.8zM444.5 214.6h.8v.8h-.8zM481.2 199.3h.8v.8h-.8zM479.8 249.2h.8v.8h-.8zM503.0 209.1h.8v.8h-.8zM504.9 192.7h.8v.8h-.8zM435.7 213.7h.8v.8h-.8zM469.8 198.6h.8v.8h-.8zM490.8 225.9h.8v.8h-.8zM474.4 248.0h.8v.8h-.8zM470.9 206.5h.8v.8h-.8zM465.9 222.6h.8v.8h-.8zM487.9 216.0h.8v.8h-.8zM493.2 191.4h.8v.8h-.8zM512.5 201.8h.8v.8h-.8zM483.1 205.8h.8v.8h-.8zM440.0 244.4h.8v.8h-.8zM501.0 243.8h.8v.8h-.8zM463.4 222.2h.8v.8h-.8zM484.1 229.2h.8v.8h-.8zM499.4 225.8h.8v.8h-.8zM445.5 241.7h.8v.8h-.8zM508.7 224.2h.8v.8h-.8zM502.2 223.0h.8v.8h-.8zM437.0 238.3h.8v.8h-.8zM440.3 198.3h.8v.8h-.8zM503.9 248.3h.8v.8h-.8zM437.6 247.3h.8v.8h-.8zM479.1 245.9h.8v.8h-.8zM511.4 196.7h.8v.8h-.8zM503.9 197.7h.8v.8h-.8zM490.4 248.9h.8v.8h-.8zM455.5 243.3h.8v.8h-.8zM454.1 237.8h.8v.8h-.8zM450.5 225.8h.8v.8h-.8zM461.2 245.9h.8v.8h-.8zM501.8 215.5h.8v.8h-.8zM447.1 212.5h.8v.8h-.8zM444.9 233.7h.8v.8h-.8zM482.3 226.8h.8v.8h-.8zM490.2 214.6h.8v.8h-.8zM475.1 242.9h.8v.8h-.8zM487.6 249.4h.8v.8h-.8zM438.5 201.7h.8v.8h-.8zM443.4 249.1h.8v.8h-.8zM467.0 200.4h.8v.8h-.8zM437.1 227.9h.8v.8h-.8zM473.8 205.6h.8v.8h-.8zM481.0 192.3h.8v.8h-.8zM498.0 191.5h.8v.8h-.8zM457.0 238.9h.8v.8h-.8zM442.3 228.5h.8v.8h-.8zM489.1 238.4h.8v.8h-.8zM482.6 246.8h.8v.8h-.8zM441.1 200.7h.8v.8h-.8zM456.0 234.5h.8v.8h-.8zM501.0 240.2h.8v.8h-.8zM447.7 218.2h.8v.8h-.8zM439.7 244.1h.8v.8h-.8zM444.9 210.0h.8v.8h-.8zM437.7 243.7h.8v.8h-.8zM502.8 199.3h.8v.8h-.8zM448.9 244.6h.8v.8h-.8zM446.2 242.6h.8v.8h-.8zM446.3 217.5h.8v.8h-.8zM445.2 214.6h.8v.8h-.8zM436.1 213.0h.8v.8h-.8zM495.2 210.9h.8v.8h-.8zM458.2 235.5h.8v.8h-.8zM460.7 192.0h.8v.8h-.8zM462.1 202.2h.8v.8h-.8zM434.6 216.9h.8v.8h-.8zM477.9 201.5h.8v.8h-.8zM506.5 229.4h.8v.8h-.8zM489.6 240.6h.8v.8h-.8zM440.7 207.8h.8v.8h-.8zM489.6 204.1h.8v.8h-.8zM494.6 196.5h.8v.8h-.8zM478.7 236.1h.8v.8h-.8zM468.2 233.3h.8v.8h-.8zM492.0 197.1h.8v.8h-.8zM512.4 236.3h.8v.8h-.8zM450.0 235.2h.8v.8h-.8zM510.5 212.8h.8v.8h-.8zM463.7 199.9h.8v.8h-.8zM488.1 193.4h.8v.8h-.8zM461.0 230.1h.8v.8h-.8zM483.5 212.3h.8v.8h-.8zM435.2 204.0h.8v.8h-.8zM477.7 226.1h.8v.8h-.8zM450.9 195.5h.8v.8h-.8zM501.2 193.4h.8v.8h-.8zM472.8 198.7h.8v.8h-.8zM451.9 235.9h.8v.8h-.8zM478.4 195.8h.8v.8h-.8zM509.5 249.4h.8v.8h-.8zM474.4 239.7h.8v.8h-.8zM463.8 200.4h.8v.8h-.8zM454.9 230.9h.8v.8h-.8zM494.1 249.4h.8v.8h-.8zM434.5 200.0h.8v.8h-.8zM504.5 245.6h.8v.8h-.8zM512.1 216.8h.8v.8h-.8zM450.1 201.9h.8v.8h-.8zM475.5 210.2h.8v.8h-.8zM502.8 192.8h.8v.8h-.8zM502.7 241.7h.8v.8h-.8zM502.0 210.9h.8v.8h-.8zM486.0 241.8h.8v.8h-.8zM435.9 240.3h.8v.8h-.8zM477.0 230.1h.8v.8h-.8zM452.8 229.0h.8v.8h-.8zM458.8 247.3h.8v.8h-.8zM444.3 225.8h.8v.8h-.8zM497.6 197.9h.8v.8h-.8zM459.4 227.8h.8v.8h-.8zM480.6 236.6h.8v.8h-.8zM467.2 234.9h.8v.8h-.8zM457.0 201.7h.8v.8h-.8zM445.3 249.4h.8v.8h-.8zM494.1 213.5h.8v.8h-.8zM480.9 201.9h.8v.8h-.8zM513.0 224.8h.8v.8h-.8zM512.2 199.8h.8v.8h-.8zM435.2 208.5h.8v.8h-.8zM448.9 193.0h.8v.8h-.8zM462.9 203.6h.8v.8h-.8zM459.0 233.5h.8v.8h-.8zM480.3 202.7h.8v.8h-.8zM478.0 236.0h.8v.8h-.8zM494.8 226.6h.8v.8h-.8zM435.7 199.3h.8v.8h-.8zM479.5 237.4h.8v.8h-.8zM477.8 238.6h.8v.8h-.8zM482.2 213.0h.8v.8h-.8zM498.6 199.2h.8v.8h-.8zM481.3 228.7h.8v.8h-.8zM474.1 203.1h.8v.8h-.8zM480.5 239.0h.8v.8h-.8zM441.7 248.6h.8v.8h-.8zM447.2 214.4h.8v.8h-.8zM461.9 248.2h.8v.8h-.8zM485.8 226.5h.8v.8h-.8zM488.9 241.7h.8v.8h-.8zM484.3 236.9h.8v.8h-.8zM483.9 240.9h.8v.8h-.8zM476.9 249.1h.8v.8h-.8zM451.2 214.2h.8v.8h-.8zM482.5 219.8h.8v.8h-.8zM470.9 231.5h.8v.8h-.8zM436.0 246.5h.8v.8h-.8zM440.8 243.7h.8v.8h-.8zM475.4 211.6h.8v.8h-.8zM439.0 244.4h.8v.8h-.8zM512.9 232.5h.8v.8h-.8zM467.0 193.8h.8v.8h-.8zM468.6 197.4h.8v.8h-.8zM503.6 209.3h.8v.8h-.8zM444.9 213.4h.8v.8h-.8zM510.3 212.2h.8v.8h-.8zM453.7 210.8h.8v.8h-.8zM481.1 229.6h.8v.8h-.8zM457.0 214.9h.8v.8h-.8zM453.7 205.9h.8v.8h-.8zM465.6 248.0h.8v.8h-.8zM477.3 218.3h.8v.8h-.8zM438.2 215.5h.8v.8h-.8zM465.6 218.5h.8v.8h-.8zM477.1 198.4h.8v.8h-.8zM507.7 222.2h.8v.8h-.8zM475.3 220.7h.8v.8h-.8zM471.3 232.6h.8v.8h-.8zM441.3 230.4h.8v.8h-.8zM467.5 228.4h.8v.8h-.8zM490.1 203.0h.8v.8h-.8zM471.0 212.3h.8v.8h-.8zM512.9 209.0h.8v.8h-.8zM498.1 206.2h.8v.8h-.8zM457.5 203.8h.8v.8h-.8z" fill="#5a5a5a" fill-opacity="0.38"/>
<circle cx="450.4" cy="213.6" r="2.1" fill="#5cd85c" fill-opacity="0.3"/>
<circle cx="452.5" cy="213.9" r="2.1" fill="#5cd85c" fill-opacity="0.3"/>
<circle cx="451.1" cy="212.3" r="2.1" fill="#5cd85c" fill-opacity="0.3"/>
<circle cx="460.8" cy="212.3" r="2.1" fill="#5cd85c" fill-opacity="0.3"/>
<circle cx="435.1" cy="219.2" r="2.1" fill="#5cd85c" fill-opacity="0.3"/>
<circle cx="459.4" cy="225.9" r="2.1" fill="#5cd85c" fill-opacity="0.3"/>
<circle cx="473.3" cy="235.2" r="2.1" fill="#5cd85c" fill-opacity="0.3"/>
<circle cx="453.2" cy="243.1" r="2.1" fill="#5cd85c" fill-opacity="0.3"/>
<circle cx="445.8" cy="250.1" r="2.1" fill="#5cd85c" fill-opacity="0.3"/>
<circle cx="492.8" cy="192.5" r="2.1" fill="#5cd85c" fill-opacity="0.3"/>
<circle cx="503.2" cy="196.3" r="2.1" fill="#5cd85c" fill-opacity="0.3"/>
<circle cx="505.7" cy="202.2" r="2.1" fill="#5cd85c" fill-opacity="0.3"/>
<circle cx="509.0" cy="202.8" r="2.1" fill="#5cd85c" fill-opacity="0.3"/>
<circle cx="508.5" cy="217.1" r="2.1" fill="#5cd85c" fill-opacity="0.3"/>
<circle cx="510.4" cy="216.1" r="2.1" fill="#5cd85c" fill-opacity="0.3"/>
<circle cx="512.7" cy="218.5" r="2.1" fill="#5cd85c" fill-opacity="0.3"/>
<circle cx="504.3" cy="219.5" r="2.1" fill="#5cd85c" fill-opacity="0.3"/>
<circle cx="506.3" cy="224.1" r="2.1" fill="#5cd85c" fill-opacity="0.3"/>
<circle cx="499.0" cy="226.2" r="2.1" fill="#5cd85c" fill-opacity="0.3"/>
<circle cx="486.8" cy="231.4" r="2.1" fill="#5cd85c" fill-opacity="0.3"/>
<circle cx="488.6" cy="234.2" r="2.1" fill="#5cd85c" fill-opacity="0.3"/>
<circle cx="475.1" cy="234.8" r="2.1" fill="#5cd85c" fill-opacity="0.3"/>
<circle cx="482.3" cy="237.0" r="2.1" fill="#5cd85c" fill-opacity="0.3"/>
<circle cx="500.7" cy="237.3" r="2.1" fill="#5cd85c" fill-opacity="0.3"/>
<circle cx="476.8" cy="239.0" r="2.1" fill="#5cd85c" fill-opacity="0.3"/>
<circle cx="487.2" cy="239.4" r="2.1" fill="#5cd85c" fill-opacity="0.3"/>
<circle cx="490.0" cy="239.8" r="2.1" fill="#5cd85c" fill-opacity="0.3"/>
<circle cx="476.1" cy="242.6" r="2.1" fill="#5cd85c" fill-opacity="0.3"/>
<circle cx="479.3" cy="242.6" r="2.1" fill="#5cd85c" fill-opacity="0.3"/>
<circle cx="484.4" cy="243.1" r="2.1" fill="#5cd85c" fill-opacity="0.3"/>
<circle cx="486.5" cy="246.3" r="2.1" fill="#5cd85c" fill-opacity="0.3"/>
<circle cx="493.2" cy="246.7" r="2.1" fill="#5cd85c" fill-opacity="0.3"/>
<circle cx="450.4" cy="213.6" r="1.35" fill="#5ef25e"/>
<circle cx="452.5" cy="213.9" r="1.35" fill="#5ef25e"/>
<circle cx="451.1" cy="212.3" r="1.35" fill="#5ef25e"/>
<circle cx="460.8" cy="212.3" r="1.35" fill="#5ef25e"/>
<circle cx="435.1" cy="219.2" r="1.35" fill="#5ef25e"/>
<circle cx="459.4" cy="225.9" r="1.35" fill="#5ef25e"/>
<circle cx="473.3" cy="235.2" r="1.35" fill="#5ef25e"/>
<circle cx="453.2" cy="243.1" r="1.35" fill="#5ef25e"/>
<circle cx="445.8" cy="250.1" r="1.35" fill="#5ef25e"/>
<circle cx="492.8" cy="192.5" r="1.35" fill="#5ef25e"/>
<circle cx="503.2" cy="196.3" r="1.35" fill="#5ef25e"/>
<circle cx="505.7" cy="202.2" r="1.35" fill="#5ef25e"/>
<circle cx="509.0" cy="202.8" r="1.35" fill="#5ef25e"/>
<circle cx="508.5" cy="217.1" r="1.35" fill="#5ef25e"/>
<circle cx="510.4" cy="216.1" r="1.35" fill="#5ef25e"/>
<circle cx="512.7" cy="218.5" r="1.35" fill="#5ef25e"/>
<circle cx="504.3" cy="219.5" r="1.35" fill="#5ef25e"/>
<circle cx="506.3" cy="224.1" r="1.35" fill="#5ef25e"/>
<circle cx="499.0" cy="226.2" r="1.35" fill="#5ef25e"/>
<circle cx="486.8" cy="231.4" r="1.35" fill="#5ef25e"/>
<circle cx="488.6" cy="234.2" r="1.35" fill="#5ef25e"/>
<circle cx="475.1" cy="234.8" r="1.35" fill="#5ef25e"/>
<circle cx="482.3" cy="237.0" r="1.35" fill="#5ef25e"/>
<circle cx="500.7" cy="237.3" r="1.35" fill="#5ef25e"/>
<circle cx="476.8" cy="239.0" r="1.35" fill="#5ef25e"/>
<circle cx="487.2" cy="239.4" r="1.35" fill="#5ef25e"/>
<circle cx="490.0" cy="239.8" r="1.35" fill="#5ef25e"/>
<circle cx="476.1" cy="242.6" r="1.35" fill="#5ef25e"/>
<circle cx="479.3" cy="242.6" r="1.35" fill="#5ef25e"/>
<circle cx="484.4" cy="243.1" r="1.35" fill="#5ef25e"/>
<circle cx="486.5" cy="246.3" r="1.35" fill="#5ef25e"/>
<circle cx="493.2" cy="246.7" r="1.35" fill="#5ef25e"/>
<rect x="435.5" y="192.6" width="18.2" height="8.6" fill="#fff"/>
<text x="439.9" y="198.8" font-size="4.6" fill="#111">CDA</text>
<line x1="499.3" y1="246.5" x2="510.5" y2="246.5" stroke="#2a2a2a" stroke-width="1"/>
<rect x="434.3" y="191" width="80.2" height="59.8" fill="none" stroke="#3c3c3c" stroke-width="0.9"/>
<rect x="351.9" y="253.1" width="80.1" height="59.6" fill="#909090"/>
<path d="M365.8 274.0h1v1h-1zM367.4 271.5h1v1h-1zM422.2 254.7h1v1h-1zM414.0 293.9h1v1h-1zM354.7 255.6h1v1h-1zM395.9 305.3h1v1h-1zM385.2 295.5h1v1h-1zM417.4 310.6h1v1h-1zM402.6 275.1h1v1h-1zM411.2 288.0h1v1h-1zM389.4 301.7h1v1h-1zM385.3 290.7h1v1h-1zM408.0 304.2h1v1h-1zM362.9 301.2h1v1h-1zM423.6 257.9h1v1h-1zM369.7 284.0h1v1h-1zM386.0 305.0h1v1h-1zM357.5 254.5h1v1h-1zM419.1 293.6h1v1h-1zM389.8 270.6h1v1h-1zM394.2 305.3h1v1h-1zM410.2 281.4h1v1h-1zM363.5 273.1h1v1h-1zM388.6 296.0h1v1h-1zM421.5 295.9h1v1h-1zM412.7 303.1h1v1h-1zM396.0 263.4h1v1h-1zM424.8 281.3h1v1h-1zM420.8 289.0h1v1h-1zM396.9 282.5h1v1h-1zM369.3 298.1h1v1h-1zM361.7 287.0h1v1h-1zM365.7 263.2h1v1h-1zM403.9 310.3h1v1h-1zM404.3 277.8h1v1h-1zM375.4 299.7h1v1h-1zM408.7 294.5h1v1h-1zM424.8 268.3h1v1h-1zM427.3 276.3h1v1h-1zM396.6 255.9h1v1h-1zM399.9 303.6h1v1h-1zM376.6 257.5h1v1h-1zM393.6 298.0h1v1h-1zM374.8 268.5h1v1h-1zM363.6 285.0h1v1h-1zM404.6 277.1h1v1h-1zM422.2 283.7h1v1h-1zM425.4 292.3h1v1h-1zM364.9 299.7h1v1h-1zM361.5 302.9h1v1h-1zM396.7 261.0h1v1h-1zM375.6 273.9h1v1h-1zM383.8 267.5h1v1h-1zM358.6 270.2h1v1h-1zM418.2 281.2h1v1h-1zM378.8 264.5h1v1h-1zM428.9 254.7h1v1h-1zM361.4 253.9h1v1h-1zM405.9 260.8h1v1h-1zM357.6 307.4h1v1h-1zM362.7 276.7h1v1h-1zM371.2 308.1h1v1h-1zM403.2 268.9h1v1h-1zM355.0 261.8h1v1h-1zM402.0 273.2h1v1h-1zM403.6 280.4h1v1h-1zM388.4 280.1h1v1h-1zM379.2 274.4h1v1h-1zM363.7 270.4h1v1h-1zM416.6 263.9h1v1h-1zM367.8 290.6h1v1h-1zM406.9 257.7h1v1h-1zM408.0 283.7h1v1h-1zM425.5 254.5h1v1h-1zM368.1 301.6h1v1h-1zM403.0 304.5h1v1h-1zM377.7 309.8h1v1h-1zM384.1 304.3h1v1h-1zM355.3 284.5h1v1h-1zM381.2 282.9h1v1h-1zM423.3 257.0h1v1h-1zM400.5 290.5h1v1h-1zM410.7 304.1h1v1h-1zM377.6 265.4h1v1h-1zM372.2 291.4h1v1h-1zM379.2 269.1h1v1h-1zM359.5 262.5h1v1h-1zM408.9 287.7h1v1h-1zM390.6 281.4h1v1h-1zM353.9 310.9h1v1h-1zM353.7 264.0h1v1h-1zM372.6 282.6h1v1h-1zM419.6 260.0h1v1h-1zM380.7 280.1h1v1h-1zM352.4 297.2h1v1h-1zM373.5 307.6h1v1h-1zM427.2 305.2h1v1h-1zM392.7 265.1h1v1h-1zM359.6 258.7h1v1h-1zM421.7 296.9h1v1h-1zM408.4 267.0h1v1h-1zM364.3 308.6h1v1h-1zM411.0 294.7h1v1h-1zM426.0 276.4h1v1h-1zM404.9 280.5h1v1h-1zM410.2 283.7h1v1h-1zM400.5 307.8h1v1h-1zM382.0 266.9h1v1h-1zM425.6 295.6h1v1h-1zM391.5 265.9h1v1h-1zM403.1 256.6h1v1h-1zM393.8 260.8h1v1h-1zM412.4 264.6h1v1h-1zM383.7 284.7h1v1h-1zM414.9 298.3h1v1h-1zM398.9 261.2h1v1h-1zM405.1 292.8h1v1h-1zM406.2 253.7h1v1h-1zM394.6 265.7h1v1h-1zM354.9 311.1h1v1h-1zM422.1 276.7h1v1h-1zM428.2 287.5h1v1h-1zM355.9 309.5h1v1h-1zM409.0 306.8h1v1h-1zM352.7 270.9h1v1h-1zM364.7 280.0h1v1h-1zM405.2 263.9h1v1h-1zM374.6 260.9h1v1h-1zM422.4 293.1h1v1h-1zM368.7 291.6h1v1h-1zM372.1 264.9h1v1h-1zM369.6 303.5h1v1h-1zM409.9 307.4h1v1h-1zM373.5 261.6h1v1h-1zM395.2 301.4h1v1h-1zM396.6 283.0h1v1h-1zM374.1 304.3h1v1h-1zM378.3 260.1h1v1h-1zM405.6 266.7h1v1h-1zM421.0 302.0h1v1h-1zM364.7 262.3h1v1h-1zM370.6 298.4h1v1h-1zM394.5 286.3h1v1h-1zM356.3 263.5h1v1h-1zM374.3 308.5h1v1h-1zM374.6 299.9h1v1h-1zM396.8 293.4h1v1h-1zM413.6 283.9h1v1h-1zM381.0 275.1h1v1h-1zM364.3 301.2h1v1h-1zM365.6 300.0h1v1h-1zM388.4 309.1h1v1h-1zM383.2 256.3h1v1h-1zM394.8 290.9h1v1h-1zM428.7 259.3h1v1h-1zM412.9 301.8h1v1h-1zM395.1 302.4h1v1h-1zM396.5 310.5h1v1h-1zM414.1 304.9h1v1h-1zM396.2 260.0h1v1h-1z" fill="#6a6a6a" fill-opacity="0.16"/>
<path d="M384.8 305.2h1v1h-1zM401.0 278.2h1v1h-1zM385.4 275.9h1v1h-1zM374.6 270.3h1v1h-1zM353.9 278.9h1v1h-1zM388.4 271.9h1v1h-1zM423.5 255.0h1v1h-1zM418.8 305.3h1v1h-1zM414.7 273.7h1v1h-1zM402.5 292.7h1v1h-1zM364.3 278.6h1v1h-1zM417.3 305.2h1v1h-1zM429.8 284.5h1v1h-1zM388.9 259.2h1v1h-1zM410.1 261.2h1v1h-1zM392.8 291.0h1v1h-1zM389.4 271.2h1v1h-1zM388.8 275.9h1v1h-1zM429.6 255.0h1v1h-1zM395.6 305.7h1v1h-1zM403.0 281.7h1v1h-1zM385.4 272.8h1v1h-1zM370.0 294.3h1v1h-1zM371.8 307.5h1v1h-1zM387.8 270.4h1v1h-1zM363.8 269.7h1v1h-1zM394.9 298.4h1v1h-1zM398.4 266.6h1v1h-1zM419.9 271.7h1v1h-1zM382.6 307.0h1v1h-1zM406.9 287.5h1v1h-1zM407.5 256.6h1v1h-1zM426.9 291.2h1v1h-1zM401.8 277.3h1v1h-1zM378.5 263.3h1v1h-1zM427.9 264.0h1v1h-1zM371.1 292.1h1v1h-1zM393.0 283.2h1v1h-1zM405.7 266.8h1v1h-1zM354.9 271.0h1v1h-1zM393.1 279.8h1v1h-1zM425.4 281.1h1v1h-1zM394.9 257.0h1v1h-1zM384.0 282.9h1v1h-1zM392.5 303.7h1v1h-1zM407.6 298.6h1v1h-1zM380.7 264.3h1v1h-1zM362.7 293.9h1v1h-1zM387.9 280.0h1v1h-1zM356.4 256.2h1v1h-1zM372.1 291.2h1v1h-1zM393.0 265.3h1v1h-1zM356.8 296.0h1v1h-1zM393.7 298.7h1v1h-1zM368.6 307.4h1v1h-1zM357.7 262.3h1v1h-1zM380.8 257.5h1v1h-1zM424.1 306.7h1v1h-1zM413.9 288.9h1v1h-1zM428.9 292.4h1v1h-1zM395.3 303.5h1v1h-1zM406.9 296.2h1v1h-1zM424.5 255.5h1v1h-1zM353.4 290.9h1v1h-1zM354.5 280.0h1v1h-1zM382.0 298.3h1v1h-1zM358.7 293.3h1v1h-1zM372.6 307.0h1v1h-1zM403.8 295.0h1v1h-1zM418.0 304.2h1v1h-1zM419.1 277.3h1v1h-1zM416.6 273.6h1v1h-1zM407.8 274.7h1v1h-1zM368.1 258.1h1v1h-1zM392.8 307.4h1v1h-1zM362.2 265.6h1v1h-1zM366.0 309.1h1v1h-1zM423.1 264.3h1v1h-1zM352.9 254.2h1v1h-1zM364.0 266.7h1v1h-1zM388.6 291.3h1v1h-1zM392.2 299.5h1v1h-1zM375.5 274.5h1v1h-1zM378.0 299.7h1v1h-1zM397.9 304.3h1v1h-1zM377.6 272.1h1v1h-1zM420.4 260.1h1v1h-1zM365.2 297.9h1v1h-1zM385.2 278.1h1v1h-1zM388.3 254.5h1v1h-1zM380.9 280.3h1v1h-1zM398.6 291.2h1v1h-1zM419.7 267.1h1v1h-1zM386.6 285.2h1v1h-1zM360.1 300.9h1v1h-1zM414.0 307.1h1v1h-1zM376.5 286.2h1v1h-1zM392.2 270.8h1v1h-1zM370.5 254.8h1v1h-1zM406.2 268.0h1v1h-1zM399.3 257.8h1v1h-1zM360.3 267.9h1v1h-1zM354.6 295.8h1v1h-1zM380.8 283.7h1v1h-1zM390.9 263.4h1v1h-1zM397.2 310.1h1v1h-1zM400.5 287.7h1v1h-1zM402.6 261.5h1v1h-1zM400.6 305.5h1v1h-1zM375.7 264.6h1v1h-1zM358.2 293.9h1v1h-1zM385.1 260.1h1v1h-1zM355.4 286.4h1v1h-1zM427.2 268.6h1v1h-1zM360.6 276.1h1v1h-1zM427.1 298.4h1v1h-1zM399.3 310.2h1v1h-1zM390.2 277.2h1v1h-1zM371.0 269.7h1v1h-1zM415.1 270.9h1v1h-1z" fill="#b8b8b8" fill-opacity="0.2"/>
<path d="M411.6 267.5h.8v.8h-.8zM365.4 275.0h.8v.8h-.8zM405.1 284.1h.8v.8h-.8zM402.7 259.9h.8v.8h-.8zM420.9 274.6h.8v.8h-.8zM422.8 256.1h.8v.8h-.8zM359.9 282.0h.8v.8h-.8zM418.9 256.8h.8v.8h-.8zM354.2 293.3h.8v.8h-.8zM356.6 256.4h.8v.8h-.8zM401.8 273.6h.8v.8h-.8zM427.3 291.8h.8v.8h-.8zM401.0 310.3h.8v.8h-.8zM404.3 304.6h.8v.8h-.8zM416.8 300.5h.8v.8h-.8zM395.9 276.8h.8v.8h-.8zM362.6 277.0h.8v.8h-.8zM386.3 264.9h.8v.8h-.8zM389.1 306.1h.8v.8h-.8zM389.4 257.3h.8v.8h-.8zM395.3 269.7h.8v.8h-.8zM402.7 270.4h.8v.8h-.8zM414.1 283.6h.8v.8h-.8zM430.4 275.8h.8v.8h-.8zM377.5 265.6h.8v.8h-.8z" fill="#5a5a5a" fill-opacity="0.38"/>
<circle cx="357.7" cy="254.5" r="2.1" fill="#5cd85c" fill-opacity="0.3"/>
<circle cx="385.5" cy="255.1" r="2.1" fill="#5cd85c" fill-opacity="0.3"/>
<circle cx="360.5" cy="272.6" r="2.1" fill="#5cd85c" fill-opacity="0.3"/>
<circle cx="387.4" cy="278.1" r="2.1" fill="#5cd85c" fill-opacity="0.3"/>
<circle cx="390.6" cy="287.5" r="2.1" fill="#5cd85c" fill-opacity="0.3"/>
<circle cx="353.5" cy="297.2" r="2.1" fill="#5cd85c" fill-opacity="0.3"/>
<circle cx="353.5" cy="299.5" r="2.1" fill="#5cd85c" fill-opacity="0.3"/>
<circle cx="391.3" cy="262.8" r="2.1" fill="#5cd85c" fill-opacity="0.3"/>
<circle cx="392.7" cy="262.8" r="2.1" fill="#5cd85c" fill-opacity="0.3"/>
<circle cx="401.8" cy="264.8" r="2.1" fill="#5cd85c" fill-opacity="0.3"/>
<circle cx="402.1" cy="268.0" r="2.1" fill="#5cd85c" fill-opacity="0.3"/>
<circle cx="427.9" cy="254.8" r="2.1" fill="#5cd85c" fill-opacity="0.3"/>
<circle cx="431.0" cy="260.6" r="2.1" fill="#5cd85c" fill-opacity="0.3"/>
<circle cx="430.0" cy="269.8" r="2.1" fill="#5cd85c" fill-opacity="0.3"/>
<circle cx="412.6" cy="302.1" r="2.1" fill="#5cd85c" fill-opacity="0.3"/>
<circle cx="420.5" cy="299.0" r="2.1" fill="#5cd85c" fill-opacity="0.3"/>
<circle cx="421.3" cy="301.8" r="2.1" fill="#5cd85c" fill-opacity="0.3"/>
<circle cx="396.8" cy="306.0" r="2.1" fill="#5cd85c" fill-opacity="0.3"/>
<circle cx="357.7" cy="254.5" r="1.35" fill="#5ef25e"/>
<circle cx="385.5" cy="255.1" r="1.35" fill="#5ef25e"/>
<circle cx="360.5" cy="272.6" r="1.35" fill="#5ef25e"/>
<circle cx="387.4" cy="278.1" r="1.35" fill="#5ef25e"/>
<circle cx="390.6" cy="287.5" r="1.35" fill="#5ef25e"/>
<circle cx="353.5" cy="297.2" r="1.35" fill="#5ef25e"/>
<circle cx="353.5" cy="299.5" r="1.35" fill="#5ef25e"/>
<circle cx="391.3" cy="262.8" r="1.35" fill="#5ef25e"/>
<circle cx="392.7" cy="262.8" r="1.35" fill="#5ef25e"/>
<circle cx="401.8" cy="264.8" r="1.35" fill="#5ef25e"/>
<circle cx="402.1" cy="268.0" r="1.35" fill="#5ef25e"/>
<circle cx="427.9" cy="254.8" r="1.35" fill="#5ef25e"/>
<circle cx="431.0" cy="260.6" r="1.35" fill="#5ef25e"/>
<circle cx="430.0" cy="269.8" r="1.35" fill="#5ef25e"/>
<circle cx="412.6" cy="302.1" r="1.35" fill="#5ef25e"/>
<circle cx="420.5" cy="299.0" r="1.35" fill="#5ef25e"/>
<circle cx="421.3" cy="301.8" r="1.35" fill="#5ef25e"/>
<circle cx="396.8" cy="306.0" r="1.35" fill="#5ef25e"/>
<rect x="353.1" y="254.7" width="30.2" height="8.6" fill="#fff"/>
<text x="357.5" y="260.9" font-size="4.65" fill="#111">Cetuximab</text>
<line x1="417" y1="309.3" x2="428" y2="309.3" stroke="#2a2a2a" stroke-width="1"/>
<rect x="351.9" y="253.1" width="80.1" height="59.6" fill="none" stroke="#3c3c3c" stroke-width="0.9"/>
<rect x="434.3" y="253.1" width="80.2" height="59.6" fill="#9d9d9d"/>
<path d="M471.0 286.5h1v1h-1zM497.8 296.9h1v1h-1zM449.8 262.4h1v1h-1zM493.1 293.2h1v1h-1zM482.9 310.1h1v1h-1zM477.5 270.9h1v1h-1zM460.6 255.5h1v1h-1zM497.8 277.0h1v1h-1zM475.0 262.0h1v1h-1zM506.9 277.5h1v1h-1zM439.2 295.5h1v1h-1zM494.3 258.4h1v1h-1zM487.3 263.1h1v1h-1zM451.2 306.7h1v1h-1zM508.5 257.7h1v1h-1zM442.5 276.8h1v1h-1zM448.3 296.0h1v1h-1zM442.2 268.1h1v1h-1zM487.8 279.0h1v1h-1zM486.1 269.7h1v1h-1zM503.5 294.7h1v1h-1zM469.6 291.5h1v1h-1zM482.5 281.4h1v1h-1zM511.1 299.4h1v1h-1zM489.0 305.5h1v1h-1zM469.9 309.4h1v1h-1zM466.7 283.9h1v1h-1zM485.7 279.2h1v1h-1zM457.0 284.4h1v1h-1zM441.6 283.6h1v1h-1zM499.0 283.2h1v1h-1zM471.7 305.6h1v1h-1zM509.6 279.9h1v1h-1zM500.8 265.5h1v1h-1zM455.9 308.9h1v1h-1zM484.7 275.7h1v1h-1zM447.6 307.9h1v1h-1zM478.3 296.2h1v1h-1zM463.3 295.4h1v1h-1zM487.6 265.2h1v1h-1zM501.3 302.1h1v1h-1zM438.3 264.9h1v1h-1zM453.9 289.9h1v1h-1zM451.4 269.5h1v1h-1zM505.6 269.7h1v1h-1zM442.0 292.4h1v1h-1zM492.8 265.8h1v1h-1zM452.2 281.8h1v1h-1zM437.7 286.9h1v1h-1zM495.2 270.5h1v1h-1zM472.7 267.3h1v1h-1zM435.7 292.6h1v1h-1zM459.2 267.5h1v1h-1zM437.7 308.5h1v1h-1zM498.9 289.2h1v1h-1zM482.5 298.3h1v1h-1zM497.5 284.1h1v1h-1zM479.1 297.4h1v1h-1zM473.2 293.4h1v1h-1zM438.1 255.9h1v1h-1zM496.7 268.5h1v1h-1zM508.8 288.8h1v1h-1zM472.4 277.9h1v1h-1zM443.1 294.6h1v1h-1zM467.7 306.9h1v1h-1zM464.8 268.1h1v1h-1zM450.6 294.9h1v1h-1zM451.6 280.7h1v1h-1zM444.7 297.5h1v1h-1zM506.4 271.2h1v1h-1zM485.2 281.2h1v1h-1zM510.8 306.2h1v1h-1zM443.5 285.1h1v1h-1zM473.8 284.0h1v1h-1zM480.3 267.2h1v1h-1zM451.0 286.7h1v1h-1zM480.1 277.6h1v1h-1zM448.1 285.1h1v1h-1zM494.9 279.4h1v1h-1zM460.7 259.5h1v1h-1zM500.6 269.6h1v1h-1zM509.0 263.6h1v1h-1zM443.8 300.3h1v1h-1zM471.4 305.7h1v1h-1zM448.2 303.1h1v1h-1zM491.8 284.2h1v1h-1zM462.4 268.0h1v1h-1zM471.1 266.2h1v1h-1zM510.6 304.1h1v1h-1zM504.5 273.7h1v1h-1zM467.4 258.3h1v1h-1zM482.1 261.1h1v1h-1zM450.2 307.1h1v1h-1zM482.8 279.4h1v1h-1zM437.7 283.5h1v1h-1zM484.6 269.1h1v1h-1zM496.2 279.6h1v1h-1zM467.4 282.1h1v1h-1zM460.4 281.1h1v1h-1zM466.7 297.6h1v1h-1zM491.2 279.9h1v1h-1zM500.3 302.7h1v1h-1zM484.3 275.7h1v1h-1zM467.2 262.2h1v1h-1zM458.1 260.2h1v1h-1zM489.9 296.4h1v1h-1zM497.0 305.7h1v1h-1zM440.7 302.7h1v1h-1zM463.6 304.2h1v1h-1zM459.8 269.4h1v1h-1zM459.3 280.2h1v1h-1zM456.2 296.4h1v1h-1zM486.4 264.2h1v1h-1zM491.3 307.2h1v1h-1zM505.3 267.0h1v1h-1zM463.6 291.1h1v1h-1zM462.7 261.6h1v1h-1zM455.5 282.5h1v1h-1zM457.7 270.4h1v1h-1zM457.6 307.9h1v1h-1zM465.0 278.8h1v1h-1zM445.0 280.3h1v1h-1zM483.2 299.4h1v1h-1zM447.2 271.4h1v1h-1zM481.4 257.4h1v1h-1zM461.0 264.7h1v1h-1zM501.8 285.8h1v1h-1zM477.8 269.0h1v1h-1zM440.5 280.1h1v1h-1zM457.9 276.7h1v1h-1zM495.5 255.4h1v1h-1zM473.8 308.3h1v1h-1zM500.9 254.0h1v1h-1zM506.3 274.7h1v1h-1zM451.1 297.1h1v1h-1zM472.0 296.0h1v1h-1zM461.3 259.6h1v1h-1zM458.6 295.7h1v1h-1zM462.7 288.8h1v1h-1zM443.1 281.0h1v1h-1zM501.8 304.0h1v1h-1zM473.9 274.0h1v1h-1zM474.3 291.0h1v1h-1zM471.8 268.5h1v1h-1zM489.7 254.1h1v1h-1zM508.6 307.4h1v1h-1zM463.7 285.6h1v1h-1zM439.4 271.9h1v1h-1zM455.6 258.9h1v1h-1zM447.3 281.5h1v1h-1zM501.6 301.2h1v1h-1zM478.8 269.9h1v1h-1zM439.9 280.1h1v1h-1zM437.8 259.7h1v1h-1zM448.8 281.4h1v1h-1zM449.7 283.1h1v1h-1zM478.2 284.9h1v1h-1zM466.4 269.5h1v1h-1zM457.3 299.6h1v1h-1zM475.1 301.0h1v1h-1z" fill="#6a6a6a" fill-opacity="0.16"/>
<path d="M494.7 268.5h1v1h-1zM459.5 255.1h1v1h-1zM449.2 264.0h1v1h-1zM498.5 293.8h1v1h-1zM469.2 285.4h1v1h-1zM459.3 302.3h1v1h-1zM448.4 307.1h1v1h-1zM505.4 310.4h1v1h-1zM448.5 288.8h1v1h-1zM482.3 307.1h1v1h-1zM444.1 287.2h1v1h-1zM439.7 255.3h1v1h-1zM494.0 305.0h1v1h-1zM449.7 309.5h1v1h-1zM484.4 263.2h1v1h-1zM435.7 300.0h1v1h-1zM461.1 307.7h1v1h-1zM457.3 280.4h1v1h-1zM437.7 278.7h1v1h-1zM478.9 293.9h1v1h-1zM440.7 258.3h1v1h-1zM472.2 294.6h1v1h-1zM465.7 286.0h1v1h-1zM502.9 276.5h1v1h-1zM469.6 295.6h1v1h-1zM495.3 287.4h1v1h-1zM467.1 310.6h1v1h-1zM464.7 299.4h1v1h-1zM505.1 304.8h1v1h-1zM438.0 303.6h1v1h-1zM501.1 282.8h1v1h-1zM449.2 298.7h1v1h-1zM473.5 277.3h1v1h-1zM472.5 279.3h1v1h-1zM453.4 288.3h1v1h-1zM511.3 299.8h1v1h-1zM479.2 266.6h1v1h-1zM468.3 306.6h1v1h-1zM452.4 295.6h1v1h-1zM494.9 255.1h1v1h-1zM436.0 255.7h1v1h-1zM436.7 276.2h1v1h-1zM493.9 299.1h1v1h-1zM470.8 294.2h1v1h-1zM458.4 261.3h1v1h-1zM437.2 306.5h1v1h-1zM512.8 283.9h1v1h-1zM443.6 278.6h1v1h-1zM512.8 270.9h1v1h-1zM470.8 292.2h1v1h-1zM475.4 262.4h1v1h-1zM465.7 297.5h1v1h-1zM448.2 273.3h1v1h-1zM493.7 257.6h1v1h-1zM465.6 283.9h1v1h-1zM444.8 258.4h1v1h-1zM447.3 283.5h1v1h-1zM480.3 278.5h1v1h-1zM457.5 260.9h1v1h-1zM480.0 305.9h1v1h-1zM489.2 282.7h1v1h-1zM451.7 297.7h1v1h-1zM443.2 304.1h1v1h-1zM493.4 274.2h1v1h-1zM469.1 294.1h1v1h-1zM511.0 276.7h1v1h-1zM448.1 272.0h1v1h-1zM488.8 279.2h1v1h-1zM481.8 284.8h1v1h-1zM485.8 276.2h1v1h-1zM478.2 283.4h1v1h-1zM495.1 309.7h1v1h-1zM495.3 295.1h1v1h-1zM498.9 256.2h1v1h-1zM498.1 304.7h1v1h-1zM484.6 287.3h1v1h-1zM468.9 282.4h1v1h-1zM435.1 292.6h1v1h-1zM502.8 298.0h1v1h-1zM459.8 256.2h1v1h-1zM435.5 254.0h1v1h-1zM481.2 289.7h1v1h-1zM495.2 253.8h1v1h-1zM481.2 279.1h1v1h-1zM487.4 286.2h1v1h-1zM504.1 282.6h1v1h-1zM471.7 271.0h1v1h-1zM502.0 291.0h1v1h-1zM457.9 272.3h1v1h-1zM513.0 297.9h1v1h-1zM507.9 308.3h1v1h-1zM460.6 271.7h1v1h-1zM456.4 305.5h1v1h-1zM440.9 281.0h1v1h-1zM481.8 300.4h1v1h-1zM467.3 260.0h1v1h-1zM508.8 256.9h1v1h-1zM473.6 277.5h1v1h-1zM475.9 272.5h1v1h-1zM461.8 309.3h1v1h-1zM444.7 253.7h1v1h-1zM480.5 254.1h1v1h-1zM435.0 279.0h1v1h-1zM481.3 276.9h1v1h-1zM508.9 261.3h1v1h-1zM441.7 297.0h1v1h-1zM466.9 263.6h1v1h-1zM465.1 294.8h1v1h-1zM493.4 285.5h1v1h-1zM454.4 291.0h1v1h-1zM494.5 301.9h1v1h-1zM506.8 267.6h1v1h-1zM476.0 309.3h1v1h-1zM501.8 277.5h1v1h-1zM469.8 286.3h1v1h-1zM443.3 306.2h1v1h-1zM488.1 258.0h1v1h-1zM455.9 274.1h1v1h-1zM459.7 300.3h1v1h-1zM477.0 290.8h1v1h-1z" fill="#b8b8b8" fill-opacity="0.2"/>
<path d="M502.8 262.2h.8v.8h-.8zM478.7 310.7h.8v.8h-.8zM484.4 283.9h.8v.8h-.8zM505.2 296.6h.8v.8h-.8zM498.6 274.7h.8v.8h-.8zM484.2 272.1h.8v.8h-.8zM512.0 285.8h.8v.8h-.8zM475.4 303.4h.8v.8h-.8zM477.9 304.4h.8v.8h-.8zM493.7 268.5h.8v.8h-.8zM468.8 277.2h.8v.8h-.8zM480.8 310.5h.8v.8h-.8zM512.2 276.6h.8v.8h-.8zM489.8 268.5h.8v.8h-.8zM511.2 284.2h.8v.8h-.8zM498.3 271.1h.8v.8h-.8zM473.2 292.9h.8v.8h-.8zM504.9 280.3h.8v.8h-.8zM482.5 273.7h.8v.8h-.8zM469.3 276.9h.8v.8h-.8zM483.7 266.5h.8v.8h-.8zM500.4 282.9h.8v.8h-.8zM470.9 263.4h.8v.8h-.8zM478.5 266.2h.8v.8h-.8zM490.8 281.8h.8v.8h-.8zM479.1 307.7h.8v.8h-.8zM496.3 269.0h.8v.8h-.8zM486.1 268.0h.8v.8h-.8zM488.4 305.8h.8v.8h-.8zM482.0 272.5h.8v.8h-.8zM481.3 295.4h.8v.8h-.8zM479.9 270.6h.8v.8h-.8zM509.7 296.7h.8v.8h-.8zM473.1 308.9h.8v.8h-.8zM494.0 270.9h.8v.8h-.8zM501.1 289.9h.8v.8h-.8zM479.9 299.6h.8v.8h-.8zM478.7 264.3h.8v.8h-.8zM502.6 275.5h.8v.8h-.8zM468.6 272.6h.8v.8h-.8zM490.6 278.5h.8v.8h-.8zM474.0 264.4h.8v.8h-.8zM471.5 301.5h.8v.8h-.8zM474.1 293.4h.8v.8h-.8zM485.1 269.6h.8v.8h-.8zM489.0 290.1h.8v.8h-.8zM506.3 278.0h.8v.8h-.8zM491.2 309.9h.8v.8h-.8zM468.3 295.3h.8v.8h-.8zM492.3 286.2h.8v.8h-.8zM493.1 282.7h.8v.8h-.8zM476.0 280.4h.8v.8h-.8zM472.6 267.3h.8v.8h-.8zM510.0 265.8h.8v.8h-.8zM497.5 302.4h.8v.8h-.8zM489.8 295.1h.8v.8h-.8zM468.1 278.3h.8v.8h-.8zM485.1 265.9h.8v.8h-.8zM509.0 297.2h.8v.8h-.8zM499.2 300.0h.8v.8h-.8zM473.0 294.8h.8v.8h-.8zM511.6 271.0h.8v.8h-.8zM483.6 275.3h.8v.8h-.8zM490.3 276.8h.8v.8h-.8zM483.3 287.3h.8v.8h-.8zM489.8 303.7h.8v.8h-.8zM498.3 298.2h.8v.8h-.8zM473.7 296.4h.8v.8h-.8zM495.7 271.3h.8v.8h-.8zM503.1 296.3h.8v.8h-.8zM475.7 264.1h.8v.8h-.8zM471.7 309.8h.8v.8h-.8zM475.6 305.8h.8v.8h-.8zM509.6 285.5h.8v.8h-.8zM483.2 295.7h.8v.8h-.8zM511.5 276.4h.8v.8h-.8zM490.8 297.7h.8v.8h-.8zM483.5 271.8h.8v.8h-.8zM512.7 295.6h.8v.8h-.8zM499.2 300.6h.8v.8h-.8zM506.9 274.1h.8v.8h-.8zM474.6 278.3h.8v.8h-.8zM469.2 269.2h.8v.8h-.8zM485.5 305.7h.8v.8h-.8zM511.9 278.9h.8v.8h-.8zM498.0 286.5h.8v.8h-.8zM475.9 303.0h.8v.8h-.8zM470.4 296.5h.8v.8h-.8zM510.4 285.9h.8v.8h-.8zM472.9 278.9h.8v.8h-.8zM485.0 300.6h.8v.8h-.8zM471.9 290.3h.8v.8h-.8zM501.7 295.1h.8v.8h-.8zM474.7 278.7h.8v.8h-.8zM506.8 292.6h.8v.8h-.8zM504.7 302.5h.8v.8h-.8zM495.0 309.5h.8v.8h-.8zM485.7 278.0h.8v.8h-.8zM494.2 287.0h.8v.8h-.8zM473.8 290.0h.8v.8h-.8zM476.4 266.0h.8v.8h-.8zM506.3 273.2h.8v.8h-.8zM491.9 285.7h.8v.8h-.8zM510.7 266.4h.8v.8h-.8zM500.0 295.8h.8v.8h-.8zM505.4 265.6h.8v.8h-.8zM472.6 286.8h.8v.8h-.8zM473.8 292.1h.8v.8h-.8zM486.5 294.7h.8v.8h-.8zM476.3 308.5h.8v.8h-.8zM489.6 304.1h.8v.8h-.8zM488.8 265.6h.8v.8h-.8zM503.2 299.2h.8v.8h-.8zM506.8 299.4h.8v.8h-.8zM492.8 290.5h.8v.8h-.8zM476.2 304.1h.8v.8h-.8zM498.1 270.8h.8v.8h-.8zM478.8 288.3h.8v.8h-.8zM506.1 268.2h.8v.8h-.8zM489.7 296.0h.8v.8h-.8zM472.7 274.8h.8v.8h-.8zM511.0 306.1h.8v.8h-.8zM495.7 288.8h.8v.8h-.8zM474.9 269.9h.8v.8h-.8zM480.0 272.6h.8v.8h-.8zM478.4 262.4h.8v.8h-.8zM470.0 301.1h.8v.8h-.8zM502.2 286.2h.8v.8h-.8zM502.9 289.1h.8v.8h-.8zM468.2 289.6h.8v.8h-.8zM496.6 275.6h.8v.8h-.8zM468.1 295.3h.8v.8h-.8zM501.2 298.8h.8v.8h-.8zM508.2 310.7h.8v.8h-.8zM485.6 262.8h.8v.8h-.8zM475.9 267.0h.8v.8h-.8zM491.5 290.6h.8v.8h-.8zM483.4 265.5h.8v.8h-.8zM499.8 289.7h.8v.8h-.8zM491.1 292.2h.8v.8h-.8zM468.7 296.0h.8v.8h-.8zM500.0 289.0h.8v.8h-.8zM468.4 272.1h.8v.8h-.8zM490.8 289.7h.8v.8h-.8zM501.8 304.7h.8v.8h-.8zM488.1 295.0h.8v.8h-.8zM486.1 265.8h.8v.8h-.8zM507.8 301.8h.8v.8h-.8zM493.5 272.8h.8v.8h-.8zM504.3 283.0h.8v.8h-.8zM503.5 288.8h.8v.8h-.8zM479.4 264.6h.8v.8h-.8zM495.7 272.1h.8v.8h-.8zM469.6 283.8h.8v.8h-.8zM501.6 306.5h.8v.8h-.8zM493.3 262.9h.8v.8h-.8zM471.6 295.2h.8v.8h-.8zM468.4 300.5h.8v.8h-.8zM472.0 307.6h.8v.8h-.8zM481.1 264.9h.8v.8h-.8zM485.3 265.4h.8v.8h-.8zM496.2 298.7h.8v.8h-.8zM507.8 307.8h.8v.8h-.8zM474.8 300.7h.8v.8h-.8zM512.5 297.9h.8v.8h-.8zM478.7 304.1h.8v.8h-.8zM500.8 285.7h.8v.8h-.8zM470.6 304.2h.8v.8h-.8zM494.0 262.9h.8v.8h-.8zM494.4 275.3h.8v.8h-.8zM470.8 278.0h.8v.8h-.8zM485.5 301.7h.8v.8h-.8zM491.6 276.9h.8v.8h-.8zM510.1 285.4h.8v.8h-.8zM510.2 275.8h.8v.8h-.8zM493.4 272.9h.8v.8h-.8zM493.6 279.0h.8v.8h-.8zM470.4 281.5h.8v.8h-.8zM499.4 297.3h.8v.8h-.8zM470.9 286.5h.8v.8h-.8zM511.0 309.4h.8v.8h-.8zM485.5 307.8h.8v.8h-.8zM477.3 304.1h.8v.8h-.8zM498.8 276.7h.8v.8h-.8zM472.4 301.1h.8v.8h-.8zM471.1 300.1h.8v.8h-.8zM468.7 301.8h.8v.8h-.8zM496.7 271.8h.8v.8h-.8zM487.2 268.0h.8v.8h-.8zM488.4 285.3h.8v.8h-.8zM509.5 307.8h.8v.8h-.8zM477.8 281.4h.8v.8h-.8zM484.9 276.4h.8v.8h-.8zM505.7 297.7h.8v.8h-.8zM505.6 288.9h.8v.8h-.8zM482.3 289.8h.8v.8h-.8zM474.9 283.4h.8v.8h-.8zM480.8 275.3h.8v.8h-.8zM508.5 262.2h.8v.8h-.8zM468.4 306.2h.8v.8h-.8zM492.4 277.4h.8v.8h-.8zM505.9 311.3h.8v.8h-.8zM487.3 309.2h.8v.8h-.8zM501.1 279.7h.8v.8h-.8zM485.4 265.1h.8v.8h-.8zM484.4 287.7h.8v.8h-.8zM504.2 309.8h.8v.8h-.8zM507.7 289.1h.8v.8h-.8zM478.0 287.3h.8v.8h-.8zM506.8 308.3h.8v.8h-.8zM499.7 287.8h.8v.8h-.8zM475.4 295.5h.8v.8h-.8zM510.1 298.4h.8v.8h-.8zM472.1 272.0h.8v.8h-.8zM477.0 287.6h.8v.8h-.8zM506.2 281.4h.8v.8h-.8zM505.4 264.9h.8v.8h-.8zM498.2 274.9h.8v.8h-.8zM475.2 262.3h.8v.8h-.8zM494.3 279.1h.8v.8h-.8zM492.5 265.8h.8v.8h-.8zM502.4 300.3h.8v.8h-.8zM513.0 300.5h.8v.8h-.8zM470.0 280.7h.8v.8h-.8zM502.6 309.9h.8v.8h-.8zM494.1 286.2h.8v.8h-.8zM500.3 304.0h.8v.8h-.8zM494.4 287.3h.8v.8h-.8zM484.3 285.6h.8v.8h-.8zM481.4 276.7h.8v.8h-.8z" fill="#5a5a5a" fill-opacity="0.38"/>
<circle cx="458.7" cy="266.6" r="2.1" fill="#5cd85c" fill-opacity="0.3"/>
<circle cx="456.9" cy="277.3" r="2.1" fill="#5cd85c" fill-opacity="0.3"/>
<circle cx="462.9" cy="282.9" r="2.1" fill="#5cd85c" fill-opacity="0.3"/>
<circle cx="464.3" cy="281.2" r="2.1" fill="#5cd85c" fill-opacity="0.3"/>
<circle cx="466.7" cy="286.1" r="2.1" fill="#5cd85c" fill-opacity="0.3"/>
<circle cx="511.3" cy="256.2" r="2.1" fill="#5cd85c" fill-opacity="0.3"/>
<circle cx="481.6" cy="275.0" r="2.1" fill="#5cd85c" fill-opacity="0.3"/>
<circle cx="509.9" cy="291.6" r="2.1" fill="#5cd85c" fill-opacity="0.3"/>
<circle cx="480.3" cy="297.9" r="2.1" fill="#5cd85c" fill-opacity="0.3"/>
<circle cx="484.4" cy="295.8" r="2.1" fill="#5cd85c" fill-opacity="0.3"/>
<circle cx="483.0" cy="297.9" r="2.1" fill="#5cd85c" fill-opacity="0.3"/>
<circle cx="481.2" cy="301.0" r="2.1" fill="#5cd85c" fill-opacity="0.3"/>
<circle cx="512.2" cy="310.1" r="2.1" fill="#5cd85c" fill-opacity="0.3"/>
<circle cx="512.2" cy="311.8" r="2.1" fill="#5cd85c" fill-opacity="0.3"/>
<circle cx="458.7" cy="266.6" r="1.35" fill="#5ef25e"/>
<circle cx="456.9" cy="277.3" r="1.35" fill="#5ef25e"/>
<circle cx="462.9" cy="282.9" r="1.35" fill="#5ef25e"/>
<circle cx="464.3" cy="281.2" r="1.35" fill="#5ef25e"/>
<circle cx="466.7" cy="286.1" r="1.35" fill="#5ef25e"/>
<circle cx="511.3" cy="256.2" r="1.35" fill="#5ef25e"/>
<circle cx="481.6" cy="275.0" r="1.35" fill="#5ef25e"/>
<circle cx="509.9" cy="291.6" r="1.35" fill="#5ef25e"/>
<circle cx="480.3" cy="297.9" r="1.35" fill="#5ef25e"/>
<circle cx="484.4" cy="295.8" r="1.35" fill="#5ef25e"/>
<circle cx="483.0" cy="297.9" r="1.35" fill="#5ef25e"/>
<circle cx="481.2" cy="301.0" r="1.35" fill="#5ef25e"/>
<circle cx="512.2" cy="310.1" r="1.35" fill="#5ef25e"/>
<circle cx="512.2" cy="311.8" r="1.35" fill="#5ef25e"/>
<rect x="435.5" y="254.7" width="43.6" height="8.6" fill="#fff"/>
<text x="439.9" y="260.9" font-size="4.6" fill="#111">CDA + cetuximab</text>
<line x1="499.3" y1="309.3" x2="510.5" y2="309.3" stroke="#2a2a2a" stroke-width="1"/>
<rect x="434.3" y="253.1" width="80.2" height="59.6" fill="none" stroke="#3c3c3c" stroke-width="0.9"/>
<line x1="373.3" y1="342.8" x2="373.3" y2="410.4" stroke="#333" stroke-width="0.9"/>
<line x1="372.9" y1="410" x2="473.5" y2="410" stroke="#333" stroke-width="0.9"/>
<line x1="371" y1="410" x2="373.3" y2="410" stroke="#333" stroke-width="0.8"/>
<text x="370.2" y="411.7" font-size="4.8" text-anchor="end" fill="#222" font-weight="bold">0</text>
<line x1="371" y1="396.64" x2="373.3" y2="396.64" stroke="#333" stroke-width="0.8"/>
<text x="370.2" y="398.34" font-size="4.8" text-anchor="end" fill="#222" font-weight="bold">20</text>
<line x1="371" y1="383.28" x2="373.3" y2="383.28" stroke="#333" stroke-width="0.8"/>
<text x="370.2" y="384.98" font-size="4.8" text-anchor="end" fill="#222" font-weight="bold">40</text>
<line x1="371" y1="369.92" x2="373.3" y2="369.92" stroke="#333" stroke-width="0.8"/>
<text x="370.2" y="371.62" font-size="4.8" text-anchor="end" fill="#222" font-weight="bold">60</text>
<line x1="371" y1="356.56" x2="373.3" y2="356.56" stroke="#333" stroke-width="0.8"/>
<text x="370.2" y="358.26" font-size="4.8" text-anchor="end" fill="#222" font-weight="bold">80</text>
<line x1="371" y1="343.2" x2="373.3" y2="343.2" stroke="#333" stroke-width="0.8"/>
<text x="370.2" y="344.9" font-size="4.8" text-anchor="end" fill="#222" font-weight="bold">100</text>
<text x="358.6" y="377.6" font-size="5.9" font-weight="bold" text-anchor="middle" fill="#222" stroke="#222" stroke-width="0.11" transform="rotate(-90 358.6 377.6)">%Lysis</text>
<line x1="379.85" y1="381.94" x2="379.85" y2="372" stroke="#111" stroke-width="0.8"/>
<line x1="378.55" y1="372" x2="381.15" y2="372" stroke="#111" stroke-width="0.8"/>
<rect x="377.3" y="382.54" width="5.1" height="27.46" fill="#fff" stroke="#111" stroke-width="1.2"/>
<circle cx="379.7" cy="374.3" r="1.4" fill="#111"/>
<circle cx="378.6" cy="384.5" r="1.4" fill="#111"/>
<circle cx="381.4" cy="386.2" r="1.4" fill="#111"/>
<line x1="389.35" y1="389.29" x2="389.35" y2="383" stroke="#f01a1a" stroke-width="0.8"/>
<line x1="388.05" y1="383" x2="390.65" y2="383" stroke="#f01a1a" stroke-width="0.8"/>
<rect x="386.8" y="389.89" width="5.1" height="20.11" fill="#fff" stroke="#f01a1a" stroke-width="1.2"/>
<circle cx="389.4" cy="383.2" r="1.4" fill="#f01a1a"/>
<circle cx="389.4" cy="387.6" r="1.4" fill="#f01a1a"/>
<circle cx="389.4" cy="394" r="1.4" fill="#f01a1a"/>
<line x1="405.55" y1="365.91" x2="405.55" y2="361" stroke="#111" stroke-width="0.8"/>
<line x1="404.25" y1="361" x2="406.85" y2="361" stroke="#111" stroke-width="0.8"/>
<rect x="403" y="366.51" width="5.1" height="43.49" fill="#fff" stroke="#111" stroke-width="1.2"/>
<circle cx="405" cy="361.8" r="1.4" fill="#111"/>
<circle cx="407.5" cy="362.8" r="1.4" fill="#111"/>
<circle cx="405.5" cy="369.6" r="1.4" fill="#111"/>
<line x1="415.3" y1="377.27" x2="415.3" y2="368" stroke="#f01a1a" stroke-width="0.8"/>
<line x1="414" y1="368" x2="416.6" y2="368" stroke="#f01a1a" stroke-width="0.8"/>
<rect x="412.6" y="377.87" width="5.4" height="32.13" fill="#fff" stroke="#f01a1a" stroke-width="1.2"/>
<circle cx="415.2" cy="368.2" r="1.4" fill="#f01a1a"/>
<circle cx="413.5" cy="378.7" r="1.4" fill="#f01a1a"/>
<circle cx="417" cy="382.7" r="1.4" fill="#f01a1a"/>
<line x1="431.7" y1="351.22" x2="431.7" y2="346.1" stroke="#111" stroke-width="0.8"/>
<line x1="430.4" y1="346.1" x2="433" y2="346.1" stroke="#111" stroke-width="0.8"/>
<rect x="429.2" y="351.82" width="5" height="58.18" fill="#fff" stroke="#111" stroke-width="1.2"/>
<circle cx="431.4" cy="346.1" r="1.4" fill="#111"/>
<circle cx="431.5" cy="354.5" r="1.4" fill="#111"/>
<circle cx="433.5" cy="353" r="1.4" fill="#111"/>
<line x1="441.05" y1="375.26" x2="441.05" y2="369" stroke="#f01a1a" stroke-width="0.8"/>
<line x1="439.75" y1="369" x2="442.35" y2="369" stroke="#f01a1a" stroke-width="0.8"/>
<rect x="438.7" y="375.86" width="4.7" height="34.14" fill="#fff" stroke="#f01a1a" stroke-width="1.2"/>
<circle cx="441" cy="369.4" r="1.4" fill="#f01a1a"/>
<circle cx="441" cy="374.7" r="1.4" fill="#f01a1a"/>
<circle cx="441" cy="380.4" r="1.4" fill="#f01a1a"/>
<line x1="457.4" y1="349.88" x2="457.4" y2="343.2" stroke="#999" stroke-width="0.8"/>
<line x1="456.1" y1="343.2" x2="458.7" y2="343.2" stroke="#999" stroke-width="0.8"/>
<rect x="454.9" y="350.48" width="5" height="59.52" fill="#fff" stroke="#111" stroke-width="1.2"/>
<circle cx="456.5" cy="351.8" r="1.4" fill="#111"/>
<circle cx="456.5" cy="355.8" r="1.4" fill="#111"/>
<line x1="466.75" y1="375.26" x2="466.75" y2="367" stroke="#f01a1a" stroke-width="0.8"/>
<line x1="465.45" y1="367" x2="468.05" y2="367" stroke="#f01a1a" stroke-width="0.8"/>
<rect x="464.3" y="375.86" width="4.9" height="34.14" fill="#fff" stroke="#f01a1a" stroke-width="1.2"/>
<circle cx="466.7" cy="367.1" r="1.4" fill="#f01a1a"/>
<circle cx="466.7" cy="374.7" r="1.4" fill="#f01a1a"/>
<circle cx="466.7" cy="380.4" r="1.4" fill="#f01a1a"/>
<line x1="384.8" y1="410" x2="384.8" y2="412" stroke="#333" stroke-width="0.8"/>
<line x1="410.9" y1="410" x2="410.9" y2="412" stroke="#333" stroke-width="0.8"/>
<line x1="436.3" y1="410" x2="436.3" y2="412" stroke="#333" stroke-width="0.8"/>
<line x1="461.8" y1="410" x2="461.8" y2="412" stroke="#333" stroke-width="0.8"/>
<text x="387.2" y="416" font-size="5.3" font-weight="bold" text-anchor="end" fill="#222" stroke="#222" stroke-width="0.10" transform="rotate(-45 387.2 416)">Untreated</text>
<text x="413.2" y="416" font-size="5.3" font-weight="bold" text-anchor="end" fill="#222" stroke="#222" stroke-width="0.10" transform="rotate(-45 413.2 416)">CDA</text>
<text x="439" y="416" font-size="5.3" font-weight="bold" text-anchor="end" fill="#222" stroke="#222" stroke-width="0.10" transform="rotate(-45 439 416)">Cetuximab</text>
<text x="465" y="416" font-size="5.3" font-weight="bold" text-anchor="end" fill="#222" stroke="#222" stroke-width="0.10" transform="rotate(-45 465 416)">CDA + cetuximab</text>
<path d="M379.3 334.6V330.4H457.2V334.6" fill="none" stroke="#222" stroke-width="1.1"/>
<text x="416.4" y="329.4" font-size="7.4" font-weight="bold" text-anchor="middle" fill="#111" stroke="#111" stroke-width="0.13" letter-spacing="0.9">***</text>
<path d="M379.3 342.4V338.6H431.8V342.4" fill="none" stroke="#222" stroke-width="1.1"/>
<text x="405.9" y="338.4" font-size="7.4" font-weight="bold" text-anchor="middle" fill="#111" stroke="#111" stroke-width="0.13" letter-spacing="0.9">***</text>
<path d="M379.3 354.6V350.8H406.2V354.6" fill="none" stroke="#222" stroke-width="1.1"/>
<text x="393.4" y="350.4" font-size="7.4" font-weight="bold" text-anchor="middle" fill="#111" stroke="#111" stroke-width="0.13" letter-spacing="0.9">*</text>
<circle cx="478.5" cy="343.3" r="1.2" fill="#111"/>
<rect x="477.3" y="350.7" width="2.4" height="2.4" fill="#f01a1a"/>
<text x="486" y="345.3" font-size="5.6" fill="#222" stroke="#222" stroke-width="0.13" textLength="30.3" lengthAdjust="spacingAndGlyphs">UM-SCC-47</text>
<text x="486" y="353.9" font-size="5.6" fill="#222" stroke="#222" stroke-width="0.13">UM-SCC-81B</text>
</svg>
</body></html>
